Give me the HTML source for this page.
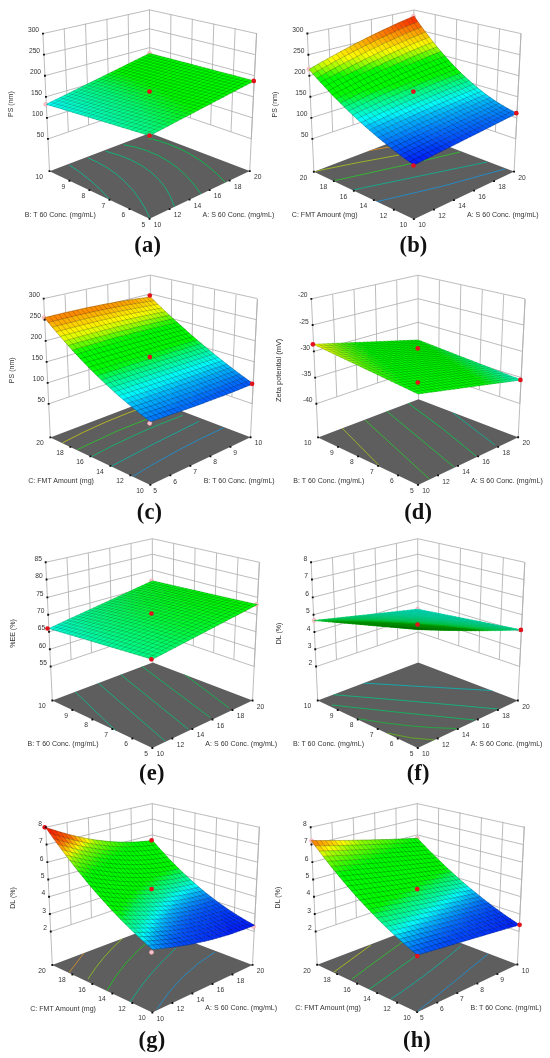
<!DOCTYPE html>
<html><head><meta charset="utf-8"><title>Figure</title>
<style>html,body{margin:0;padding:0;background:#fff}svg{display:block}</style></head>
<body><svg width="550" height="1058" viewBox="0 0 550 1058" font-family="'Liberation Sans',sans-serif">
<rect width="550" height="1058" fill="#fff"/>
<g id="pa"><path d="M42.9 33.6L149.5 9.9M149.5 9.9L256.6 33.6M43.9 54.7L149.6 28.8M149.6 28.8L255.5 54.7M44.9 75.7L149.7 47.6M149.7 47.6L254.5 75.7M45.9 96.8L149.7 66.5M149.7 66.5L253.4 96.8M47 117.9L149.8 85.3M149.8 85.3L252.4 117.8M48 138.9L149.9 104.1M149.9 104.1L251.3 138.8M251.3 138.8L256.6 33M68.3 131.9L64.2 28.3M231 131.8L235.2 28.3M88.7 125L85.5 23.6M210.7 124.9L213.8 23.6M109.1 118L106.9 18.8M190.5 118L192.3 18.8M129.5 111.1L128.2 14.1M170.2 111.1L170.9 14.1M149.9 104.1L149.5 9.4M49.5 171.2L42.9 33M249.7 171.1L256.6 33M150 133.1L149.9 104.1" fill="none" stroke="#b0b0b0" stroke-width="0.85"/>
<clipPath id="cfa"><polygon points="49.5,171.2 149.5,218.7 249.7,171.1 150,133.1"/></clipPath>
<polygon points="49.5,171.2 149.5,218.7 249.7,171.1 150,133.1" fill="#5e5e5e"/>
<g clip-path="url(#cfa)" fill="none" stroke-width="0.95" stroke-opacity="0.92"><path d="M69.2 165Q92.3 179.3 109.8 199.7" stroke="#10b896"/><path d="M87.8 157.8Q131.6 175.8 150 218.4" stroke="#10b88a"/><path d="M105.8 151.3Q161.4 165 174.6 207" stroke="#0aba78"/><path d="M123.8 144.7Q173.7 152.8 200.8 193.8" stroke="#05be64"/><path d="M148.4 138.2Q194.3 148.3 225.3 182.4" stroke="#00c34b"/></g>
<circle cx="45.8" cy="104.3" r="2.1" fill="#f7c3c8" stroke="#f0a0aa" stroke-width="0.5"/>
<circle cx="149.5" cy="53.4" r="2.1" fill="#f7c3c8" stroke="#f0a0aa" stroke-width="0.5"/>
<path d="M149.7 56.2l3.7-1.8-3.7-1-3.7 1.8zM153.4 57.2l3.7-1.8-3.7-1-3.7 1.8zM145.9 58.1l3.8-1.9-3.7-1-3.8 1.9zM157.2 58.2l3.7-1.8-3.8-1-3.7 1.8zM149.7 59.1l3.7-1.9-3.7-1-3.8 1.9zM142.1 60l3.8-1.9-3.7-1-3.8 1.8zM161 59.3l3.8-1.9-3.9-1-3.7 1.8zM153.5 60.1l3.7-1.9-3.8-1-3.7 1.9zM145.9 61l3.8-1.9-3.8-1-3.8 1.9zM138.3 61.9l3.8-1.9-3.7-1.1-3.8 1.9zM164.9 60.3l3.7-1.9-3.8-1-3.8 1.9zM157.3 61.2l3.7-1.9-3.8-1.1-3.7 1.9zM149.7 62l3.8-1.9-3.8-1-3.8 1.9zM142.1 62.9l3.8-1.9-3.8-1-3.8 1.9zM134.5 63.8l3.8-1.9-3.7-1.1-3.8 1.9zM168.8 61.3l3.7-1.9-3.9-1-3.7 1.9zM161.1 62.2l3.8-1.9-3.9-1-3.7 1.9zM153.5 63.1l3.8-1.9-3.8-1.1-3.8 1.9zM145.9 63.9l3.8-1.9-3.8-1-3.8 1.9zM138.2 64.8l3.9-1.9-3.8-1-3.8 1.9zM130.6 65.7l3.9-1.9-3.7-1.1-3.9 1.9zM172.7 62.4l3.8-2-4-1-3.7 1.9zM165 63.2l3.8-1.9-3.9-1-3.8 1.9zM157.4 64.1l3.7-1.9-3.8-1-3.8 1.9zM149.7 65l3.8-1.9-3.8-1.1-3.8 1.9zM142 65.9l3.9-2-3.8-1-3.9 1.9zM134.3 66.7l3.9-1.9-3.7-1-3.9 1.9zM126.7 67.6l3.9-1.9-3.7-1.1-3.9 2zM176.7 63.4l3.7-1.9-3.9-1.1-3.8 2zM169 64.3l3.7-1.9-3.9-1.1-3.8 1.9zM161.2 65.2l3.8-2-3.9-1-3.7 1.9zM153.5 66.1l3.9-2-3.9-1-3.8 1.9zM145.8 66.9l3.9-1.9-3.8-1.1-3.9 2zM138.1 67.8l3.9-1.9-3.8-1.1-3.9 1.9zM130.4 68.7l3.9-2-3.7-1-3.9 1.9zM122.7 69.6l4-2-3.7-1-4 1.9zM180.7 64.5l3.7-2-4-1-3.7 1.9zM172.9 65.4l3.8-2-4-1-3.7 1.9zM165.2 66.2l3.8-1.9-4-1.1-3.8 2zM157.4 67.1l3.8-1.9-3.8-1.1-3.9 2zM149.7 68l3.8-1.9-3.8-1.1-3.9 1.9zM141.9 68.9l3.9-2-3.8-1-3.9 1.9zM134.2 69.8l3.9-2-3.8-1.1-3.9 2zM126.5 70.7l3.9-2-3.7-1.1-4 2zM118.7 71.5l4-1.9-3.7-1.1-4 2zM184.8 65.6l3.7-2-4.1-1.1-3.7 2zM176.9 66.4l3.8-1.9-4-1.1-3.8 2zM169.1 67.3l3.8-1.9-3.9-1.1-3.8 1.9zM161.4 68.2l3.8-2-4-1-3.8 1.9zM153.6 69.1l3.8-2-3.9-1-3.8 1.9zM145.8 70l3.9-2-3.9-1.1-3.9 2zM138 70.9l3.9-2-3.8-1.1-3.9 2zM130.2 71.7l4-1.9-3.8-1.1-3.9 2zM122.5 72.6l4-1.9-3.8-1.1-4 1.9zM188.8 66.6l3.8-1.9-4.1-1.1-3.7 2zM181 67.5l3.8-1.9-4.1-1.1-3.8 1.9zM173.2 68.4l3.7-2-4-1-3.8 1.9zM165.3 69.3l3.8-2-3.9-1.1-3.8 2zM157.5 70.2l3.9-2-4-1.1-3.8 2zM149.7 71l3.9-1.9-3.9-1.1-3.9 2zM141.9 71.9l3.9-1.9-3.9-1.1-3.9 2zM134 72.8l4-1.9-3.8-1.1-4 1.9zM126.2 73.7l4-2-3.7-1-4 1.9zM118.5 74.6l4-2-3.8-1.1-4 2zM193 67.7l3.7-1.9-4.1-1.1-3.8 1.9zM185.1 68.6l3.7-2-4-1-3.8 1.9zM177.2 69.5l3.8-2-4.1-1.1-3.7 2zM169.3 70.4l3.9-2-4.1-1.1-3.8 2zM161.5 71.2l3.8-1.9-3.9-1.1-3.9 2zM153.6 72.1l3.9-1.9-3.9-1.1-3.9 1.9zM145.7 73l4-2-3.9-1-3.9 1.9zM137.9 73.9l4-2-3.9-1-4 1.9zM130.1 74.8l3.9-2-3.8-1.1-4 2zM122.2 75.7l4-2-3.7-1.1-4 2zM197.1 68.8l3.8-1.9-4.2-1.1-3.7 1.9zM189.2 69.7l3.8-2-4.2-1.1-3.7 2zM181.3 70.6l3.8-2-4.1-1.1-3.8 2zM173.4 71.5l3.8-2-4-1.1-3.9 2zM165.5 72.3l3.8-1.9-4-1.1-3.8 1.9zM157.6 73.2l3.9-2-4-1-3.9 1.9zM149.7 74.1l3.9-2-3.9-1.1-4 2zM141.8 75l3.9-2-3.8-1.1-4 2zM133.9 75.9l4-2-3.9-1.1-3.9 2zM126 76.8l4.1-2-3.9-1.1-4 2zM201.3 69.9l3.8-1.9-4.2-1.1-3.8 1.9zM193.4 70.8l3.7-2-4.1-1.1-3.8 2zM185.4 71.7l3.8-2-4.1-1.1-3.8 2zM177.5 72.6l3.8-2-4.1-1.1-3.8 2zM169.5 73.4l3.9-1.9-4.1-1.1-3.8 1.9zM161.6 74.3l3.9-2-4-1.1-3.9 2zM153.6 75.2l4-2-4-1.1-3.9 2zM145.7 76.1l4-2-4-1.1-3.9 2zM137.8 77l4-2-3.9-1.1-4 2zM129.9 77.9l4-2-3.8-1.1-4.1 2zM205.6 71.1l3.7-2-4.2-1.1-3.8 1.9zM197.6 71.9l3.7-2-4.2-1.1-3.7 2zM189.6 72.8l3.8-2-4.2-1.1-3.8 2zM181.6 73.7l3.8-2-4.1-1.1-3.8 2zM173.6 74.5l3.9-1.9-4.1-1.1-3.9 1.9zM165.6 75.4l3.9-2-4-1.1-3.9 2zM157.6 76.3l4-2-4-1.1-4 2zM149.7 77.2l3.9-2-3.9-1.1-4 2zM141.7 78.1l4-2-3.9-1.1-4 2zM133.8 79.1l4-2.1-3.9-1.1-4 2zM209.9 72.2l3.7-2-4.3-1.1-3.7 2zM201.8 73l3.8-1.9-4.3-1.2-3.7 2zM193.8 73.9l3.8-2-4.2-1.1-3.8 2zM185.8 74.8l3.8-2-4.2-1.1-3.8 2zM177.7 75.7l3.9-2-4.1-1.1-3.9 1.9zM169.7 76.6l3.9-2.1-4.1-1.1-3.9 2zM161.7 77.5l3.9-2.1-4-1.1-4 2zM153.7 78.4l3.9-2.1-4-1.1-3.9 2zM145.7 79.3l4-2.1-4-1.1-4 2zM137.7 80.2l4-2.1-3.9-1.1-4 2.1zM214.2 73.3l3.7-1.9-4.3-1.2-3.7 2zM206.1 74.2l3.8-2-4.3-1.1-3.8 1.9zM198 75l3.8-2-4.2-1.1-3.8 2zM190 75.9l3.8-2-4.2-1.1-3.8 2zM181.9 76.8l3.9-2-4.2-1.1-3.9 2zM173.8 77.7l3.9-2-4.1-1.2-3.9 2.1zM165.8 78.6l3.9-2-4.1-1.2-3.9 2.1zM157.7 79.5l4-2-4.1-1.2-3.9 2.1zM149.7 80.4l4-2-4-1.2-4 2.1zM141.6 81.3l4.1-2-4-1.2-4 2.1zM218.6 74.5l3.7-2-4.4-1.1-3.7 1.9zM210.5 75.3l3.7-2-4.3-1.1-3.8 2zM202.3 76.2l3.8-2-4.3-1.2-3.8 2zM194.2 77l3.8-2-4.2-1.1-3.8 2zM186.1 77.9l3.9-2-4.2-1.1-3.9 2zM178 78.8l3.9-2-4.2-1.1-3.9 2zM169.9 79.7l3.9-2-4.1-1.1-3.9 2zM161.8 80.6l4-2-4.1-1.1-4 2zM153.7 81.5l4-2-4-1.1-4 2zM145.6 82.4l4.1-2-4-1.1-4.1 2zM223 75.6l3.7-1.9-4.4-1.2-3.7 2zM214.8 76.5l3.8-2-4.4-1.2-3.7 2zM206.7 77.3l3.8-2-4.4-1.1-3.8 2zM198.5 78.2l3.8-2-4.3-1.2-3.8 2zM190.3 79l3.9-2-4.2-1.1-3.9 2zM182.2 79.9l3.9-2-4.2-1.1-3.9 2zM174.1 80.8l3.9-2-4.2-1.1-3.9 2zM165.9 81.7l4-2-4.1-1.1-4 2zM157.8 82.6l4-2-4.1-1.1-4 2zM149.7 83.5l4-2-4-1.1-4.1 2zM227.5 76.8l3.7-2-4.5-1.1-3.7 1.9zM219.3 77.6l3.7-2-4.4-1.1-3.8 2zM211 78.5l3.8-2-4.3-1.2-3.8 2zM202.8 79.3l3.9-2-4.4-1.1-3.8 2zM194.6 80.2l3.9-2-4.3-1.2-3.9 2zM186.4 81.1l3.9-2.1-4.2-1.1-3.9 2zM178.3 82l3.9-2.1-4.2-1.1-3.9 2zM170.1 82.9l4-2.1-4.2-1.1-4 2zM161.9 83.8l4-2.1-4.1-1.1-4 2zM153.8 84.7l4-2.1-4.1-1.1-4 2zM145.6 85.6l4.1-2.1-4.1-1.1-4 2.1zM232 78l3.7-2-4.5-1.2-3.7 2zM223.7 78.8l3.8-2-4.5-1.2-3.7 2zM215.5 79.6l3.8-2-4.5-1.1-3.8 2zM207.2 80.5l3.8-2-4.3-1.2-3.9 2zM199 81.3l3.8-2-4.3-1.1-3.9 2zM190.7 82.2l3.9-2-4.3-1.2-3.9 2.1zM182.5 83.1l3.9-2-4.2-1.2-3.9 2.1zM174.3 84l4-2-4.2-1.2-4 2.1zM166.1 84.9l4-2-4.2-1.2-4 2.1zM157.9 85.8l4-2-4.1-1.2-4 2.1zM149.7 86.7l4.1-2-4.1-1.2-4.1 2.1zM236.5 79.2l3.7-2-4.5-1.2-3.7 2zM228.2 80l3.8-2-4.5-1.2-3.8 2zM219.9 80.8l3.8-2-4.4-1.2-3.8 2zM211.6 81.6l3.9-2-4.5-1.1-3.8 2zM203.4 82.5l3.8-2-4.4-1.2-3.8 2zM195.1 83.4l3.9-2.1-4.4-1.1-3.9 2zM186.8 84.2l3.9-2-4.3-1.1-3.9 2zM178.5 85.1l4-2-4.2-1.1-4 2zM170.3 86.1l4-2.1-4.2-1.1-4 2zM162 87l4.1-2.1-4.2-1.1-4 2zM153.8 87.9l4.1-2.1-4.1-1.1-4.1 2zM241.1 80.4l3.7-2-4.6-1.2-3.7 2zM232.8 81.2l3.7-2-4.5-1.2-3.8 2zM224.4 82l3.8-2-4.5-1.2-3.8 2zM216.1 82.8l3.8-2-4.4-1.2-3.9 2zM207.8 83.6l3.8-2-4.4-1.1-3.8 2zM199.5 84.5l3.9-2-4.4-1.2-3.9 2.1zM191.1 85.4l4-2-4.4-1.2-3.9 2zM182.8 86.3l4-2.1-4.3-1.1-4 2zM174.5 87.2l4-2.1-4.2-1.1-4 2.1zM166.2 88.1l4.1-2-4.2-1.2-4.1 2.1zM158 89l4-2-4.1-1.2-4.1 2.1zM245.8 81.6l3.7-1.9-4.7-1.3-3.7 2zM237.4 82.4l3.7-2-4.6-1.2-3.7 2zM229 83.1l3.8-1.9-4.6-1.2-3.8 2zM220.6 84l3.8-2-4.5-1.2-3.8 2zM212.3 84.8l3.8-2-4.5-1.2-3.8 2zM203.9 85.7l3.9-2.1-4.4-1.1-3.9 2zM195.5 86.6l4-2.1-4.4-1.1-4 2zM187.2 87.5l3.9-2.1-4.3-1.2-4 2.1zM178.8 88.4l4-2.1-4.3-1.2-4 2.1zM170.5 89.3l4-2.1-4.2-1.1-4.1 2zM162.2 90.2l4-2.1-4.2-1.1-4 2zM250.5 82.8l3.7-1.9-4.7-1.2-3.7 1.9zM242 83.6l3.8-2-4.7-1.2-3.7 2zM233.6 84.3l3.8-1.9-4.6-1.2-3.8 1.9zM225.2 85.1l3.8-2-4.6-1.1-3.8 2zM216.8 86l3.8-2-4.5-1.2-3.8 2zM208.4 86.8l3.9-2-4.5-1.2-3.9 2.1zM200 87.7l3.9-2-4.4-1.2-4 2.1zM191.6 88.6l3.9-2-4.4-1.2-3.9 2.1zM183.2 89.5l4-2-4.4-1.2-4 2.1zM174.8 90.4l4-2-4.3-1.2-4 2.1zM166.4 91.4l4.1-2.1-4.3-1.2-4 2.1zM246.8 84.8l3.7-2-4.7-1.2-3.8 2zM238.3 85.5l3.7-1.9-4.6-1.2-3.8 1.9zM229.8 86.3l3.8-2-4.6-1.2-3.8 2zM221.3 87.2l3.9-2.1-4.6-1.1-3.8 2zM212.9 88l3.9-2-4.5-1.2-3.9 2zM204.4 88.9l4-2.1-4.5-1.1-3.9 2zM196 89.8l4-2.1-4.5-1.1-3.9 2zM187.6 90.7l4-2.1-4.4-1.1-4 2zM179.1 91.6l4.1-2.1-4.4-1.1-4 2zM170.7 92.5l4.1-2.1-4.3-1.1-4.1 2.1zM162.3 93.5l4.1-2.1-4.2-1.2-4.2 2.1zM243 86.8l3.8-2-4.8-1.2-3.7 1.9zM234.5 87.5l3.8-2-4.7-1.2-3.8 2zM226 88.4l3.8-2.1-4.6-1.2-3.9 2.1zM217.5 89.2l3.8-2-4.5-1.2-3.9 2zM209 90.1l3.9-2.1-4.5-1.2-4 2.1zM200.5 91l3.9-2.1-4.4-1.2-4 2.1zM192 91.9l4-2.1-4.4-1.2-4 2.1zM183.5 92.8l4.1-2.1-4.4-1.2-4.1 2.1zM175 93.7l4.1-2.1-4.3-1.2-4.1 2.1zM166.6 94.6l4.1-2.1-4.3-1.1-4.1 2.1zM239.2 88.7l3.8-1.9-4.7-1.3-3.8 2zM230.6 89.6l3.9-2.1-4.7-1.2-3.8 2.1zM222.1 90.4l3.9-2-4.7-1.2-3.8 2zM213.5 91.2l4-2-4.6-1.2-3.9 2.1zM205 92.1l4-2-4.6-1.2-3.9 2.1zM196.5 93l4-2-4.5-1.2-4 2.1zM187.9 93.9l4.1-2-4.4-1.2-4.1 2.1zM179.4 94.9l4.1-2.1-4.4-1.2-4.1 2.1zM170.9 95.8l4.1-2.1-4.3-1.2-4.1 2.1zM235.3 90.8l3.9-2.1-4.7-1.2-3.9 2.1zM226.7 91.6l3.9-2-4.6-1.2-3.9 2zM218.2 92.4l3.9-2-4.6-1.2-4 2zM209.6 93.3l3.9-2.1-4.5-1.1-4 2zM201 94.2l4-2.1-4.5-1.1-4 2zM192.4 95.1l4.1-2.1-4.5-1.1-4.1 2zM183.9 96.1l4-2.2-4.4-1.1-4.1 2.1zM175.3 97l4.1-2.1-4.4-1.2-4.1 2.1zM231.5 92.8l3.8-2-4.7-1.2-3.9 2zM222.8 93.6l3.9-2-4.6-1.2-3.9 2zM214.2 94.5l4-2.1-4.7-1.2-3.9 2.1zM205.6 95.4l4-2.1-4.6-1.2-4 2.1zM196.9 96.3l4.1-2.1-4.5-1.2-4.1 2.1zM188.3 97.2l4.1-2.1-4.5-1.2-4 2.2zM179.7 98.2l4.2-2.1-4.5-1.2-4.1 2.1zM171.1 99.1l4.2-2.1-4.4-1.2-4.2 2.1zM227.5 94.8l4-2-4.8-1.2-3.9 2zM218.9 95.7l3.9-2.1-4.6-1.2-4 2.1zM210.2 96.6l4-2.1-4.6-1.2-4 2.1zM201.5 97.5l4.1-2.1-4.6-1.2-4.1 2.1zM192.9 98.4l4-2.1-4.5-1.2-4.1 2.1zM184.2 99.4l4.1-2.2-4.4-1.1-4.2 2.1zM175.6 100.3l4.1-2.1-4.4-1.2-4.2 2.1zM223.6 96.9l3.9-2.1-4.7-1.2-3.9 2.1zM214.9 97.8l4-2.1-4.7-1.2-4 2.1zM206.1 98.7l4.1-2.1-4.6-1.2-4.1 2.1zM197.4 99.6l4.1-2.1-4.6-1.2-4 2.1zM188.7 100.6l4.2-2.2-4.6-1.2-4.1 2.2zM180 101.5l4.2-2.1-4.5-1.2-4.1 2.1zM219.6 99l4-2.1-4.7-1.2-4 2.1zM210.8 99.9l4.1-2.1-4.7-1.2-4.1 2.1zM202.1 100.8l4-2.1-4.6-1.2-4.1 2.1zM193.3 101.8l4.1-2.2-4.5-1.2-4.2 2.2zM184.6 102.7l4.1-2.1-4.5-1.2-4.2 2.1zM215.5 101.1l4.1-2.1-4.7-1.2-4.1 2.1zM206.7 102l4.1-2.1-4.7-1.2-4 2.1zM197.9 103l4.2-2.2-4.7-1.2-4.1 2.2zM189.1 103.9l4.2-2.1-4.6-1.2-4.1 2.1zM180.4 104.9l4.2-2.2-4.6-1.2-4.2 2.2zM211.5 103.3l4-2.2-4.7-1.2-4.1 2.1zM202.6 104.2l4.1-2.2-4.6-1.2-4.2 2.2zM193.8 105.1l4.1-2.1-4.6-1.2-4.2 2.1zM184.9 106.1l4.2-2.2-4.5-1.2-4.2 2.2zM207.3 105.4l4.2-2.1-4.8-1.3-4.1 2.2zM198.5 106.4l4.1-2.2-4.7-1.2-4.1 2.1zM189.6 107.3l4.2-2.2-4.7-1.2-4.2 2.2zM203.2 107.6l4.1-2.2-4.7-1.2-4.1 2.2zM194.2 108.6l4.3-2.2-4.7-1.3-4.2 2.2zM199 109.8l4.2-2.2-4.7-1.2-4.3 2.2zM190 110.8l4.2-2.2-4.6-1.3-4.3 2.2zM194.7 112l4.3-2.2-4.8-1.2-4.2 2.2z" fill="#00fc00" stroke="#00fc00" stroke-width="0.4"/>
<path d="M114.7 73.5l4-2-3.7-1-4 1.9zM137.6 83.3l4-2-3.9-1.1-4.1 2zM141.6 84.5l4-2.1-4-1.1-4 2zM158 92.3l4.2-2.1-4.2-1.2-4.2 2.1zM166.7 97.9l4.2-2.1-4.3-1.2-4.2 2.1zM175.8 103.7l4.2-2.2-4.4-1.2-4.2 2.2zM185.3 109.5l4.3-2.2-4.7-1.2-4.2 2.2zM190.4 114.3l4.3-2.3-4.7-1.2-4.3 2.2z" fill="#00fc06" stroke="#00fc06" stroke-width="0.4"/>
<path d="M110.7 75.5l4-2-3.7-1.1-4 2zM114.4 76.6l4.1-2-3.8-1.1-4 2zM118.2 77.7l4-2-3.7-1.1-4.1 2zM133.4 85.4l4.2-2.1-4-1.1-4.1 2.1zM137.4 86.5l4.2-2-4-1.2-4.2 2.1zM149.7 93.2l4.1-2.1-4.1-1.1-4.2 2.1zM153.9 94.4l4.1-2.1-4.2-1.2-4.1 2.1zM162.5 100.1l4.2-2.2-4.3-1.2-4.2 2.2zM171.6 105.8l4.2-2.1-4.4-1.2-4.3 2.1zM176.4 110.5l4.3-2.2-4.6-1.2-4.3 2.2zM186.1 116.5l4.3-2.2-4.7-1.3-4.3 2.3z" fill="#00fc18" stroke="#00fc18" stroke-width="0.4"/>
<path d="M106.6 77.5l4.1-2-3.7-1.1-4.1 2zM125.3 86.3l4.2-2-3.9-1.2-4.2 2.1zM129.3 87.5l4.1-2.1-3.9-1.1-4.2 2zM141.3 94.2l4.2-2.1-4.1-1.2-4.2 2.1zM154 101l4.2-2.1-4.3-1.2-4.2 2.1zM158.4 105.6l4.3-2.2-4.4-1.2-4.3 2.2zM162.8 106.8l4.3-2.2-4.4-1.2-4.3 2.2zM167.5 111.5l4.3-2.2-4.5-1.3-4.3 2.3zM172.3 116.3l4.4-2.3-4.6-1.3-4.4 2.3zM177.3 121.1l4.4-2.3-4.7-1.3-4.5 2.3z" fill="#00fc30" stroke="#00fc30" stroke-width="0.4"/>
<path d="M110.3 78.7l4.1-2.1-3.7-1.1-4.1 2zM114.1 79.8l4.1-2.1-3.8-1.1-4.1 2.1zM133.3 88.6l4.1-2.1-4-1.1-4.1 2.1zM145.5 95.3l4.2-2.1-4.2-1.1-4.2 2.1zM158.3 102.2l4.2-2.1-4.3-1.2-4.2 2.1zM172.1 112.7l4.3-2.2-4.6-1.2-4.3 2.2zM177 117.5l4.4-2.2-4.7-1.3-4.4 2.3z" fill="#00fc2a" stroke="#00fc2a" stroke-width="0.4"/>
<path d="M102.4 79.6l4.2-2.1-3.7-1.1-4.1 2.1zM106.2 80.7l4.1-2-3.7-1.2-4.2 2.1zM125.1 89.6l4.2-2.1-4-1.2-4.1 2.1zM137.1 96.3l4.2-2.1-4.1-1.2-4.2 2.1zM145.4 102l4.3-2.2-4.3-1.2-4.3 2.2zM154 107.8l4.4-2.2-4.4-1.2-4.3 2.2zM163.1 113.7l4.4-2.2-4.5-1.2-4.4 2.2zM167.9 118.6l4.4-2.3-4.6-1.3-4.5 2.3zM172.8 123.5l4.5-2.4-4.8-1.3-4.4 2.4z" fill="#00fc42" stroke="#00fc42" stroke-width="0.4"/>
<path d="M122 78.9l4-2.1-3.8-1.1-4 2zM125.8 80l4.1-2.1-3.9-1.1-4 2.1zM141.5 87.7l4.1-2.1-4-1.1-4.2 2zM145.6 88.8l4.1-2.1-4.1-1.1-4.1 2.1zM158.1 95.6l4.2-2.1-4.3-1.2-4.1 2.1zM166.9 101.3l4.2-2.2-4.4-1.2-4.2 2.2zM176.1 107.1l4.3-2.2-4.6-1.2-4.2 2.1zM181 111.8l4.3-2.3-4.6-1.2-4.3 2.2z" fill="#00fc12" stroke="#00fc12" stroke-width="0.4"/>
<path d="M98.3 81.6l4.1-2-3.6-1.1-4.2 2zM102 82.8l4.2-2.1-3.8-1.1-4.1 2zM105.8 83.9l4.1-2.1-3.7-1.1-4.2 2.1zM120.9 91.6l4.2-2-3.9-1.2-4.3 2.1zM132.8 98.4l4.3-2.1-4.1-1.2-4.3 2.2zM141.1 104.2l4.3-2.2-4.3-1.2-4.3 2.2zM149.7 110l4.3-2.2-4.3-1.2-4.4 2.2zM154.1 114.7l4.5-2.2-4.5-1.3-4.4 2.3zM158.8 119.6l4.4-2.3-4.5-1.3-4.5 2.3zM163.5 124.5l4.6-2.3-4.7-1.3-4.5 2.3z" fill="#00fc54" stroke="#00fc54" stroke-width="0.4"/>
<path d="M117.9 80.9l4.1-2-3.8-1.2-4.1 2.1zM121.7 82l4.1-2-3.8-1.1-4.1 2zM125.6 83.1l4.1-2-3.9-1.1-4.1 2zM137.3 89.8l4.2-2.1-4.1-1.2-4.1 2.1zM141.4 90.9l4.2-2.1-4.1-1.1-4.2 2.1zM149.7 96.5l4.2-2.1-4.2-1.2-4.2 2.1zM153.9 97.7l4.2-2.1-4.2-1.2-4.2 2.1zM162.7 103.4l4.2-2.1-4.4-1.2-4.2 2.1zM167.3 108l4.3-2.2-4.5-1.2-4.3 2.2zM171.8 109.3l4.3-2.2-4.5-1.3-4.3 2.2zM176.7 114l4.3-2.2-4.6-1.3-4.3 2.2zM181.7 118.8l4.4-2.3-4.7-1.2-4.4 2.2z" fill="#00fc24" stroke="#00fc24" stroke-width="0.4"/>
<path d="M109.9 81.8l4.2-2-3.8-1.1-4.1 2zM113.7 82.9l4.2-2-3.8-1.1-4.2 2zM129.1 90.7l4.2-2.1-4-1.1-4.2 2.1zM133.1 91.9l4.2-2.1-4-1.2-4.2 2.1zM141.2 97.5l4.3-2.2-4.2-1.1-4.2 2.1zM145.4 98.6l4.3-2.1-4.2-1.2-4.3 2.2zM149.7 103.2l4.3-2.2-4.3-1.2-4.3 2.2zM154 104.4l4.3-2.2-4.3-1.2-4.3 2.2zM158.5 109l4.3-2.2-4.4-1.2-4.4 2.2zM167.7 115l4.4-2.3-4.6-1.2-4.4 2.2zM172.5 119.8l4.5-2.3-4.7-1.2-4.4 2.3z" fill="#00fc3c" stroke="#00fc3c" stroke-width="0.4"/>
<path d="M94.1 83.7l4.2-2.1-3.7-1.1-4.2 2.1zM97.8 84.8l4.2-2-3.7-1.2-4.2 2.1zM108.8 91.5l4.2-2.1-3.8-1.2-4.3 2.1zM112.7 92.6l4.2-2.1-3.9-1.1-4.2 2.1zM120.3 98.2l4.3-2.1-4-1.2-4.3 2.1zM124.4 99.4l4.3-2.1-4.1-1.2-4.3 2.1zM132.5 105.1l4.3-2.1-4.2-1.2-4.3 2.1zM140.9 111l4.4-2.2-4.3-1.3-4.5 2.3zM145.2 115.7l4.5-2.2-4.5-1.3-4.4 2.3zM149.7 120.6l4.5-2.3-4.5-1.3-4.5 2.3zM154.3 125.6l4.6-2.4-4.7-1.3-4.5 2.3zM159.1 130.7l4.6-2.4-4.7-1.4-4.7 2.4z" fill="#00fc6c" stroke="#00fc6c" stroke-width="0.4"/>
<path d="M129.7 81.1l4.1-2-3.9-1.2-4.1 2.1zM133.6 82.2l4.1-2-3.9-1.1-4.1 2zM149.7 90l4.1-2.1-4.1-1.2-4.1 2.1zM153.8 91.1l4.2-2.1-4.2-1.1-4.1 2.1zM162.4 96.7l4.2-2.1-4.3-1.1-4.2 2.1zM171.4 102.5l4.2-2.2-4.5-1.2-4.2 2.2zM180.7 108.3l4.2-2.2-4.5-1.2-4.3 2.2zM185.7 113l4.3-2.2-4.7-1.3-4.3 2.3z" fill="#00fc0c" stroke="#00fc0c" stroke-width="0.4"/>
<path d="M89.8 85.8l4.3-2.1-3.7-1.1-4.2 2.1zM93.6 86.9l4.2-2.1-3.7-1.1-4.3 2.1zM97.3 88l4.3-2.1-3.8-1.1-4.2 2.1zM104.5 93.6l4.3-2.1-3.9-1.2-4.3 2.1zM108.4 94.7l4.3-2.1-3.9-1.1-4.3 2.1zM112.3 95.9l4.3-2.1-3.9-1.2-4.3 2.1zM116 100.4l4.3-2.2-4-1.2-4.4 2.2zM120 101.5l4.4-2.1-4.1-1.2-4.3 2.2zM123.9 106.1l4.4-2.2-4.2-1.2-4.4 2.2zM128 107.3l4.5-2.2-4.2-1.2-4.4 2.2zM132.1 112l4.4-2.2-4.2-1.3-4.5 2.2zM136.4 113.2l4.5-2.2-4.4-1.2-4.4 2.2zM136.3 116.7l4.5-2.2-4.4-1.3-4.5 2.3zM140.7 118l4.5-2.3-4.4-1.2-4.5 2.2zM145.1 122.9l4.6-2.3-4.5-1.3-4.6 2.3zM149.7 127.9l4.6-2.3-4.6-1.4-4.6 2.4zM154.4 133.1l4.7-2.4-4.8-1.4-4.6 2.4z" fill="#00fc78" stroke="#00fc78" stroke-width="0.4"/>
<path d="M117.6 84.1l4.1-2.1-3.8-1.1-4.2 2zM121.4 85.2l4.2-2.1-3.9-1.1-4.1 2.1zM137.2 93l4.2-2.1-4.1-1.1-4.2 2.1zM149.7 99.8l4.2-2.1-4.2-1.2-4.3 2.1zM163 110.3l4.3-2.3-4.5-1.2-4.3 2.2z" fill="#00fc36" stroke="#00fc36" stroke-width="0.4"/>
<path d="M109.6 85l4.1-2.1-3.8-1.1-4.1 2.1zM113.4 86.1l4.2-2-3.9-1.2-4.1 2.1zM124.9 92.8l4.2-2.1-4-1.1-4.2 2zM136.9 99.6l4.3-2.1-4.1-1.2-4.3 2.1zM145.3 105.4l4.4-2.2-4.3-1.2-4.3 2.2zM154.1 111.2l4.4-2.2-4.5-1.2-4.3 2.2zM158.7 116l4.4-2.3-4.5-1.2-4.5 2.2zM163.4 120.9l4.5-2.3-4.7-1.3-4.4 2.3zM168.3 125.9l4.5-2.4-4.7-1.3-4.6 2.3z" fill="#00fc4e" stroke="#00fc4e" stroke-width="0.4"/>
<path d="M101.6 85.9l4.2-2-3.8-1.1-4.2 2zM116.6 93.8l4.3-2.2-4-1.1-4.2 2.1zM128.5 100.6l4.3-2.2-4.1-1.1-4.3 2.1zM136.7 106.3l4.4-2.1-4.3-1.2-4.3 2.1zM149.7 117l4.4-2.3-4.4-1.2-4.5 2.2zM154.2 121.9l4.6-2.3-4.6-1.3-4.5 2.3zM159 126.9l4.5-2.4-4.6-1.3-4.6 2.4z" fill="#00fc66" stroke="#00fc66" stroke-width="0.4"/>
<path d="M85.6 87.9l4.2-2.1-3.6-1.1-4.3 2.1zM89.3 89l4.3-2.1-3.8-1.1-4.2 2.1zM93 90.1l4.3-2.1-3.7-1.1-4.3 2.1zM100.1 95.7l4.4-2.1-3.9-1.2-4.3 2.2zM104 96.9l4.4-2.2-3.9-1.1-4.4 2.1zM108 98l4.3-2.1-3.9-1.2-4.4 2.2zM111.6 102.5l4.4-2.1-4.1-1.2-4.4 2.1zM115.6 103.7l4.4-2.2-4-1.1-4.4 2.1zM119.4 108.3l4.5-2.2-4.2-1.2-4.4 2.2zM123.6 109.5l4.4-2.2-4.1-1.2-4.5 2.2zM127.6 114.2l4.5-2.2-4.3-1.3-4.5 2.3zM131.7 119l4.6-2.3-4.4-1.2-4.6 2.2zM136 123.9l4.6-2.3-4.5-1.3-4.6 2.3zM140.5 125.2l4.6-2.3-4.5-1.3-4.6 2.3zM140.4 129l4.7-2.4-4.6-1.4-4.7 2.4zM145 130.3l4.7-2.4-4.6-1.3-4.7 2.4zM144.9 134.2l4.8-2.5-4.7-1.4-4.7 2.5z" fill="#00fc84" stroke="#00fc84" stroke-width="0.4"/>
<path d="M129.5 84.3l4.1-2.1-3.9-1.1-4.1 2zM145.5 92.1l4.2-2.1-4.1-1.2-4.2 2.1zM158.2 98.9l4.2-2.2-4.3-1.1-4.2 2.1zM167.1 104.6l4.3-2.1-4.5-1.2-4.2 2.1zM181.4 115.3l4.3-2.3-4.7-1.2-4.3 2.2z" fill="#00fc1e" stroke="#00fc1e" stroke-width="0.4"/>
<path d="M105.3 87.1l4.3-2.1-3.8-1.1-4.2 2zM109.2 88.2l4.2-2.1-3.8-1.1-4.3 2.1zM120.6 94.9l4.3-2.1-4-1.2-4.3 2.2zM124.6 96.1l4.3-2.1-4-1.2-4.3 2.1zM132.6 101.8l4.3-2.2-4.1-1.2-4.3 2.2zM141 107.5l4.3-2.1-4.2-1.2-4.4 2.1zM145.2 112.2l4.5-2.2-4.4-1.2-4.4 2.2zM154.2 118.3l4.5-2.3-4.6-1.3-4.4 2.3zM158.9 123.2l4.5-2.3-4.6-1.3-4.6 2.3zM163.7 128.3l4.6-2.4-4.8-1.4-4.5 2.4z" fill="#00fc60" stroke="#00fc60" stroke-width="0.4"/>
<path d="M81.3 90l4.3-2.1-3.7-1.1-4.3 2.1zM91.9 96.7l4.4-2.1-3.8-1.2-4.4 2.2zM99.1 102.3l4.5-2.1-4-1.2-4.4 2.2zM103.1 103.5l4.4-2.2-3.9-1.1-4.5 2.1zM106.7 108.1l4.5-2.2-4.1-1.2-4.5 2.2zM110.8 109.3l4.5-2.2-4.1-1.2-4.5 2.2zM114.5 114l4.6-2.3-4.2-1.2-4.5 2.2zM118.4 118.7l4.6-2.2-4.2-1.3-4.6 2.3zM122.4 123.6l4.7-2.3-4.4-1.3-4.6 2.3zM126.6 128.6l4.7-2.3-4.4-1.4-4.8 2.4z" fill="#00fc96" stroke="#00fc96" stroke-width="0.4"/>
<path d="M117.3 87.3l4.1-2.1-3.8-1.1-4.2 2zM121.2 88.4l4.1-2.1-3.9-1.1-4.1 2.1zM128.9 94l4.2-2.1-4-1.2-4.2 2.1zM133 95.1l4.2-2.1-4.1-1.1-4.2 2.1zM141.1 100.8l4.3-2.2-4.2-1.1-4.3 2.1zM149.7 106.6l4.3-2.2-4.3-1.2-4.4 2.2zM158.6 112.5l4.4-2.2-4.5-1.3-4.4 2.2zM163.2 117.3l4.5-2.3-4.6-1.3-4.4 2.3zM168.1 122.2l4.4-2.4-4.6-1.2-4.5 2.3z" fill="#00fc48" stroke="#00fc48" stroke-width="0.4"/>
<path d="M101.1 89.2l4.2-2.1-3.7-1.2-4.3 2.1zM104.9 90.3l4.3-2.1-3.9-1.1-4.2 2.1zM116.3 97l4.3-2.1-4-1.1-4.3 2.1zM124.1 102.7l4.4-2.1-4.1-1.2-4.4 2.1zM128.3 103.9l4.3-2.1-4.1-1.2-4.4 2.1zM132.3 108.5l4.4-2.2-4.2-1.2-4.5 2.2zM136.5 109.8l4.5-2.3-4.3-1.2-4.4 2.2zM140.8 114.5l4.4-2.3-4.3-1.2-4.5 2.2zM145.2 119.3l4.5-2.3-4.5-1.3-4.5 2.3zM149.7 124.2l4.5-2.3-4.5-1.3-4.6 2.3zM154.3 129.3l4.7-2.4-4.7-1.3-4.6 2.3z" fill="#00fc72" stroke="#00fc72" stroke-width="0.4"/>
<path d="M85 91.1l4.3-2.1-3.7-1.1-4.3 2.1zM88.7 92.3l4.3-2.2-3.7-1.1-4.3 2.1zM95.8 97.8l4.3-2.1-3.8-1.1-4.4 2.1zM99.6 99l4.4-2.1-3.9-1.2-4.3 2.1zM107.1 104.7l4.5-2.2-4.1-1.2-4.4 2.2zM111.2 105.9l4.4-2.2-4-1.2-4.5 2.2zM114.9 110.5l4.5-2.2-4.1-1.2-4.5 2.2zM118.8 115.2l4.5-2.2-4.2-1.3-4.6 2.3zM123 116.5l4.6-2.3-4.3-1.2-4.5 2.2zM122.7 120l4.6-2.3-4.3-1.2-4.6 2.2zM127.1 121.3l4.6-2.3-4.4-1.3-4.6 2.3zM126.9 124.9l4.6-2.3-4.4-1.3-4.7 2.3zM131.3 126.3l4.7-2.4-4.5-1.3-4.6 2.3zM131.1 130l4.7-2.4-4.5-1.3-4.7 2.3zM135.7 131.4l4.7-2.4-4.6-1.4-4.7 2.4z" fill="#00fc90" stroke="#00fc90" stroke-width="0.4"/>
<path d="M76.9 92.2l4.4-2.2-3.7-1.1-4.4 2.1zM87.5 98.9l4.4-2.2-3.8-1.1-4.4 2.1zM94.7 104.5l4.4-2.2-3.9-1.1-4.4 2.1zM102.1 110.3l4.6-2.2-4.1-1.2-4.5 2.2zM105.8 115l4.6-2.3-4.2-1.2-4.6 2.2zM109.9 116.2l4.6-2.2-4.1-1.3-4.6 2.3zM113.8 121l4.6-2.3-4.2-1.2-4.7 2.2zM117.7 125.9l4.7-2.3-4.3-1.3-4.7 2.3z" fill="#00fca2" stroke="#00fca2" stroke-width="0.4"/>
<path d="M113 89.4l4.3-2.1-3.9-1.2-4.2 2.1zM116.9 90.5l4.3-2.1-3.9-1.1-4.3 2.1zM128.7 97.3l4.3-2.2-4.1-1.1-4.3 2.1zM136.8 103l4.3-2.2-4.2-1.2-4.3 2.2zM145.3 108.8l4.4-2.2-4.4-1.2-4.3 2.1zM149.7 113.5l4.4-2.3-4.4-1.2-4.5 2.2z" fill="#00fc5a" stroke="#00fc5a" stroke-width="0.4"/>
<path d="M96.8 91.3l4.3-2.1-3.8-1.2-4.3 2.1zM100.6 92.4l4.3-2.1-3.8-1.1-4.3 2.1zM111.9 99.2l4.4-2.2-4-1.1-4.3 2.1zM119.7 104.9l4.4-2.2-4.1-1.2-4.4 2.2zM127.8 110.7l4.5-2.2-4.3-1.2-4.4 2.2zM131.9 115.5l4.5-2.3-4.3-1.2-4.5 2.2zM136.1 120.3l4.6-2.3-4.4-1.3-4.6 2.3zM140.6 121.6l4.6-2.3-4.5-1.3-4.6 2.3zM145.1 126.6l4.6-2.4-4.6-1.3-4.6 2.3zM149.7 131.7l4.6-2.4-4.6-1.4-4.7 2.4zM149.7 135.6l4.7-2.5-4.7-1.4-4.8 2.5z" fill="#00fc7e" stroke="#00fc7e" stroke-width="0.4"/>
<path d="M80.6 93.3l4.4-2.2-3.7-1.1-4.4 2.2zM84.3 94.4l4.4-2.1-3.7-1.2-4.4 2.2zM88.1 95.6l4.4-2.2-3.8-1.1-4.4 2.1zM91.3 100l4.5-2.2-3.9-1.1-4.4 2.2zM95.2 101.2l4.4-2.2-3.8-1.2-4.5 2.2zM98.6 105.7l4.5-2.2-4-1.2-4.4 2.2zM102.6 106.9l4.5-2.2-4-1.2-4.5 2.2zM106.2 111.5l4.6-2.2-4.1-1.2-4.6 2.2zM110.4 112.7l4.5-2.2-4.1-1.2-4.6 2.2zM114.2 117.5l4.6-2.3-4.3-1.2-4.6 2.2zM118.1 122.3l4.6-2.3-4.3-1.3-4.6 2.3zM122.1 127.3l4.8-2.4-4.5-1.3-4.7 2.3z" fill="#00fc9c" stroke="#00fc9c" stroke-width="0.4"/>
<path d="M72.5 94.3l4.4-2.1-3.7-1.2-4.3 2.2zM83 101l4.5-2.1-3.8-1.2-4.5 2.2zM90.2 106.7l4.5-2.2-3.9-1.2-4.6 2.2zM93.5 111.3l4.6-2.2-4-1.2-4.6 2.2zM97.6 112.5l4.5-2.2-4-1.2-4.6 2.2zM101.1 117.2l4.7-2.2-4.2-1.3-4.6 2.3zM104.8 122l4.7-2.3-4.2-1.2-4.7 2.2z" fill="#00fcae" stroke="#00fcae" stroke-width="0.4"/>
<path d="M92.5 93.4l4.3-2.1-3.8-1.2-4.3 2.2zM96.3 94.6l4.3-2.2-3.8-1.1-4.3 2.1zM103.6 100.2l4.4-2.2-4-1.1-4.4 2.1zM107.5 101.3l4.4-2.1-3.9-1.2-4.4 2.2zM115.3 107.1l4.4-2.2-4.1-1.2-4.4 2.2zM119.1 111.7l4.5-2.2-4.2-1.2-4.5 2.2zM123.3 113l4.5-2.3-4.2-1.2-4.5 2.2zM127.3 117.7l4.6-2.2-4.3-1.3-4.6 2.3zM131.5 122.6l4.6-2.3-4.4-1.3-4.6 2.3zM135.8 127.6l4.7-2.4-4.5-1.3-4.7 2.4zM140.3 132.8l4.7-2.5-4.6-1.3-4.7 2.4z" fill="#00fc8a" stroke="#00fc8a" stroke-width="0.4"/>
<path d="M76.2 95.4l4.4-2.1-3.7-1.1-4.4 2.1zM79.9 96.6l4.4-2.2-3.7-1.1-4.4 2.1zM83.7 97.7l4.4-2.1-3.8-1.2-4.4 2.2zM86.9 102.2l4.4-2.2-3.8-1.1-4.5 2.1zM90.8 103.3l4.4-2.1-3.9-1.2-4.4 2.2zM94.1 107.9l4.5-2.2-3.9-1.2-4.5 2.2zM98.1 109.1l4.5-2.2-4-1.2-4.5 2.2zM101.6 113.7l4.6-2.2-4.1-1.2-4.5 2.2zM105.3 118.5l4.6-2.3-4.1-1.2-4.7 2.2zM109.5 119.7l4.7-2.2-4.3-1.3-4.6 2.3zM109.1 123.3l4.7-2.3-4.3-1.3-4.7 2.3zM113.4 124.6l4.7-2.3-4.3-1.3-4.7 2.3z" fill="#00fca8" stroke="#00fca8" stroke-width="0.4"/>
<path d="M68.1 96.5l4.4-2.2-3.6-1.1-4.5 2.2zM71.8 97.6l4.4-2.2-3.7-1.1-4.4 2.2zM78.5 103.2l4.5-2.2-3.8-1.1-4.5 2.2zM85.6 108.9l4.6-2.2-4-1.2-4.5 2.2zM88.9 113.5l4.6-2.2-4-1.2-4.6 2.2zM96.5 119.5l4.6-2.3-4.1-1.2-4.7 2.2z" fill="#00fcba" stroke="#00fcba" stroke-width="0.4"/>
<path d="M63.6 98.7l4.5-2.2-3.7-1.1-4.4 2.2zM66.5 103.1l4.5-2.2-3.7-1.1-4.5 2.2zM70.2 104.3l4.5-2.2-3.7-1.2-4.5 2.2zM73.2 108.8l4.6-2.2-3.8-1.2-4.6 2.3zM77.1 110l4.6-2.3-3.9-1.1-4.6 2.2zM80.3 114.6l4.6-2.3-3.9-1.1-4.7 2.2z" fill="#00fccc" stroke="#00fccc" stroke-width="0.4"/>
<path d="M75.5 98.7l4.4-2.1-3.7-1.2-4.4 2.2zM79.2 99.9l4.5-2.2-3.8-1.1-4.4 2.1zM82.4 104.4l4.5-2.2-3.9-1.2-4.5 2.2zM86.2 105.5l4.6-2.2-3.9-1.1-4.5 2.2zM89.5 110.1l4.6-2.2-3.9-1.2-4.6 2.2zM92.9 114.8l4.7-2.3-4.1-1.2-4.6 2.2zM97 116l4.6-2.3-4-1.2-4.7 2.3zM100.6 120.7l4.7-2.2-4.2-1.3-4.6 2.3z" fill="#00fcb4" stroke="#00fcb4" stroke-width="0.4"/>
<path d="M67.3 99.8l4.5-2.2-3.7-1.1-4.5 2.2zM74 105.4l4.5-2.2-3.8-1.1-4.5 2.2zM81 111.2l4.6-2.3-3.9-1.2-4.6 2.3zM84.3 115.8l4.6-2.3-4-1.2-4.6 2.3z" fill="#00fcc6" stroke="#00fcc6" stroke-width="0.4"/>
<path d="M59.1 100.9l4.5-2.2-3.6-1.1-4.5 2.2zM65.6 106.5l4.6-2.2-3.7-1.2-4.6 2.3zM68.6 111l4.6-2.2-3.8-1.1-4.6 2.2zM72.4 112.2l4.7-2.2-3.9-1.2-4.6 2.2z" fill="#00fcd8" stroke="#00fcd8" stroke-width="0.4"/>
<path d="M71 100.9l4.5-2.2-3.7-1.1-4.5 2.2zM74.7 102.1l4.5-2.2-3.7-1.2-4.5 2.2zM77.8 106.6l4.6-2.2-3.9-1.2-4.5 2.2zM81.7 107.7l4.5-2.2-3.8-1.1-4.6 2.2zM84.9 112.3l4.6-2.2-3.9-1.2-4.6 2.3zM88.3 117l4.6-2.2-4-1.3-4.6 2.3zM92.3 118.2l4.7-2.2-4.1-1.2-4.6 2.2z" fill="#00fcc0" stroke="#00fcc0" stroke-width="0.4"/>
<path d="M62.8 102l4.5-2.2-3.7-1.1-4.5 2.2zM69.4 107.7l4.6-2.3-3.8-1.1-4.6 2.2zM76.3 113.4l4.7-2.2-3.9-1.2-4.7 2.2z" fill="#00fcd2" stroke="#00fcd2" stroke-width="0.4"/>
<path d="M54.5 103.1l4.6-2.2-3.6-1.1-4.6 2.2zM58.2 104.3l4.6-2.3-3.7-1.1-4.6 2.2zM61 108.7l4.6-2.2-3.7-1.1-4.6 2.2z" fill="#00fce4" stroke="#00fce4" stroke-width="0.4"/>
<path d="M49.9 105.4l4.6-2.3-3.6-1.1-4.6 2.3z" fill="#00fcf6" stroke="#00fcf6" stroke-width="0.4"/>
<path d="M61.9 105.4l4.6-2.3-3.7-1.1-4.6 2.3zM64.8 109.9l4.6-2.2-3.8-1.2-4.6 2.2z" fill="#00fcde" stroke="#00fcde" stroke-width="0.4"/>
<path d="M53.6 106.5l4.6-2.2-3.7-1.2-4.6 2.3z" fill="#00fcf0" stroke="#00fcf0" stroke-width="0.4"/>
<path d="M57.3 107.6l4.6-2.2-3.7-1.1-4.6 2.2z" fill="#00fcea" stroke="#00fcea" stroke-width="0.4"/>
<path d="M149.7 135.6l4.7-2.5 4.7-2.4 4.6-2.4 4.6-2.4 4.5-2.4 4.5-2.4 4.4-2.3 4.4-2.3 4.3-2.2 4.3-2.3 4.3-2.2 4.2-2.2 4.1-2.2 4.2-2.1 4-2.2 4.1-2.1 4-2.1 3.9-2.1 4-2 3.8-2 3.9-2.1 3.8-1.9 3.8-2 3.7-2 3.7-1.9M149.7 135.6l-4.8-1.4-4.6-1.4-4.6-1.4-4.6-1.4-4.5-1.4-4.5-1.3-4.4-1.4-4.3-1.3-4.3-1.3-4.3-1.3-4.2-1.3-4.1-1.2-4.2-1.3-4-1.2-4-1.2-4-1.2-4-1.2-3.9-1.2-3.8-1.2-3.8-1.1-3.8-1.2-3.7-1.1-3.7-1.1-3.7-1.1-3.6-1.1M144.9 134.2l4.8-2.5 4.6-2.4 4.7-2.4 4.5-2.4 4.6-2.3 4.4-2.4 4.5-2.3 4.4-2.2 4.3-2.3 4.3-2.2 4.2-2.2 4.3-2.2 4.1-2.2 4.1-2.2 4.1-2.1 4.1-2.1 4-2.1 3.9-2.1 3.9-2 3.9-2 3.9-2.1 3.8-2 3.7-1.9 3.8-2 3.7-1.9M154.4 133.1l-4.7-1.4-4.7-1.4-4.6-1.3-4.6-1.4-4.5-1.3-4.4-1.4-4.5-1.3-4.3-1.3-4.3-1.3-4.3-1.3-4.2-1.2-4.2-1.3-4.1-1.2-4.1-1.2-4-1.3-4-1.2-3.9-1.1-3.9-1.2-3.9-1.2-3.8-1.1-3.8-1.2-3.7-1.1-3.7-1.1-3.7-1.2-3.6-1.1M140.3 132.8l4.7-2.5 4.7-2.4 4.6-2.3 4.6-2.4 4.5-2.3 4.5-2.3 4.4-2.3 4.4-2.3 4.3-2.2 4.3-2.3 4.3-2.2 4.2-2.2 4.1-2.1 4.2-2.2 4-2.1 4.1-2.1 4-2.1 4-2.1 3.9-2 3.9-2 3.8-2.1 3.8-2 3.8-1.9 3.7-2 3.7-2M159.1 130.7l-4.8-1.4-4.6-1.4-4.6-1.3-4.6-1.4-4.5-1.3-4.5-1.3-4.4-1.3-4.4-1.3-4.3-1.3-4.2-1.2-4.3-1.3-4.1-1.2-4.2-1.3-4-1.2-4.1-1.2-4-1.2-3.9-1.2-3.9-1.2-3.9-1.1-3.8-1.2-3.8-1.1-3.7-1.2-3.7-1.1-3.7-1.1-3.6-1.1M135.7 131.4l4.7-2.4 4.7-2.4 4.6-2.4 4.5-2.3 4.6-2.3 4.4-2.3 4.5-2.3 4.4-2.3 4.3-2.2 4.3-2.2 4.2-2.2 4.2-2.2 4.2-2.1 4.1-2.2 4.1-2.1 4.1-2.1 4-2.1 3.9-2.1 4-2 3.8-2 3.9-2.1 3.8-2 3.8-1.9 3.7-2 3.7-2M163.7 128.3l-4.7-1.4-4.7-1.3-4.6-1.4-4.6-1.3-4.5-1.3-4.5-1.3-4.4-1.3-4.4-1.3-4.3-1.2-4.2-1.3-4.3-1.2-4.1-1.3-4.2-1.2-4.1-1.2-4-1.2-4-1.2-3.9-1.2-4-1.2-3.8-1.1-3.9-1.2-3.8-1.1-3.7-1.2-3.7-1.1-3.7-1.1-3.6-1.1M131.1 130l4.7-2.4 4.7-2.4 4.6-2.3 4.6-2.3 4.5-2.3 4.5-2.3 4.4-2.3 4.4-2.2 4.3-2.2 4.3-2.2 4.3-2.2 4.2-2.2 4.1-2.1 4.2-2.2 4-2.1 4.1-2.1 4-2.1 4-2 3.9-2.1 3.9-2 3.8-2 3.8-2 3.8-2 3.8-2 3.7-2M168.3 125.9l-4.8-1.4-4.6-1.3-4.7-1.3-4.5-1.3-4.5-1.3-4.5-1.3-4.4-1.3-4.4-1.2-4.3-1.3-4.3-1.2-4.2-1.3-4.2-1.2-4.1-1.2-4.1-1.2-4.1-1.2-4-1.2-3.9-1.2-3.9-1.2-3.9-1.1-3.9-1.2-3.8-1.1-3.7-1.2-3.7-1.1-3.7-1.1-3.7-1.1M126.6 128.6l4.7-2.3 4.7-2.4 4.6-2.3 4.6-2.3 4.5-2.3 4.4-2.3 4.5-2.2 4.4-2.2 4.3-2.3 4.3-2.2 4.2-2.1 4.2-2.2 4.2-2.1 4.1-2.2 4.1-2.1 4.1-2.1 4-2 3.9-2.1 4-2.1 3.9-2 3.8-2 3.8-2 3.8-2 3.8-2 3.7-2M172.8 123.5l-4.7-1.3-4.7-1.3-4.6-1.3-4.6-1.3-4.5-1.3-4.5-1.3-4.4-1.2-4.4-1.3-4.3-1.2-4.3-1.3-4.2-1.2-4.2-1.2-4.1-1.2-4.1-1.2-4.1-1.2-4-1.2-4-1.2-3.9-1.1-3.9-1.2-3.8-1.1-3.8-1.2-3.8-1.1-3.7-1.2-3.7-1.1-3.6-1.1M122.1 127.3l4.8-2.4 4.6-2.3 4.6-2.3 4.6-2.3 4.5-2.3 4.5-2.2 4.4-2.3 4.4-2.2 4.3-2.2 4.3-2.2 4.3-2.1 4.2-2.2 4.1-2.1 4.2-2.1 4-2.2 4.1-2 4-2.1 4-2.1 3.9-2 3.9-2.1 3.8-2 3.9-2 3.8-2 3.7-2 3.7-1.9M177.3 121.1l-4.8-1.3-4.6-1.2-4.7-1.3-4.5-1.3-4.6-1.3-4.4-1.2-4.5-1.3-4.3-1.2-4.4-1.2-4.2-1.3-4.3-1.2-4.1-1.2-4.2-1.2-4.1-1.2-4-1.2-4.1-1.2-3.9-1.1-4-1.2-3.8-1.2-3.9-1.1-3.8-1.1-3.8-1.2-3.7-1.1-3.7-1.1-3.7-1.2M117.7 125.9l4.7-2.3 4.7-2.3 4.6-2.3 4.6-2.3 4.5-2.2 4.4-2.3 4.5-2.2 4.3-2.2 4.4-2.2 4.3-2.2 4.2-2.1 4.2-2.2 4.2-2.1 4.1-2.1 4.1-2.1 4.1-2.1 4-2.1 3.9-2 4-2.1 3.9-2 3.8-2 3.8-2 3.8-2 3.8-2 3.7-2M181.7 118.8l-4.7-1.3-4.7-1.2-4.6-1.3-4.6-1.3-4.5-1.2-4.5-1.3-4.4-1.2-4.4-1.2-4.3-1.3-4.3-1.2-4.2-1.2-4.2-1.2-4.2-1.2-4.1-1.2-4-1.1-4.1-1.2-3.9-1.2-4-1.1-3.9-1.2-3.8-1.1-3.8-1.2-3.8-1.1-3.7-1.2-3.7-1.1-3.7-1.1M113.4 124.6l4.7-2.3 4.6-2.3 4.6-2.3 4.6-2.2 4.5-2.3 4.5-2.2 4.4-2.2 4.4-2.2 4.3-2.2 4.3-2.2 4.2-2.1 4.2-2.2 4.2-2.1 4.1-2.1 4.1-2.1 4.1-2.1 4-2 3.9-2.1 4-2 3.9-2.1 3.8-2 3.9-2 3.8-2 3.7-2 3.7-1.9M186.1 116.5l-4.7-1.2-4.7-1.3-4.6-1.3-4.6-1.2-4.5-1.2-4.5-1.3-4.5-1.2-4.3-1.2-4.4-1.2-4.2-1.2-4.3-1.2-4.2-1.2-4.1-1.2-4.1-1.2-4.1-1.2-4-1.2-4-1.1-3.9-1.2-3.9-1.1-3.9-1.2-3.8-1.1-3.8-1.2-3.7-1.1-3.7-1.1-3.7-1.1M109.1 123.3l4.7-2.3 4.6-2.3 4.6-2.2 4.6-2.3 4.5-2.2 4.4-2.2 4.5-2.3 4.3-2.1 4.4-2.2 4.3-2.2 4.2-2.1 4.2-2.2 4.2-2.1 4.1-2.1 4.1-2.1 4-2 4-2.1 4-2.1 3.9-2 3.9-2 3.9-2 3.8-2 3.8-2 3.8-2 3.7-2M190.4 114.3l-4.7-1.3-4.7-1.2-4.6-1.3-4.6-1.2-4.5-1.3-4.5-1.2-4.4-1.2-4.4-1.2-4.3-1.2-4.3-1.2-4.3-1.2-4.2-1.2-4.1-1.2-4.1-1.1-4.1-1.2-4-1.2-4-1.1-3.9-1.2-3.9-1.1-3.9-1.2-3.8-1.1-3.8-1.2-3.7-1.1-3.8-1.1-3.6-1.1M104.8 122l4.7-2.3 4.7-2.2 4.6-2.3 4.5-2.2 4.5-2.3 4.5-2.2 4.4-2.2 4.4-2.1 4.3-2.2 4.3-2.2 4.2-2.1 4.2-2.1 4.2-2.1 4.1-2.1 4.1-2.1 4-2.1 4-2.1 4-2 3.9-2 3.9-2.1 3.9-2 3.8-2 3.8-2 3.8-1.9 3.7-2M194.7 112l-4.7-1.2-4.7-1.3-4.6-1.2-4.6-1.2-4.5-1.3-4.5-1.2-4.4-1.2-4.4-1.2-4.3-1.2-4.3-1.2-4.3-1.2-4.2-1.1-4.1-1.2-4.1-1.2-4.1-1.1-4-1.2-4-1.2-4-1.1-3.9-1.1-3.8-1.2-3.9-1.1-3.7-1.2-3.8-1.1-3.7-1.1-3.7-1.1M100.6 120.7l4.7-2.2 4.6-2.3 4.6-2.2 4.6-2.3 4.5-2.2 4.4-2.2 4.5-2.2 4.3-2.1 4.3-2.2 4.3-2.2 4.3-2.1 4.2-2.1 4.1-2.1 4.2-2.1 4-2.1 4.1-2 4-2.1 4-2 3.9-2.1 3.9-2 3.9-2 3.8-2 3.8-2 3.7-2 3.8-1.9M199 109.8l-4.8-1.2-4.6-1.3-4.7-1.2-4.5-1.2-4.6-1.2-4.4-1.2-4.5-1.2-4.4-1.2-4.3-1.2-4.3-1.2-4.2-1.2-4.2-1.2-4.2-1.1-4.1-1.2-4.1-1.1-4-1.2-4-1.1-3.9-1.2-3.9-1.1-3.9-1.2-3.8-1.1-3.8-1.1-3.8-1.1-3.7-1.2-3.7-1.1M96.5 119.5l4.6-2.3 4.7-2.2 4.6-2.3 4.5-2.2 4.5-2.2 4.5-2.2 4.4-2.2 4.3-2.1 4.3-2.2 4.3-2.1 4.3-2.2 4.2-2.1 4.1-2.1 4.2-2.1 4-2 4.1-2.1 4-2 4-2.1 3.9-2 3.9-2 3.9-2 3.8-2 3.8-2 3.7-2 3.8-1.9M203.2 107.6l-4.7-1.2-4.7-1.3-4.7-1.2-4.5-1.2-4.6-1.2-4.4-1.2-4.5-1.2-4.4-1.2-4.3-1.2-4.3-1.1-4.2-1.2-4.2-1.2-4.2-1.1-4.1-1.2-4.1-1.1-4-1.2-4-1.1-4-1.2-3.9-1.1-3.8-1.1-3.9-1.2-3.8-1.1-3.7-1.1-3.8-1.1-3.6-1.1M92.3 118.2l4.7-2.2 4.6-2.3 4.6-2.2 4.6-2.2 4.5-2.2 4.4-2.2 4.4-2.2 4.4-2.1 4.3-2.2 4.3-2.1 4.2-2.1 4.2-2.1 4.2-2.1 4.1-2.1 4.1-2.1 4-2 4-2.1 4-2 3.9-2 3.9-2 3.9-2 3.8-2 3.8-2 3.8-2 3.7-1.9M207.3 105.4l-4.7-1.2-4.7-1.2-4.6-1.2-4.6-1.2-4.5-1.2-4.5-1.2-4.4-1.2-4.4-1.2-4.3-1.2-4.3-1.1-4.3-1.2-4.2-1.2-4.1-1.1-4.1-1.2-4.1-1.1-4.1-1.2-4-1.1-3.9-1.1-3.9-1.2-3.9-1.1-3.8-1.1-3.8-1.1-3.8-1.1-3.7-1.2-3.7-1.1M88.3 117l4.6-2.2 4.7-2.3 4.5-2.2 4.6-2.2 4.5-2.2 4.4-2.2 4.4-2.2 4.4-2.1 4.3-2.1 4.3-2.2 4.2-2.1 4.2-2.1 4.2-2.1 4.1-2.1 4.1-2 4-2.1 4-2 4-2 3.9-2 3.9-2.1 3.9-1.9 3.8-2 3.8-2 3.7-2 3.8-1.9M211.5 103.3l-4.8-1.3-4.6-1.2-4.7-1.2-4.5-1.2-4.6-1.2-4.4-1.1-4.5-1.2-4.4-1.2-4.3-1.2-4.3-1.1-4.2-1.2-4.2-1.2-4.2-1.1-4.1-1.2-4.1-1.1-4-1.1-4-1.2-4-1.1-3.9-1.1-3.9-1.1-3.8-1.1-3.8-1.2-3.8-1.1-3.7-1.1-3.7-1.1M84.3 115.8l4.6-2.3 4.6-2.2 4.6-2.2 4.5-2.2 4.5-2.2 4.5-2.2 4.4-2.1 4.3-2.2 4.3-2.1 4.3-2.1 4.2-2.1 4.2-2.1 4.2-2.1 4.1-2.1 4.1-2.1 4-2 4-2 4-2 3.9-2.1 3.9-2 3.9-1.9 3.8-2 3.8-2 3.8-1.9 3.7-2M215.5 101.1l-4.7-1.2-4.7-1.2-4.6-1.2-4.6-1.2-4.5-1.2-4.5-1.2-4.4-1.1-4.4-1.2-4.3-1.2-4.3-1.1-4.3-1.2-4.2-1.1-4.1-1.2-4.1-1.1-4.1-1.2-4.1-1.1-4-1.1-3.9-1.1-3.9-1.1-3.9-1.2-3.9-1.1-3.8-1.1-3.7-1.1-3.8-1.1-3.7-1.1M80.3 114.6l4.6-2.3 4.6-2.2 4.6-2.2 4.5-2.2 4.5-2.2 4.4-2.2 4.4-2.1 4.4-2.2 4.3-2.1 4.3-2.1 4.2-2.1 4.2-2.1 4.1-2.1 4.2-2 4-2.1 4.1-2 4-2 3.9-2.1 4-2 3.9-2 3.8-1.9 3.9-2 3.7-2 3.8-1.9 3.7-2M219.6 99l-4.7-1.2-4.7-1.2-4.6-1.2-4.6-1.2-4.5-1.2-4.5-1.1-4.4-1.2-4.4-1.2-4.4-1.1-4.3-1.2-4.2-1.1-4.2-1.2-4.2-1.1-4.1-1.2-4.1-1.1-4-1.1-4-1.1-4-1.2-3.9-1.1-3.9-1.1-3.8-1.1-3.9-1.1-3.7-1.1-3.8-1.1-3.7-1M76.3 113.4l4.7-2.2 4.6-2.3 4.6-2.2 4.5-2.2 4.4-2.2 4.5-2.1 4.4-2.2 4.3-2.1 4.3-2.1 4.3-2.2 4.2-2 4.2-2.1 4.1-2.1 4.2-2.1 4-2 4.1-2 4-2.1 3.9-2 4-2 3.9-2 3.8-1.9 3.8-2 3.8-1.9 3.8-2 3.7-1.9M223.6 96.9l-4.7-1.2-4.7-1.2-4.6-1.2-4.6-1.2-4.5-1.1-4.5-1.2-4.4-1.2-4.4-1.1-4.4-1.2-4.3-1.2-4.2-1.1-4.2-1.1-4.2-1.2-4.1-1.1-4.1-1.1-4-1.1-4-1.2-4-1.1-3.9-1.1-3.9-1.1-3.9-1.1-3.8-1.1-3.7-1-3.8-1.1-3.7-1.1M72.4 112.2l4.7-2.2 4.6-2.3 4.5-2.2 4.6-2.2 4.4-2.1 4.4-2.2 4.4-2.1 4.4-2.2 4.3-2.1 4.2-2.1 4.3-2.1 4.1-2.1 4.2-2 4.1-2.1 4.1-2 4-2.1 4-2 4-2 3.9-2 3.9-1.9 3.9-2 3.8-2 3.8-1.9 3.7-1.9 3.8-2M227.5 94.8l-4.7-1.2-4.6-1.2-4.7-1.2-4.5-1.1-4.6-1.2-4.4-1.2-4.5-1.1-4.4-1.2-4.3-1.2-4.3-1.1-4.2-1.1-4.2-1.2-4.2-1.1-4.1-1.1-4.1-1.1-4.1-1.2-4-1.1-3.9-1.1-4-1.1-3.8-1.1-3.9-1-3.8-1.1-3.8-1.1-3.7-1.1-3.7-1M68.6 111l4.6-2.2 4.6-2.2 4.6-2.2 4.5-2.2 4.4-2.2 4.5-2.2 4.3-2.1 4.4-2.1 4.3-2.1 4.2-2.1 4.3-2.1 4.1-2.1 4.2-2.1 4.1-2 4.1-2 4-2.1 4-2 3.9-2 4-2 3.9-1.9 3.8-2 3.8-1.9 3.8-2 3.8-1.9 3.7-1.9M231.5 92.8l-4.8-1.2-4.6-1.2-4.6-1.2-4.6-1.2-4.5-1.2-4.5-1.1-4.4-1.2-4.4-1.1-4.4-1.2-4.3-1.1-4.2-1.2-4.2-1.1-4.2-1.1-4.1-1.1-4.1-1.2-4-1.1-4-1.1-4-1.1-3.9-1.1-3.9-1-3.9-1.1-3.8-1.1-3.8-1.1-3.7-1-3.7-1.1M64.8 109.9l4.6-2.2 4.6-2.3 4.5-2.2 4.5-2.2 4.5-2.1 4.4-2.2 4.4-2.1 4.3-2.2 4.3-2.1 4.3-2.1 4.2-2.1 4.2-2 4.1-2.1 4.1-2 4.1-2.1 4-2 4-2 4-2 3.9-1.9 3.9-2 3.8-1.9 3.9-2 3.7-1.9 3.8-1.9 3.7-1.9M235.3 90.8l-4.7-1.2-4.6-1.2-4.7-1.2-4.5-1.2-4.5-1.2-4.5-1.2-4.4-1.1-4.4-1.2-4.4-1.1-4.3-1.2-4.2-1.1-4.2-1.1-4.2-1.1-4.1-1.2-4.1-1.1-4-1.1-4-1.1-4-1-3.9-1.1-3.9-1.1-3.9-1.1-3.8-1-3.8-1.1-3.7-1-3.7-1.1M61 108.7l4.6-2.2 4.6-2.2 4.5-2.2 4.5-2.2 4.5-2.2 4.4-2.1 4.4-2.2 4.3-2.1 4.3-2.1 4.2-2.1 4.3-2.1 4.1-2.1 4.2-2 4.1-2 4-2.1 4.1-2 3.9-2 4-1.9 3.9-2 3.9-2 3.9-1.9 3.8-1.9 3.8-1.9 3.7-1.9 3.8-1.9M239.2 88.7l-4.7-1.2-4.7-1.2-4.6-1.2-4.6-1.1-4.5-1.2-4.5-1.2-4.4-1.1-4.4-1.2-4.3-1.1-4.3-1.2-4.2-1.1-4.2-1.1-4.2-1.1-4.1-1.1-4.1-1.1-4.1-1.1-4-1.1-3.9-1.1-4-1.1-3.9-1-3.8-1.1-3.8-1.1-3.8-1-3.8-1-3.7-1.1M57.3 107.6l4.6-2.2 4.6-2.3 4.5-2.2 4.5-2.2 4.4-2.1 4.4-2.2 4.4-2.1 4.3-2.2 4.3-2.1 4.3-2.1 4.2-2 4.1-2.1 4.2-2 4.1-2.1 4-2 4-2 4-2 4-1.9 3.9-2 3.9-1.9 3.9-2 3.8-1.9 3.8-1.9 3.7-1.9 3.7-1.8M243 86.8l-4.7-1.3-4.7-1.2-4.6-1.2-4.6-1.1-4.5-1.2-4.4-1.2-4.5-1.1-4.3-1.2-4.4-1.1-4.3-1.2-4.2-1.1-4.2-1.1-4.2-1.1-4.1-1.1-4.1-1.1-4-1.1-4.1-1.1-3.9-1.1-4-1-3.8-1.1-3.9-1-3.8-1.1-3.8-1-3.8-1-3.7-1.1M53.6 106.5l4.6-2.2 4.6-2.3 4.5-2.2 4.5-2.2 4.4-2.2 4.4-2.1 4.4-2.2 4.3-2.1 4.3-2.1 4.2-2.1 4.2-2 4.2-2.1 4.1-2 4.1-2.1 4.1-2 4-2 4-1.9 3.9-2 3.9-2 3.9-1.9 3.9-1.9 3.8-1.9 3.8-1.9 3.7-1.9 3.7-1.8M246.8 84.8l-4.8-1.2-4.6-1.2-4.6-1.2-4.6-1.2-4.5-1.2-4.4-1.2-4.5-1.1-4.3-1.2-4.4-1.1-4.3-1.2-4.2-1.1-4.2-1.1-4.2-1.1-4.1-1.1-4.1-1.1-4.1-1.1-4-1-3.9-1.1-4-1.1-3.9-1-3.8-1-3.8-1.1-3.8-1-3.8-1-3.7-1M49.9 105.4l4.6-2.3 4.6-2.2 4.5-2.2 4.5-2.2 4.4-2.2 4.4-2.1 4.4-2.2 4.3-2.1 4.2-2.1 4.3-2.1 4.2-2.1 4.1-2 4.2-2.1 4.1-2 4-2 4-2 4-1.9 4-2 3.9-1.9 3.9-1.9 3.8-1.9 3.8-1.9 3.8-1.9 3.8-1.9 3.7-1.8M250.5 82.8l-4.7-1.2-4.7-1.2-4.6-1.2-4.5-1.2-4.5-1.2-4.5-1.2-4.4-1.1-4.4-1.2-4.3-1.1-4.3-1.1-4.3-1.2-4.2-1.1-4.1-1.1-4.2-1.1-4-1-4.1-1.1-4-1.1-4-1-3.9-1.1-3.9-1-3.9-1-3.8-1.1-3.8-1-3.7-1-3.7-1M46.3 104.3l4.6-2.3 4.6-2.2 4.5-2.2 4.4-2.2 4.5-2.2 4.3-2.2 4.4-2.1 4.3-2.1 4.3-2.1 4.2-2.1 4.2-2.1 4.2-2 4.1-2.1 4.1-2 4-2 4-1.9 4-2 4-1.9 3.9-2 3.9-1.9 3.8-1.9 3.8-1.9 3.8-1.8 3.8-1.9 3.7-1.8M254.2 80.9l-4.7-1.2-4.7-1.3-4.6-1.2-4.5-1.2-4.5-1.2-4.5-1.1-4.4-1.2-4.4-1.1-4.3-1.2-4.3-1.1-4.2-1.1-4.2-1.1-4.2-1.1-4.1-1.1-4.1-1.1-4.1-1.1-4-1-3.9-1.1-4-1-3.9-1-3.8-1-3.9-1-3.8-1-3.7-1-3.7-1" fill="none" stroke="#000" stroke-opacity="0.46" stroke-width="0.4"/>
<circle cx="149.5" cy="91.6" r="2.35" fill="#e2121c"/>
<circle cx="253.8" cy="80.9" r="2.35" fill="#e2121c"/>
<circle cx="149.5" cy="135.6" r="2.35" fill="#e2121c"/>
<path d="M42 32.7h1.9v1.9h-1.9zM43 53.7h1.9v1.9h-1.9zM44 74.8h1.9v1.9h-1.9zM45 95.9h1.9v1.9h-1.9zM46 116.9h1.9v1.9h-1.9zM47 137.9h1.9v1.9h-1.9zM148.6 217.8h1.9v1.9h-1.9zM168.6 208.2h1.9v1.9h-1.9zM128.6 208.2h1.9v1.9h-1.9zM188.6 198.7h1.9v1.9h-1.9zM108.5 198.8h1.9v1.9h-1.9zM208.7 189.2h1.9v1.9h-1.9zM88.5 189.2h1.9v1.9h-1.9zM228.7 179.7h1.9v1.9h-1.9zM68.5 179.8h1.9v1.9h-1.9zM248.8 170.2h1.9v1.9h-1.9zM48.5 170.2h1.9v1.9h-1.9z" fill="#111"/>
<g font-size="7.05" fill="#333"><text x="39.1" y="32.1" text-anchor="end" font-size="6.7">300</text><text x="40.1" y="53.2" text-anchor="end" font-size="6.7">250</text><text x="41.1" y="74.2" text-anchor="end" font-size="6.7">200</text><text x="42.1" y="95.3" text-anchor="end" font-size="6.7">150</text><text x="43.2" y="116.4" text-anchor="end" font-size="6.7">100</text><text x="44.2" y="137.4" text-anchor="end" font-size="6.7">50</text><text x="157.5" y="226.8" text-anchor="middle" font-size="6.7">10</text><text x="177.6" y="217.3" text-anchor="middle" font-size="6.7">12</text><text x="197.6" y="207.8" text-anchor="middle" font-size="6.7">14</text><text x="217.6" y="198.2" text-anchor="middle" font-size="6.7">16</text><text x="237.7" y="188.7" text-anchor="middle" font-size="6.7">18</text><text x="257.7" y="179.2" text-anchor="middle" font-size="6.7">20</text><text x="143.4" y="226.5" text-anchor="middle" font-size="6.7">5</text><text x="123.4" y="217" text-anchor="middle" font-size="6.7">6</text><text x="103.4" y="207.5" text-anchor="middle" font-size="6.7">7</text><text x="83.4" y="198" text-anchor="middle" font-size="6.7">8</text><text x="63.4" y="188.5" text-anchor="middle" font-size="6.7">9</text><text x="39.2" y="179" text-anchor="middle" font-size="6.7">10</text><text x="238.4" y="216.6" text-anchor="middle">A: S 60 Conc. (mg/mL)</text><text x="60.3" y="216.7" text-anchor="middle">B: T 60 Conc. (mg/mL)</text><text transform="translate(13 104.1) rotate(-90)" text-anchor="middle" font-size="7.05">PS (nm)</text></g>
<text x="147.7" y="252" text-anchor="middle" font-family="'Liberation Serif',serif" font-weight="bold" font-size="22.5" letter-spacing="0.2" fill="#111">(a)</text></g>
<g id="pb"><path d="M307.3 33.6L413.9 10M413.9 10L521 33.6M308.3 54.7L414 28.9M414 28.9L519.9 54.7M309.3 75.7L414.1 47.7M414.1 47.7L518.9 75.7M310.3 96.8L414.1 66.6M414.1 66.6L517.8 96.8M311.3 117.8L414.2 85.4M414.2 85.4L516.8 117.8M312.3 138.8L414.3 104.2M414.3 104.2L515.7 138.8M515.7 138.8L521 33.5M332.7 131.9L328.6 28.8M495.4 131.9L499.6 28.8M353.1 125L349.9 24.1M475.2 124.9L478.2 24.1M373.5 118.1L371.3 19.3M454.9 118L456.7 19.3M393.9 111.1L392.6 14.6M434.6 111.1L435.3 14.6M414.3 104.2L413.9 9.9M313.9 171.7L307.3 33.5M514.1 171.6L521 33.5M414.4 133.6L414.3 104.2" fill="none" stroke="#b0b0b0" stroke-width="0.85"/>
<clipPath id="cfb"><polygon points="313.9,171.7 413.9,219.2 514.1,171.6 414.4,133.6"/></clipPath>
<polygon points="313.9,171.7 413.9,219.2 514.1,171.6 414.4,133.6" fill="#5e5e5e"/>
<g clip-path="url(#cfb)" fill="none" stroke-width="0.95" stroke-opacity="0.92"><path d="M313.4 171.6Q356.2 162.6 399 155" stroke="#a0c020"/><path d="M333 181Q396.6 167.3 460 152" stroke="#30c030"/><path d="M353 190Q420.1 175.9 487 162" stroke="#10b090"/><path d="M377 201.6Q441.6 187.7 505 169" stroke="#2090d0"/><path d="M367 151Q388.4 146.7 410 144" stroke="#e09020"/></g>
<circle cx="309" cy="69.2" r="2.1" fill="#f7c3c8" stroke="#f0a0aa" stroke-width="0.5"/>
<circle cx="413.5" cy="16.5" r="2.1" fill="#f7c3c8" stroke="#f0a0aa" stroke-width="0.5"/>
<path d="M414.1 23.2l3.7-1.6-3.7-5.4-3.8 1.6z" fill="#fc3600" stroke="#fc3600" stroke-width="0.4"/>
<path d="M417.9 28.5l3.7-1.6-3.8-5.3-3.7 1.6z" fill="#fc6600" stroke="#fc6600" stroke-width="0.4"/>
<path d="M410.3 24.8l3.8-1.6-3.8-5.4-3.8 1.6z" fill="#fc3c00" stroke="#fc3c00" stroke-width="0.4"/>
<path d="M421.7 33.6l3.8-1.5-3.9-5.2-3.7 1.6zM394.5 38.6l4-1.8-3.8-5.2-4 1.9z" fill="#fc9600" stroke="#fc9600" stroke-width="0.4"/>
<path d="M414.1 30.1l3.8-1.6-3.8-5.3-3.8 1.6zM390.7 33.5l4-1.9-3.8-5.2-4 1.9z" fill="#fc6c00" stroke="#fc6c00" stroke-width="0.4"/>
<path d="M406.4 26.5l3.9-1.7-3.8-5.4-3.9 1.7z" fill="#fc4200" stroke="#fc4200" stroke-width="0.4"/>
<path d="M425.5 38.7l3.8-1.6-3.8-5-3.8 1.5zM398.4 43.6l4-1.8-3.9-5-4 1.8zM374.1 48.1l4.2-2-3.9-5-4.1 2.1z" fill="#fcc600" stroke="#fcc600" stroke-width="0.4"/>
<path d="M417.9 35.2l3.8-1.6-3.8-5.1-3.8 1.6zM370.3 43.2l4.1-2.1-3.8-5-4.2 2z" fill="#fc9c00" stroke="#fc9c00" stroke-width="0.4"/>
<path d="M410.2 31.7l3.9-1.6-3.8-5.3-3.9 1.7z" fill="#fc7800" stroke="#fc7800" stroke-width="0.4"/>
<path d="M402.5 28.1l3.9-1.6-3.8-5.4-3.9 1.7z" fill="#fc4e00" stroke="#fc4e00" stroke-width="0.4"/>
<path d="M429.4 43.6l3.8-1.5-3.9-5-3.8 1.6zM425.6 45.1l3.8-1.5-3.9-4.9-3.7 1.5zM398.3 50.2l4-1.8-3.9-4.8-4 1.7zM357.1 56.5l4.3-2.2-3.8-4.8-4.3 2.2z" fill="#fcf000" stroke="#fcf000" stroke-width="0.4"/>
<path d="M421.8 40.2l3.7-1.5-3.8-5.1-3.8 1.6zM394.4 45.3l4-1.7-3.9-5-4 1.8zM353.3 51.7l4.3-2.2-3.9-4.9-4.3 2.3z" fill="#fccc00" stroke="#fccc00" stroke-width="0.4"/>
<path d="M414.1 36.8l3.8-1.6-3.8-5.1-3.9 1.6zM386.5 42.2l4-1.8-3.8-5.1-4.1 1.9zM366.1 45.2l4.2-2-3.9-5.1-4.2 2.2z" fill="#fca800" stroke="#fca800" stroke-width="0.4"/>
<path d="M406.4 33.3l3.8-1.6-3.8-5.2-3.9 1.6zM382.6 37.2l4.1-1.9-3.8-5.2-4.1 2z" fill="#fc7e00" stroke="#fc7e00" stroke-width="0.4"/>
<path d="M398.6 29.9l3.9-1.8-3.8-5.3-3.9 1.8z" fill="#fc5400" stroke="#fc5400" stroke-width="0.4"/>
<path d="M433.3 48.3l3.8-1.4-3.9-4.8-3.8 1.5z" fill="#d8fc00" stroke="#d8fc00" stroke-width="0.4"/>
<path d="M417.9 41.8l3.9-1.6-3.9-5-3.8 1.6zM390.4 47.2l4-1.9-3.9-4.9-4 1.8zM369.9 50.1l4.2-2-3.8-4.9-4.2 2z" fill="#fcd200" stroke="#fcd200" stroke-width="0.4"/>
<path d="M410.2 38.4l3.9-1.6-3.9-5.1-3.8 1.6z" fill="#fcae00" stroke="#fcae00" stroke-width="0.4"/>
<path d="M402.5 35l3.9-1.7-3.9-5.2-3.9 1.8zM378.6 39.1l4-1.9-3.8-5.1-4.1 2z" fill="#fc8400" stroke="#fc8400" stroke-width="0.4"/>
<path d="M394.7 31.6l3.9-1.7-3.8-5.3-3.9 1.8z" fill="#fc6000" stroke="#fc6000" stroke-width="0.4"/>
<path d="M437.2 53l3.8-1.5-3.9-4.6-3.8 1.4zM406.1 59.6l4-1.7-3.9-4.7-4 1.8zM381.7 64.3l4.1-2-3.9-4.6-4.2 1.9zM360.6 67.9l4.3-2.1-3.9-4.6-4.3 2.1zM325.9 72.9l4.6-2.5-3.8-4.4-4.6 2.5z" fill="#8afc00" stroke="#8afc00" stroke-width="0.4"/>
<path d="M429.5 49.8l3.8-1.5-3.9-4.7-3.8 1.5zM356.7 63.3l4.3-2.1-3.9-4.7-4.3 2.2zM339.6 65.6l4.4-2.4-3.9-4.6-4.4 2.4z" fill="#ccfc00" stroke="#ccfc00" stroke-width="0.4"/>
<path d="M421.8 46.6l3.8-1.5-3.8-4.9-3.9 1.6zM373.8 54.9l4.2-2-3.9-4.8-4.2 2zM352.8 58.7l4.3-2.2-3.8-4.8-4.4 2.3zM335.7 61l4.4-2.4-3.8-4.7-4.5 2.5z" fill="#fcf600" stroke="#fcf600" stroke-width="0.4"/>
<path d="M414.1 43.4l3.8-1.6-3.8-5-3.9 1.6zM365.7 52.2l4.2-2.1-3.8-4.9-4.2 2.1zM348.9 54l4.4-2.3-3.9-4.8-4.3 2.3z" fill="#fcd800" stroke="#fcd800" stroke-width="0.4"/>
<path d="M406.3 40.1l3.9-1.7-3.8-5.1-3.9 1.7zM382.4 44.1l4.1-1.9-3.9-5-4 1.9zM361.9 47.3l4.2-2.1-3.9-4.9-4.2 2.1z" fill="#fcb400" stroke="#fcb400" stroke-width="0.4"/>
<path d="M398.5 36.8l4-1.8-3.9-5.1-3.9 1.7zM374.4 41.1l4.2-2-3.9-5-4.1 2z" fill="#fc9000" stroke="#fc9000" stroke-width="0.4"/>
<path d="M441.2 57.5l3.7-1.4-3.9-4.6-3.8 1.5z" fill="#2afc00" stroke="#2afc00" stroke-width="0.4"/>
<path d="M433.5 54.5l3.7-1.5-3.9-4.7-3.8 1.5z" fill="#84fc00" stroke="#84fc00" stroke-width="0.4"/>
<path d="M425.7 51.4l3.8-1.6-3.9-4.7-3.8 1.5zM373.5 61.6l4.2-2-3.9-4.7-4.2 2.1z" fill="#c0fc00" stroke="#c0fc00" stroke-width="0.4"/>
<path d="M418 48.2l3.8-1.6-3.9-4.8-3.8 1.6zM394.2 52l4.1-1.8-3.9-4.9-4 1.9zM390.2 53.9l4-1.9-3.8-4.8-4.1 1.8zM369.6 57l4.2-2.1-3.9-4.8-4.2 2.1zM348.4 60.9l4.4-2.2-3.9-4.7-4.3 2.3z" fill="#fcfc00" stroke="#fcfc00" stroke-width="0.4"/>
<path d="M410.2 45l3.9-1.6-3.9-5-3.9 1.7zM386.3 49l4.1-1.8-3.9-5-4.1 1.9z" fill="#fcde00" stroke="#fcde00" stroke-width="0.4"/>
<path d="M402.4 41.8l3.9-1.7-3.8-5.1-4 1.8zM378.3 46.1l4.1-2-3.8-5-4.2 2zM357.6 49.5l4.3-2.2-3.9-4.9-4.3 2.2z" fill="#fcc000" stroke="#fcc000" stroke-width="0.4"/>
<path d="M386.7 35.3l4-1.8-3.8-5.2-4 1.8z" fill="#fc7200" stroke="#fc7200" stroke-width="0.4"/>
<path d="M445.2 61.9l3.7-1.4-4-4.4-3.7 1.4zM449.2 66.2l3.7-1.4-4-4.3-3.7 1.4zM441.4 63.4l3.8-1.5-4-4.4-3.8 1.5zM453.2 70.4l3.7-1.5-4-4.1-3.7 1.4zM445.4 67.7l3.8-1.5-4-4.3-3.8 1.5zM437.6 64.9l3.8-1.5-4-4.4-3.8 1.5zM457.2 74.4l3.7-1.5-4-4-3.7 1.5zM449.4 71.9l3.8-1.5-4-4.2-3.8 1.5zM441.6 69.2l3.8-1.5-4-4.3-3.8 1.5zM433.8 66.5l3.8-1.6-4-4.4-3.8 1.6zM425.9 63.7l3.9-1.6-4-4.5-3.9 1.6zM445.7 73.4l3.7-1.5-4-4.2-3.8 1.5zM437.8 70.8l3.8-1.6-4-4.3-3.8 1.6zM429.9 68.1l3.9-1.6-4-4.4-3.9 1.6zM422 65.3l3.9-1.6-4-4.5-3.9 1.6zM441.8 74.9l3.9-1.5-4.1-4.2-3.8 1.6zM433.9 72.3l3.9-1.5-4-4.3-3.9 1.6zM426 69.7l3.9-1.6-4-4.4-3.9 1.6zM418.1 67l3.9-1.7-4-4.5-3.9 1.7zM438 76.5l3.8-1.6-4-4.1-3.9 1.5zM430 73.9l3.9-1.6-4-4.2-3.9 1.6zM422.1 71.3l3.9-1.6-4-4.4-3.9 1.7zM414.1 68.7l4-1.7-4-4.5-4 1.7zM434.1 78.1l3.9-1.6-4.1-4.2-3.9 1.6zM426.1 75.6l3.9-1.7-4-4.2-3.9 1.6zM418.1 73l4-1.7-4-4.3-4 1.7zM410.1 70.4l4-1.7-4-4.5-4 1.7zM430.2 79.7l3.9-1.6-4.1-4.2-3.9 1.7zM422.1 77.3l4-1.7-4-4.3-4 1.7zM414.1 74.7l4-1.7-4-4.3-4 1.7zM406 72.1l4.1-1.7-4-4.5-4.1 1.8zM397.9 69.5l4.1-1.8-4-4.5-4.1 1.8zM426.2 81.4l4-1.7-4.1-4.1-4 1.7zM418.1 79l4-1.7-4-4.3-4 1.7zM410 76.5l4.1-1.8-4-4.3-4.1 1.7zM401.9 73.9l4.1-1.8-4-4.4-4.1 1.8zM393.8 71.4l4.1-1.9-4-4.5-4.1 1.9zM422.2 83.1l4-1.7-4.1-4.1-4 1.7zM414.1 80.7l4-1.7-4-4.3-4.1 1.8zM405.9 78.2l4.1-1.7-4-4.4-4.1 1.8zM397.8 75.8l4.1-1.9-4-4.4-4.1 1.9zM389.6 73.3l4.2-1.9-4-4.5-4.2 1.9zM410 82.5l4.1-1.8-4.1-4.2-4.1 1.7zM401.8 80.1l4.1-1.9-4-4.3-4.1 1.9zM393.6 77.6l4.2-1.8-4-4.4-4.2 1.9zM385.4 75.2l4.2-1.9-4-4.5-4.2 1.9zM405.9 84.3l4.1-1.8-4.1-4.3-4.1 1.9zM397.6 81.9l4.2-1.8-4-4.3-4.2 1.8zM389.4 79.5l4.2-1.9-4-4.3-4.2 1.9zM381.1 77.1l4.3-1.9-4-4.5-4.3 2zM372.8 74.8l4.3-2.1-3.9-4.5-4.3 2.1zM401.7 86.1l4.2-1.8-4.1-4.2-4.2 1.8zM393.4 83.8l4.2-1.9-4-4.3-4.2 1.9zM385.1 81.5l4.3-2-4-4.3-4.3 1.9zM376.8 79.1l4.3-2-4-4.4-4.3 2.1zM368.5 76.8l4.3-2-3.9-4.5-4.4 2.1zM397.5 88l4.2-1.9-4.1-4.2-4.2 1.9zM389.2 85.7l4.2-1.9-4-4.3-4.3 2zM380.9 83.4l4.2-1.9-4-4.4-4.3 2zM372.5 81.2l4.3-2.1-4-4.3-4.3 2zM364.1 78.9l4.4-2.1-4-4.4-4.3 2.1zM355.8 76.7l4.4-2.2-4-4.4-4.4 2.2zM384.9 87.7l4.3-2-4.1-4.2-4.2 1.9zM376.5 85.5l4.4-2.1-4.1-4.3-4.3 2.1zM368.1 83.3l4.4-2.1-4-4.4-4.4 2.1zM359.7 81.1l4.4-2.2-3.9-4.4-4.4 2.2zM351.3 78.9l4.5-2.2-4-4.4-4.4 2.3zM380.6 89.7l4.3-2-4-4.3-4.4 2.1zM372.1 87.5l4.4-2-4-4.3-4.4 2.1zM363.7 85.4l4.4-2.1-4-4.4-4.4 2.2zM355.3 83.3l4.4-2.2-3.9-4.4-4.5 2.2zM346.8 81.2l4.5-2.3-3.9-4.3-4.5 2.3zM376.2 91.7l4.4-2-4.1-4.2-4.4 2zM367.7 89.6l4.4-2.1-4-4.2-4.4 2.1zM359.3 87.5l4.4-2.1-4-4.3-4.4 2.2zM350.8 85.5l4.5-2.2-4-4.4-4.5 2.3zM342.3 83.5l4.5-2.3-3.9-4.3-4.6 2.3zM333.7 81.6l4.6-2.4-3.9-4.3-4.6 2.4zM371.8 93.8l4.4-2.1-4.1-4.2-4.4 2.1zM363.3 91.7l4.4-2.1-4-4.2-4.4 2.1zM354.8 89.7l4.5-2.2-4-4.2-4.5 2.2zM346.2 87.8l4.6-2.3-4-4.3-4.5 2.3zM337.7 85.9l4.6-2.4-4-4.3-4.6 2.4zM329.1 84.1l4.6-2.5-3.9-4.3-4.6 2.5zM320.5 82.3l4.7-2.5-3.9-4.3-4.6 2.6zM358.8 93.9l4.5-2.2-4-4.2-4.5 2.2zM350.2 92l4.6-2.3-4-4.2-4.6 2.3zM341.6 90.1l4.6-2.3-3.9-4.3-4.6 2.4zM333.1 88.3l4.6-2.4-4-4.3-4.6 2.5zM324.5 86.6l4.6-2.5-3.9-4.3-4.7 2.5zM354.2 96.1l4.6-2.2-4-4.2-4.6 2.3zM345.6 94.3l4.6-2.3-4-4.2-4.6 2.3zM337 92.5l4.6-2.4-3.9-4.2-4.6 2.4zM328.4 90.7l4.7-2.4-4-4.2-4.6 2.5zM341 96.6l4.6-2.3-4-4.2-4.6 2.4zM332.3 94.9l4.7-2.4-3.9-4.2-4.7 2.4zM336.3 99l4.7-2.4-4-4.1-4.7 2.4z" fill="#00fc00" stroke="#00fc00" stroke-width="0.4"/>
<path d="M437.4 59l3.8-1.5-4-4.5-3.7 1.5zM406.1 65.9l4-1.7-4-4.6-4 1.8zM381.4 70.7l4.2-1.9-3.9-4.5-4.3 1.9zM342.9 76.9l4.5-2.3-4-4.5-4.5 2.4z" fill="#1efc00" stroke="#1efc00" stroke-width="0.4"/>
<path d="M429.7 56l3.8-1.5-4-4.7-3.8 1.6zM402.1 61.4l4-1.8-3.9-4.6-4 1.8zM377.4 66.2l4.3-1.9-4-4.7-4.2 2z" fill="#78fc00" stroke="#78fc00" stroke-width="0.4"/>
<path d="M421.9 53l3.8-1.6-3.9-4.8-3.8 1.6zM352.3 65.5l4.4-2.2-3.9-4.6-4.4 2.2z" fill="#bafc00" stroke="#bafc00" stroke-width="0.4"/>
<path d="M414.1 49.9l3.9-1.7-3.9-4.8-3.9 1.6zM331.2 63.5l4.5-2.5-3.9-4.6-4.5 2.5z" fill="#f6fc00" stroke="#f6fc00" stroke-width="0.4"/>
<path d="M406.2 46.7l4-1.7-3.9-4.9-3.9 1.7zM382.2 51l4.1-2-3.9-4.9-4.1 2zM361.4 54.3l4.3-2.1-3.8-4.9-4.3 2.2zM344.6 56.3l4.3-2.3-3.8-4.8-4.4 2.3z" fill="#fce400" stroke="#fce400" stroke-width="0.4"/>
<path d="M390.5 40.4l4-1.8-3.8-5.1-4 1.8z" fill="#fca200" stroke="#fca200" stroke-width="0.4"/>
<path d="M433.6 60.5l3.8-1.5-3.9-4.5-3.8 1.5zM360.2 74.5l4.3-2.1-3.9-4.5-4.4 2.2zM325.2 79.8l4.6-2.5-3.9-4.4-4.6 2.6z" fill="#18fc00" stroke="#18fc00" stroke-width="0.4"/>
<path d="M425.8 57.6l3.9-1.6-4-4.6-3.8 1.6zM321.3 75.5l4.6-2.6-3.8-4.4-4.6 2.6z" fill="#66fc00" stroke="#66fc00" stroke-width="0.4"/>
<path d="M418 54.6l3.9-1.6-3.9-4.8-3.9 1.7zM369.2 63.7l4.3-2.1-3.9-4.6-4.3 2z" fill="#aefc00" stroke="#aefc00" stroke-width="0.4"/>
<path d="M410.1 51.5l4-1.6-3.9-4.9-4 1.7zM386.1 55.7l4.1-1.8-3.9-4.9-4.1 2zM365.3 59l4.3-2-3.9-4.8-4.3 2.1z" fill="#f0fc00" stroke="#f0fc00" stroke-width="0.4"/>
<path d="M402.3 48.4l3.9-1.7-3.8-4.9-4 1.8zM378 52.9l4.2-1.9-3.9-4.9-4.2 2zM340.1 58.6l4.5-2.3-3.9-4.8-4.4 2.4z" fill="#fcea00" stroke="#fcea00" stroke-width="0.4"/>
<path d="M429.8 62.1l3.8-1.6-3.9-4.5-3.9 1.6zM402 67.7l4.1-1.8-4-4.5-4.1 1.8z" fill="#0cfc00" stroke="#0cfc00" stroke-width="0.4"/>
<path d="M421.9 59.2l3.9-1.6-3.9-4.6-3.9 1.6z" fill="#5afc00" stroke="#5afc00" stroke-width="0.4"/>
<path d="M414.1 56.2l3.9-1.6-3.9-4.7-4 1.6zM347.9 67.8l4.4-2.3-3.9-4.6-4.4 2.3zM330.5 70.4l4.6-2.4-3.9-4.5-4.5 2.5z" fill="#a2fc00" stroke="#a2fc00" stroke-width="0.4"/>
<path d="M406.2 53.2l3.9-1.7-3.9-4.8-3.9 1.7zM381.9 57.7l4.2-2-3.9-4.7-4.2 1.9zM361 61.2l4.3-2.2-3.9-4.7-4.3 2.2zM326.7 66l4.5-2.5-3.9-4.6-4.5 2.5z" fill="#defc00" stroke="#defc00" stroke-width="0.4"/>
<path d="M418 60.8l3.9-1.6-3.9-4.6-3.9 1.6z" fill="#4efc00" stroke="#4efc00" stroke-width="0.4"/>
<path d="M410.1 57.9l4-1.7-4-4.7-3.9 1.7z" fill="#96fc00" stroke="#96fc00" stroke-width="0.4"/>
<path d="M402.2 55l4-1.8-3.9-4.8-4 1.8zM377.7 59.6l4.2-1.9-3.9-4.8-4.2 2z" fill="#d2fc00" stroke="#d2fc00" stroke-width="0.4"/>
<path d="M461.3 78.3l3.7-1.5-4.1-3.9-3.7 1.5zM426.3 87.1l4-1.6-4.1-4.1-4 1.7zM375.9 97.9l4.4-2.1-4.1-4.1-4.4 2.1z" fill="#00fc42" stroke="#00fc42" stroke-width="0.4"/>
<path d="M453.5 75.9l3.7-1.5-4-4-3.8 1.5zM393.3 89.9l4.2-1.9-4.1-4.2-4.2 1.9z" fill="#00fc06" stroke="#00fc06" stroke-width="0.4"/>
<path d="M414.1 62.5l3.9-1.7-3.9-4.6-4 1.7zM347.4 74.6l4.4-2.3-3.9-4.5-4.5 2.3z" fill="#3cfc00" stroke="#3cfc00" stroke-width="0.4"/>
<path d="M398.2 56.8l4-1.8-3.9-4.8-4.1 1.8zM322.1 68.5l4.6-2.5-3.9-4.6-4.6 2.6z" fill="#c6fc00" stroke="#c6fc00" stroke-width="0.4"/>
<path d="M465.5 82.1l3.7-1.5-4.2-3.8-3.7 1.5zM461.7 83.6l3.8-1.5-4.2-3.8-3.7 1.5zM430.4 91.1l4-1.7-4.1-3.9-4 1.6zM401.5 98l4.2-1.9-4.1-4-4.2 1.9zM357.8 106.5l4.6-2.2-4.1-4.1-4.6 2.3z" fill="#00fc7e" stroke="#00fc7e" stroke-width="0.4"/>
<path d="M457.6 79.8l3.7-1.5-4.1-3.9-3.7 1.5zM397.4 94l4.2-1.9-4.1-4.1-4.2 1.9zM353.7 102.5l4.6-2.3-4.1-4.1-4.5 2.3z" fill="#00fc48" stroke="#00fc48" stroke-width="0.4"/>
<path d="M449.7 77.4l3.8-1.5-4.1-4-3.7 1.5zM418.2 84.8l4-1.7-4.1-4.1-4 1.7zM349.7 98.4l4.5-2.3-4-4.1-4.6 2.3z" fill="#00fc0c" stroke="#00fc0c" stroke-width="0.4"/>
<path d="M410.1 64.2l4-1.7-4-4.6-4 1.7zM385.6 68.8l4.2-1.9-4-4.6-4.1 2zM364.5 72.4l4.4-2.1-4-4.5-4.3 2.1z" fill="#30fc00" stroke="#30fc00" stroke-width="0.4"/>
<path d="M394.1 58.6l4.1-1.8-4-4.8-4 1.9zM335.1 68l4.5-2.4-3.9-4.6-4.5 2.5z" fill="#b4fc00" stroke="#b4fc00" stroke-width="0.4"/>
<path d="M469.6 85.7l3.7-1.5-4.1-3.6-3.7 1.5zM434.6 94.9l4-1.7-4.2-3.8-4 1.7zM405.6 101.9l4.3-1.9-4.2-3.9-4.2 1.9zM361.9 110.4l4.6-2.2-4.1-3.9-4.6 2.2z" fill="#00fca2" stroke="#00fca2" stroke-width="0.4"/>
<path d="M453.8 81.3l3.8-1.5-4.1-3.9-3.8 1.5zM422.3 88.9l4-1.8-4.1-4-4 1.7z" fill="#00fc4e" stroke="#00fc4e" stroke-width="0.4"/>
<path d="M445.9 79l3.8-1.6-4-4-3.9 1.5zM389 91.8l4.3-1.9-4.1-4.2-4.3 2zM367.3 95.9l4.5-2.1-4.1-4.2-4.4 2.1z" fill="#00fc12" stroke="#00fc12" stroke-width="0.4"/>
<path d="M398 63.2l4.1-1.8-3.9-4.6-4.1 1.8z" fill="#6cfc00" stroke="#6cfc00" stroke-width="0.4"/>
<path d="M390 60.4l4.1-1.8-3.9-4.7-4.1 1.8zM317.5 71.1l4.6-2.6-3.9-4.5-4.6 2.7z" fill="#a8fc00" stroke="#a8fc00" stroke-width="0.4"/>
<path d="M473.8 89.3l3.7-1.6-4.2-3.5-3.7 1.5zM442.8 97l3.9-1.7-4.2-3.7-3.9 1.6zM388.3 109.8l4.4-2-4.2-3.9-4.4 2zM366.1 114.3l4.5-2.1-4.1-4-4.6 2.2z" fill="#00fcc6" stroke="#00fcc6" stroke-width="0.4"/>
<path d="M465.9 87.3l3.7-1.6-4.1-3.6-3.8 1.5zM462.1 88.8l3.8-1.5-4.2-3.7-3.7 1.5zM430.6 96.7l4-1.8-4.2-3.8-4 1.7zM401.4 103.8l4.2-1.9-4.1-3.9-4.3 1.9zM379.7 107.9l4.4-2-4.1-4-4.5 2.1zM357.3 112.6l4.6-2.2-4.1-3.9-4.6 2.2z" fill="#00fca8" stroke="#00fca8" stroke-width="0.4"/>
<path d="M458 85.1l3.7-1.5-4.1-3.8-3.8 1.5zM426.4 92.8l4-1.7-4.1-4-4 1.8zM397.2 99.9l4.3-1.9-4.1-4-4.3 1.9zM375.5 104l4.5-2.1-4.1-4-4.5 2.1zM353.2 108.7l4.6-2.2-4.1-4-4.6 2.2z" fill="#00fc84" stroke="#00fc84" stroke-width="0.4"/>
<path d="M450 82.9l3.8-1.6-4.1-3.9-3.8 1.6zM418.2 90.6l4.1-1.7-4.1-4.1-4.1 1.8zM349.1 104.7l4.6-2.2-4-4.1-4.7 2.3z" fill="#00fc5a" stroke="#00fc5a" stroke-width="0.4"/>
<path d="M442.1 80.5l3.8-1.5-4.1-4.1-3.8 1.6zM345 100.7l4.7-2.3-4.1-4.1-4.6 2.3z" fill="#00fc1e" stroke="#00fc1e" stroke-width="0.4"/>
<path d="M393.9 65l4.1-1.8-3.9-4.6-4.1 1.8zM351.8 72.3l4.4-2.2-3.9-4.6-4.4 2.3zM334.4 74.9l4.5-2.4-3.8-4.5-4.6 2.4z" fill="#54fc00" stroke="#54fc00" stroke-width="0.4"/>
<path d="M385.8 62.3l4.2-1.9-3.9-4.7-4.2 2zM364.9 65.8l4.3-2.1-3.9-4.7-4.3 2.2z" fill="#9cfc00" stroke="#9cfc00" stroke-width="0.4"/>
<path d="M478 92.7l3.7-1.6-4.2-3.4-3.7 1.6zM474.3 94.2l3.7-1.5-4.2-3.4-3.7 1.5zM443 102.3l4-1.7-4.2-3.6-4 1.7zM414.1 109.5l4.2-1.8-4.2-3.8-4.3 1.9zM388.1 115.7l4.4-2.1-4.2-3.8-4.5 2z" fill="#00fcf0" stroke="#00fcf0" stroke-width="0.4"/>
<path d="M470.1 90.8l3.7-1.5-4.2-3.6-3.7 1.6zM438.8 98.7l4-1.7-4.2-3.8-4 1.7zM409.8 105.8l4.3-1.9-4.2-3.9-4.3 1.9zM383.8 111.8l4.5-2-4.2-3.9-4.4 2zM361.4 116.5l4.7-2.2-4.2-3.9-4.6 2.2z" fill="#00fccc" stroke="#00fccc" stroke-width="0.4"/>
<path d="M454.2 86.7l3.8-1.6-4.2-3.8-3.8 1.6zM422.3 94.6l4.1-1.8-4.1-3.9-4.1 1.7zM371 106.1l4.5-2.1-4.1-4-4.5 2.1z" fill="#00fc8a" stroke="#00fc8a" stroke-width="0.4"/>
<path d="M446.2 84.5l3.8-1.6-4.1-3.9-3.8 1.5zM414.1 92.4l4.1-1.8-4.1-4-4.1 1.8zM388.7 97.9l4.4-2-4.1-4.1-4.4 2zM366.9 102.1l4.5-2.1-4.1-4.1-4.5 2.1z" fill="#00fc60" stroke="#00fc60" stroke-width="0.4"/>
<path d="M438.2 82.1l3.9-1.6-4.1-4-3.9 1.6zM410 88.4l4.1-1.8-4.1-4.1-4.1 1.8zM384.6 93.8l4.4-2-4.1-4.1-4.3 2zM362.8 98l4.5-2.1-4-4.2-4.5 2.2z" fill="#00fc24" stroke="#00fc24" stroke-width="0.4"/>
<path d="M389.8 66.9l4.1-1.9-3.9-4.6-4.2 1.9zM316.7 78.1l4.6-2.6-3.8-4.4-4.7 2.7z" fill="#42fc00" stroke="#42fc00" stroke-width="0.4"/>
<path d="M482.3 95.9l3.7-1.5-4.3-3.3-3.7 1.6zM451.3 104.1l3.9-1.7-4.2-3.5-4 1.7zM422.6 111.3l4.1-1.8-4.2-3.7-4.2 1.9zM396.7 117.4l4.4-2-4.2-3.8-4.4 2zM374.4 122l4.6-2.1-4.2-3.9-4.6 2.2z" fill="#00f0fc" stroke="#00f0fc" stroke-width="0.4"/>
<path d="M466.3 92.4l3.8-1.6-4.2-3.5-3.8 1.5zM434.8 100.4l4-1.7-4.2-3.8-4 1.8zM405.6 107.7l4.2-1.9-4.2-3.9-4.2 1.9z" fill="#00fcd2" stroke="#00fcd2" stroke-width="0.4"/>
<path d="M458.3 90.4l3.8-1.6-4.1-3.7-3.8 1.6zM426.5 98.4l4.1-1.7-4.2-3.9-4.1 1.8zM375.2 110l4.5-2.1-4.2-3.9-4.5 2.1z" fill="#00fcae" stroke="#00fcae" stroke-width="0.4"/>
<path d="M450.3 88.3l3.9-1.6-4.2-3.8-3.8 1.6zM446.5 89.9l3.8-1.6-4.1-3.8-3.9 1.6zM418.2 96.4l4.1-1.8-4.1-4-4.1 1.8zM392.9 101.9l4.3-2-4.1-4-4.4 2zM348.5 111l4.7-2.3-4.1-4-4.7 2.3z" fill="#00fc90" stroke="#00fc90" stroke-width="0.4"/>
<path d="M442.3 86.1l3.9-1.6-4.1-4-3.9 1.6zM409.9 94.2l4.2-1.8-4.1-4-4.2 1.8zM344.4 107l4.7-2.3-4.1-4-4.6 2.3z" fill="#00fc6c" stroke="#00fc6c" stroke-width="0.4"/>
<path d="M434.3 83.8l3.9-1.7-4.1-4-3.9 1.6zM405.8 90.2l4.2-1.8-4.1-4.1-4.2 1.8zM380.3 95.8l4.3-2-4-4.1-4.4 2zM340.4 103l4.6-2.3-4-4.1-4.7 2.4z" fill="#00fc30" stroke="#00fc30" stroke-width="0.4"/>
<path d="M486.6 99.1l3.7-1.6-4.3-3.1-3.7 1.5zM459.5 105.8l3.9-1.7-4.3-3.4-3.9 1.7zM431 113.1l4.2-1.9-4.3-3.6-4.2 1.9zM378.7 125.7l4.6-2.1-4.3-3.7-4.6 2.1z" fill="#00d2fc" stroke="#00d2fc" stroke-width="0.4"/>
<path d="M478.6 97.5l3.7-1.6-4.3-3.2-3.7 1.5zM447.3 105.9l4-1.8-4.3-3.5-4 1.7zM418.3 113.2l4.3-1.9-4.3-3.6-4.2 1.8zM392.3 119.4l4.4-2-4.2-3.8-4.4 2.1zM369.8 124.2l4.6-2.2-4.2-3.8-4.6 2.2z" fill="#00eafc" stroke="#00eafc" stroke-width="0.4"/>
<path d="M470.6 95.8l3.7-1.6-4.2-3.4-3.8 1.6zM439 104.1l4-1.8-4.2-3.6-4 1.7zM409.8 111.5l4.3-2-4.3-3.7-4.2 1.9zM365.6 120.4l4.6-2.2-4.1-3.9-4.7 2.2z" fill="#00fcf6" stroke="#00fcf6" stroke-width="0.4"/>
<path d="M462.6 94l3.7-1.6-4.2-3.6-3.8 1.6zM458.7 95.6l3.9-1.6-4.3-3.6-3.8 1.6zM430.7 102.2l4.1-1.8-4.2-3.7-4.1 1.7zM401.3 109.6l4.3-1.9-4.2-3.9-4.3 2zM379.4 113.9l4.4-2.1-4.1-3.9-4.5 2.1zM356.7 118.8l4.7-2.3-4.1-3.9-4.7 2.3z" fill="#00fcd8" stroke="#00fcd8" stroke-width="0.4"/>
<path d="M454.5 92l3.8-1.6-4.1-3.7-3.9 1.6zM422.4 100.2l4.1-1.8-4.2-3.8-4.1 1.8zM397.1 105.8l4.3-2-4.2-3.9-4.3 2zM352.6 114.9l4.7-2.3-4.1-3.9-4.7 2.3z" fill="#00fcb4" stroke="#00fcb4" stroke-width="0.4"/>
<path d="M438.4 87.7l3.9-1.6-4.1-4-3.9 1.7zM384.4 99.9l4.3-2-4.1-4.1-4.3 2zM362.4 104.3l4.5-2.2-4.1-4.1-4.5 2.2z" fill="#00fc72" stroke="#00fc72" stroke-width="0.4"/>
<path d="M430.3 85.5l4-1.7-4.1-4.1-4 1.7zM401.6 92.1l4.2-1.9-4.1-4.1-4.2 1.9z" fill="#00fc3c" stroke="#00fc3c" stroke-width="0.4"/>
<path d="M373.2 68.2l4.2-2-3.9-4.6-4.3 2.1z" fill="#60fc00" stroke="#60fc00" stroke-width="0.4"/>
<path d="M491 102.1l3.6-1.6-4.3-3-3.7 1.6zM487.3 103.7l3.7-1.6-4.4-3-3.7 1.6zM483.5 105.4l3.8-1.7-4.4-3-3.7 1.6zM463.9 109.1l3.9-1.7-4.4-3.3-3.9 1.7zM459.9 110.8l4-1.7-4.4-3.3-3.9 1.7zM456 112.6l3.9-1.8-4.3-3.3-4 1.8zM435.4 116.6l4.1-1.9-4.3-3.5-4.2 1.9zM431.2 118.5l4.2-1.9-4.4-3.5-4.1 1.8zM409.7 122.7l4.4-2-4.3-3.6-4.4 2zM405.3 124.7l4.4-2-4.3-3.6-4.4 2zM383 129.4l4.6-2.1-4.3-3.7-4.6 2.1z" fill="#00b4fc" stroke="#00b4fc" stroke-width="0.4"/>
<path d="M482.9 100.7l3.7-1.6-4.3-3.2-3.7 1.6zM455.6 107.5l3.9-1.7-4.3-3.4-3.9 1.7zM451.6 109.3l4-1.8-4.3-3.4-4 1.8zM426.9 114.9l4.1-1.8-4.3-3.6-4.1 1.8zM401 121.1l4.4-2-4.3-3.7-4.4 2z" fill="#00ccfc" stroke="#00ccfc" stroke-width="0.4"/>
<path d="M474.9 99.1l3.7-1.6-4.3-3.3-3.7 1.6zM471.1 100.8l3.8-1.7-4.3-3.3-3.8 1.6zM443.3 107.6l4-1.7-4.3-3.6-4 1.8zM414.1 115.2l4.2-2-4.2-3.7-4.3 2z" fill="#00e4fc" stroke="#00e4fc" stroke-width="0.4"/>
<path d="M466.8 97.4l3.8-1.6-4.3-3.4-3.7 1.6zM463 99.1l3.8-1.7-4.2-3.4-3.9 1.6zM459.1 100.7l3.9-1.6-4.3-3.5-3.8 1.6zM435 105.8l4-1.7-4.2-3.7-4.1 1.8zM430.9 107.6l4.1-1.8-4.3-3.6-4.1 1.8zM405.5 113.4l4.3-1.9-4.2-3.8-4.3 1.9zM383.6 117.7l4.5-2-4.3-3.9-4.4 2.1zM379 119.9l4.6-2.2-4.2-3.8-4.6 2.1zM360.9 122.6l4.7-2.2-4.2-3.9-4.7 2.3z" fill="#00fcfc" stroke="#00fcfc" stroke-width="0.4"/>
<path d="M450.6 93.6l3.9-1.6-4.2-3.7-3.8 1.6zM418.3 102l4.1-1.8-4.2-3.8-4.1 1.8zM392.7 107.8l4.4-2-4.2-3.9-4.4 2zM370.6 112.2l4.6-2.2-4.2-3.9-4.5 2.1z" fill="#00fcba" stroke="#00fcba" stroke-width="0.4"/>
<path d="M442.5 91.6l4-1.7-4.2-3.8-3.9 1.6zM414.1 98.2l4.1-1.8-4.1-4-4.2 1.8zM388.5 103.9l4.4-2-4.2-4-4.3 2zM366.5 108.2l4.5-2.1-4.1-4-4.5 2.2z" fill="#00fc96" stroke="#00fc96" stroke-width="0.4"/>
<path d="M434.4 89.4l4-1.7-4.1-3.9-4 1.7zM405.7 96.1l4.2-1.9-4.1-4-4.2 1.9zM380 101.9l4.4-2-4.1-4.1-4.4 2.1z" fill="#00fc78" stroke="#00fc78" stroke-width="0.4"/>
<path d="M377.1 72.7l4.3-2-4-4.5-4.2 2zM338.3 79.2l4.6-2.3-4-4.4-4.5 2.4z" fill="#06fc00" stroke="#06fc00" stroke-width="0.4"/>
<path d="M368.9 70.3l4.3-2.1-4-4.5-4.3 2.1z" fill="#48fc00" stroke="#48fc00" stroke-width="0.4"/>
<path d="M344 63.2l4.4-2.3-3.8-4.6-4.5 2.3z" fill="#e4fc00" stroke="#e4fc00" stroke-width="0.4"/>
<path d="M495.4 105l3.6-1.7-4.4-2.8-3.6 1.6zM476 108.8l3.8-1.7-4.4-3.1-3.8 1.7zM472.1 110.5l3.9-1.7-4.4-3.1-3.8 1.7zM468.2 112.3l3.9-1.8-4.3-3.1-3.9 1.7zM447.9 116.3l4.1-1.9-4.4-3.3-4 1.8zM443.9 118.1l4-1.8-4.3-3.4-4.1 1.8zM422.7 122.3l4.3-1.9-4.4-3.6-4.2 2zM418.4 124.3l4.3-2-4.3-3.5-4.3 1.9zM396.4 128.9l4.5-2.1-4.3-3.7-4.5 2.1zM391.9 131l4.5-2.1-4.3-3.7-4.5 2.1zM373.7 133.8l4.7-2.2-4.3-3.7-4.7 2.2z" fill="#00a8fc" stroke="#00a8fc" stroke-width="0.4"/>
<path d="M479.2 102.3l3.7-1.6-4.3-3.2-3.7 1.6zM475.4 104l3.8-1.7-4.3-3.2-3.8 1.7zM447.6 111.1l4-1.8-4.3-3.4-4 1.7zM422.6 116.8l4.3-1.9-4.3-3.6-4.3 1.9zM396.6 123.1l4.4-2-4.3-3.7-4.4 2zM374.1 127.9l4.6-2.2-4.3-3.7-4.6 2.2z" fill="#00c6fc" stroke="#00c6fc" stroke-width="0.4"/>
<path d="M454.9 97.2l3.8-1.6-4.2-3.6-3.9 1.6zM426.6 104l4.1-1.8-4.2-3.8-4.1 1.8zM374.8 116l4.6-2.1-4.2-3.9-4.6 2.2z" fill="#00fcde" stroke="#00fcde" stroke-width="0.4"/>
<path d="M446.7 95.3l3.9-1.7-4.1-3.7-4 1.7zM414.1 103.9l4.2-1.9-4.2-3.8-4.2 1.8z" fill="#00fcc0" stroke="#00fcc0" stroke-width="0.4"/>
<path d="M438.6 93.2l3.9-1.6-4.1-3.9-4 1.7zM409.9 100l4.2-1.8-4.2-4-4.2 1.9zM384.1 105.9l4.4-2-4.1-4-4.4 2z" fill="#00fc9c" stroke="#00fc9c" stroke-width="0.4"/>
<path d="M414.1 86.6l4.1-1.8-4.1-4.1-4.1 1.8z" fill="#00fc18" stroke="#00fc18" stroke-width="0.4"/>
<path d="M356.2 70.1l4.4-2.2-3.9-4.6-4.4 2.2zM338.9 72.5l4.5-2.4-3.8-4.5-4.5 2.4z" fill="#72fc00" stroke="#72fc00" stroke-width="0.4"/>
<path d="M499.8 107.7l3.6-1.7-4.4-2.7-3.6 1.7zM484.2 110.1l3.7-1.8-4.4-2.9-3.7 1.7zM480.4 111.8l3.8-1.7-4.4-3-3.8 1.7zM476.5 113.6l3.9-1.8-4.4-3-3.9 1.7zM456.4 117.7l4-1.8-4.4-3.3-4 1.8zM452.3 119.5l4.1-1.8-4.4-3.3-4.1 1.9zM431.3 123.8l4.3-1.9-4.4-3.4-4.2 1.9zM427.1 125.8l4.2-2-4.3-3.4-4.3 1.9zM405.2 130.3l4.5-2-4.4-3.6-4.4 2.1zM400.8 132.4l4.4-2.1-4.3-3.5-4.5 2.1zM382.7 135.3l4.6-2.2-4.3-3.7-4.6 2.2zM378 137.5l4.7-2.2-4.3-3.7-4.7 2.2z" fill="#009cfc" stroke="#009cfc" stroke-width="0.4"/>
<path d="M491.7 106.6l3.7-1.6-4.4-2.9-3.7 1.6zM487.9 108.3l3.8-1.7-4.4-2.9-3.8 1.7zM464.3 114.1l3.9-1.8-4.3-3.2-4 1.7zM460.4 115.9l3.9-1.8-4.4-3.3-3.9 1.8zM439.7 120l4.2-1.9-4.4-3.4-4.1 1.9zM435.6 121.9l4.1-1.9-4.3-3.4-4.2 1.9zM414.1 126.3l4.3-2-4.3-3.6-4.4 2zM409.7 128.3l4.4-2-4.4-3.6-4.4 2zM387.3 133.1l4.6-2.1-4.3-3.7-4.6 2.1z" fill="#00a2fc" stroke="#00a2fc" stroke-width="0.4"/>
<path d="M467.3 102.4l3.8-1.6-4.3-3.4-3.8 1.7zM439.3 109.4l4-1.8-4.3-3.5-4 1.7zM409.8 117.1l4.3-1.9-4.3-3.7-4.3 1.9zM387.8 121.5l4.5-2.1-4.2-3.7-4.5 2zM365.1 126.4l4.7-2.2-4.2-3.8-4.7 2.2z" fill="#00defc" stroke="#00defc" stroke-width="0.4"/>
<path d="M451 98.9l3.9-1.7-4.3-3.6-3.9 1.7zM422.5 105.8l4.1-1.8-4.2-3.8-4.1 1.8zM396.9 111.6l4.4-2-4.2-3.8-4.4 2z" fill="#00fce4" stroke="#00fce4" stroke-width="0.4"/>
<path d="M343.4 70.1l4.5-2.3-3.9-4.6-4.4 2.4zM312.8 73.8l4.7-2.7-3.9-4.4-4.6 2.7z" fill="#90fc00" stroke="#90fc00" stroke-width="0.4"/>
<path d="M504.3 110.3l3.6-1.7-4.5-2.6-3.6 1.7zM500.6 112.1l3.7-1.8-4.5-2.6-3.7 1.7zM481 116.5l3.8-1.8-4.4-2.9-3.9 1.8zM460.8 120.8l4-1.8-4.4-3.1-4 1.8zM456.8 122.7l4-1.9-4.4-3.1-4.1 1.8zM435.8 127.2l4.2-2-4.4-3.3-4.3 1.9zM409.6 133.9l4.5-2.1-4.4-3.5-4.5 2zM387 138.9l4.7-2.2-4.4-3.6-4.6 2.2z" fill="#008afc" stroke="#008afc" stroke-width="0.4"/>
<path d="M496.1 109.4l3.7-1.7-4.4-2.7-3.7 1.6zM472.7 115.3l3.8-1.7-4.4-3.1-3.9 1.8zM448.3 121.4l4-1.9-4.4-3.2-4 1.8zM422.8 127.7l4.3-1.9-4.4-3.5-4.3 2zM396.2 134.5l4.6-2.1-4.4-3.5-4.5 2.1z" fill="#0096fc" stroke="#0096fc" stroke-width="0.4"/>
<path d="M479.8 107.1l3.7-1.7-4.3-3.1-3.8 1.7zM452 114.4l4-1.8-4.4-3.3-4 1.8zM427 120.4l4.2-1.9-4.3-3.6-4.3 1.9zM400.9 126.8l4.4-2.1-4.3-3.6-4.4 2zM378.4 131.6l4.6-2.2-4.3-3.7-4.6 2.2z" fill="#00aefc" stroke="#00aefc" stroke-width="0.4"/>
<path d="M471.6 105.7l3.8-1.7-4.3-3.2-3.8 1.6zM443.6 112.9l4-1.8-4.3-3.5-4 1.8zM418.4 118.8l4.2-2-4.3-3.6-4.2 2zM392.1 125.2l4.5-2.1-4.3-3.7-4.5 2.1zM369.4 130.1l4.7-2.2-4.3-3.7-4.7 2.2z" fill="#00c0fc" stroke="#00c0fc" stroke-width="0.4"/>
<path d="M463.4 104.1l3.9-1.7-4.3-3.3-3.9 1.6zM435.2 111.2l4.1-1.8-4.3-3.6-4.1 1.8zM405.4 119.1l4.4-2-4.3-3.7-4.4 2zM383.3 123.6l4.5-2.1-4.2-3.8-4.6 2.2z" fill="#00d8fc" stroke="#00d8fc" stroke-width="0.4"/>
<path d="M455.2 102.4l3.9-1.7-4.2-3.5-3.9 1.7zM426.7 109.5l4.2-1.9-4.3-3.6-4.1 1.8zM401.1 115.4l4.4-2-4.2-3.8-4.4 2z" fill="#00f6fc" stroke="#00f6fc" stroke-width="0.4"/>
<path d="M447 100.6l4-1.7-4.3-3.6-3.9 1.7zM418.3 107.7l4.2-1.9-4.2-3.8-4.2 1.9zM392.5 113.6l4.4-2-4.2-3.8-4.4 2zM370.2 118.2l4.6-2.2-4.2-3.8-4.5 2.1z" fill="#00fcea" stroke="#00fcea" stroke-width="0.4"/>
<path d="M508.8 112.8l3.6-1.8-4.5-2.4-3.6 1.7zM505.1 114.6l3.7-1.8-4.5-2.5-3.7 1.8zM489.3 117.4l3.8-1.8-4.5-2.7-3.8 1.8zM469.3 122l3.9-1.9-4.4-3-4 1.9zM444.4 128.5l4.2-2-4.5-3.2-4.1 1.9zM422.9 133.2l4.3-2.1-4.4-3.4-4.3 2.1zM396.1 140.2l4.5-2.1-4.4-3.6-4.5 2.2z" fill="#007efc" stroke="#007efc" stroke-width="0.4"/>
<path d="M492.4 111.1l3.7-1.7-4.4-2.8-3.8 1.7zM488.6 112.9l3.8-1.8-4.5-2.8-3.7 1.8zM484.8 114.7l3.8-1.8-4.4-2.8-3.8 1.7zM468.8 117.1l3.9-1.8-4.5-3-3.9 1.8zM464.8 119l4-1.9-4.5-3-3.9 1.8zM444.1 123.3l4.2-1.9-4.4-3.3-4.2 1.9zM440 125.2l4.1-1.9-4.4-3.3-4.1 1.9zM418.5 129.8l4.3-2.1-4.4-3.4-4.3 2zM414.1 131.8l4.4-2-4.4-3.5-4.4 2zM391.7 136.7l4.5-2.2-4.3-3.5-4.6 2.1z" fill="#0090fc" stroke="#0090fc" stroke-width="0.4"/>
<path d="M467.8 107.4l3.8-1.7-4.3-3.3-3.9 1.7zM439.5 114.7l4.1-1.8-4.3-3.5-4.1 1.8zM414.1 120.7l4.3-1.9-4.3-3.6-4.3 1.9zM387.6 127.3l4.5-2.1-4.3-3.7-4.5 2.1z" fill="#00bafc" stroke="#00bafc" stroke-width="0.4"/>
<path d="M513.4 115.1l3.6-1.8-4.6-2.3-3.6 1.8zM501.4 116.4l3.7-1.8-4.5-2.5-3.7 1.7zM497.7 118.2l3.7-1.8-4.5-2.6-3.8 1.8zM485.5 119.3l3.8-1.9-4.5-2.7-3.8 1.8zM481.6 121.1l3.9-1.8-4.5-2.8-3.9 1.8zM465.3 123.9l4-1.9-4.5-3-4 1.8zM461.3 125.8l4-1.9-4.5-3.1-4 1.9zM440.2 130.4l4.2-1.9-4.4-3.3-4.2 2zM436 132.4l4.2-2-4.4-3.2-4.3 1.9zM418.5 135.2l4.4-2-4.4-3.4-4.4 2zM414.1 137.3l4.4-2.1-4.4-3.4-4.5 2.1zM391.4 142.4l4.7-2.2-4.4-3.5-4.7 2.2z" fill="#0078fc" stroke="#0078fc" stroke-width="0.4"/>
<path d="M496.9 113.8l3.7-1.7-4.5-2.7-3.7 1.7zM493.1 115.6l3.8-1.8-4.5-2.7-3.8 1.8zM477.1 118.3l3.9-1.8-4.5-2.9-3.8 1.7zM473.2 120.1l3.9-1.8-4.4-3-3.9 1.8zM452.7 124.6l4.1-1.9-4.5-3.2-4 1.9zM448.6 126.5l4.1-1.9-4.4-3.2-4.2 1.9zM431.5 129.1l4.3-1.9-4.5-3.4-4.2 2zM427.2 131.1l4.3-2-4.4-3.3-4.3 1.9zM405.2 136l4.4-2.1-4.4-3.6-4.4 2.1zM400.6 138.1l4.6-2.1-4.4-3.6-4.6 2.1zM382.4 141.1l4.6-2.2-4.3-3.6-4.7 2.2z" fill="#0084fc" stroke="#0084fc" stroke-width="0.4"/>
<path d="M329.8 77.3l4.6-2.4-3.9-4.5-4.6 2.5z" fill="#36fc00" stroke="#36fc00" stroke-width="0.4"/>
<path d="M509.7 117l3.7-1.9-4.6-2.3-3.7 1.8zM493.9 120.1l3.8-1.9-4.6-2.6-3.8 1.8zM477.7 123l3.9-1.9-4.5-2.8-3.9 1.8zM473.8 124.9l3.9-1.9-4.5-2.9-3.9 1.9zM457.2 127.7l4.1-1.9-4.5-3.1-4.1 1.9zM453.1 129.7l4.1-2-4.5-3.1-4.1 1.9zM431.7 134.5l4.3-2.1-4.5-3.3-4.3 2zM409.6 139.4l4.5-2.1-4.5-3.4-4.4 2.1zM405.1 141.6l4.5-2.2-4.4-3.4-4.6 2.1zM386.8 144.6l4.6-2.2-4.4-3.5-4.6 2.2z" fill="#0072fc" stroke="#0072fc" stroke-width="0.4"/>
<path d="M393.1 95.9l4.3-1.9-4.1-4.1-4.3 1.9zM371.4 100l4.5-2.1-4.1-4.1-4.5 2.1z" fill="#00fc54" stroke="#00fc54" stroke-width="0.4"/>
<path d="M506 118.8l3.7-1.8-4.6-2.4-3.7 1.8zM502.3 120.7l3.7-1.9-4.6-2.4-3.7 1.8zM490.1 122l3.8-1.9-4.6-2.7-3.8 1.9zM486.2 123.9l3.9-1.9-4.6-2.7-3.9 1.8zM469.8 126.8l4-1.9-4.5-2.9-4 1.9zM465.8 128.8l4-2-4.5-2.9-4 1.9zM448.9 131.6l4.2-1.9-4.5-3.2-4.2 2zM444.7 133.6l4.2-2-4.5-3.1-4.2 1.9zM427.4 136.5l4.3-2-4.5-3.4-4.3 2.1zM423 138.6l4.4-2.1-4.5-3.3-4.4 2zM400.5 143.7l4.6-2.1-4.5-3.5-4.5 2.1z" fill="#006cfc" stroke="#006cfc" stroke-width="0.4"/>
<path d="M498.5 122.6l3.8-1.9-4.6-2.5-3.8 1.9zM494.7 124.5l3.8-1.9-4.6-2.5-3.8 1.9zM482.3 125.8l3.9-1.9-4.6-2.8-3.9 1.9zM478.4 127.7l3.9-1.9-4.6-2.8-3.9 1.9zM461.7 130.7l4.1-1.9-4.5-3-4.1 1.9zM457.6 132.7l4.1-2-4.5-3-4.1 2zM440.5 135.7l4.2-2.1-4.5-3.2-4.2 2zM436.2 137.7l4.3-2-4.5-3.3-4.3 2.1zM418.5 140.7l4.5-2.1-4.5-3.4-4.4 2.1zM414.1 142.8l4.4-2.1-4.4-3.4-4.5 2.1zM395.9 145.9l4.6-2.2-4.4-3.5-4.7 2.2zM391.2 148.1l4.7-2.2-4.5-3.5-4.6 2.2z" fill="#0066fc" stroke="#0066fc" stroke-width="0.4"/>
<path d="M358.3 100.2l4.5-2.2-4-4.1-4.6 2.2z" fill="#00fc36" stroke="#00fc36" stroke-width="0.4"/>
<path d="M490.8 126.5l3.9-2-4.6-2.5-3.9 1.9zM486.9 128.4l3.9-1.9-4.6-2.6-3.9 1.9zM474.4 129.7l4-2-4.6-2.8-4 1.9zM470.4 131.6l4-1.9-4.6-2.9-4 2zM453.5 134.7l4.1-2-4.5-3-4.2 1.9zM449.3 136.7l4.2-2-4.6-3.1-4.2 2zM431.9 139.8l4.3-2.1-4.5-3.2-4.3 2zM427.5 141.9l4.4-2.1-4.5-3.3-4.4 2.1zM409.6 145l4.5-2.2-4.5-3.4-4.5 2.2zM405 147.2l4.6-2.2-4.5-3.4-4.6 2.1z" fill="#0060fc" stroke="#0060fc" stroke-width="0.4"/>
<path d="M483 130.4l3.9-2-4.6-2.6-3.9 1.9zM466.3 133.6l4.1-2-4.6-2.8-4.1 1.9zM462.2 135.7l4.1-2.1-4.6-2.9-4.1 2zM445 138.8l4.3-2.1-4.6-3.1-4.2 2.1zM423.1 144l4.4-2.1-4.5-3.3-4.5 2.1zM400.4 149.4l4.6-2.2-4.5-3.5-4.6 2.2z" fill="#005afc" stroke="#005afc" stroke-width="0.4"/>
<path d="M479 132.4l4-2-4.6-2.7-4 2zM475 134.4l4-2-4.6-2.7-4 1.9zM458 137.7l4.2-2-4.6-3-4.1 2zM453.9 139.8l4.1-2.1-4.5-3-4.2 2zM440.7 140.9l4.3-2.1-4.5-3.1-4.3 2zM436.4 143l4.3-2.1-4.5-3.2-4.3 2.1zM418.6 146.2l4.5-2.2-4.6-3.3-4.4 2.1zM414.1 148.3l4.5-2.1-4.5-3.4-4.5 2.2zM395.7 151.6l4.7-2.2-4.5-3.5-4.7 2.2z" fill="#0054fc" stroke="#0054fc" stroke-width="0.4"/>
<path d="M470.9 136.5l4.1-2.1-4.6-2.8-4.1 2zM466.8 138.5l4.1-2-4.6-2.9-4.1 2.1zM449.6 141.8l4.3-2-4.6-3.1-4.3 2.1zM432 145.1l4.4-2.1-4.5-3.2-4.4 2.1zM427.6 147.3l4.4-2.2-4.5-3.2-4.4 2.1zM409.5 150.5l4.6-2.2-4.5-3.3-4.6 2.2z" fill="#004efc" stroke="#004efc" stroke-width="0.4"/>
<path d="M462.7 140.6l4.1-2.1-4.6-2.8-4.2 2zM458.5 142.7l4.2-2.1-4.7-2.9-4.1 2.1zM445.3 144l4.3-2.2-4.6-3-4.3 2.1zM441 146.1l4.3-2.1-4.6-3.1-4.3 2.1zM423.2 149.4l4.4-2.1-4.5-3.3-4.5 2.2zM404.9 152.8l4.6-2.3-4.5-3.3-4.6 2.2zM400.2 155l4.7-2.2-4.5-3.4-4.7 2.2z" fill="#0048fc" stroke="#0048fc" stroke-width="0.4"/>
<path d="M454.3 144.8l4.2-2.1-4.6-2.9-4.3 2zM436.6 148.3l4.4-2.2-4.6-3.1-4.4 2.1zM418.6 151.6l4.6-2.2-4.6-3.2-4.5 2.1zM414.1 153.9l4.5-2.3-4.5-3.3-4.6 2.2z" fill="#0042fc" stroke="#0042fc" stroke-width="0.4"/>
<path d="M450 147l4.3-2.2-4.7-3-4.3 2.2zM445.7 149.1l4.3-2.1-4.7-3-4.3 2.1zM432.2 150.4l4.4-2.1-4.6-3.2-4.4 2.2zM427.8 152.6l4.4-2.2-4.6-3.1-4.4 2.1zM409.5 156.1l4.6-2.2-4.6-3.4-4.6 2.3zM404.8 158.4l4.7-2.3-4.6-3.3-4.7 2.2z" fill="#003cfc" stroke="#003cfc" stroke-width="0.4"/>
<path d="M441.3 151.3l4.4-2.2-4.7-3-4.4 2.2zM423.2 154.9l4.6-2.3-4.6-3.2-4.6 2.2zM418.7 157.1l4.5-2.2-4.6-3.3-4.5 2.3z" fill="#0036fc" stroke="#0036fc" stroke-width="0.4"/>
<path d="M436.9 153.5l4.4-2.2-4.7-3-4.4 2.1zM432.4 155.8l4.5-2.3-4.7-3.1-4.4 2.2zM414.1 159.4l4.6-2.3-4.6-3.2-4.6 2.2z" fill="#0030fc" stroke="#0030fc" stroke-width="0.4"/>
<path d="M427.9 158.1l4.5-2.3-4.6-3.2-4.6 2.3zM409.4 161.7l4.7-2.3-4.6-3.3-4.7 2.3z" fill="#002afc" stroke="#002afc" stroke-width="0.4"/>
<path d="M423.3 160.3l4.6-2.2-4.7-3.2-4.5 2.2zM418.7 162.7l4.6-2.4-4.6-3.2-4.6 2.3z" fill="#0024fc" stroke="#0024fc" stroke-width="0.4"/>
<path d="M414.1 165l4.6-2.3-4.6-3.3-4.7 2.3z" fill="#001efc" stroke="#001efc" stroke-width="0.4"/>
<path d="M414.1 165l4.6-2.3 4.6-2.4 4.6-2.2 4.5-2.3 4.5-2.3 4.4-2.2 4.4-2.2 4.3-2.1 4.3-2.2 4.2-2.1 4.2-2.1 4.1-2.1 4.1-2 4.1-2.1 4-2 4-2 3.9-2 3.9-1.9 3.9-2 3.8-1.9 3.8-1.9 3.7-1.9 3.7-1.8 3.7-1.9 3.6-1.8M414.1 165l-4.7-3.3-4.6-3.3-4.6-3.4-4.5-3.4-4.5-3.5-4.4-3.5-4.4-3.5-4.4-3.6-4.3-3.7-4.3-3.7-4.3-3.7-4.2-3.8-4.2-3.8-4.1-3.9-4.1-3.9-4.1-4-4-4-4.1-4-4-4.1-3.9-4.2-3.9-4.1-4-4.3-3.8-4.2-3.9-4.3-3.8-4.4M409.4 161.7l4.7-2.3 4.6-2.3 4.5-2.2 4.6-2.3 4.4-2.2 4.4-2.1 4.4-2.2 4.3-2.1 4.3-2.2 4.3-2 4.1-2.1 4.2-2 4.1-2.1 4.1-2 4-1.9 4-2 3.9-1.9 3.9-1.9 3.9-1.9 3.8-1.9 3.8-1.9 3.7-1.8 3.7-1.8 3.7-1.8 3.6-1.8M418.7 162.7l-4.6-3.3-4.6-3.3-4.6-3.3-4.5-3.4-4.5-3.5-4.5-3.5-4.4-3.5-4.3-3.6-4.3-3.7-4.3-3.7-4.3-3.7-4.2-3.8-4.2-3.9-4.1-3.9-4.1-3.9-4.1-4-4.1-4-4-4.1-4-4.1-3.9-4.2-4-4.2-3.9-4.3-3.9-4.3-3.8-4.4-3.9-4.4M404.8 158.4l4.7-2.3 4.6-2.2 4.5-2.3 4.6-2.2 4.4-2.1 4.4-2.2 4.4-2.1 4.3-2.1 4.3-2.1 4.3-2.1 4.2-2 4.1-2 4.1-2 4.1-1.9 4-2 4-1.9 3.9-1.9 3.9-1.9 3.9-1.8 3.8-1.9 3.8-1.8 3.8-1.8 3.7-1.7 3.7-1.8 3.6-1.7M423.3 160.3l-4.6-3.2-4.6-3.2-4.6-3.4-4.5-3.3-4.5-3.5-4.4-3.5-4.4-3.5-4.4-3.6-4.3-3.7-4.3-3.7-4.3-3.7-4.2-3.8-4.1-3.9-4.2-3.9-4.1-3.9-4.1-4-4-4.1-4.1-4.1-4-4.2-3.9-4.2-4-4.3-3.9-4.3-3.9-4.4-3.8-4.4-3.9-4.5M400.2 155l4.7-2.2 4.6-2.3 4.6-2.2 4.5-2.1 4.5-2.2 4.4-2.1 4.4-2.1 4.3-2.1 4.3-2 4.2-2.1 4.2-2 4.2-1.9 4.1-2 4.1-1.9 4-1.9 4-1.9 3.9-1.9 3.9-1.8 3.9-1.8 3.8-1.8 3.8-1.8 3.8-1.8 3.7-1.7 3.7-1.7 3.6-1.7M427.9 158.1l-4.7-3.2-4.6-3.3-4.5-3.3-4.5-3.3-4.5-3.4-4.5-3.5-4.4-3.6-4.3-3.5-4.3-3.7-4.3-3.7-4.3-3.7-4.2-3.9-4.2-3.8-4.1-4-4.1-3.9-4.1-4.1-4.1-4.1-4-4.1-4-4.2-3.9-4.3-4-4.3-3.9-4.3-3.9-4.5-3.8-4.4-3.9-4.6M395.7 151.6l4.7-2.2 4.6-2.2 4.6-2.2 4.5-2.2 4.4-2.1 4.5-2.1 4.4-2.1 4.3-2 4.3-2.1 4.2-2 4.2-1.9 4.2-2 4.1-1.9 4.1-1.9 4-1.9 4-1.8 4-1.9 3.9-1.8 3.8-1.7 3.9-1.8 3.8-1.7 3.7-1.8 3.8-1.7 3.7-1.6 3.6-1.7M432.4 155.8l-4.6-3.2-4.6-3.2-4.6-3.2-4.5-3.4-4.5-3.4-4.4-3.4-4.4-3.6-4.4-3.5-4.3-3.7-4.3-3.7-4.2-3.8-4.2-3.8-4.2-3.9-4.2-3.9-4.1-4-4.1-4.1-4-4.1-4-4.2-4-4.2-4-4.3-3.9-4.3-4-4.4-3.8-4.5-3.9-4.5-3.9-4.6M391.2 148.1l4.7-2.2 4.6-2.2 4.6-2.1 4.5-2.2 4.5-2.1 4.4-2.1 4.4-2 4.3-2.1 4.3-2 4.3-1.9 4.2-2 4.1-1.9 4.2-1.9 4-1.9 4.1-1.8 4-1.8 3.9-1.8 3.9-1.8 3.9-1.8 3.9-1.7 3.8-1.7 3.7-1.7 3.8-1.7 3.7-1.6 3.6-1.6M436.9 153.5l-4.7-3.1-4.6-3.1-4.5-3.3-4.6-3.3-4.4-3.4-4.5-3.4-4.4-3.6-4.3-3.5-4.3-3.7-4.3-3.7-4.2-3.7-4.3-3.9-4.1-3.9-4.2-3.9-4.1-4-4.1-4.1-4-4.2-4-4.2-4-4.2-4-4.4-3.9-4.3-4-4.5-3.8-4.5-3.9-4.6-3.9-4.6M386.8 144.6l4.6-2.2 4.7-2.2 4.5-2.1 4.6-2.1 4.4-2.1 4.5-2.1 4.4-2 4.3-2.1 4.3-1.9 4.2-2 4.3-1.9 4.1-1.9 4.2-1.9 4-1.8 4.1-1.9 4-1.8 3.9-1.8 4-1.7 3.9-1.7 3.8-1.7 3.8-1.7 3.8-1.7 3.7-1.6 3.7-1.6 3.7-1.6M441.3 151.3l-4.7-3-4.6-3.2-4.5-3.2-4.5-3.3-4.5-3.4-4.4-3.4-4.4-3.5-4.4-3.6-4.3-3.6-4.3-3.7-4.2-3.8-4.2-3.8-4.2-3.9-4.1-4-4.1-4-4.1-4.1-4.1-4.2-4-4.2-4-4.3-3.9-4.4-4-4.4-3.9-4.5-3.9-4.6-3.9-4.6-3.8-4.7M382.4 141.1l4.6-2.2 4.7-2.2 4.5-2.2 4.6-2.1 4.4-2.1 4.5-2 4.4-2 4.3-2 4.3-2 4.3-1.9 4.2-1.9 4.2-1.9 4.1-1.9 4.1-1.8 4-1.8 4-1.8 4-1.8 3.9-1.7 3.9-1.7 3.9-1.7 3.8-1.6 3.8-1.7 3.7-1.6 3.7-1.6 3.7-1.5M445.7 149.1l-4.7-3-4.6-3.1-4.5-3.2-4.5-3.3-4.5-3.3-4.4-3.4-4.4-3.5-4.4-3.6-4.3-3.6-4.3-3.7-4.2-3.8-4.2-3.8-4.2-3.9-4.1-4-4.1-4.1-4.1-4.1-4.1-4.2-4-4.2-4-4.4-3.9-4.4-4-4.4-3.9-4.6-3.9-4.6-3.8-4.6-3.9-4.8M378 137.5l4.7-2.2 4.6-2.2 4.6-2.1 4.5-2.1 4.5-2.1 4.4-2.1 4.4-2 4.4-2 4.3-1.9 4.2-2 4.3-1.9 4.1-1.8 4.2-1.9 4.1-1.8 4-1.8 4-1.7 4-1.8 3.9-1.7 3.9-1.7 3.9-1.6 3.8-1.7 3.8-1.6 3.7-1.6 3.7-1.5 3.7-1.6M450 147l-4.7-3-4.6-3.1-4.5-3.2-4.5-3.2-4.5-3.4-4.4-3.4-4.4-3.4-4.3-3.6-4.3-3.6-4.3-3.7-4.2-3.8-4.2-3.8-4.2-3.9-4.2-4-4.1-4.1-4-4.1-4.1-4.2-4-4.3-4-4.4-4-4.4-3.9-4.5-3.9-4.6-3.9-4.6-3.9-4.7-3.8-4.8M373.7 133.8l4.7-2.2 4.6-2.2 4.6-2.1 4.5-2.1 4.5-2.1 4.4-2 4.4-2 4.4-2 4.3-1.9 4.2-2 4.3-1.9 4.1-1.8 4.2-1.9 4.1-1.8 4-1.7 4-1.8 4-1.7 4-1.7 3.9-1.7 3.8-1.6 3.9-1.6 3.7-1.6 3.8-1.6 3.7-1.5 3.7-1.6M454.3 144.8l-4.7-3-4.6-3-4.5-3.1-4.5-3.3-4.5-3.3-4.4-3.3-4.4-3.5-4.3-3.5-4.3-3.6-4.3-3.7-4.2-3.8-4.2-3.9-4.2-3.9-4.1-4-4.1-4.1-4.1-4.1-4-4.3-4.1-4.3-4-4.3-3.9-4.5-4-4.5-3.9-4.6-3.9-4.7-3.8-4.8-3.9-4.8M369.4 130.1l4.7-2.2 4.6-2.2 4.6-2.1 4.5-2.1 4.5-2.1 4.4-2 4.4-2 4.4-2 4.3-1.9 4.3-2 4.2-1.8 4.2-1.9 4.1-1.8 4.1-1.8 4.1-1.8 4-1.7 4-1.7 3.9-1.7 3.9-1.7 3.9-1.6 3.8-1.6 3.8-1.6 3.8-1.5 3.7-1.6 3.7-1.5M458.5 142.7l-4.6-2.9-4.6-3.1-4.6-3.1-4.5-3.2-4.4-3.2-4.5-3.4-4.3-3.4-4.4-3.6-4.3-3.6-4.2-3.7-4.3-3.7-4.2-3.9-4.1-3.9-4.1-4-4.1-4.1-4.1-4.2-4.1-4.2-4-4.4-4-4.4-3.9-4.5-4-4.5-3.9-4.7-3.9-4.7-3.8-4.8-3.9-4.9M365.1 126.4l4.7-2.2 4.6-2.2 4.6-2.1 4.6-2.2 4.5-2 4.4-2.1 4.4-2 4.4-2 4.3-1.9 4.2-1.9 4.3-1.9 4.2-1.9 4.1-1.8 4.1-1.8 4.1-1.7 4-1.8 4-1.7 3.9-1.6 4-1.7 3.8-1.6 3.9-1.6 3.8-1.6 3.7-1.5 3.8-1.5 3.7-1.5M462.7 140.6l-4.7-2.9-4.5-3-4.6-3.1-4.5-3.1-4.4-3.3-4.4-3.3-4.4-3.4-4.3-3.6-4.3-3.6-4.3-3.6-4.2-3.8-4.2-3.9-4.2-3.9-4.1-4-4.1-4.1-4.1-4.2-4-4.3-4-4.3-4-4.5-4-4.5-3.9-4.6-3.9-4.6-3.9-4.8-3.8-4.9-3.9-4.9M360.9 122.6l4.7-2.2 4.6-2.2 4.6-2.2 4.6-2.1 4.4-2.1 4.5-2 4.4-2 4.4-2 4.3-2 4.2-1.9 4.3-1.9 4.2-1.8 4.1-1.8 4.1-1.8 4.1-1.8 4-1.7 4-1.7 4-1.7 3.9-1.6 3.9-1.6 3.8-1.6 3.8-1.6 3.8-1.5 3.7-1.5 3.7-1.5M466.8 138.5l-4.6-2.8-4.6-3-4.5-3-4.5-3.2-4.5-3.2-4.4-3.3-4.3-3.4-4.4-3.5-4.3-3.6-4.2-3.7-4.2-3.8-4.2-3.8-4.2-4-4.1-4-4.1-4.1-4.1-4.2-4-4.3-4-4.3-4-4.5-3.9-4.5-4-4.7-3.9-4.7-3.9-4.8-3.8-4.9-3.9-4.9M356.7 118.8l4.7-2.3 4.7-2.2 4.5-2.1 4.6-2.2 4.5-2.1 4.4-2 4.4-2 4.4-2 4.3-2 4.3-1.9 4.2-1.9 4.2-1.9 4.2-1.8 4.1-1.8 4.1-1.7 4-1.8 4-1.6 4-1.7 3.9-1.7 3.9-1.6 3.8-1.5 3.8-1.6 3.8-1.5 3.7-1.5 3.7-1.5M470.9 136.5l-4.6-2.9-4.6-2.9-4.5-3-4.5-3.1-4.4-3.2-4.4-3.3-4.4-3.4-4.3-3.5-4.3-3.6-4.3-3.6-4.2-3.8-4.2-3.8-4.1-4-4.1-4-4.1-4.1-4.1-4.2-4-4.3-4-4.4-4-4.5-4-4.6-3.9-4.6-3.9-4.8-3.9-4.8-3.8-4.9-3.9-5.1M352.6 114.9l4.7-2.3 4.6-2.2 4.6-2.2 4.5-2.1 4.5-2.1 4.5-2.1 4.4-2 4.3-2 4.4-2 4.3-1.9 4.2-1.9 4.2-1.9 4.2-1.8 4.1-1.8 4.1-1.8 4-1.7 4-1.7 4-1.7 3.9-1.6 3.9-1.6 3.8-1.6 3.9-1.5 3.7-1.5 3.8-1.5 3.7-1.5M475 134.4l-4.6-2.8-4.6-2.8-4.5-3-4.5-3.1-4.5-3.2-4.4-3.2-4.3-3.4-4.3-3.5-4.3-3.6-4.3-3.6-4.2-3.8-4.2-3.8-4.1-4-4.1-4-4.1-4.1-4.1-4.3-4-4.3-4-4.4-4-4.5-3.9-4.6-3.9-4.7-3.9-4.7-3.9-4.9-3.9-5-3.8-5M348.5 111l4.7-2.3 4.6-2.2 4.6-2.2 4.5-2.2 4.5-2.1 4.5-2.1 4.4-2.1 4.3-2 4.4-2 4.3-1.9 4.2-1.9 4.2-1.9 4.2-1.8 4.1-1.8 4.1-1.8 4-1.7 4-1.7 4-1.7 3.9-1.7 3.9-1.6 3.9-1.5 3.8-1.6 3.8-1.5 3.8-1.5 3.7-1.4M479 132.4l-4.6-2.7-4.6-2.9-4.5-2.9-4.5-3.1-4.4-3.1-4.4-3.3-4.4-3.3-4.3-3.5-4.3-3.5-4.2-3.7-4.2-3.7-4.2-3.9-4.1-3.9-4.1-4.1-4.1-4.1-4.1-4.2-4-4.4-4-4.4-4-4.5-3.9-4.6-3.9-4.7-3.9-4.9-3.9-4.9-3.8-5-3.9-5M344.4 107l4.7-2.3 4.6-2.2 4.6-2.3 4.5-2.2 4.5-2.1 4.5-2.1 4.4-2.1 4.4-2 4.3-2 4.3-2 4.2-1.9 4.2-1.9 4.2-1.8 4.1-1.9 4.1-1.7 4.1-1.8 4-1.7 4-1.7 3.9-1.6 3.9-1.6 3.9-1.6 3.8-1.6 3.8-1.5 3.8-1.5 3.7-1.4M483 130.4l-4.6-2.7-4.6-2.8-4.5-2.9-4.5-3-4.4-3.1-4.4-3.3-4.4-3.3-4.3-3.4-4.3-3.6-4.2-3.6-4.2-3.8-4.2-3.8-4.1-4-4.1-4-4.1-4.1-4-4.3-4-4.3-4-4.5-4-4.5-3.9-4.6-4-4.8-3.8-4.8-3.9-5-3.9-5-3.8-5.1M340.4 103l4.6-2.3 4.7-2.3 4.5-2.3 4.6-2.2 4.5-2.2 4.4-2.1 4.4-2.1 4.4-2 4.4-2.1 4.2-1.9 4.3-2 4.2-1.9 4.2-1.8 4.1-1.9 4.1-1.8 4.1-1.7 4-1.7 4-1.7 3.9-1.7 3.9-1.6 3.9-1.6 3.8-1.6 3.8-1.5 3.8-1.5 3.7-1.4M486.9 128.4l-4.6-2.6-4.6-2.8-4.5-2.9-4.4-3-4.5-3-4.4-3.3-4.3-3.3-4.3-3.4-4.3-3.5-4.2-3.6-4.2-3.8-4.2-3.8-4.1-3.9-4.1-4.1-4.1-4.1-4-4.3-4-4.3-4-4.5-4-4.6-3.9-4.6-3.9-4.8-3.9-4.9-3.9-4.9-3.8-5.1-3.8-5.2M336.3 99l4.7-2.4 4.6-2.3 4.6-2.3 4.6-2.3 4.5-2.2 4.4-2.1 4.4-2.1 4.4-2.1 4.3-2.1 4.3-2 4.3-1.9 4.2-1.9 4.2-1.9 4.1-1.9 4.1-1.8 4.1-1.8 4-1.7 4-1.7 3.9-1.7 3.9-1.6 3.9-1.6 3.9-1.6 3.8-1.5 3.7-1.5 3.8-1.5M490.8 126.5l-4.6-2.6-4.6-2.8-4.5-2.8-4.4-3-4.5-3-4.3-3.2-4.4-3.3-4.3-3.4-4.2-3.5-4.3-3.6-4.2-3.7-4.1-3.9-4.1-3.9-4.1-4.1-4.1-4.1-4-4.3-4-4.3-4-4.5-4-4.6-3.9-4.7-3.9-4.8-3.9-4.8-3.9-5-3.8-5.1-3.8-5.2M332.3 94.9l4.7-2.4 4.6-2.4 4.6-2.3 4.6-2.3 4.5-2.2 4.4-2.2 4.4-2.2 4.4-2.1 4.3-2 4.3-2.1 4.3-2 4.2-1.9 4.2-1.9 4.1-1.9 4.1-1.8 4.1-1.8 4-1.8 4-1.7 4-1.7 3.9-1.6 3.9-1.6 3.8-1.6 3.8-1.6 3.8-1.5 3.8-1.4M494.7 124.5l-4.6-2.5-4.6-2.7-4.5-2.8-4.5-2.9-4.4-3.1-4.3-3.1-4.4-3.3-4.3-3.4-4.2-3.5-4.3-3.6-4.1-3.7-4.2-3.8-4.1-4-4.1-4-4.1-4.2-4-4.2-4-4.4-4-4.5-3.9-4.6-4-4.7-3.9-4.8-3.8-4.9-3.9-5-3.8-5.2-3.8-5.2M328.4 90.7l4.7-2.4 4.6-2.4 4.6-2.4 4.5-2.3 4.5-2.3 4.5-2.2 4.4-2.2 4.3-2.1 4.4-2.1 4.3-2.1 4.2-2 4.3-1.9 4.1-2 4.2-1.9 4.1-1.8 4.1-1.8 4-1.8 4-1.8 3.9-1.7 4-1.6 3.9-1.7 3.8-1.6 3.8-1.5 3.8-1.5 3.8-1.5M498.5 122.6l-4.6-2.5-4.6-2.7-4.5-2.7-4.4-2.9-4.4-3-4.4-3.1-4.3-3.3-4.3-3.3-4.3-3.5-4.2-3.6-4.2-3.7-4.1-3.8-4.1-4-4.1-4-4.1-4.2-4-4.2-4-4.4-4-4.5-3.9-4.6-3.9-4.7-3.9-4.9-3.9-4.9-3.8-5.1-3.9-5.1-3.8-5.3M324.5 86.6l4.6-2.5 4.6-2.5 4.6-2.4 4.6-2.3 4.5-2.3 4.4-2.3 4.4-2.2 4.4-2.2 4.3-2.1 4.3-2.1 4.3-2.1 4.2-2 4.2-1.9 4.2-2 4.1-1.8 4-1.9 4.1-1.8 4-1.8 3.9-1.7 4-1.7 3.9-1.6 3.8-1.6 3.9-1.6 3.7-1.5 3.8-1.6M502.3 120.7l-4.6-2.5-4.6-2.6-4.5-2.7-4.4-2.8-4.4-3-4.4-3.1-4.3-3.2-4.3-3.4-4.2-3.4-4.3-3.6-4.1-3.7-4.2-3.8-4.1-3.9-4.1-4.1-4-4.1-4-4.3-4-4.4-4-4.5-3.9-4.6-3.9-4.8-3.9-4.8-3.9-5-3.8-5.1-3.9-5.2-3.8-5.3M320.5 82.3l4.7-2.5 4.6-2.5 4.6-2.4 4.5-2.4 4.5-2.4 4.5-2.3 4.4-2.3 4.4-2.2 4.3-2.1 4.3-2.2 4.3-2 4.2-2.1 4.2-2 4.2-1.9 4.1-2 4.1-1.8 4-1.9 4-1.7 4-1.8 3.9-1.7 3.9-1.7 3.9-1.6 3.8-1.6 3.8-1.6 3.8-1.5M506 118.8l-4.6-2.4-4.5-2.6-4.5-2.7-4.5-2.8-4.4-2.9-4.3-3.1-4.3-3.2-4.3-3.3-4.3-3.4-4.2-3.6-4.1-3.7-4.2-3.8-4.1-3.9-4-4-4.1-4.2-4-4.3-4-4.4-3.9-4.5-4-4.6-3.9-4.8-3.9-4.8-3.8-5-3.9-5.1-3.8-5.2-3.8-5.4M316.7 78.1l4.6-2.6 4.6-2.6 4.6-2.5 4.6-2.4 4.5-2.4 4.4-2.4 4.4-2.3 4.4-2.2 4.3-2.2 4.3-2.2 4.3-2.1 4.2-2.1 4.2-2 4.2-2 4.1-2 4.1-1.9 4-1.8 4-1.8 4-1.8 4-1.8 3.9-1.7 3.8-1.6 3.9-1.6 3.8-1.6 3.7-1.6M509.7 117l-4.6-2.4-4.5-2.5-4.5-2.7-4.4-2.8-4.4-2.9-4.4-3-4.3-3.2-4.3-3.3-4.2-3.4-4.2-3.5-4.2-3.7-4.1-3.8-4.1-3.9-4.1-4-4-4.2-4-4.3-4-4.4-3.9-4.5-4-4.7-3.9-4.7-3.8-4.9-3.9-5-3.8-5.1-3.8-5.3-3.8-5.4M312.8 73.8l4.7-2.7 4.6-2.6 4.6-2.5 4.5-2.5 4.5-2.5 4.4-2.4 4.5-2.3 4.3-2.3 4.4-2.3 4.3-2.2 4.3-2.2 4.2-2.1 4.2-2 4.1-2.1 4.2-2 4-1.9 4.1-1.9 4-1.8 4-1.9 3.9-1.7 3.9-1.8 3.9-1.6 3.9-1.7 3.8-1.6 3.7-1.6M513.4 115.1l-4.6-2.3-4.5-2.5-4.5-2.6-4.4-2.7-4.4-2.9-4.4-3-4.3-3.2-4.3-3.2-4.2-3.4-4.2-3.6-4.1-3.6-4.2-3.8-4.1-3.9-4-4-4-4.2-4-4.3-4-4.4-4-4.5-3.9-4.7-3.9-4.7-3.9-4.9-3.8-5.1-3.8-5.1-3.8-5.3-3.8-5.4M309 69.4l4.6-2.7 4.6-2.7 4.6-2.6 4.5-2.5 4.5-2.5 4.5-2.5 4.4-2.4 4.4-2.3 4.3-2.3 4.3-2.3 4.3-2.2 4.2-2.1 4.2-2.2 4.2-2 4.1-2 4.1-2 4.1-2 4-1.8 4-1.9 3.9-1.8 3.9-1.8 3.9-1.7 3.9-1.7 3.8-1.6 3.8-1.6M517 113.3l-4.6-2.3-4.5-2.4-4.5-2.6-4.4-2.7-4.4-2.8-4.3-3-4.3-3.1-4.3-3.3-4.2-3.4-4.2-3.5-4.1-3.6-4.2-3.8-4.1-3.9-4-4-4-4.1-4-4.3-4-4.4-3.9-4.6-3.9-4.6-3.9-4.8-3.9-5-3.8-5-3.9-5.2-3.8-5.3-3.7-5.4" fill="none" stroke="#000" stroke-opacity="0.55" stroke-width="0.4"/>
<circle cx="413.4" cy="91.6" r="2.35" fill="#e2121c"/>
<circle cx="516.3" cy="113.2" r="2.35" fill="#e2121c"/>
<circle cx="413.5" cy="165.5" r="2.35" fill="#e2121c"/>
<path d="M306.4 32.6h1.9v1.9h-1.9zM307.4 53.8h1.9v1.9h-1.9zM308.4 74.8h1.9v1.9h-1.9zM309.4 95.8h1.9v1.9h-1.9zM310.4 116.9h1.9v1.9h-1.9zM311.4 137.9h1.9v1.9h-1.9zM412.9 218.2h1.9v1.9h-1.9zM433 208.7h1.9v1.9h-1.9zM392.9 208.8h1.9v1.9h-1.9zM453 199.2h1.9v1.9h-1.9zM372.9 199.2h1.9v1.9h-1.9zM473.1 189.7h1.9v1.9h-1.9zM352.9 189.8h1.9v1.9h-1.9zM493.1 180.2h1.9v1.9h-1.9zM332.9 180.2h1.9v1.9h-1.9zM513.1 170.7h1.9v1.9h-1.9zM312.9 170.8h1.9v1.9h-1.9z" fill="#111"/>
<g font-size="7.05" fill="#333"><text x="303.5" y="32.1" text-anchor="end" font-size="6.7">300</text><text x="304.5" y="53.2" text-anchor="end" font-size="6.7">250</text><text x="305.5" y="74.2" text-anchor="end" font-size="6.7">200</text><text x="306.5" y="95.3" text-anchor="end" font-size="6.7">150</text><text x="307.5" y="116.3" text-anchor="end" font-size="6.7">100</text><text x="308.5" y="137.3" text-anchor="end" font-size="6.7">50</text><text x="421.9" y="227.3" text-anchor="middle" font-size="6.7">10</text><text x="442" y="217.8" text-anchor="middle" font-size="6.7">12</text><text x="462" y="208.3" text-anchor="middle" font-size="6.7">14</text><text x="482" y="198.7" text-anchor="middle" font-size="6.7">16</text><text x="502.1" y="189.2" text-anchor="middle" font-size="6.7">18</text><text x="522.1" y="179.7" text-anchor="middle" font-size="6.7">20</text><text x="403.6" y="227" text-anchor="middle" font-size="6.7">10</text><text x="383.6" y="217.5" text-anchor="middle" font-size="6.7">12</text><text x="363.6" y="208" text-anchor="middle" font-size="6.7">14</text><text x="343.6" y="198.5" text-anchor="middle" font-size="6.7">16</text><text x="323.6" y="189" text-anchor="middle" font-size="6.7">18</text><text x="303.6" y="179.5" text-anchor="middle" font-size="6.7">20</text><text x="502.8" y="217.1" text-anchor="middle">A: S 60 Conc. (mg/mL)</text><text x="324.7" y="217.2" text-anchor="middle">C: FMT Amount (mg)</text><text transform="translate(277.4 104.6) rotate(-90)" text-anchor="middle" font-size="7.05">PS (nm)</text></g>
<text x="413.5" y="251.8" text-anchor="middle" font-family="'Liberation Serif',serif" font-weight="bold" font-size="22.5" letter-spacing="0.2" fill="#111">(b)</text></g>
<g id="pc"><path d="M43.7 298.6L150.3 275.1M150.3 275.1L257.4 298.6M44.7 319.7L150.4 293.9M150.4 293.9L256.4 319.7M45.7 340.8L150.5 312.8M150.5 312.8L255.3 340.8M46.7 361.8L150.5 331.6M150.5 331.6L254.3 361.8M47.7 382.8L150.6 350.4M150.6 350.4L253.2 382.7M48.7 403.8L150.7 369.2M150.7 369.2L252.2 403.7M252.2 403.7L257.4 299.2M69.1 396.9L65 294.5M231.9 396.8L236 294.5M89.5 390L86.3 289.8M211.6 389.9L214.6 289.8M109.9 383.1L107.7 285M191.3 383L193.1 285M130.3 376.1L129 280.3M171 376.1L171.7 280.3M150.7 369.2L150.3 275.6M50.3 437.4L43.7 299.2M250.5 437.3L257.4 299.2M150.8 399.3L150.7 369.2" fill="none" stroke="#b0b0b0" stroke-width="0.85"/>
<clipPath id="cfc"><polygon points="50.3,437.4 150.3,484.9 250.5,437.3 150.8,399.3"/></clipPath>
<polygon points="50.3,437.4 150.3,484.9 250.5,437.3 150.8,399.3" fill="#5e5e5e"/>
<g clip-path="url(#cfc)" fill="none" stroke-width="0.95" stroke-opacity="0.92"><path d="M62.4 442.8Q104.9 420.4 150 405" stroke="#c0c020"/><path d="M77.2 449.6Q117.6 429.4 160 414" stroke="#30c030"/><path d="M91.6 456.6Q135.7 432.7 182.7 415.4" stroke="#10b870"/><path d="M110.8 466.6Q154.4 442.9 199 421.3" stroke="#10b0a0"/><path d="M132.5 476.6Q176.7 449.3 223.6 427.8" stroke="#2090d0"/></g>
<circle cx="44.2" cy="317.7" r="2.1" fill="#f7c3c8" stroke="#f0a0aa" stroke-width="0.5"/>
<circle cx="149.7" cy="423.3" r="2.1" fill="#f7c3c8" stroke="#f0a0aa" stroke-width="0.5"/>
<path d="M150.5 301.2l3.7-.5-3.7-3.7-3.8 .5zM146.7 301.8l3.8-.6-3.8-3.7-3.8 .5zM118.8 311.4l4.1-.8-3.8-4.1-4.1 .7zM114.7 312.3l4.1-.9-3.8-4.2-4.1 .8z" fill="#fcc000" stroke="#fcc000" stroke-width="0.4"/>
<path d="M154.3 305l3.7-.6-3.8-3.7-3.7 .5zM122.7 315.5l4.1-.8-3.9-4.1-4.1 .8zM118.6 316.4l4.1-.9-3.9-4.1-4.1 .9z" fill="#fcde00" stroke="#fcde00" stroke-width="0.4"/>
<path d="M158.1 308.7l3.7-.6-3.8-3.7-3.7 .6zM138.7 317l4-.8-3.9-4-4 .8zM134.7 317.9l4-.9-3.9-4-4 .8zM130.7 318.7l4-.8-3.9-4.1-4 .9zM126.6 319.6l4.1-.9-3.9-4-4.1 .8zM122.4 320.6l4.2-1-3.9-4.1-4.1 .9z" fill="#fcfc00" stroke="#fcfc00" stroke-width="0.4"/>
<path d="M150.5 305.6l3.8-.6-3.8-3.8-3.8 .6zM146.6 306.2l3.9-.6-3.8-3.8-3.8 .6zM114.4 317.3l4.2-.9-3.9-4.1-4.2 .8zM110.2 318.3l4.2-1-3.9-4.2-4.2 .9zM105.9 319.3l4.3-1-3.9-4.3-4.3 1zM101.6 320.2l4.3-.9-3.9-4.3-4.3 .9zM97.3 321.3l4.3-1.1-3.9-4.3-4.3 1z" fill="#fcd800" stroke="#fcd800" stroke-width="0.4"/>
<path d="M142.9 302.4l3.8-.6-3.8-3.8-3.8 .5zM110.5 313.1l4.2-.8-3.8-4.3-4.2 .9zM106.3 314l4.2-.9-3.8-4.2-4.2 .8zM102 315l4.3-1-3.8-4.3-4.3 .9z" fill="#fcba00" stroke="#fcba00" stroke-width="0.4"/>
<path d="M161.9 312.4l3.7-.7-3.8-3.6-3.7 .6zM122.2 325.7l4.2-1-4-4.1-4.1 .9zM118 326.7l4.2-1-3.9-4.2-4.2 1zM113.8 327.7l4.2-1-3.9-4.2-4.3 1z" fill="#d8fc00" stroke="#d8fc00" stroke-width="0.4"/>
<path d="M154.3 309.4l3.8-.7-3.8-3.7-3.8 .6zM118.3 321.5l4.1-.9-3.8-4.2-4.2 .9zM114.1 322.5l4.2-1-3.9-4.2-4.2 1zM109.8 323.5l4.3-1-3.9-4.2-4.3 1zM105.5 324.5l4.3-1-3.9-4.2-4.3 .9z" fill="#fcf600" stroke="#fcf600" stroke-width="0.4"/>
<path d="M139 303l3.9-.6-3.8-3.9-3.9 .6zM97.7 315.9l4.3-.9-3.8-4.4-4.3 .9zM93.4 316.9l4.3-1-3.8-4.4-4.4 1zM89 317.9l4.4-1-3.9-4.4-4.3 1zM84.6 319l4.4-1.1-3.8-4.4-4.5 1zM80.1 320l4.5-1-3.9-4.5-4.5 1zM75.6 321.2l4.5-1.2-3.9-4.5-4.5 1.1zM52.3 327.2l4.8-1.3-3.9-4.7-4.8 1.3z" fill="#fcb400" stroke="#fcb400" stroke-width="0.4"/>
<path d="M165.8 316.1l3.7-.8-3.9-3.6-3.7 .7zM117.7 331.9l4.3-1.1-4-4.1-4.2 1zM113.4 333l4.3-1.1-3.9-4.2-4.3 1.1zM109.1 334.2l4.3-1.2-3.9-4.2-4.3 1.1z" fill="#a2fc00" stroke="#a2fc00" stroke-width="0.4"/>
<path d="M158.1 313.1l3.8-.7-3.8-3.7-3.8 .7zM109.5 328.8l4.3-1.1-4-4.2-4.3 1zM105.2 329.9l4.3-1.1-4-4.3-4.3 1.1zM100.8 331l4.4-1.1-4-4.3-4.4 1.1z" fill="#defc00" stroke="#defc00" stroke-width="0.4"/>
<path d="M150.5 310l3.8-.6-3.8-3.8-3.9 .6zM146.6 310.8l3.9-.8-3.9-3.8-3.8 .7zM101.2 325.6l4.3-1.1-3.9-4.3-4.3 1.1zM96.8 326.7l4.4-1.1-3.9-4.3-4.4 1zM92.4 327.8l4.4-1.1-3.9-4.4-4.4 1.1zM88 329l4.4-1.2-3.9-4.4-4.5 1.1zM83.4 330.1l4.6-1.1-4-4.5-4.5 1.2zM78.9 331.3l4.5-1.2-3.9-4.4-4.6 1.1zM74.3 332.6l4.6-1.3-4-4.5-4.6 1.2zM69.6 333.8l4.7-1.2-4-4.6-4.6 1.3zM64.9 335.1l4.7-1.3-3.9-4.5-4.7 1.2zM60.2 336.4l4.7-1.3-3.9-4.6-4.8 1.3z" fill="#fcf000" stroke="#fcf000" stroke-width="0.4"/>
<path d="M142.8 306.9l3.8-.7-3.7-3.8-3.9 .6zM92.9 322.3l4.4-1-3.9-4.4-4.4 1zM88.5 323.4l4.4-1.1-3.9-4.4-4.4 1.1zM84 324.5l4.5-1.1-3.9-4.4-4.5 1zM79.5 325.7l4.5-1.2-3.9-4.5-4.5 1.2zM74.9 326.8l4.6-1.1-3.9-4.5-4.6 1.1zM70.3 328l4.6-1.2-3.9-4.5-4.6 1.2zM65.7 329.3l4.6-1.3-3.9-4.5-4.6 1.2zM61 330.5l4.7-1.2-3.9-4.6-4.7 1.2zM56.2 331.8l4.8-1.3-3.9-4.6-4.8 1.3z" fill="#fcd200" stroke="#fcd200" stroke-width="0.4"/>
<path d="M135.1 303.6l3.9-.6-3.8-3.9-3.9 .6zM71 322.3l4.6-1.1-3.9-4.6-4.5 1.1zM66.4 323.5l4.6-1.2-3.8-4.6-4.7 1.1zM61.8 324.7l4.6-1.2-3.9-4.7-4.6 1.2zM57.1 325.9l4.7-1.2-3.9-4.7-4.7 1.2z" fill="#fcae00" stroke="#fcae00" stroke-width="0.4"/>
<path d="M169.7 319.7l3.7-.8-3.9-3.6-3.7 .8zM117.4 337.2l4.3-1.1-4-4.2-4.3 1.1zM113.1 338.4l4.3-1.2-4-4.2-4.3 1.2zM108.8 339.6l4.3-1.2-4-4.2-4.3 1.1zM104.4 340.8l4.4-1.2-4-4.3-4.5 1.2z" fill="#60fc00" stroke="#60fc00" stroke-width="0.4"/>
<path d="M162 316.8l3.8-.7-3.9-3.7-3.8 .7zM104.8 335.3l4.3-1.1-3.9-4.3-4.4 1.1zM100.3 336.5l4.5-1.2-4-4.3-4.4 1.2zM95.9 337.7l4.4-1.2-3.9-4.3-4.5 1.1zM91.4 338.9l4.5-1.2-4-4.4-4.5 1.3zM86.8 340.2l4.6-1.3-4-4.3-4.6 1.2zM82.2 341.5l4.6-1.3-4-4.4-4.6 1.2zM77.6 342.8l4.6-1.3-4-4.5-4.6 1.3zM72.9 344.1l4.7-1.3-4-4.5-4.7 1.4zM68.2 345.5l4.7-1.4-4-4.4-4.7 1.3z" fill="#a8fc00" stroke="#a8fc00" stroke-width="0.4"/>
<path d="M154.3 313.8l3.8-.7-3.8-3.7-3.8 .6zM96.4 332.2l4.4-1.2-4-4.3-4.4 1.1zM91.9 333.3l4.5-1.1-4-4.4-4.4 1.2zM87.4 334.6l4.5-1.3-3.9-4.3-4.6 1.1zM82.8 335.8l4.6-1.2-4-4.5-4.5 1.2zM78.2 337l4.6-1.2-3.9-4.5-4.6 1.3zM73.6 338.3l4.6-1.3-3.9-4.4-4.7 1.2zM68.9 339.7l4.7-1.4-4-4.5-4.7 1.3zM64.2 341l4.7-1.3-4-4.6-4.7 1.3z" fill="#e4fc00" stroke="#e4fc00" stroke-width="0.4"/>
<path d="M138.9 307.6l3.9-.7-3.8-3.9-3.9 .6zM135 308.3l3.9-.7-3.8-4-4 .7zM131 309l4-.7-3.9-4-3.9 .7z" fill="#fccc00" stroke="#fccc00" stroke-width="0.4"/>
<path d="M131.1 304.3l4-.7-3.8-3.9-3.9 .6zM127.2 305l3.9-.7-3.7-4-4 .6z" fill="#fca800" stroke="#fca800" stroke-width="0.4"/>
<path d="M173.6 323.3l3.7-.8-3.9-3.6-3.7 .8zM108.4 345l4.4-1.2-4-4.2-4.4 1.2zM103.9 346.3l4.5-1.3-4-4.2-4.5 1.2zM99.4 347.6l4.5-1.3-4-4.3-4.5 1.3zM94.9 348.9l4.5-1.3-4-4.3-4.5 1.3zM90.3 350.2l4.6-1.3-4-4.3-4.6 1.3zM85.7 351.6l4.6-1.4-4-4.3-4.7 1.3zM81 353l4.7-1.4-4.1-4.4-4.7 1.4zM76.3 354.4l4.7-1.4-4.1-4.4-4.7 1.4z" fill="#18fc00" stroke="#18fc00" stroke-width="0.4"/>
<path d="M165.9 320.5l3.8-.8-3.9-3.6-3.8 .7z" fill="#6cfc00" stroke="#6cfc00" stroke-width="0.4"/>
<path d="M158.2 317.6l3.8-.8-3.9-3.7-3.8 .7z" fill="#aefc00" stroke="#aefc00" stroke-width="0.4"/>
<path d="M150.5 314.6l3.8-.8-3.8-3.8-3.9 .8z" fill="#eafc00" stroke="#eafc00" stroke-width="0.4"/>
<path d="M142.7 311.5l3.9-.7-3.8-3.9-3.9 .7zM138.8 312.2l3.9-.7-3.8-3.9-3.9 .7z" fill="#fcea00" stroke="#fcea00" stroke-width="0.4"/>
<path d="M177.5 327l3.8-.9-4-3.6-3.7 .8zM181.5 330.6l3.7-1-3.9-3.5-3.8 .9zM173.8 327.9l3.7-.9-3.9-3.7-3.8 .9zM185.5 334.1l3.7-.9-4-3.6-3.7 1zM177.8 331.5l3.7-.9-4-3.6-3.7 .9zM170 328.8l3.8-.9-4-3.7-3.8 .9zM189.6 337.7l3.7-1-4.1-3.5-3.7 .9zM181.8 335.1l3.7-1-4-3.5-3.7 .9zM174 332.4l3.8-.9-4-3.6-3.8 .9zM166.2 329.7l3.8-.9-4-3.7-3.8 .9zM193.6 341.2l3.7-1-4-3.5-3.7 1zM185.8 338.7l3.8-1-4.1-3.6-3.7 1zM178 336.1l3.8-1-4-3.6-3.8 .9zM170.2 333.4l3.8-1-4-3.6-3.8 .9zM162.3 330.7l3.9-1-4-3.7-3.9 .9zM189.9 342.3l3.7-1.1-4-3.5-3.8 1zM182 339.7l3.8-1-4-3.6-3.8 1zM174.2 337.1l3.8-1-4-3.7-3.8 1zM166.3 334.4l3.9-1-4-3.7-3.9 1zM158.4 331.6l3.9-.9-4-3.8-3.9 .9zM186.1 343.3l3.8-1-4.1-3.6-3.8 1zM178.2 340.8l3.8-1.1-4-3.6-3.8 1zM170.3 338.2l3.9-1.1-4-3.7-3.9 1zM162.4 335.4l3.9-1-4-3.7-3.9 .9zM154.5 332.6l3.9-1-4-3.8-3.9 1zM182.3 344.4l3.8-1.1-4.1-3.6-3.8 1.1zM174.4 341.9l3.8-1.1-4-3.7-3.9 1.1zM166.4 339.2l3.9-1-4-3.8-3.9 1zM158.5 336.5l3.9-1.1-4-3.8-3.9 1zM150.5 333.6l4-1-4-3.8-4 .9zM178.5 345.5l3.8-1.1-4.1-3.6-3.8 1.1zM170.5 343l3.9-1.1-4.1-3.7-3.9 1zM162.5 340.3l3.9-1.1-4-3.8-3.9 1.1zM154.5 337.5l4-1-4-3.9-4 1zM146.5 334.7l4-1.1-4-3.9-4 1zM174.6 346.7l3.9-1.2-4.1-3.6-3.9 1.1zM166.6 344.1l3.9-1.1-4.1-3.8-3.9 1.1zM158.5 341.4l4-1.1-4-3.8-4 1zM150.5 338.6l4-1.1-4-3.9-4 1.1zM142.4 335.7l4.1-1-4-4-4.1 1.1zM170.7 347.8l3.9-1.1-4.1-3.7-3.9 1.1zM162.6 345.2l4-1.1-4.1-3.8-4 1.1zM154.5 342.5l4-1.1-4-3.9-4 1.1zM146.4 339.7l4.1-1.1-4-3.9-4.1 1zM166.7 349l4-1.2-4.1-3.7-4 1.1zM158.6 346.3l4-1.1-4.1-3.8-4 1.1zM150.5 343.6l4-1.1-4-3.9-4.1 1.1zM142.3 340.8l4.1-1.1-4-4-4.1 1.1zM162.7 350.2l4-1.2-4.1-3.8-4 1.1zM154.6 347.5l4-1.2-4.1-3.8-4 1.1zM146.4 344.8l4.1-1.2-4.1-3.9-4.1 1.1zM138.2 341.9l4.1-1.1-4-4-4.2 1.1zM158.7 351.3l4-1.1-4.1-3.9-4 1.2zM150.5 348.7l4.1-1.2-4.1-3.9-4.1 1.2zM142.2 345.9l4.2-1.1-4.1-4-4.1 1.1zM134 343.1l4.2-1.2-4.1-4-4.1 1.1zM154.6 352.6l4.1-1.3-4.1-3.8-4.1 1.2zM146.3 349.9l4.2-1.2-4.1-3.9-4.2 1.1zM138.1 347.1l4.1-1.2-4-4-4.2 1.2zM129.8 344.3l4.2-1.2-4-4.1-4.3 1.2zM150.5 353.8l4.1-1.2-4.1-3.9-4.2 1.2zM142.2 351.1l4.1-1.2-4.1-4-4.1 1.2zM133.9 348.3l4.2-1.2-4.1-4-4.2 1.2zM125.5 345.5l4.3-1.2-4.1-4.1-4.2 1.2zM146.3 355l4.2-1.2-4.2-3.9-4.1 1.2zM138 352.3l4.2-1.2-4.1-4-4.2 1.2zM129.6 349.5l4.3-1.2-4.1-4-4.3 1.2zM121.2 346.7l4.3-1.2-4-4.1-4.4 1.2zM142.1 356.3l4.2-1.3-4.1-3.9-4.2 1.2zM133.7 353.6l4.3-1.3-4.1-4-4.3 1.2zM125.3 350.8l4.3-1.3-4.1-4-4.3 1.2zM116.9 347.9l4.3-1.2-4.1-4.1-4.3 1.2zM137.8 357.6l4.3-1.3-4.1-4-4.3 1.3zM129.4 354.9l4.3-1.3-4.1-4.1-4.3 1.3zM120.9 352.1l4.4-1.3-4.1-4.1-4.3 1.2zM112.5 349.2l4.4-1.3-4.1-4.1-4.4 1.2zM133.6 358.9l4.2-1.3-4.1-4-4.3 1.3zM125.1 356.2l4.3-1.3-4.1-4.1-4.4 1.3zM116.5 353.4l4.4-1.3-4-4.2-4.4 1.3zM108 350.5l4.5-1.3-4.1-4.2-4.5 1.3zM129.2 360.2l4.4-1.3-4.2-4-4.3 1.3zM120.7 357.5l4.4-1.3-4.2-4.1-4.4 1.3zM112.1 354.7l4.4-1.3-4-4.2-4.5 1.3zM103.5 351.8l4.5-1.3-4.1-4.2-4.5 1.3zM124.8 361.6l4.4-1.4-4.1-4-4.4 1.3zM116.2 358.8l4.5-1.3-4.2-4.1-4.4 1.3zM107.6 356l4.5-1.3-4.1-4.2-4.5 1.3zM99 353.1l4.5-1.3-4.1-4.2-4.5 1.3zM120.4 362.9l4.4-1.3-4.1-4.1-4.5 1.3zM111.8 360.2l4.4-1.4-4.1-4.1-4.5 1.3zM103.1 357.4l4.5-1.4-4.1-4.2-4.5 1.3zM94.4 354.5l4.6-1.4-4.1-4.2-4.6 1.3zM115.9 364.3l4.5-1.4-4.2-4.1-4.4 1.4zM107.2 361.6l4.6-1.4-4.2-4.2-4.5 1.4zM98.5 358.8l4.6-1.4-4.1-4.3-4.6 1.4zM89.8 355.9l4.6-1.4-4.1-4.3-4.6 1.4zM111.4 365.7l4.5-1.4-4.1-4.1-4.6 1.4zM102.6 363l4.6-1.4-4.1-4.2-4.6 1.4zM93.9 360.2l4.6-1.4-4.1-4.3-4.6 1.4zM85.1 357.3l4.7-1.4-4.1-4.3-4.7 1.4zM106.8 367.1l4.6-1.4-4.2-4.1-4.6 1.4zM98 364.4l4.6-1.4-4.1-4.2-4.6 1.4zM89.2 361.6l4.7-1.4-4.1-4.3-4.7 1.4zM80.3 358.7l4.8-1.4-4.1-4.3-4.7 1.4zM102.2 368.6l4.6-1.5-4.2-4.1-4.6 1.4zM93.3 365.8l4.7-1.4-4.1-4.2-4.7 1.4zM84.5 363.1l4.7-1.5-4.1-4.3-4.8 1.4zM97.5 370l4.7-1.4-4.2-4.2-4.7 1.4zM88.6 367.3l4.7-1.5-4.1-4.2-4.7 1.5zM92.8 371.5l4.7-1.5-4.2-4.2-4.7 1.5z" fill="#00fc00" stroke="#00fc00" stroke-width="0.4"/>
<path d="M169.8 324.2l3.8-.9-3.9-3.6-3.8 .8z" fill="#24fc00" stroke="#24fc00" stroke-width="0.4"/>
<path d="M162.1 321.3l3.8-.8-3.9-3.7-3.8 .8z" fill="#72fc00" stroke="#72fc00" stroke-width="0.4"/>
<path d="M154.4 318.4l3.8-.8-3.9-3.8-3.8 .8z" fill="#b4fc00" stroke="#b4fc00" stroke-width="0.4"/>
<path d="M146.6 315.4l3.9-.8-3.9-3.8-3.9 .7z" fill="#f0fc00" stroke="#f0fc00" stroke-width="0.4"/>
<path d="M123.1 305.7l4.1-.7-3.8-4.1-4.1 .7zM119.1 306.5l4-.8-3.8-4.1-4 .7z" fill="#fca200" stroke="#fca200" stroke-width="0.4"/>
<path d="M166 325.1l3.8-.9-3.9-3.7-3.8 .8z" fill="#2afc00" stroke="#2afc00" stroke-width="0.4"/>
<path d="M158.3 322.2l3.8-.9-3.9-3.7-3.8 .8z" fill="#78fc00" stroke="#78fc00" stroke-width="0.4"/>
<path d="M150.5 319.2l3.9-.8-3.9-3.8-3.9 .8z" fill="#bafc00" stroke="#bafc00" stroke-width="0.4"/>
<path d="M142.7 316.2l3.9-.8-3.9-3.9-3.9 .7z" fill="#f6fc00" stroke="#f6fc00" stroke-width="0.4"/>
<path d="M134.8 313l4-.8-3.8-3.9-4 .7zM130.8 313.8l4-.8-3.8-4-4 .8zM126.8 314.7l4-.9-3.8-4-4.1 .8z" fill="#fce400" stroke="#fce400" stroke-width="0.4"/>
<path d="M127 309.8l4-.8-3.8-4-4.1 .7zM122.9 310.6l4.1-.8-3.9-4.1-4 .8z" fill="#fcc600" stroke="#fcc600" stroke-width="0.4"/>
<path d="M162.2 326l3.8-.9-3.9-3.8-3.8 .9z" fill="#30fc00" stroke="#30fc00" stroke-width="0.4"/>
<path d="M154.4 323.1l3.9-.9-3.9-3.8-3.9 .8z" fill="#7efc00" stroke="#7efc00" stroke-width="0.4"/>
<path d="M146.6 320.1l3.9-.9-3.9-3.8-3.9 .8zM142.6 321l4-.9-3.9-3.9-4 .8z" fill="#c0fc00" stroke="#c0fc00" stroke-width="0.4"/>
<path d="M115 307.2l4.1-.7-3.8-4.2-4.1 .8zM110.9 308l4.1-.8-3.8-4.1-4.2 .7z" fill="#fc9c00" stroke="#fc9c00" stroke-width="0.4"/>
<path d="M158.3 326.9l3.9-.9-3.9-3.8-3.9 .9z" fill="#36fc00" stroke="#36fc00" stroke-width="0.4"/>
<path d="M150.5 324l3.9-.9-3.9-3.9-3.9 .9z" fill="#84fc00" stroke="#84fc00" stroke-width="0.4"/>
<path d="M154.4 327.8l3.9-.9-3.9-3.8-3.9 .9zM150.5 328.8l3.9-1-3.9-3.8-4 .9z" fill="#3cfc00" stroke="#3cfc00" stroke-width="0.4"/>
<path d="M146.5 324.9l4-.9-3.9-3.9-4 .9z" fill="#8afc00" stroke="#8afc00" stroke-width="0.4"/>
<path d="M138.6 321.8l4-.8-3.9-4-4 .9z" fill="#c6fc00" stroke="#c6fc00" stroke-width="0.4"/>
<path d="M106.7 308.9l4.2-.9-3.9-4.2-4.1 .8zM102.5 309.7l4.2-.8-3.8-4.3-4.3 .8z" fill="#fc9600" stroke="#fc9600" stroke-width="0.4"/>
<path d="M197.7 344.7l3.7-1.1-4.1-3.4-3.7 1zM194 345.8l3.7-1.1-4.1-3.5-3.7 1.1z" fill="#00fc3c" stroke="#00fc3c" stroke-width="0.4"/>
<path d="M142.5 325.8l4-.9-3.9-3.9-4 .8zM138.5 326.8l4-1-3.9-4-4 1z" fill="#90fc00" stroke="#90fc00" stroke-width="0.4"/>
<path d="M134.6 322.8l4-1-3.9-3.9-4 .8zM130.5 323.7l4.1-.9-3.9-4.1-4.1 .9z" fill="#ccfc00" stroke="#ccfc00" stroke-width="0.4"/>
<path d="M201.8 348.2l3.7-1.1-4.1-3.5-3.7 1.1zM198.1 349.3l3.7-1.1-4.1-3.5-3.7 1.1zM194.4 350.5l3.7-1.2-4.1-3.5-3.8 1.1z" fill="#00fc72" stroke="#00fc72" stroke-width="0.4"/>
<path d="M146.5 329.7l4-.9-4-3.9-4 .9z" fill="#42fc00" stroke="#42fc00" stroke-width="0.4"/>
<path d="M98.2 310.6l4.3-.9-3.9-4.3-4.2 .9zM93.9 311.5l4.3-.9-3.8-4.3-4.3 .8zM89.5 312.5l4.4-1-3.8-4.4-4.4 .9zM85.2 313.5l4.3-1-3.8-4.5-4.4 1zM80.7 314.5l4.5-1-3.9-4.5-4.4 1z" fill="#fc9000" stroke="#fc9000" stroke-width="0.4"/>
<path d="M206 351.7l3.7-1.2-4.2-3.4-3.7 1.1zM202.3 352.9l3.7-1.2-4.2-3.5-3.7 1.1z" fill="#00fc96" stroke="#00fc96" stroke-width="0.4"/>
<path d="M190.2 346.9l3.8-1.1-4.1-3.5-3.8 1zM186.4 348.1l3.8-1.2-4.1-3.6-3.8 1.1z" fill="#00fc36" stroke="#00fc36" stroke-width="0.4"/>
<path d="M142.5 330.7l4-1-4-3.9-4 1z" fill="#48fc00" stroke="#48fc00" stroke-width="0.4"/>
<path d="M134.4 327.8l4.1-1-3.9-4-4.1 .9zM130.3 328.8l4.1-1-3.9-4.1-4.1 1z" fill="#96fc00" stroke="#96fc00" stroke-width="0.4"/>
<path d="M126.4 324.7l4.1-1-3.9-4.1-4.2 1z" fill="#d2fc00" stroke="#d2fc00" stroke-width="0.4"/>
<path d="M210.2 355.1l3.7-1.2-4.2-3.4-3.7 1.2z" fill="#00fcba" stroke="#00fcba" stroke-width="0.4"/>
<path d="M138.4 331.8l4.1-1.1-4-3.9-4.1 1z" fill="#4efc00" stroke="#4efc00" stroke-width="0.4"/>
<path d="M214.4 358.6l3.7-1.3-4.2-3.4-3.7 1.2zM210.7 359.8l3.7-1.2-4.2-3.5-3.7 1.2z" fill="#00fcde" stroke="#00fcde" stroke-width="0.4"/>
<path d="M206.5 356.3l3.7-1.2-4.2-3.4-3.7 1.2zM202.8 357.6l3.7-1.3-4.2-3.4-3.8 1.1zM199 358.8l3.8-1.2-4.3-3.6-3.7 1.2zM195.2 360l3.8-1.2-4.2-3.6-3.9 1.3zM191.3 361.3l3.9-1.3-4.3-3.5-3.8 1.2zM187.4 362.6l3.9-1.3-4.2-3.6-3.9 1.2z" fill="#00fcb4" stroke="#00fcb4" stroke-width="0.4"/>
<path d="M198.5 354l3.8-1.1-4.2-3.6-3.7 1.2zM194.8 355.2l3.7-1.2-4.1-3.5-3.8 1.2zM190.9 356.5l3.9-1.3-4.2-3.5-3.9 1.1zM187.1 357.7l3.8-1.2-4.2-3.7-3.8 1.2zM183.2 358.9l3.9-1.2-4.2-3.7-3.9 1.2zM179.2 360.2l4-1.3-4.2-3.7-4 1.3z" fill="#00fc90" stroke="#00fc90" stroke-width="0.4"/>
<path d="M190.6 351.7l3.8-1.2-4.2-3.6-3.8 1.2zM186.7 352.8l3.9-1.1-4.2-3.6-3.8 1.1zM182.9 354l3.8-1.2-4.1-3.6-3.9 1.2z" fill="#00fc6c" stroke="#00fc6c" stroke-width="0.4"/>
<path d="M182.6 349.2l3.8-1.1-4.1-3.7-3.8 1.1zM178.7 350.4l3.9-1.2-4.1-3.7-3.9 1.2z" fill="#00fc30" stroke="#00fc30" stroke-width="0.4"/>
<path d="M134.3 332.8l4.1-1-4-4-4.1 1zM130.1 333.9l4.2-1.1-4-4-4.1 1z" fill="#54fc00" stroke="#54fc00" stroke-width="0.4"/>
<path d="M126.2 329.8l4.1-1-3.9-4.1-4.2 1zM122 330.8l4.2-1-4-4.1-4.2 1z" fill="#9cfc00" stroke="#9cfc00" stroke-width="0.4"/>
<path d="M218.7 362l3.7-1.3-4.3-3.4-3.7 1.3zM215 363.2l3.7-1.2-4.3-3.4-3.7 1.2zM211.3 364.5l3.7-1.3-4.3-3.4-3.7 1.3zM207.5 365.8l3.8-1.3-4.3-3.4-3.8 1.2zM203.7 367.1l3.8-1.3-4.3-3.5-3.8 1.3zM199.9 368.5l3.8-1.4-4.3-3.5-3.8 1.3zM196 369.8l3.9-1.3-4.3-3.6-3.9 1.3zM192 371.1l4-1.3-4.3-3.6-4 1.3zM188.1 372.5l3.9-1.4-4.3-3.6-3.9 1.3zM127.7 398l4.7-1.6-4.4-3.8-4.7 1.5zM123 399.5l4.7-1.5-4.4-3.9-4.7 1.6z" fill="#00fcfc" stroke="#00fcfc" stroke-width="0.4"/>
<path d="M138.3 336.8l4.1-1.1-4-3.9-4.1 1z" fill="#06fc00" stroke="#06fc00" stroke-width="0.4"/>
<path d="M223 365.4l3.7-1.3-4.3-3.4-3.7 1.3zM219.3 366.7l3.7-1.3-4.3-3.4-3.7 1.2zM215.6 368l3.7-1.3-4.3-3.5-3.7 1.3zM211.8 369.3l3.8-1.3-4.3-3.5-3.8 1.3zM208 370.7l3.8-1.4-4.3-3.5-3.8 1.3zM204.2 372l3.8-1.3-4.3-3.6-3.8 1.4zM127.5 403.3l4.7-1.5-4.5-3.8-4.7 1.5z" fill="#00defc" stroke="#00defc" stroke-width="0.4"/>
<path d="M207 361.1l3.7-1.3-4.2-3.5-3.7 1.3zM203.2 362.3l3.8-1.2-4.2-3.5-3.8 1.2zM199.4 363.6l3.8-1.3-4.2-3.5-3.8 1.2zM195.6 364.9l3.8-1.3-4.2-3.6-3.9 1.3zM191.7 366.2l3.9-1.3-4.3-3.6-3.9 1.3zM187.7 367.5l4-1.3-4.3-3.6-3.9 1.3z" fill="#00fcd8" stroke="#00fcd8" stroke-width="0.4"/>
<path d="M174.8 351.5l3.9-1.1-4.1-3.7-3.9 1.1zM170.9 352.7l3.9-1.2-4.1-3.7-4 1.2z" fill="#00fc2a" stroke="#00fc2a" stroke-width="0.4"/>
<path d="M134.1 337.9l4.2-1.1-4-4-4.2 1.1zM130 339l4.1-1.1-4-4-4.2 1.1zM125.7 340.2l4.3-1.2-4.1-4-4.2 1.1z" fill="#0cfc00" stroke="#0cfc00" stroke-width="0.4"/>
<path d="M125.9 335l4.2-1.1-3.9-4.1-4.2 1zM121.7 336.1l4.2-1.1-3.9-4.2-4.3 1.1z" fill="#5afc00" stroke="#5afc00" stroke-width="0.4"/>
<path d="M76.2 315.5l4.5-1-3.8-4.5-4.5 1zM71.7 316.6l4.5-1.1-3.8-4.5-4.5 1zM67.2 317.7l4.5-1.1-3.8-4.6-4.6 1.1zM62.5 318.8l4.7-1.1-3.9-4.6-4.6 1.1zM57.9 320l4.6-1.2-3.8-4.6-4.7 1.1zM53.2 321.2l4.7-1.2-3.9-4.7-4.7 1.2zM48.4 322.5l4.8-1.3-3.9-4.7-4.8 1.2z" fill="#fc8a00" stroke="#fc8a00" stroke-width="0.4"/>
<path d="M227.3 368.7l3.7-1.3-4.3-3.3-3.7 1.3zM223.7 370.1l3.6-1.4-4.3-3.3-3.7 1.3zM219.9 371.4l3.8-1.3-4.4-3.4-3.7 1.3zM145.9 402.4l4.6-1.5-4.5-3.7-4.6 1.5zM141.3 404l4.6-1.6-4.5-3.7-4.6 1.5z" fill="#00bafc" stroke="#00bafc" stroke-width="0.4"/>
<path d="M179 355.2l3.9-1.2-4.2-3.6-3.9 1.1zM175 356.5l4-1.3-4.2-3.7-3.9 1.2z" fill="#00fc66" stroke="#00fc66" stroke-width="0.4"/>
<path d="M231.7 372.1l3.6-1.4-4.3-3.3-3.7 1.3zM228 373.4l3.7-1.3-4.4-3.4-3.6 1.4zM224.3 374.8l3.7-1.4-4.3-3.3-3.8 1.3zM220.6 376.2l3.7-1.4-4.4-3.4-3.7 1.4zM216.8 377.6l3.8-1.4-4.4-3.4-3.8 1.3zM213 379l3.8-1.4-4.4-3.5-3.9 1.4zM209.1 380.4l3.9-1.4-4.5-3.5-3.8 1.4zM205.2 381.8l3.9-1.4-4.4-3.5-3.9 1.4zM201.2 383.2l4-1.4-4.4-3.5-4 1.4zM197.3 384.7l3.9-1.5-4.4-3.5-4 1.4zM155 404.6l4.5-1.6-4.5-3.6-4.5 1.5zM150.5 406.1l4.5-1.5-4.5-3.7-4.6 1.5zM145.9 407.6l4.6-1.5-4.6-3.7-4.6 1.6zM141.2 409.2l4.7-1.6-4.6-3.6-4.6 1.5z" fill="#00a8fc" stroke="#00a8fc" stroke-width="0.4"/>
<path d="M166.9 353.9l4-1.2-4.2-3.7-4 1.2zM162.8 355.2l4.1-1.3-4.2-3.7-4 1.1zM158.7 356.4l4.1-1.2-4.1-3.9-4.1 1.3zM154.6 357.7l4.1-1.3-4.1-3.8-4.1 1.2z" fill="#00fc24" stroke="#00fc24" stroke-width="0.4"/>
<path d="M236.1 375.4l3.6-1.4-4.4-3.3-3.6 1.4zM232.4 376.8l3.7-1.4-4.4-3.3-3.7 1.3zM228.7 378.2l3.7-1.4-4.4-3.4-3.7 1.4zM225 379.6l3.7-1.4-4.4-3.4-3.7 1.4zM221.2 381l3.8-1.4-4.4-3.4-3.8 1.4zM217.4 382.5l3.8-1.5-4.4-3.4-3.8 1.4zM213.5 383.9l3.9-1.4-4.4-3.5-3.9 1.4zM209.6 385.3l3.9-1.4-4.4-3.5-3.9 1.4zM205.7 386.8l3.9-1.5-4.4-3.5-4 1.4zM201.7 388.2l4-1.4-4.5-3.6-3.9 1.5zM159.6 408.2l4.5-1.5-4.6-3.7-4.5 1.6zM155.1 409.7l4.5-1.5-4.6-3.6-4.5 1.5zM150.5 411.3l4.6-1.6-4.6-3.6-4.6 1.5z" fill="#0096fc" stroke="#0096fc" stroke-width="0.4"/>
<path d="M171 357.7l4-1.2-4.1-3.8-4 1.2zM167 359l4-1.3-4.1-3.8-4.1 1.3zM162.9 360.2l4.1-1.2-4.2-3.8-4.1 1.2z" fill="#00fc60" stroke="#00fc60" stroke-width="0.4"/>
<path d="M121.5 341.4l4.2-1.2-4-4.1-4.3 1.1zM117.1 342.6l4.4-1.2-4.1-4.2-4.3 1.2zM112.8 343.8l4.3-1.2-4-4.2-4.3 1.2z" fill="#12fc00" stroke="#12fc00" stroke-width="0.4"/>
<path d="M240.6 378.7l3.6-1.4-4.5-3.3-3.6 1.4zM236.9 380.1l3.7-1.4-4.5-3.3-3.7 1.4zM233.2 381.6l3.7-1.5-4.5-3.3-3.7 1.4zM229.5 383l3.7-1.4-4.5-3.4-3.7 1.4zM225.7 384.4l3.8-1.4-4.5-3.4-3.8 1.4zM221.9 385.9l3.8-1.5-4.5-3.4-3.8 1.5zM173.1 408.7l4.4-1.5-4.6-3.6-4.4 1.5zM168.7 410.3l4.4-1.6-4.6-3.6-4.4 1.6z" fill="#007efc" stroke="#007efc" stroke-width="0.4"/>
<path d="M216.2 372.8l3.7-1.4-4.3-3.4-3.8 1.3zM212.4 374.1l3.8-1.3-4.4-3.5-3.8 1.4zM208.5 375.5l3.9-1.4-4.4-3.4-3.8 1.3zM204.7 376.9l3.8-1.4-4.3-3.5-3.9 1.3zM200.8 378.3l3.9-1.4-4.4-3.6-3.9 1.4zM196.8 379.7l4-1.4-4.4-3.6-4 1.4zM192.8 381.1l4-1.4-4.4-3.6-4 1.4zM136.7 405.5l4.6-1.5-4.5-3.8-4.6 1.6zM132 407.1l4.7-1.6-4.5-3.7-4.7 1.5z" fill="#00c0fc" stroke="#00c0fc" stroke-width="0.4"/>
<path d="M183.5 363.9l3.9-1.3-4.2-3.7-4 1.3zM179.5 365.2l4-1.3-4.3-3.7-4 1.2zM175.5 366.5l4-1.3-4.3-3.8-4 1.3zM171.4 367.8l4.1-1.3-4.3-3.8-4 1.3z" fill="#00fcae" stroke="#00fcae" stroke-width="0.4"/>
<path d="M175.2 361.4l4-1.2-4.2-3.7-4 1.2zM171.2 362.7l4-1.3-4.2-3.7-4 1.3zM167.2 364l4-1.3-4.2-3.7-4.1 1.2zM163 365.3l4.2-1.3-4.3-3.8-4.1 1.3z" fill="#00fc8a" stroke="#00fc8a" stroke-width="0.4"/>
<path d="M245 382l3.7-1.4-4.5-3.3-3.6 1.4zM241.4 383.5l3.6-1.5-4.4-3.3-3.7 1.4zM237.7 384.9l3.7-1.4-4.5-3.4-3.7 1.5zM234 386.4l3.7-1.5-4.5-3.3-3.7 1.4zM230.2 387.8l3.8-1.4-4.5-3.4-3.8 1.4zM226.4 389.3l3.8-1.5-4.5-3.4-3.8 1.5zM222.6 390.8l3.8-1.5-4.5-3.4-3.9 1.4zM218.7 392.2l3.9-1.4-4.6-3.5-3.9 1.5zM214.7 393.7l4-1.5-4.6-3.4-3.9 1.4zM186.4 409.2l4.3-1.5-4.6-3.5-4.3 1.5zM182.1 410.7l4.3-1.5-4.6-3.5-4.3 1.5zM177.8 412.3l4.3-1.6-4.6-3.5-4.4 1.5zM173.3 413.8l4.5-1.5-4.7-3.6-4.4 1.6z" fill="#006cfc" stroke="#006cfc" stroke-width="0.4"/>
<path d="M249.6 385.3l3.6-1.5-4.5-3.2-3.7 1.4zM245.9 386.7l3.7-1.4-4.6-3.3-3.6 1.5zM242.2 388.2l3.7-1.5-4.5-3.2-3.7 1.4z" fill="#005afc" stroke="#005afc" stroke-width="0.4"/>
<path d="M200.3 373.3l3.9-1.3-4.3-3.5-3.9 1.3zM196.4 374.7l3.9-1.4-4.3-3.5-4 1.3zM192.4 376.1l4-1.4-4.4-3.6-3.9 1.4zM188.4 377.5l4-1.4-4.3-3.6-4 1.3zM184.4 378.9l4-1.4-4.3-3.7-4.1 1.4zM180.3 380.3l4.1-1.4-4.4-3.7-4.1 1.4z" fill="#00e4fc" stroke="#00e4fc" stroke-width="0.4"/>
<path d="M183.8 368.8l3.9-1.3-4.2-3.6-4 1.3zM179.8 370.2l4-1.4-4.3-3.6-4 1.3zM175.7 371.5l4.1-1.3-4.3-3.7-4.1 1.3zM171.6 372.9l4.1-1.4-4.3-3.7-4.1 1.3z" fill="#00fcd2" stroke="#00fcd2" stroke-width="0.4"/>
<path d="M158.8 361.5l4.1-1.3-4.2-3.8-4.1 1.3zM154.7 362.8l4.1-1.3-4.2-3.8-4.1 1.2zM150.5 364.1l4.2-1.3-4.2-3.9-4.2 1.3z" fill="#00fc5a" stroke="#00fc5a" stroke-width="0.4"/>
<path d="M150.5 358.9l4.1-1.2-4.1-3.9-4.2 1.2zM146.3 360.2l4.2-1.3-4.2-3.9-4.2 1.3z" fill="#00fc1e" stroke="#00fc1e" stroke-width="0.4"/>
<path d="M99.9 342l4.5-1.2-4.1-4.3-4.4 1.2zM95.4 343.3l4.5-1.3-4-4.3-4.5 1.2zM90.9 344.6l4.5-1.3-4-4.4-4.6 1.3zM86.3 345.9l4.6-1.3-4.1-4.4-4.6 1.3zM81.6 347.2l4.7-1.3-4.1-4.4-4.6 1.3zM76.9 348.6l4.7-1.4-4-4.4-4.7 1.3zM72.2 350l4.7-1.4-4-4.5-4.7 1.4z" fill="#66fc00" stroke="#66fc00" stroke-width="0.4"/>
<path d="M184.1 373.8l4-1.3-4.3-3.7-4 1.4zM180 375.2l4.1-1.4-4.3-3.6-4.1 1.3zM175.9 376.6l4.1-1.4-4.3-3.7-4.1 1.4zM171.8 378l4.1-1.4-4.3-3.7-4.1 1.3z" fill="#00fcf6" stroke="#00fcf6" stroke-width="0.4"/>
<path d="M167.3 369.1l4.1-1.3-4.2-3.8-4.2 1.3zM163.2 370.5l4.1-1.4-4.3-3.8-4.1 1.4zM159 371.8l4.2-1.3-4.3-3.8-4.2 1.3zM154.7 373.2l4.3-1.4-4.3-3.8-4.2 1.4zM150.5 374.6l4.2-1.4-4.2-3.8-4.3 1.3zM146.2 376l4.3-1.4-4.3-3.9-4.3 1.4z" fill="#00fca8" stroke="#00fca8" stroke-width="0.4"/>
<path d="M158.9 366.7l4.1-1.4-4.2-3.8-4.1 1.3zM154.7 368l4.2-1.3-4.2-3.9-4.2 1.3zM150.5 369.4l4.2-1.4-4.2-3.9-4.3 1.4zM146.2 370.7l4.3-1.3-4.3-3.9-4.3 1.3zM141.9 372.1l4.3-1.4-4.3-3.9-4.3 1.4zM137.5 373.5l4.4-1.4-4.3-3.9-4.4 1.4zM133.1 374.9l4.4-1.4-4.3-3.9-4.4 1.4z" fill="#00fc84" stroke="#00fc84" stroke-width="0.4"/>
<path d="M142 361.5l4.3-1.3-4.2-3.9-4.3 1.3zM137.7 362.9l4.3-1.4-4.2-3.9-4.2 1.3zM133.4 364.2l4.3-1.3-4.1-4-4.4 1.3zM129 365.6l4.4-1.4-4.2-4-4.4 1.4zM124.6 367l4.4-1.4-4.2-4-4.4 1.3zM120.1 368.4l4.5-1.4-4.2-4.1-4.5 1.4z" fill="#00fc18" stroke="#00fc18" stroke-width="0.4"/>
<path d="M238.5 389.7l3.7-1.5-4.5-3.3-3.7 1.5zM234.8 391.2l3.7-1.5-4.5-3.3-3.8 1.4zM231 392.7l3.8-1.5-4.6-3.4-3.8 1.5zM227.1 394.2l3.9-1.5-4.6-3.4-3.8 1.5zM223.3 395.7l3.8-1.5-4.5-3.4-3.9 1.4zM219.3 397.1l4-1.4-4.6-3.5-4 1.5zM215.4 398.6l3.9-1.5-4.6-3.4-3.9 1.5zM211.4 400.1l4-1.5-4.6-3.4-4 1.5zM207.3 401.6l4.1-1.5-4.6-3.4-4.1 1.5zM203.2 403.2l4.1-1.6-4.6-3.4-4.1 1.5z" fill="#0060fc" stroke="#0060fc" stroke-width="0.4"/>
<path d="M146.2 365.5l4.3-1.4-4.2-3.9-4.3 1.3zM141.9 366.8l4.3-1.3-4.2-4-4.3 1.4zM137.6 368.2l4.3-1.4-4.2-3.9-4.3 1.3zM133.2 369.6l4.4-1.4-4.2-4-4.4 1.4zM128.8 371l4.4-1.4-4.2-4-4.4 1.4z" fill="#00fc54" stroke="#00fc54" stroke-width="0.4"/>
<path d="M218 387.3l3.9-1.4-4.5-3.4-3.9 1.4zM214.1 388.8l3.9-1.5-4.5-3.4-3.9 1.4zM210.2 390.2l3.9-1.4-4.5-3.5-3.9 1.5zM206.2 391.7l4-1.5-4.5-3.4-4 1.4zM202.2 393.2l4-1.5-4.5-3.5-4 1.5zM198.2 394.7l4-1.5-4.5-3.5-4.1 1.4zM194.1 396.1l4.1-1.4-4.6-3.6-4.1 1.5zM164.2 411.8l4.5-1.5-4.6-3.6-4.5 1.5zM159.7 413.3l4.5-1.5-4.6-3.6-4.5 1.5zM155.1 414.9l4.6-1.6-4.6-3.6-4.6 1.6z" fill="#0084fc" stroke="#0084fc" stroke-width="0.4"/>
<path d="M167.5 374.2l4.1-1.3-4.3-3.8-4.1 1.4zM163.3 375.6l4.2-1.4-4.3-3.7-4.2 1.3zM159.1 377l4.2-1.4-4.3-3.8-4.3 1.4zM154.8 378.4l4.3-1.4-4.4-3.8-4.2 1.4zM150.5 379.9l4.3-1.5-4.3-3.8-4.3 1.4z" fill="#00fccc" stroke="#00fccc" stroke-width="0.4"/>
<path d="M188.8 382.5l4-1.4-4.4-3.6-4 1.4zM184.7 383.9l4.1-1.4-4.4-3.6-4.1 1.4zM180.6 385.3l4.1-1.4-4.4-3.6-4.1 1.4zM176.4 386.8l4.2-1.5-4.4-3.6-4.2 1.4z" fill="#00c6fc" stroke="#00c6fc" stroke-width="0.4"/>
<path d="M193.2 386.1l4.1-1.4-4.5-3.6-4 1.4zM189.2 387.5l4-1.4-4.4-3.6-4.1 1.4zM185 389l4.2-1.5-4.5-3.6-4.1 1.4zM180.9 390.4l4.1-1.4-4.4-3.7-4.2 1.5zM176.7 391.9l4.2-1.5-4.5-3.6-4.2 1.4zM172.4 393.4l4.3-1.5-4.5-3.7-4.2 1.5zM136.6 410.8l4.6-1.6-4.5-3.7-4.7 1.6z" fill="#00aefc" stroke="#00aefc" stroke-width="0.4"/>
<path d="M176.2 381.7l4.1-1.4-4.4-3.7-4.1 1.4zM172 383.1l4.2-1.4-4.4-3.7-4.2 1.4zM167.8 384.5l4.2-1.4-4.4-3.7-4.2 1.4zM163.5 386l4.3-1.5-4.4-3.7-4.3 1.4z" fill="#00eafc" stroke="#00eafc" stroke-width="0.4"/>
<path d="M167.6 379.4l4.2-1.4-4.3-3.8-4.2 1.4zM163.4 380.8l4.2-1.4-4.3-3.8-4.2 1.4zM159.1 382.2l4.3-1.4-4.3-3.8-4.3 1.4zM154.8 383.7l4.3-1.5-4.3-3.8-4.3 1.5zM150.5 385.1l4.3-1.4-4.3-3.8-4.4 1.4z" fill="#00fcf0" stroke="#00fcf0" stroke-width="0.4"/>
<path d="M197.7 389.7l4-1.5-4.4-3.5-4.1 1.4zM193.6 391.1l4.1-1.4-4.5-3.6-4 1.4zM189.5 392.6l4.1-1.5-4.4-3.6-4.2 1.5zM185.4 394l4.1-1.4-4.5-3.6-4.1 1.4zM181.2 395.5l4.2-1.5-4.5-3.6-4.2 1.5zM176.9 397l4.3-1.5-4.5-3.6-4.3 1.5zM172.6 398.5l4.3-1.5-4.5-3.6-4.3 1.5zM145.8 412.8l4.7-1.5-4.6-3.7-4.7 1.6zM141.1 414.4l4.7-1.6-4.6-3.6-4.6 1.6z" fill="#009cfc" stroke="#009cfc" stroke-width="0.4"/>
<path d="M210.8 395.2l3.9-1.5-4.5-3.5-4 1.5zM206.8 396.7l4-1.5-4.6-3.5-4 1.5zM202.7 398.2l4.1-1.5-4.6-3.5-4 1.5zM198.6 399.7l4.1-1.5-4.5-3.5-4.1 1.4zM194.5 401.2l4.1-1.5-4.5-3.6-4.2 1.5zM168.9 415.3l4.4-1.5-4.6-3.5-4.5 1.5zM164.3 416.9l4.6-1.6-4.7-3.5-4.5 1.5z" fill="#0072fc" stroke="#0072fc" stroke-width="0.4"/>
<path d="M141.8 377.4l4.4-1.4-4.3-3.9-4.4 1.4zM137.4 378.9l4.4-1.5-4.3-3.9-4.4 1.4zM132.9 380.3l4.5-1.4-4.3-4-4.5 1.5zM128.4 381.8l4.5-1.5-4.3-3.9-4.5 1.4zM123.8 383.3l4.6-1.5-4.3-4-4.6 1.5z" fill="#00fca2" stroke="#00fca2" stroke-width="0.4"/>
<path d="M124.3 372.4l4.5-1.4-4.2-4-4.5 1.4zM119.8 373.8l4.5-1.4-4.2-4-4.5 1.4zM115.3 375.3l4.5-1.5-4.2-4-4.6 1.4zM110.6 376.8l4.7-1.5-4.3-4.1-4.6 1.5zM106 378.3l4.6-1.5-4.2-4.1-4.7 1.5z" fill="#00fc4e" stroke="#00fc4e" stroke-width="0.4"/>
<path d="M115.6 369.8l4.5-1.4-4.2-4.1-4.5 1.4zM111 371.2l4.6-1.4-4.2-4.1-4.6 1.4zM106.4 372.7l4.6-1.5-4.2-4.1-4.6 1.5zM101.7 374.2l4.7-1.5-4.2-4.1-4.7 1.4zM97 375.7l4.7-1.5-4.2-4.2-4.7 1.5z" fill="#00fc12" stroke="#00fc12" stroke-width="0.4"/>
<path d="M172.2 388.2l4.2-1.4-4.4-3.7-4.2 1.4zM168 389.7l4.2-1.5-4.4-3.7-4.3 1.5zM163.7 391.2l4.3-1.5-4.5-3.7-4.3 1.4zM159.3 392.7l4.4-1.5-4.5-3.8-4.3 1.5z" fill="#00ccfc" stroke="#00ccfc" stroke-width="0.4"/>
<path d="M146.1 381.3l4.4-1.4-4.3-3.9-4.4 1.4zM141.7 382.8l4.4-1.5-4.3-3.9-4.4 1.5zM137.2 384.2l4.5-1.4-4.3-3.9-4.5 1.4zM132.7 385.7l4.5-1.5-4.3-3.9-4.5 1.5z" fill="#00fcc6" stroke="#00fcc6" stroke-width="0.4"/>
<path d="M128.6 376.4l4.5-1.5-4.3-3.9-4.5 1.4zM124.1 377.8l4.5-1.4-4.3-4-4.5 1.4zM119.5 379.3l4.6-1.5-4.3-4-4.5 1.5zM114.9 380.8l4.6-1.5-4.2-4-4.7 1.5zM110.2 382.3l4.7-1.5-4.3-4-4.6 1.5zM105.5 383.8l4.7-1.5-4.2-4-4.7 1.5z" fill="#00fc7e" stroke="#00fc7e" stroke-width="0.4"/>
<path d="M159.2 387.4l4.3-1.4-4.4-3.8-4.3 1.5zM154.9 388.9l4.3-1.5-4.4-3.7-4.3 1.4zM150.5 390.4l4.4-1.5-4.4-3.8-4.4 1.5zM146 391.9l4.5-1.5-4.4-3.8-4.5 1.5z" fill="#00f0fc" stroke="#00f0fc" stroke-width="0.4"/>
<path d="M189.9 397.6l4.2-1.5-4.6-3.5-4.1 1.4zM185.7 399.1l4.2-1.5-4.5-3.6-4.2 1.5zM181.5 400.6l4.2-1.5-4.5-3.6-4.3 1.5zM177.2 402.1l4.3-1.5-4.6-3.6-4.3 1.5zM150.5 416.4l4.6-1.5-4.6-3.6-4.7 1.5zM145.8 418l4.7-1.6-4.7-3.6-4.7 1.6z" fill="#008afc" stroke="#008afc" stroke-width="0.4"/>
<path d="M146.1 386.6l4.4-1.5-4.4-3.8-4.4 1.5zM141.6 388.1l4.5-1.5-4.4-3.8-4.5 1.4zM137.1 389.6l4.5-1.5-4.4-3.9-4.5 1.5z" fill="#00fcea" stroke="#00fcea" stroke-width="0.4"/>
<path d="M168.1 394.9l4.3-1.5-4.4-3.7-4.3 1.5zM163.8 396.4l4.3-1.5-4.4-3.7-4.4 1.5zM159.4 397.9l4.4-1.5-4.5-3.7-4.4 1.4zM155 399.4l4.4-1.5-4.5-3.8-4.4 1.5zM150.5 400.9l4.5-1.5-4.5-3.8-4.5 1.6z" fill="#00b4fc" stroke="#00b4fc" stroke-width="0.4"/>
<path d="M199.1 404.7l4.1-1.5-4.6-3.5-4.1 1.5zM194.9 406.2l4.2-1.5-4.6-3.5-4.2 1.5zM190.7 407.7l4.2-1.5-4.6-3.5-4.2 1.5z" fill="#0066fc" stroke="#0066fc" stroke-width="0.4"/>
<path d="M190.3 402.7l4.2-1.5-4.6-3.6-4.2 1.5zM186.1 404.2l4.2-1.5-4.6-3.6-4.2 1.5zM181.8 405.7l4.3-1.5-4.6-3.6-4.3 1.5zM177.5 407.2l4.3-1.5-4.6-3.6-4.3 1.5zM159.8 418.4l4.5-1.5-4.6-3.6-4.6 1.6zM155.2 419.9l4.6-1.5-4.7-3.5-4.6 1.5zM150.5 421.5l4.7-1.6-4.7-3.5-4.7 1.6z" fill="#0078fc" stroke="#0078fc" stroke-width="0.4"/>
<path d="M154.9 394.1l4.4-1.4-4.4-3.8-4.4 1.5zM150.5 395.6l4.4-1.5-4.4-3.7-4.5 1.5zM146 397.2l4.5-1.6-4.5-3.7-4.5 1.5z" fill="#00d2fc" stroke="#00d2fc" stroke-width="0.4"/>
<path d="M128.2 387.2l4.5-1.5-4.3-3.9-4.6 1.5zM123.6 388.7l4.6-1.5-4.4-3.9-4.6 1.5zM118.9 390.2l4.7-1.5-4.4-3.9-4.6 1.5zM114.2 391.8l4.7-1.6-4.3-3.9-4.7 1.5z" fill="#00fcc0" stroke="#00fcc0" stroke-width="0.4"/>
<path d="M119.2 384.8l4.6-1.5-4.3-4-4.6 1.5zM114.6 386.3l4.6-1.5-4.3-4-4.7 1.5zM109.9 387.8l4.7-1.5-4.4-4-4.7 1.5z" fill="#00fc9c" stroke="#00fc9c" stroke-width="0.4"/>
<path d="M101.3 379.8l4.7-1.5-4.3-4.1-4.7 1.5z" fill="#00fc48" stroke="#00fc48" stroke-width="0.4"/>
<path d="M168.3 400l4.3-1.5-4.5-3.6-4.3 1.5zM163.9 401.5l4.4-1.5-4.5-3.6-4.4 1.5zM159.5 403l4.4-1.5-4.5-3.6-4.4 1.5z" fill="#00a2fc" stroke="#00a2fc" stroke-width="0.4"/>
<path d="M141.5 393.4l4.5-1.5-4.4-3.8-4.5 1.5zM137 394.9l4.5-1.5-4.4-3.8-4.5 1.5zM132.4 396.4l4.6-1.5-4.4-3.8-4.6 1.5z" fill="#00f6fc" stroke="#00f6fc" stroke-width="0.4"/>
<path d="M132.6 391.1l4.5-1.5-4.4-3.9-4.5 1.5zM128 392.6l4.6-1.5-4.4-3.9-4.6 1.5zM123.3 394.1l4.7-1.5-4.4-3.9-4.7 1.5zM118.6 395.7l4.7-1.6-4.4-3.9-4.7 1.6z" fill="#00fce4" stroke="#00fce4" stroke-width="0.4"/>
<path d="M172.9 403.6l4.3-1.5-4.6-3.6-4.3 1.5zM168.5 405.1l4.4-1.5-4.6-3.6-4.4 1.5zM164.1 406.7l4.4-1.6-4.6-3.6-4.4 1.5z" fill="#0090fc" stroke="#0090fc" stroke-width="0.4"/>
<path d="M141.4 398.7l4.6-1.5-4.5-3.8-4.5 1.5zM136.8 400.2l4.6-1.5-4.4-3.8-4.6 1.5zM132.2 401.8l4.6-1.6-4.4-3.8-4.7 1.6z" fill="#00d8fc" stroke="#00d8fc" stroke-width="0.4"/>
<path d="M150.5 421.5l4.7-1.6 4.6-1.5 4.5-1.5 4.6-1.6 4.4-1.5 4.5-1.5 4.3-1.6 4.3-1.5 4.3-1.5 4.2-1.5 4.2-1.5 4.1-1.5 4.1-1.6 4.1-1.5 4-1.5 3.9-1.5 4-1.4 3.8-1.5 3.9-1.5 3.8-1.5 3.7-1.5 3.7-1.5 3.7-1.5 3.7-1.4 3.6-1.5M150.5 421.5l-4.7-3.5-4.7-3.6-4.5-3.6-4.6-3.7-4.5-3.8-4.5-3.8-4.4-3.8-4.4-3.9-4.3-4-4.4-4-4.2-4-4.3-4.1-4.2-4.2-4.2-4.2-4.1-4.2-4.2-4.4-4-4.3-4.1-4.4-4-4.5-4-4.5-4-4.6-4-4.6-3.9-4.6-3.9-4.7-3.9-4.8M145.8 418l4.7-1.6 4.6-1.5 4.6-1.6 4.5-1.5 4.5-1.5 4.4-1.6 4.4-1.5 4.3-1.5 4.3-1.5 4.2-1.5 4.2-1.5 4.1-1.5 4.1-1.5 4.1-1.5 4-1.5 3.9-1.5 4-1.5 3.9-1.4 3.8-1.5 3.8-1.5 3.8-1.4 3.7-1.5 3.7-1.4 3.6-1.5 3.7-1.4M155.2 419.9l-4.7-3.5-4.7-3.6-4.6-3.6-4.5-3.7-4.5-3.7-4.5-3.8-4.4-3.9-4.4-3.9-4.3-3.9-4.4-4-4.2-4-4.3-4.1-4.2-4.2-4.2-4.2-4.1-4.2-4.1-4.3-4.1-4.3-4.1-4.4-4-4.5-4-4.4-4-4.6-3.9-4.6-3.9-4.6-3.9-4.7-3.9-4.7M141.1 414.4l4.7-1.6 4.7-1.5 4.6-1.6 4.5-1.5 4.5-1.5 4.4-1.6 4.4-1.5 4.3-1.5 4.3-1.5 4.2-1.5 4.2-1.5 4.2-1.5 4.1-1.4 4-1.5 4-1.5 4-1.5 3.9-1.4 3.9-1.5 3.9-1.4 3.8-1.5 3.8-1.4 3.7-1.4 3.7-1.5 3.7-1.4 3.6-1.4M159.8 418.4l-4.7-3.5-4.6-3.6-4.6-3.7-4.6-3.6-4.5-3.8-4.4-3.8-4.4-3.8-4.4-3.9-4.4-3.9-4.3-4-4.3-4-4.2-4.1-4.2-4.1-4.2-4.2-4.1-4.2-4.1-4.3-4.1-4.3-4.1-4.4-4-4.4-4-4.5-4-4.5-3.9-4.5-3.9-4.6-3.9-4.7-3.9-4.7M136.6 410.8l4.6-1.6 4.7-1.6 4.6-1.5 4.5-1.5 4.5-1.6 4.4-1.5 4.4-1.5 4.3-1.5 4.3-1.5 4.3-1.5 4.2-1.5 4.1-1.4 4.1-1.5 4.1-1.4 4-1.5 4-1.4 3.9-1.5 3.9-1.4 3.9-1.4 3.8-1.5 3.8-1.4 3.7-1.4 3.7-1.4 3.7-1.4 3.6-1.4M164.3 416.9l-4.6-3.6-4.6-3.6-4.6-3.6-4.6-3.7-4.5-3.7-4.4-3.8-4.4-3.8-4.4-3.9-4.4-3.9-4.3-4-4.2-4-4.3-4.1-4.2-4.1-4.2-4.1-4.1-4.2-4.1-4.3-4.1-4.3-4-4.3-4.1-4.4-4-4.5-3.9-4.4-4-4.6-3.9-4.5-3.9-4.7-3.8-4.6M132 407.1l4.7-1.6 4.6-1.5 4.6-1.6 4.6-1.5 4.5-1.5 4.4-1.5 4.4-1.5 4.3-1.5 4.3-1.5 4.3-1.5 4.2-1.5 4.1-1.4 4.2-1.5 4-1.4 4.1-1.4 3.9-1.5 4-1.4 3.9-1.4 3.9-1.4 3.8-1.4 3.8-1.4 3.7-1.4 3.7-1.4 3.7-1.3 3.6-1.4M168.9 415.3l-4.7-3.5-4.6-3.6-4.6-3.6-4.5-3.7-4.5-3.7-4.5-3.8-4.4-3.8-4.4-3.9-4.3-3.9-4.3-4-4.3-4-4.2-4-4.2-4.1-4.2-4.1-4.1-4.2-4.1-4.3-4.1-4.2-4-4.3-4.1-4.4-4-4.4-3.9-4.5-4-4.5-3.9-4.5-3.8-4.6-3.9-4.6M127.5 403.3l4.7-1.5 4.6-1.6 4.6-1.5 4.6-1.5 4.5-1.6 4.4-1.5 4.4-1.4 4.4-1.5 4.3-1.5 4.2-1.5 4.2-1.4 4.2-1.5 4.1-1.4 4.1-1.4 4-1.4 4-1.4 4-1.4 3.9-1.4 3.8-1.4 3.9-1.4 3.8-1.3 3.7-1.4 3.8-1.3 3.6-1.4 3.7-1.3M173.3 413.8l-4.6-3.5-4.6-3.6-4.6-3.7-4.5-3.6-4.5-3.8-4.5-3.7-4.4-3.8-4.4-3.9-4.3-3.9-4.3-3.9-4.3-4-4.2-4-4.2-4.1-4.1-4.1-4.2-4.2-4.1-4.2-4.1-4.2-4-4.3-4-4.4-4-4.3-4-4.5-3.9-4.4-3.9-4.5-3.9-4.6-3.8-4.6M123 399.5l4.7-1.5 4.7-1.6 4.6-1.5 4.5-1.5 4.5-1.5 4.5-1.5 4.4-1.5 4.3-1.5 4.3-1.4 4.3-1.5 4.2-1.4 4.2-1.4 4.1-1.4 4.1-1.4 4-1.4 4-1.4 4-1.4 3.9-1.4 3.9-1.3 3.8-1.3 3.8-1.4 3.8-1.3 3.7-1.3 3.7-1.3 3.7-1.3M177.8 412.3l-4.7-3.6-4.6-3.6-4.6-3.6-4.5-3.6-4.5-3.8-4.4-3.7-4.4-3.8-4.4-3.8-4.3-3.9-4.3-4-4.3-3.9-4.2-4-4.2-4.1-4.2-4.1-4.1-4.1-4.1-4.2-4.1-4.2-4-4.3-4-4.3-4-4.4-3.9-4.3-4-4.5-3.9-4.5-3.9-4.5-3.8-4.5M118.6 395.7l4.7-1.6 4.7-1.5 4.6-1.5 4.5-1.5 4.5-1.5 4.5-1.5 4.4-1.5 4.3-1.4 4.3-1.5 4.3-1.4 4.2-1.4 4.2-1.4 4.1-1.4 4.1-1.4 4.1-1.4 4-1.3 3.9-1.4 4-1.3 3.9-1.3 3.8-1.4 3.8-1.3 3.8-1.3 3.7-1.3 3.7-1.2 3.7-1.3M182.1 410.7l-4.6-3.5-4.6-3.6-4.6-3.6-4.5-3.6-4.5-3.7-4.4-3.8-4.4-3.8-4.4-3.8-4.3-3.9-4.3-3.9-4.3-3.9-4.2-4-4.2-4-4.1-4.1-4.2-4.1-4-4.2-4.1-4.2-4-4.2-4.1-4.3-3.9-4.3-4-4.4-3.9-4.4-3.9-4.4-3.9-4.5-3.8-4.5M114.2 391.8l4.7-1.6 4.7-1.5 4.6-1.5 4.5-1.5 4.5-1.5 4.5-1.4 4.4-1.5 4.4-1.4 4.3-1.5 4.3-1.4 4.2-1.4 4.2-1.4 4.1-1.3 4.1-1.4 4.1-1.3 4-1.4 3.9-1.3 4-1.3 3.9-1.3 3.8-1.3 3.8-1.3 3.8-1.2 3.7-1.3 3.7-1.2 3.7-1.3M186.4 409.2l-4.6-3.5-4.6-3.6-4.6-3.6-4.5-3.6-4.4-3.7-4.5-3.8-4.4-3.7-4.3-3.8-4.3-3.9-4.3-3.9-4.3-3.9-4.2-4-4.2-4-4.1-4-4.2-4.1-4-4.2-4.1-4.1-4-4.2-4-4.3-4-4.3-4-4.3-3.9-4.4-3.9-4.4-3.8-4.4-3.9-4.5M109.9 387.8l4.7-1.5 4.6-1.5 4.6-1.5 4.6-1.5 4.5-1.5 4.5-1.4 4.4-1.5 4.4-1.4 4.3-1.4 4.2-1.4 4.3-1.4 4.2-1.3 4.1-1.4 4.1-1.3 4.1-1.3 4-1.3 4-1.3 3.9-1.3 3.9-1.3 3.9-1.3 3.8-1.2 3.8-1.2 3.7-1.3 3.7-1.2 3.7-1.2M190.7 407.7l-4.6-3.5-4.6-3.6-4.6-3.6-4.5-3.6-4.4-3.7-4.5-3.7-4.4-3.8-4.3-3.8-4.3-3.8-4.3-3.9-4.3-3.9-4.2-3.9-4.1-4-4.2-4-4.1-4.1-4.1-4.1-4.1-4.1-4-4.2-4-4.2-3.9-4.3-4-4.3-3.9-4.3-3.9-4.4-3.9-4.4-3.8-4.5M105.5 383.8l4.7-1.5 4.7-1.5 4.6-1.5 4.6-1.5 4.5-1.4 4.5-1.5 4.4-1.4 4.4-1.4 4.3-1.4 4.3-1.3 4.2-1.4 4.2-1.3 4.1-1.4 4.2-1.3 4-1.3 4-1.3 4-1.2 4-1.3 3.9-1.2 3.8-1.2 3.9-1.3 3.7-1.2 3.8-1.1 3.7-1.2 3.7-1.2M194.9 406.2l-4.6-3.5-4.6-3.6-4.5-3.6-4.5-3.6-4.5-3.7-4.4-3.7-4.4-3.7-4.3-3.8-4.4-3.8-4.2-3.8-4.3-3.9-4.2-4-4.2-3.9-4.1-4-4.1-4.1-4.1-4-4-4.1-4.1-4.2-4-4.2-3.9-4.2-4-4.3-3.9-4.3-3.9-4.3-3.8-4.4-3.8-4.4M101.3 379.8l4.7-1.5 4.6-1.5 4.7-1.5 4.5-1.5 4.5-1.4 4.5-1.4 4.4-1.4 4.4-1.4 4.3-1.4 4.3-1.3 4.3-1.4 4.2-1.3 4.1-1.3 4.1-1.3 4.1-1.2 4-1.3 4-1.2 4-1.3 3.9-1.2 3.8-1.2 3.9-1.1 3.8-1.2 3.7-1.2 3.7-1.1 3.7-1.1M199.1 404.7l-4.6-3.5-4.6-3.6-4.5-3.6-4.5-3.6-4.5-3.6-4.4-3.7-4.4-3.7-4.3-3.8-4.3-3.8-4.3-3.8-4.2-3.9-4.2-3.9-4.2-3.9-4.1-4-4.1-4-4.1-4-4.1-4.1-4-4.1-4-4.2-3.9-4.2-4-4.2-3.9-4.2-3.9-4.3-3.8-4.4-3.8-4.3M97 375.7l4.7-1.5 4.7-1.5 4.6-1.5 4.6-1.4 4.5-1.4 4.5-1.4 4.4-1.4 4.4-1.4 4.3-1.3 4.3-1.4 4.3-1.3 4.2-1.3 4.1-1.2 4.1-1.3 4.1-1.2 4.1-1.3 4-1.2 3.9-1.2 3.9-1.1 3.9-1.2 3.8-1.1 3.8-1.2 3.8-1.1 3.7-1.1 3.7-1.1M203.2 403.2l-4.6-3.5-4.5-3.6-4.6-3.5-4.5-3.6-4.4-3.7-4.4-3.6-4.4-3.7-4.3-3.8-4.3-3.7-4.3-3.8-4.2-3.9-4.2-3.9-4.2-3.9-4.1-3.9-4.1-4-4.1-4-4-4.1-4.1-4-3.9-4.2-4-4.1-3.9-4.2-3.9-4.2-3.9-4.3-3.8-4.3-3.9-4.3M92.8 371.5l4.7-1.5 4.7-1.4 4.6-1.5 4.6-1.4 4.5-1.4 4.5-1.4 4.4-1.3 4.4-1.4 4.4-1.3 4.2-1.3 4.3-1.3 4.2-1.3 4.2-1.2 4.1-1.2 4.1-1.3 4-1.1 4-1.2 4-1.2 3.9-1.1 3.9-1.2 3.8-1.1 3.8-1.1 3.8-1 3.7-1.1 3.7-1M207.3 401.6l-4.6-3.4-4.5-3.5-4.6-3.6-4.4-3.6-4.5-3.6-4.4-3.6-4.4-3.7-4.3-3.7-4.3-3.8-4.3-3.8-4.2-3.8-4.2-3.8-4.1-3.9-4.2-3.9-4.1-4-4-4-4.1-4-4-4-3.9-4.1-4-4.1-3.9-4.2-3.9-4.2-3.9-4.2-3.8-4.2-3.8-4.3M88.6 367.3l4.7-1.5 4.7-1.4 4.6-1.4 4.6-1.4 4.6-1.4 4.4-1.4 4.5-1.3 4.4-1.3 4.3-1.3 4.3-1.3 4.3-1.3 4.2-1.2 4.1-1.2 4.2-1.2 4.1-1.2 4-1.2 4-1.1 4-1.1 3.9-1.1 3.9-1.1 3.8-1.1 3.8-1.1 3.8-1 3.8-1 3.7-1M211.4 400.1l-4.6-3.4-4.6-3.5-4.5-3.5-4.5-3.6-4.4-3.6-4.4-3.6-4.4-3.7-4.3-3.7-4.3-3.7-4.2-3.8-4.3-3.8-4.2-3.8-4.1-3.8-4.1-3.9-4.1-3.9-4.1-4-4-4-4-4-4-4-3.9-4.1-4-4.1-3.8-4.2-3.9-4.1-3.8-4.3-3.9-4.2M84.5 363.1l4.7-1.5 4.7-1.4 4.6-1.4 4.6-1.4 4.5-1.4 4.5-1.3 4.4-1.3 4.4-1.3 4.4-1.3 4.3-1.3 4.3-1.2 4.2-1.2 4.1-1.2 4.2-1.1 4.1-1.2 4-1.1 4-1.1 4-1.1 3.9-1.1 3.9-1 3.9-1.1 3.8-1 3.8-1 3.7-1 3.7-.9M215.4 398.6l-4.6-3.4-4.6-3.5-4.5-3.5-4.4-3.5-4.5-3.6-4.4-3.6-4.3-3.7-4.3-3.6-4.3-3.7-4.3-3.8-4.2-3.7-4.2-3.8-4.1-3.9-4.1-3.8-4.1-3.9-4.1-3.9-4-4-4-3.9-4-4-3.9-4.1-3.9-4.1-3.9-4.1-3.9-4.1-3.8-4.2-3.8-4.1M80.3 358.7l4.8-1.4 4.7-1.4 4.6-1.4 4.6-1.4 4.5-1.3 4.5-1.3 4.5-1.3 4.4-1.3 4.3-1.2 4.3-1.2 4.3-1.2 4.2-1.2 4.2-1.2 4.1-1.1 4.1-1.1 4.1-1.1 4-1.1 4-1 3.9-1.1 3.9-1 3.9-1 3.8-1 3.8-.9 3.7-.9 3.7-1M219.3 397.1l-4.6-3.4-4.5-3.5-4.5-3.4-4.5-3.6-4.4-3.5-4.4-3.6-4.3-3.6-4.3-3.7-4.3-3.6-4.3-3.8-4.2-3.7-4.1-3.8-4.2-3.7-4.1-3.9-4.1-3.8-4-3.9-4-3.9-4-4-4-3.9-3.9-4-3.9-4.1-3.9-4-3.9-4.1-3.8-4.1-3.8-4.2M76.3 354.4l4.7-1.4 4.7-1.4 4.6-1.4 4.6-1.3 4.5-1.3 4.5-1.3 4.5-1.3 4.4-1.2 4.3-1.2 4.4-1.2 4.2-1.2 4.3-1.2 4.1-1.1 4.2-1.1 4.1-1.1 4.1-1 4-1.1 4-1 3.9-1 3.9-.9 3.9-1 3.8-.9 3.8-.9 3.7-.9 3.8-.9M223.3 395.7l-4.6-3.5-4.6-3.4-4.5-3.5-4.4-3.5-4.4-3.5-4.4-3.6-4.4-3.6-4.3-3.6-4.2-3.6-4.3-3.7-4.2-3.7-4.1-3.8-4.2-3.7-4.1-3.8-4.1-3.8-4-3.9-4-3.9-4-3.9-4-3.9-3.9-4-3.9-3.9-3.9-4.1-3.8-4-3.9-4.1-3.8-4.1M72.2 350l4.7-1.4 4.7-1.4 4.7-1.3 4.6-1.3 4.5-1.3 4.5-1.3 4.5-1.2 4.4-1.2 4.3-1.2 4.3-1.2 4.3-1.1 4.2-1.1 4.2-1.1 4.2-1.1 4.1-1 4.1-1.1 4-1 4-.9 3.9-1 3.9-.9 3.9-.9 3.8-.9 3.8-.9 3.8-.9 3.7-.8M227.1 394.2l-4.5-3.4-4.6-3.5-4.5-3.4-4.4-3.5-4.4-3.5-4.4-3.6-4.3-3.5-4.3-3.6-4.3-3.6-4.2-3.7-4.2-3.7-4.2-3.7-4.1-3.7-4.1-3.7-4.1-3.8-4-3.8-4-3.9-4-3.8-4-3.9-3.9-3.9-3.9-4-3.9-4-3.8-4-3.8-4-3.8-4.1M68.2 345.5l4.7-1.4 4.7-1.3 4.6-1.3 4.6-1.3 4.6-1.3 4.5-1.2 4.4-1.2 4.5-1.2 4.3-1.1 4.3-1.2 4.3-1.1 4.3-1.1 4.2-1 4.1-1 4.1-1 4.1-1 4-1 4-.9 4-.9 3.9-.9 3.9-.9 3.8-.9 3.8-.8 3.8-.8 3.7-.8M231 392.7l-4.6-3.4-4.5-3.4-4.5-3.4-4.4-3.5-4.5-3.5-4.3-3.5-4.3-3.5-4.3-3.6-4.3-3.6-4.2-3.6-4.2-3.7-4.2-3.6-4.1-3.7-4.1-3.7-4.1-3.8-4-3.8-4-3.8-4-3.8-3.9-3.8-3.9-3.9-3.9-3.9-3.9-4-3.8-3.9-3.9-4-3.7-4M64.2 341l4.7-1.3 4.7-1.4 4.6-1.3 4.6-1.2 4.6-1.2 4.5-1.3 4.5-1.1 4.4-1.2 4.4-1.1 4.3-1.1 4.3-1.1 4.2-1 4.2-1 4.2-1 4.1-1 4.1-.9 4-1 4-.8 4-.9 3.9-.9 3.9-.8 3.8-.8 3.8-.8 3.8-.7 3.7-.8M234.8 391.2l-4.6-3.4-4.5-3.4-4.5-3.4-4.4-3.4-4.4-3.5-4.4-3.4-4.3-3.6-4.3-3.5-4.2-3.6-4.3-3.5-4.2-3.7-4.1-3.6-4.1-3.7-4.1-3.6-4.1-3.7-4-3.8-4-3.7-4-3.8-3.9-3.8-3.9-3.9-3.9-3.8-3.9-3.9-3.8-3.9-3.8-4-3.8-3.9M60.2 336.4l4.7-1.3 4.7-1.3 4.7-1.2 4.6-1.3 4.5-1.2 4.6-1.1 4.4-1.2 4.4-1.1 4.4-1.1 4.3-1.1 4.3-1 4.3-1 4.2-1 4.1-.9 4.2-1 4.1-.9 4-.8 4-.9 4-.8 3.9-.8 3.9-.8 3.8-.8 3.8-.7 3.8-.7 3.7-.7M238.5 389.7l-4.5-3.3-4.5-3.4-4.5-3.4-4.4-3.4-4.4-3.4-4.4-3.5-4.3-3.5-4.3-3.5-4.2-3.5-4.2-3.6-4.2-3.5-4.2-3.6-4.1-3.7-4.1-3.6-4-3.7-4-3.7-4-3.7-4-3.7-3.9-3.8-3.9-3.8-3.9-3.8-3.9-3.8-3.8-3.9-3.8-3.9-3.8-3.9M56.2 331.8l4.8-1.3 4.7-1.2 4.6-1.3 4.6-1.2 4.6-1.1 4.5-1.2 4.5-1.1 4.4-1.1 4.4-1 4.3-1.1 4.3-.9 4.3-1 4.2-1 4.2-.9 4.1-.9 4.1-.8 4-.9 4-.8 4-.8 3.9-.7 3.9-.7 3.9-.8 3.8-.6 3.8-.7 3.7-.6M242.2 388.2l-4.5-3.3-4.5-3.3-4.5-3.4-4.4-3.4-4.4-3.4-4.3-3.4-4.3-3.5-4.3-3.4-4.2-3.5-4.3-3.6-4.1-3.5-4.2-3.6-4.1-3.6-4.1-3.6-4-3.6-4-3.7-4-3.6-4-3.7-3.9-3.8-3.9-3.7-3.9-3.8-3.8-3.8-3.9-3.8-3.7-3.8-3.8-3.9M52.3 327.2l4.8-1.3 4.7-1.2 4.6-1.2 4.6-1.2 4.6-1.1 4.5-1.2 4.5-1 4.4-1.1 4.4-1 4.3-1 4.3-.9 4.3-1 4.2-.9 4.2-.8 4.1-.9 4.1-.8 4.1-.8 4-.8 4-.7 3.9-.7 3.9-.7 3.8-.7 3.9-.6 3.8-.6 3.7-.6M245.9 386.7l-4.5-3.2-4.5-3.4-4.5-3.3-4.4-3.4-4.3-3.3-4.4-3.4-4.3-3.5-4.3-3.4-4.2-3.5-4.2-3.4-4.2-3.6-4.1-3.5-4.1-3.5-4.1-3.6-4-3.6-4-3.6-4-3.6-4-3.7-3.9-3.7-3.9-3.7-3.9-3.7-3.8-3.7-3.8-3.8-3.8-3.8-3.8-3.8M48.4 322.5l4.8-1.3 4.7-1.2 4.6-1.2 4.7-1.1 4.5-1.1 4.5-1.1 4.5-1 4.5-1 4.3-1 4.4-1 4.3-.9 4.3-.9 4.2-.8 4.2-.9 4.1-.8 4.1-.7 4-.8 4.1-.7 3.9-.7 4-.7 3.9-.6 3.9-.6 3.8-.6 3.8-.6 3.7-.5M249.6 385.3l-4.6-3.3-4.4-3.3-4.5-3.3-4.4-3.3-4.4-3.4-4.3-3.3-4.3-3.4-4.3-3.4-4.2-3.5-4.2-3.4-4.2-3.5-4.1-3.5-4.1-3.5-4-3.5-4.1-3.6-4-3.5-4-3.6-3.9-3.7-3.9-3.6-3.9-3.6-3.9-3.7-3.8-3.7-3.8-3.7-3.8-3.8-3.8-3.7M44.5 317.7l4.8-1.2 4.7-1.2 4.7-1.1 4.6-1.1 4.6-1.1 4.5-1 4.5-1 4.4-1 4.4-1 4.4-.9 4.3-.8 4.2-.9 4.3-.8 4.1-.8 4.2-.7 4.1-.8 4-.7 4.1-.7 4-.6 3.9-.6 3.9-.6 3.9-.6 3.8-.5 3.8-.5 3.8-.5M253.2 383.8l-4.5-3.2-4.5-3.3-4.5-3.3-4.4-3.3-4.3-3.3-4.3-3.3-4.3-3.4-4.3-3.4-4.2-3.4-4.2-3.4-4.2-3.4-4.1-3.5-4.1-3.4-4-3.5-4.1-3.5-4-3.6-3.9-3.5-4-3.6-3.9-3.6-3.9-3.6-3.9-3.6-3.8-3.6-3.8-3.7-3.8-3.7-3.7-3.7" fill="none" stroke="#000" stroke-opacity="0.55" stroke-width="0.4"/>
<circle cx="149.8" cy="295.5" r="2.35" fill="#e2121c"/>
<circle cx="149.8" cy="357.1" r="2.35" fill="#e2121c"/>
<circle cx="252.1" cy="383.8" r="2.35" fill="#e2121c"/>
<path d="M42.7 297.7h1.9v1.9h-1.9zM43.7 318.8h1.9v1.9h-1.9zM44.7 339.9h1.9v1.9h-1.9zM45.7 360.9h1.9v1.9h-1.9zM46.7 381.9h1.9v1.9h-1.9zM47.7 402.9h1.9v1.9h-1.9zM149.4 483.9h1.9v1.9h-1.9zM169.4 474.4h1.9v1.9h-1.9zM129.4 474.4h1.9v1.9h-1.9zM189.4 464.9h1.9v1.9h-1.9zM109.4 464.9h1.9v1.9h-1.9zM209.5 455.4h1.9v1.9h-1.9zM89.4 455.4h1.9v1.9h-1.9zM229.5 445.9h1.9v1.9h-1.9zM69.4 445.9h1.9v1.9h-1.9zM249.6 436.3h1.9v1.9h-1.9zM49.4 436.4h1.9v1.9h-1.9z" fill="#111"/>
<g font-size="7.05" fill="#333"><text x="39.9" y="297.1" text-anchor="end" font-size="6.7">300</text><text x="40.9" y="318.2" text-anchor="end" font-size="6.7">250</text><text x="41.9" y="339.3" text-anchor="end" font-size="6.7">200</text><text x="42.9" y="360.3" text-anchor="end" font-size="6.7">150</text><text x="43.9" y="381.3" text-anchor="end" font-size="6.7">100</text><text x="44.9" y="402.3" text-anchor="end" font-size="6.7">50</text><text x="155" y="493" text-anchor="middle" font-size="6.7">5</text><text x="175" y="483.5" text-anchor="middle" font-size="6.7">6</text><text x="195" y="474" text-anchor="middle" font-size="6.7">7</text><text x="215.1" y="464.4" text-anchor="middle" font-size="6.7">8</text><text x="235.1" y="454.9" text-anchor="middle" font-size="6.7">9</text><text x="258.5" y="445.4" text-anchor="middle" font-size="6.7">10</text><text x="140" y="492.7" text-anchor="middle" font-size="6.7">10</text><text x="120" y="483.2" text-anchor="middle" font-size="6.7">12</text><text x="100" y="473.7" text-anchor="middle" font-size="6.7">14</text><text x="80" y="464.2" text-anchor="middle" font-size="6.7">16</text><text x="60" y="454.7" text-anchor="middle" font-size="6.7">18</text><text x="40" y="445.2" text-anchor="middle" font-size="6.7">20</text><text x="239.2" y="482.8" text-anchor="middle">B: T 60 Conc. (mg/mL)</text><text x="61.1" y="482.9" text-anchor="middle">C: FMT Amount (mg)</text><text transform="translate(13.8 370.3) rotate(-90)" text-anchor="middle" font-size="7.05">PS (nm)</text></g>
<text x="149.5" y="518.8" text-anchor="middle" font-family="'Liberation Serif',serif" font-weight="bold" font-size="22.5" letter-spacing="0.2" fill="#111">(c)</text></g>
<g id="pd"><path d="M311.4 298.8L418 275.2M418 275.2L525.1 298.8M312.6 325L418.1 298.7M418.1 298.7L523.8 325M313.9 351.4L418.2 322.3M418.2 322.3L522.5 351.4M315.1 377.6L418.3 345.8M418.3 345.8L521.2 377.5M316.4 403.7L418.4 369.1M418.4 369.1L519.9 403.6M519.9 403.6L525.1 299.2M336.8 396.8L332.7 294.5M499.6 396.7L503.7 294.5M357.2 389.9L354 289.8M479.3 389.8L482.3 289.8M377.6 383L375.4 285M459 382.9L460.8 285M398 376L396.7 280.3M438.7 376L439.4 280.3M418.4 369.1L418 275.6M318 437.4L311.4 299.2M518.2 437.3L525.1 299.2M418.5 399.3L418.4 369.1" fill="none" stroke="#b0b0b0" stroke-width="0.85"/>
<clipPath id="cfd"><polygon points="318,437.4 418,484.9 518.2,437.3 418.5,399.3"/></clipPath>
<polygon points="318,437.4 418,484.9 518.2,437.3 418.5,399.3" fill="#5e5e5e"/>
<g clip-path="url(#cfd)" fill="none" stroke-width="0.95" stroke-opacity="0.92"><path d="M342 428L379 465.4" stroke="#a0c020"/><path d="M365 420L429.4 479" stroke="#30c030"/><path d="M386 410.6L454 467" stroke="#20c040"/><path d="M408 403Q443.1 427.8 476 456" stroke="#10c050"/><path d="M453 413L495 445" stroke="#10b090"/></g>
<path d="M418.2 341.6l3.7-.2-3.7-1.4-3.7 .2zM421.9 343l3.7-.1-3.7-1.5-3.7 .2zM414.4 341.8l3.8-.2-3.7-1.4-3.7 .1zM418.2 343.2l3.7-.2-3.7-1.4-3.8 .2zM410.7 341.9l3.7-.1-3.6-1.5-3.8 .2zM421.9 344.7l3.7-.2-3.7-1.5-3.7 .2zM414.4 343.4l3.8-.2-3.8-1.4-3.7 .1zM406.9 342.1l3.8-.2-3.7-1.4-3.8 .1zM425.7 346.2l3.7-.2-3.8-1.5-3.7 .2zM418.2 344.9l3.7-.2-3.7-1.5-3.8 .2zM410.6 343.6l3.8-.2-3.7-1.5-3.8 .2zM403.1 342.3l3.8-.2-3.7-1.5-3.8 .2zM429.5 347.7l3.8-.2-3.9-1.5-3.7 .2zM422 346.4l3.7-.2-3.8-1.5-3.7 .2zM414.4 345.1l3.8-.2-3.8-1.5-3.8 .2zM406.8 343.8l3.8-.2-3.7-1.5-3.8 .2zM399.2 342.4l3.9-.1-3.7-1.5-3.9 .1zM425.8 347.9l3.7-.2-3.8-1.5-3.7 .2zM418.2 346.6l3.8-.2-3.8-1.5-3.8 .2zM410.5 345.3l3.9-.2-3.8-1.5-3.8 .2zM402.9 343.9l3.9-.1-3.7-1.5-3.9 .1zM395.3 342.6l3.9-.2-3.7-1.5-3.9 .2zM429.6 349.4l3.8-.2-3.9-1.5-3.7 .2zM422 348.1l3.8-.2-3.8-1.5-3.8 .2zM414.3 346.8l3.9-.2-3.8-1.5-3.9 .2zM406.7 345.5l3.8-.2-3.7-1.5-3.9 .1zM399 344.1l3.9-.2-3.7-1.5-3.9 .2zM391.3 342.8l4-.2-3.7-1.5-4 .2zM433.5 351l3.8-.3-3.9-1.5-3.8 .2zM425.9 349.7l3.7-.3-3.8-1.5-3.8 .2zM418.2 348.3l3.8-.2-3.8-1.5-3.9 .2zM410.5 347l3.8-.2-3.8-1.5-3.8 .2zM402.8 345.7l3.9-.2-3.8-1.6-3.9 .2zM395 344.3l4-.2-3.7-1.5-4 .2zM387.3 343l4-.2-3.7-1.5-4 .1zM437.5 352.5l3.7-.2-3.9-1.6-3.8 .3zM429.8 351.2l3.7-.2-3.9-1.6-3.7 .3zM422 349.9l3.9-.2-3.9-1.6-3.8 .2zM414.3 348.6l3.9-.3-3.9-1.5-3.8 .2zM406.6 347.2l3.9-.2-3.8-1.5-3.9 .2zM398.8 345.9l4-.2-3.8-1.6-4 .2zM391 344.5l4-.2-3.7-1.5-4 .2zM383.3 343.1l4-.1-3.7-1.6-4 .2zM433.7 352.8l3.8-.3-4-1.5-3.7 .2zM425.9 351.5l3.9-.3-3.9-1.5-3.9 .2zM418.2 350.1l3.8-.2-3.8-1.6-3.9 .3zM410.4 348.8l3.9-.2-3.8-1.6-3.9 .2zM402.6 347.4l4-.2-3.8-1.5-4 .2zM394.8 346.1l4-.2-3.8-1.6-4 .2zM387 344.7l4-.2-3.7-1.5-4 .1zM379.2 343.3l4.1-.2-3.7-1.5-4.1 .2zM437.7 354.4l3.7-.3-3.9-1.6-3.8 .3zM429.9 353l3.8-.2-3.9-1.6-3.9 .3zM422.1 351.7l3.8-.2-3.9-1.6-3.8 .2zM414.3 350.4l3.9-.3-3.9-1.5-3.9 .2zM406.4 349l4-.2-3.8-1.6-4 .2zM398.6 347.6l4-.2-3.8-1.5-4 .2zM390.8 346.3l4-.2-3.8-1.6-4 .2zM382.9 344.9l4.1-.2-3.7-1.6-4.1 .2zM375.1 343.5l4.1-.2-3.7-1.5-4.1 .1zM441.7 356l3.7-.3-4-1.6-3.7 .3zM433.8 354.6l3.9-.2-4-1.6-3.8 .2zM426 353.3l3.9-.3-4-1.5-3.8 .2zM418.2 352l3.9-.3-3.9-1.6-3.9 .3zM410.3 350.6l4-.2-3.9-1.6-4 .2zM402.5 349.2l3.9-.2-3.8-1.6-4 .2zM394.6 347.9l4-.3-3.8-1.5-4 .2zM386.7 346.5l4.1-.2-3.8-1.6-4.1 .2zM378.8 345.1l4.1-.2-3.7-1.6-4.1 .2zM370.9 343.7l4.2-.2-3.7-1.6-4.2 .2zM437.9 356.3l3.8-.3-4-1.6-3.9 .2zM430 354.9l3.8-.3-3.9-1.6-3.9 .3zM422.1 353.6l3.9-.3-3.9-1.6-3.9 .3zM414.2 352.2l4-.2-3.9-1.6-4 .2zM406.3 350.8l4-.2-3.9-1.6-3.9 .2zM398.4 349.5l4.1-.3-3.9-1.6-4 .3zM390.5 348.1l4.1-.2-3.8-1.6-4.1 .2zM382.6 346.7l4.1-.2-3.8-1.6-4.1 .2zM374.6 345.3l4.2-.2-3.7-1.6-4.2 .2zM366.7 343.9l4.2-.2-3.7-1.6-4.2 .2zM441.9 357.9l3.8-.3-4-1.6-3.8 .3zM434 356.5l3.9-.2-4.1-1.7-3.8 .3zM426.1 355.2l3.9-.3-4-1.6-3.9 .3zM418.2 353.8l3.9-.2-3.9-1.6-4 .2zM410.2 352.5l4-.3-3.9-1.6-4 .2zM402.3 351.1l4-.3-3.8-1.6-4.1 .3zM394.3 349.7l4.1-.2-3.8-1.6-4.1 .2zM386.4 348.3l4.1-.2-3.8-1.6-4.1 .2zM378.4 346.9l4.2-.2-3.8-1.6-4.2 .2zM370.4 345.5l4.2-.2-3.7-1.6-4.2 .2zM362.4 344.1l4.3-.2-3.7-1.6-4.3 .1zM446 359.5l3.8-.3-4.1-1.6-3.8 .3zM438.1 358.2l3.8-.3-4-1.6-3.9 .2zM430.1 356.8l3.9-.3-4-1.6-3.9 .3zM422.2 355.5l3.9-.3-4-1.6-3.9 .2zM414.2 354.1l4-.3-4-1.6-4 .3zM406.2 352.7l4-.2-3.9-1.7-4 .3zM398.2 351.3l4.1-.2-3.9-1.6-4.1 .2zM390.2 349.9l4.1-.2-3.8-1.6-4.1 .2zM382.2 348.5l4.2-.2-3.8-1.6-4.2 .2zM374.2 347.1l4.2-.2-3.8-1.6-4.2 .2zM366.2 345.7l4.2-.2-3.7-1.6-4.3 .2zM358.1 344.2l4.3-.1-3.7-1.7-4.3 .2zM450.1 361.2l3.8-.3-4.1-1.7-3.8 .3zM442.1 359.8l3.9-.3-4.1-1.6-3.8 .3zM434.2 358.5l3.9-.3-4.1-1.7-3.9 .3zM426.2 357.1l3.9-.3-4-1.6-3.9 .3zM418.2 355.7l4-.2-4-1.7-4 .3zM410.2 354.4l4-.3-4-1.6-4 .2zM402.1 353l4.1-.3-3.9-1.6-4.1 .2zM394.1 351.6l4.1-.3-3.9-1.6-4.1 .2zM386.1 350.2l4.1-.3-3.8-1.6-4.2 .2zM378 348.7l4.2-.2-3.8-1.6-4.2 .2zM369.9 347.3l4.3-.2-3.8-1.6-4.2 .2zM361.9 345.9l4.3-.2-3.8-1.6-4.3 .1zM446.3 361.5l3.8-.3-4.1-1.7-3.9 .3zM438.3 360.2l3.8-.4-4-1.6-3.9 .3zM430.2 358.8l4-.3-4.1-1.7-3.9 .3zM422.2 357.4l4-.3-4-1.6-4 .2zM414.1 356l4.1-.3-4-1.6-4 .3zM406.1 354.6l4.1-.2-4-1.7-4.1 .3zM398 353.2l4.1-.2-3.9-1.7-4.1 .3zM389.9 351.8l4.2-.2-3.9-1.7-4.1 .3zM381.9 350.4l4.2-.2-3.9-1.7-4.2 .2zM373.8 349l4.2-.3-3.8-1.6-4.3 .2zM365.6 347.5l4.3-.2-3.7-1.6-4.3 .2zM450.4 363.2l3.9-.3-4.2-1.7-3.8 .3zM442.4 361.8l3.9-.3-4.2-1.7-3.8 .4zM434.3 360.5l4-.3-4.1-1.7-4 .3zM426.3 359.1l3.9-.3-4-1.7-4 .3zM418.2 357.7l4-.3-4-1.7-4.1 .3zM410.1 356.3l4-.3-3.9-1.6-4.1 .2zM402 354.9l4.1-.3-4-1.6-4.1 .2zM393.9 353.5l4.1-.3-3.9-1.6-4.2 .2zM385.7 352.1l4.2-.3-3.8-1.6-4.2 .2zM377.6 350.6l4.3-.2-3.9-1.7-4.2 .3zM369.5 349.2l4.3-.2-3.9-1.7-4.3 .2zM454.6 364.9l3.9-.3-4.2-1.7-3.9 .3zM446.6 363.5l3.8-.3-4.1-1.7-3.9 .3zM438.5 362.2l3.9-.4-4.1-1.6-4 .3zM430.4 360.8l3.9-.3-4.1-1.7-3.9 .3zM422.2 359.4l4.1-.3-4.1-1.7-4 .3zM414.1 358l4.1-.3-4.1-1.7-4 .3zM406 356.6l4.1-.3-4-1.7-4.1 .3zM397.8 355.2l4.2-.3-4-1.7-4.1 .3zM389.7 353.8l4.2-.3-4-1.7-4.2 .3zM381.5 352.3l4.2-.2-3.8-1.7-4.3 .2zM373.3 350.9l4.3-.3-3.8-1.6-4.3 .2zM365.1 349.4l4.4-.2-3.9-1.7-4.3 .3zM458.9 366.6l3.8-.3-4.2-1.7-3.9 .3zM450.8 365.3l3.8-.4-4.2-1.7-3.8 .3zM442.6 363.9l4-.4-4.2-1.7-3.9 .4zM434.5 362.5l4-.3-4.2-1.7-3.9 .3zM426.3 361.1l4.1-.3-4.1-1.7-4.1 .3zM418.2 359.7l4-.3-4-1.7-4.1 .3zM410 358.3l4.1-.3-4-1.7-4.1 .3zM401.8 356.9l4.2-.3-4-1.7-4.2 .3zM393.6 355.5l4.2-.3-3.9-1.7-4.2 .3zM385.4 354l4.3-.2-4-1.7-4.2 .2zM377.2 352.6l4.3-.3-3.9-1.7-4.3 .3zM368.9 351.1l4.4-.2-3.8-1.7-4.4 .2zM455 367l3.9-.4-4.3-1.7-3.8 .4zM446.9 365.6l3.9-.3-4.2-1.8-4 .4zM438.7 364.2l3.9-.3-4.1-1.7-4 .3zM430.5 362.9l4-.4-4.1-1.7-4.1 .3zM422.3 361.5l4-.4-4.1-1.7-4 .3zM414.1 360l4.1-.3-4.1-1.7-4.1 .3zM405.8 358.6l4.2-.3-4-1.7-4.2 .3zM397.6 357.2l4.2-.3-4-1.7-4.2 .3zM389.4 355.8l4.2-.3-3.9-1.7-4.3 .2zM381.1 354.3l4.3-.3-3.9-1.7-4.3 .3zM372.8 352.9l4.4-.3-3.9-1.7-4.4 .2zM459.3 368.8l3.9-.4-4.3-1.8-3.9 .4zM451.1 367.4l3.9-.4-4.2-1.7-3.9 .3zM442.9 366l4-.4-4.3-1.7-3.9 .3zM434.7 364.6l4-.4-4.2-1.7-4 .4zM426.4 363.2l4.1-.3-4.2-1.8-4 .4zM418.2 361.8l4.1-.3-4.1-1.8-4.1 .3zM409.9 360.4l4.2-.4-4.1-1.7-4.2 .3zM401.6 358.9l4.2-.3-4-1.7-4.2 .3zM393.4 357.5l4.2-.3-4-1.7-4.2 .3zM385.1 356.1l4.3-.3-4-1.8-4.3 .3zM376.8 354.6l4.3-.3-3.9-1.7-4.4 .3zM368.4 353.1l4.4-.2-3.9-1.8-4.3 .3zM463.7 370.5l3.8-.4-4.3-1.7-3.9 .4zM455.4 369.2l3.9-.4-4.3-1.8-3.9 .4zM447.2 367.8l3.9-.4-4.2-1.8-4 .4zM438.9 366.4l4-.4-4.2-1.8-4 .4zM430.6 365l4.1-.4-4.2-1.7-4.1 .3zM422.3 363.6l4.1-.4-4.1-1.7-4.1 .3zM414 362.1l4.2-.3-4.1-1.8-4.2 .4zM405.7 360.7l4.2-.3-4.1-1.8-4.2 .3zM397.4 359.3l4.2-.4-4-1.7-4.2 .3zM389.1 357.8l4.3-.3-4-1.7-4.3 .3zM380.7 356.3l4.4-.2-4-1.8-4.3 .3zM372.4 354.9l4.4-.3-4-1.7-4.4 .2zM468 372.3l3.9-.4-4.4-1.8-3.8 .4zM459.7 370.9l4-.4-4.4-1.7-3.9 .4zM451.5 369.5l3.9-.3-4.3-1.8-3.9 .4zM443.1 368.2l4.1-.4-4.3-1.8-4 .4zM434.8 366.7l4.1-.3-4.2-1.8-4.1 .4zM426.5 365.3l4.1-.3-4.2-1.8-4.1 .4zM418.2 363.9l4.1-.3-4.1-1.8-4.2 .3zM409.8 362.5l4.2-.4-4.1-1.7-4.2 .3zM401.5 361l4.2-.3-4.1-1.8-4.2 .4zM393.1 359.6l4.3-.3-4-1.8-4.3 .3zM384.7 358.1l4.4-.3-4-1.7-4.4 .2zM376.3 356.6l4.4-.3-3.9-1.7-4.4 .3zM464.1 372.7l3.9-.4-4.3-1.8-4 .4zM455.8 371.4l3.9-.5-4.3-1.7-3.9 .3zM447.5 370l4-.5-4.3-1.7-4.1 .4zM439.1 368.5l4-.3-4.2-1.8-4.1 .3zM430.7 367.1l4.1-.4-4.2-1.7-4.1 .3zM422.4 365.7l4.1-.4-4.2-1.7-4.1 .3zM414 364.3l4.2-.4-4.2-1.8-4.2 .4zM405.6 362.8l4.2-.3-4.1-1.8-4.2 .3zM397.2 361.4l4.3-.4-4.1-1.7-4.3 .3zM388.7 359.9l4.4-.3-4-1.8-4.4 .3zM380.3 358.4l4.4-.3-4-1.8-4.4 .3zM468.6 374.6l3.8-.5-4.4-1.8-3.9 .4zM460.2 373.2l3.9-.5-4.4-1.8-3.9 .5zM451.8 371.8l4-.4-4.3-1.9-4 .5zM443.4 370.4l4.1-.4-4.4-1.8-4 .3zM435 368.9l4.1-.4-4.3-1.8-4.1 .4zM426.6 367.5l4.1-.4-4.2-1.8-4.1 .4zM418.2 366.1l4.2-.4-4.2-1.8-4.2 .4zM409.7 364.6l4.3-.3-4.2-1.8-4.2 .3zM401.3 363.2l4.3-.4-4.1-1.8-4.3 .4zM392.8 361.7l4.4-.3-4.1-1.8-4.4 .3zM384.4 360.2l4.3-.3-4-1.8-4.4 .3zM375.9 358.7l4.4-.3-4-1.8-4.4 .3zM473 376.4l3.9-.5-4.5-1.8-3.8 .5zM464.6 375l4-.4-4.5-1.9-3.9 .5zM456.2 373.6l4-.4-4.4-1.8-4 .4zM447.8 372.2l4-.4-4.3-1.8-4.1 .4zM439.3 370.8l4.1-.4-4.3-1.9-4.1 .4zM430.9 369.3l4.1-.4-4.3-1.8-4.1 .4zM422.4 367.9l4.2-.4-4.2-1.8-4.2 .4zM413.9 366.4l4.3-.3-4.2-1.8-4.3 .3zM405.4 365l4.3-.4-4.1-1.8-4.3 .4zM396.9 363.5l4.4-.3-4.1-1.8-4.4 .3zM388.4 362l4.4-.3-4.1-1.8-4.3 .3zM379.9 360.5l4.5-.3-4.1-1.8-4.4 .3zM469.1 376.9l3.9-.5-4.4-1.8-4 .4zM460.6 375.5l4-.5-4.4-1.8-4 .4zM452.2 374l4-.4-4.4-1.8-4 .4zM443.7 372.6l4.1-.4-4.4-1.8-4.1 .4zM435.2 371.2l4.1-.4-4.3-1.9-4.1 .4zM426.7 369.7l4.2-.4-4.3-1.8-4.2 .4zM418.2 368.3l4.2-.4-4.2-1.8-4.3 .3zM409.6 366.8l4.3-.4-4.2-1.8-4.3 .4zM401.1 365.4l4.3-.4-4.1-1.8-4.4 .3zM392.6 363.9l4.3-.4-4.1-1.8-4.4 .3zM384 362.4l4.4-.4-4-1.8-4.5 .3zM473.6 378.7l3.9-.4-4.5-1.9-3.9 .5zM465.1 377.3l4-.4-4.5-1.9-4 .5zM456.6 375.9l4-.4-4.4-1.9-4 .4zM448.1 374.5l4.1-.5-4.4-1.8-4.1 .4zM439.6 373.1l4.1-.5-4.4-1.8-4.1 .4zM431 371.6l4.2-.4-4.3-1.9-4.2 .4zM422.5 370.2l4.2-.5-4.3-1.8-4.2 .4zM413.9 368.7l4.3-.4-4.3-1.9-4.3 .4zM405.3 367.2l4.3-.4-4.2-1.8-4.3 .4zM396.7 365.7l4.4-.3-4.2-1.9-4.3 .4zM388.1 364.2l4.5-.3-4.2-1.9-4.4 .4zM379.5 362.7l4.5-.3-4.1-1.9-4.5 .4zM478.2 380.6l3.9-.5-4.6-1.8-3.9 .4zM469.6 379.2l4-.5-4.5-1.8-4 .4zM461.1 377.8l4-.5-4.5-1.8-4 .4zM452.5 376.4l4.1-.5-4.4-1.9-4.1 .5zM444 374.9l4.1-.4-4.4-1.9-4.1 .5zM435.4 373.5l4.2-.4-4.4-1.9-4.2 .4zM426.8 372l4.2-.4-4.3-1.9-4.2 .5zM418.2 370.6l4.3-.4-4.3-1.9-4.3 .4zM409.6 369.1l4.3-.4-4.3-1.9-4.3 .4zM400.9 367.6l4.4-.4-4.2-1.8-4.4 .3zM392.3 366.1l4.4-.4-4.1-1.8-4.5 .3zM383.6 364.6l4.5-.4-4.1-1.8-4.5 .3zM482.8 382.5l3.9-.5-4.6-1.9-3.9 .5zM474.2 381.1l4-.5-4.6-1.9-4 .5zM465.6 379.7l4-.5-4.5-1.9-4 .5zM457 378.3l4.1-.5-4.5-1.9-4.1 .5zM448.4 376.8l4.1-.4-4.4-1.9-4.1 .4zM439.8 375.4l4.2-.5-4.4-1.8-4.2 .4zM431.1 373.9l4.3-.4-4.4-1.9-4.2 .4zM422.5 372.5l4.3-.5-4.3-1.8-4.3 .4zM413.8 371l4.4-.4-4.3-1.9-4.3 .4zM405.2 369.5l4.4-.4-4.3-1.9-4.4 .4zM396.5 368l4.4-.4-4.2-1.9-4.4 .4zM387.8 366.5l4.5-.4-4.2-1.9-4.5 .4zM478.8 383.1l4-.6-4.6-1.9-4 .5zM470.2 381.6l4-.5-4.6-1.9-4 .5zM461.6 380.2l4-.5-4.5-1.9-4.1 .5zM452.9 378.8l4.1-.5-4.5-1.9-4.1 .4zM444.2 377.3l4.2-.5-4.4-1.9-4.2 .5zM435.6 375.9l4.2-.5-4.4-1.9-4.3 .4zM426.9 374.4l4.2-.5-4.3-1.9-4.3 .5zM418.2 372.9l4.3-.4-4.3-1.9-4.4 .4zM409.5 371.4l4.3-.4-4.2-1.9-4.4 .4zM400.7 369.9l4.5-.4-4.3-1.9-4.4 .4zM392 368.4l4.5-.4-4.2-1.9-4.5 .4zM483.5 385l4-.5-4.7-2-4 .6zM474.8 383.6l4-.5-4.6-2-4 .5zM466.1 382.2l4.1-.6-4.6-1.9-4 .5zM457.4 380.7l4.2-.5-4.6-1.9-4.1 .5zM448.7 379.3l4.2-.5-4.5-2-4.2 .5zM440 377.8l4.2-.5-4.4-1.9-4.2 .5zM431.3 376.3l4.3-.4-4.5-2-4.2 .5zM422.5 374.8l4.4-.4-4.4-1.9-4.3 .4zM413.8 373.3l4.4-.4-4.4-1.9-4.3 .4zM405 371.8l4.5-.4-4.3-1.9-4.5 .4zM396.2 370.3l4.5-.4-4.2-1.9-4.5 .4zM387.5 368.8l4.5-.4-4.2-1.9-4.6 .4zM479.5 385.6l4-.6-4.7-1.9-4 .5zM470.8 384.1l4-.5-4.6-2-4.1 .6zM462 382.7l4.1-.5-4.5-2-4.2 .5zM453.3 381.2l4.1-.5-4.5-1.9-4.2 .5zM444.5 379.8l4.2-.5-4.5-2-4.2 .5zM435.8 378.3l4.2-.5-4.4-1.9-4.3 .4zM427 376.8l4.3-.5-4.4-1.9-4.4 .4zM418.2 375.3l4.3-.5-4.3-1.9-4.4 .4zM409.4 373.8l4.4-.5-4.3-1.9-4.5 .4zM400.5 372.3l4.5-.5-4.3-1.9-4.5 .4zM391.7 370.7l4.5-.4-4.2-1.9-4.5 .4zM475.5 386.1l4-.5-4.7-2-4 .5zM466.7 384.7l4.1-.6-4.7-1.9-4.1 .5zM457.9 383.2l4.1-.5-4.6-2-4.1 .5zM449.1 381.7l4.2-.5-4.6-1.9-4.2 .5zM440.3 380.3l4.2-.5-4.5-2-4.2 .5zM431.4 378.8l4.4-.5-4.5-2-4.3 .5zM422.6 377.3l4.4-.5-4.5-2-4.3 .5zM413.7 375.8l4.5-.5-4.4-2-4.4 .5zM404.9 374.2l4.5-.4-4.4-2-4.5 .5zM396 372.7l4.5-.4-4.3-2-4.5 .4zM471.4 386.7l4.1-.6-4.7-2-4.1 .6zM462.5 385.2l4.2-.5-4.7-2-4.1 .5zM453.7 383.7l4.2-.5-4.6-2-4.2 .5zM444.8 382.3l4.3-.6-4.6-1.9-4.2 .5zM436 380.8l4.3-.5-4.5-2-4.4 .5zM427.1 379.3l4.3-.5-4.4-2-4.4 .5zM418.2 377.8l4.4-.5-4.4-2-4.5 .5zM409.3 376.2l4.4-.4-4.3-2-4.5 .4zM400.3 374.7l4.6-.5-4.4-1.9-4.5 .4zM391.4 373.2l4.6-.5-4.3-2-4.6 .5zM467.2 387.2l4.2-.5-4.7-2-4.2 .5zM458.3 385.8l4.2-.6-4.6-2-4.2 .5zM449.4 384.3l4.3-.6-4.6-2-4.3 .6zM440.5 382.8l4.3-.5-4.5-2-4.3 .5zM431.6 381.3l4.4-.5-4.6-2-4.3 .5zM422.6 379.8l4.5-.5-4.5-2-4.4 .5zM413.7 378.2l4.5-.4-4.5-2-4.4 .4zM404.7 376.7l4.6-.5-4.4-2-4.6 .5zM395.8 375.2l4.5-.5-4.3-2-4.6 .5zM463 387.8l4.2-.6-4.7-2-4.2 .6zM454.1 386.3l4.2-.5-4.6-2.1-4.3 .6zM445.1 384.8l4.3-.5-4.6-2-4.3 .5zM436.2 383.3l4.3-.5-4.5-2-4.4 .5zM427.2 381.8l4.4-.5-4.5-2-4.5 .5zM418.2 380.3l4.4-.5-4.4-2-4.5 .4zM409.2 378.7l4.5-.5-4.4-2-4.6 .5zM400.1 377.2l4.6-.5-4.4-2-4.5 .5zM458.8 388.4l4.2-.6-4.7-2-4.2 .5zM449.8 386.9l4.3-.6-4.7-2-4.3 .5zM440.8 385.4l4.3-.6-4.6-2-4.3 .5zM431.7 383.9l4.5-.6-4.6-2-4.4 .5zM422.7 382.3l4.5-.5-4.6-2-4.4 .5zM413.6 380.8l4.6-.5-4.5-2.1-4.5 .5zM404.6 379.2l4.6-.5-4.5-2-4.6 .5zM395.5 377.7l4.6-.5-4.3-2-4.7 .4zM454.5 389l4.3-.6-4.7-2.1-4.3 .6zM445.4 387.4l4.4-.5-4.7-2.1-4.3 .6zM436.4 385.9l4.4-.5-4.6-2.1-4.5 .6zM427.3 384.4l4.4-.5-4.5-2.1-4.5 .5zM418.2 382.9l4.5-.6-4.5-2-4.6 .5zM409.1 381.3l4.5-.5-4.4-2.1-4.6 .5zM399.9 379.7l4.7-.5-4.5-2-4.6 .5zM450.1 389.6l4.4-.6-4.7-2.1-4.4 .5zM441 388l4.4-.6-4.6-2-4.4 .5zM431.9 386.5l4.5-.6-4.7-2-4.4 .5zM422.7 384.9l4.6-.5-4.6-2.1-4.5 .6zM413.6 383.4l4.6-.5-4.6-2.1-4.5 .5zM404.4 381.8l4.7-.5-4.5-2.1-4.7 .5zM445.7 390.1l4.4-.5-4.7-2.2-4.4 .6zM436.6 388.6l4.4-.6-4.6-2.1-4.5 .6zM427.4 387.1l4.5-.6-4.6-2.1-4.6 .5zM418.2 385.5l4.5-.6-4.5-2-4.6 .5zM409 383.9l4.6-.5-4.5-2.1-4.7 .5zM399.7 382.4l4.7-.6-4.5-2.1-4.7 .6zM441.3 390.8l4.4-.7-4.7-2.1-4.4 .6zM432.1 389.2l4.5-.6-4.7-2.1-4.5 .6zM422.8 387.6l4.6-.5-4.7-2.2-4.5 .6zM413.5 386.1l4.7-.6-4.6-2.1-4.6 .5zM404.3 384.5l4.7-.6-4.6-2.1-4.7 .6zM436.8 391.4l4.5-.6-4.7-2.2-4.5 .6zM427.5 389.8l4.6-.6-4.7-2.1-4.6 .5zM418.2 388.2l4.6-.6-4.6-2.1-4.7 .6zM408.8 386.6l4.7-.5-4.5-2.2-4.7 .6zM432.2 392l4.6-.6-4.7-2.2-4.6 .6zM422.9 390.4l4.6-.6-4.7-2.2-4.6 .6zM413.5 388.8l4.7-.6-4.7-2.1-4.7 .5zM427.6 392.6l4.6-.6-4.7-2.2-4.6 .6zM418.2 391l4.7-.6-4.7-2.2-4.7 .6zM408.7 389.4l4.8-.6-4.7-2.2-4.7 .6zM422.9 393.3l4.7-.7-4.7-2.2-4.7 .6zM413.4 391.7l4.8-.7-4.7-2.2-4.8 .6zM418.2 393.9l4.7-.6-4.7-2.3-4.8 .7z" fill="#00fc00" stroke="#00fc00" stroke-width="0.4"/>
<path d="M425.6 344.5l3.7-.2-3.7-1.4-3.7 .1zM433.4 349.2l3.7-.2-3.8-1.5-3.8 .2zM441.4 354.1l3.8-.3-4-1.5-3.7 .2zM449.8 359.2l3.8-.3-4.1-1.6-3.8 .3zM458.5 364.6l3.8-.4-4.2-1.7-3.8 .4zM463.2 368.4l3.8-.4-4.3-1.7-3.8 .3zM472.4 374.1l3.9-.4-4.4-1.8-3.9 .4zM487.5 384.5l3.9-.6-4.7-1.9-3.9 .5z" fill="#00fc0c" stroke="#00fc0c" stroke-width="0.4"/>
<path d="M429.4 346l3.7-.2-3.8-1.5-3.7 .2zM437.3 350.7l3.7-.2-3.9-1.5-3.7 .2zM445.4 355.7l3.8-.3-4-1.6-3.8 .3zM467.5 370.1l3.8-.4-4.3-1.7-3.8 .4zM482.1 380.1l3.9-.5-4.6-1.8-3.9 .5z" fill="#00fc12" stroke="#00fc12" stroke-width="0.4"/>
<path d="M433.3 347.5l3.6-.2-3.8-1.5-3.7 .2zM441.2 352.3l3.7-.3-3.9-1.5-3.7 .2zM453.9 360.9l3.8-.4-4.1-1.6-3.8 .3zM462.7 366.3l3.8-.4-4.2-1.7-3.8 .4zM471.9 371.9l3.8-.4-4.4-1.8-3.8 .4zM476.9 375.9l3.9-.4-4.5-1.8-3.9 .4zM486.7 382l3.9-.5-4.6-1.9-3.9 .5z" fill="#00fc18" stroke="#00fc18" stroke-width="0.4"/>
<path d="M437.1 349l3.7-.2-3.9-1.5-3.6 .2zM445.2 353.8l3.7-.2-4-1.6-3.7 .3zM453.6 358.9l3.7-.3-4.1-1.6-3.7 .3zM462.3 364.2l3.7-.3-4.2-1.7-3.7 .3zM471.3 369.7l3.8-.4-4.3-1.7-3.8 .4zM476.3 373.7l3.8-.4-4.4-1.8-3.8 .4zM486 379.6l3.8-.4-4.5-1.9-3.9 .5z" fill="#00fc24" stroke="#00fc24" stroke-width="0.4"/>
<path d="M441 350.5l3.7-.2-3.9-1.5-3.7 .2zM449.2 355.4l3.7-.3-4-1.5-3.7 .2zM457.7 360.5l3.7-.3-4.1-1.6-3.7 .3zM480.8 375.5l3.8-.5-4.5-1.7-3.8 .4z" fill="#00fc2a" stroke="#00fc2a" stroke-width="0.4"/>
<path d="M444.9 352l3.7-.2-3.9-1.5-3.7 .2zM453.2 357l3.7-.3-4-1.6-3.7 .3zM461.8 362.2l3.8-.3-4.2-1.7-3.7 .3zM466.5 365.9l3.8-.4-4.3-1.6-3.7 .3zM475.7 371.5l3.8-.4-4.4-1.8-3.8 .4zM485.3 377.3l3.8-.4-4.5-1.9-3.8 .5zM490.6 381.5l3.8-.5-4.6-1.8-3.8 .4z" fill="#00fc30" stroke="#00fc30" stroke-width="0.4"/>
<path d="M448.9 353.6l3.6-.3-3.9-1.5-3.7 .2zM457.3 358.6l3.7-.3-4.1-1.6-3.7 .3zM466 363.9l3.7-.4-4.1-1.6-3.8 .3zM475.1 369.3l3.7-.4-4.3-1.7-3.7 .4zM489.8 379.2l3.8-.5-4.5-1.8-3.8 .4z" fill="#00fc3c" stroke="#00fc3c" stroke-width="0.4"/>
<path d="M452.9 355.1l3.6-.2-4-1.6-3.6 .3zM461.4 360.2l3.7-.3-4.1-1.6-3.7 .3zM470.3 365.5l3.7-.3-4.3-1.7-3.7 .4zM484.6 375l3.7-.4-4.4-1.8-3.8 .5zM494.4 381l3.8-.5-4.6-1.8-3.8 .5z" fill="#00fc42" stroke="#00fc42" stroke-width="0.4"/>
<path d="M456.9 356.7l3.7-.3-4.1-1.5-3.6 .2zM465.6 361.9l3.6-.4-4.1-1.6-3.7 .3zM474.5 367.2l3.7-.4-4.2-1.6-3.7 .3zM479.5 371.1l3.7-.4-4.4-1.8-3.7 .4zM489.1 376.9l3.7-.5-4.5-1.8-3.7 .4zM499 382.9l3.8-.5-4.6-1.9-3.8 .5z" fill="#00fc48" stroke="#00fc48" stroke-width="0.4"/>
<path d="M461 358.3l3.6-.3-4-1.6-3.7 .3zM483.9 372.8l3.7-.4-4.4-1.7-3.7 .4zM493.6 378.7l3.7-.5-4.5-1.8-3.7 .5z" fill="#00fc4e" stroke="#00fc4e" stroke-width="0.4"/>
<path d="M465.1 359.9l3.6-.3-4.1-1.6-3.6 .3zM474 365.2l3.6-.4-4.2-1.6-3.7 .3zM483.2 370.7l3.7-.4-4.4-1.8-3.7 .4zM498.2 380.5l3.7-.5-4.6-1.8-3.7 .5z" fill="#00fc5a" stroke="#00fc5a" stroke-width="0.4"/>
<path d="M449.5 357.3l3.7-.3-4-1.6-3.8 .3zM458.1 362.5l3.7-.3-4.1-1.7-3.8 .4zM467 368l3.8-.4-4.3-1.7-3.8 .4zM481.4 377.8l3.9-.5-4.5-1.8-3.9 .4zM491.4 383.9l3.8-.5-4.6-1.9-3.9 .5z" fill="#00fc1e" stroke="#00fc1e" stroke-width="0.4"/>
<path d="M469.2 361.5l3.7-.3-4.2-1.6-3.6 .3zM478.2 366.8l3.7-.3-4.3-1.7-3.6 .4zM487.6 372.4l3.7-.4-4.4-1.7-3.7 .4zM492.8 376.4l3.7-.5-4.5-1.7-3.7 .4zM502.8 382.4l3.8-.5-4.7-1.9-3.7 .5z" fill="#00fc60" stroke="#00fc60" stroke-width="0.4"/>
<path d="M445.7 357.6l3.8-.3-4.1-1.6-3.7 .3zM454.3 362.9l3.8-.4-4.2-1.6-3.8 .3zM477.5 378.3l3.9-.5-4.5-1.9-3.9 .5z" fill="#00fc06" stroke="#00fc06" stroke-width="0.4"/>
<path d="M473.4 363.2l3.6-.4-4.1-1.6-3.7 .3zM497.3 378.2l3.8-.5-4.6-1.8-3.7 .5z" fill="#00fc66" stroke="#00fc66" stroke-width="0.4"/>
<path d="M477.6 364.8l3.7-.3-4.3-1.7-3.6 .4zM482.5 368.5l3.7-.3-4.3-1.7-3.7 .3zM492 374.2l3.7-.5-4.4-1.7-3.7 .4zM501.9 380l3.7-.5-4.5-1.8-3.8 .5z" fill="#00fc6c" stroke="#00fc6c" stroke-width="0.4"/>
<path d="M469.7 363.5l3.7-.3-4.2-1.7-3.6 .4zM478.8 368.9l3.7-.4-4.3-1.7-3.7 .4zM488.3 374.6l3.7-.4-4.4-1.8-3.7 .4z" fill="#00fc54" stroke="#00fc54" stroke-width="0.4"/>
<path d="M481.9 366.5l3.6-.4-4.2-1.6-3.7 .3zM491.3 372l3.6-.4-4.4-1.7-3.6 .4zM501.1 377.7l3.6-.4-4.5-1.8-3.7 .4zM506.6 381.9l3.6-.5-4.6-1.9-3.7 .5z" fill="#00fc78" stroke="#00fc78" stroke-width="0.4"/>
<path d="M353.8 344.4l4.3-.2-3.7-1.6-4.3 .2zM356.9 348l4.4-.2-3.8-1.7-4.4 .2zM364 353.4l4.4-.3-3.8-1.7-4.5 .2zM367.4 357.2l4.5-.3-4-1.7-4.5 .2zM378.6 367.3l4.6-.4-4.1-1.9-4.6 .3zM382.5 371.6l4.6-.4-4.2-2-4.7 .4zM395 382.9l4.7-.5-4.5-2.1-4.7 .5z" fill="#18fc00" stroke="#18fc00" stroke-width="0.4"/>
<path d="M486.2 368.2l3.6-.4-4.3-1.7-3.6 .4z" fill="#00fc7e" stroke="#00fc7e" stroke-width="0.4"/>
<path d="M357.5 346.1l4.4-.2-3.8-1.7-4.3 .2zM364.6 351.4l4.3-.3-3.8-1.7-4.4 .3zM367.9 355.2l4.5-.3-4-1.8-4.4 .3zM375.4 360.9l4.5-.4-4-1.8-4.5 .3zM379.1 365l4.5-.4-4.1-1.9-4.5 .4zM382.9 369.2l4.6-.4-4.3-1.9-4.6 .4zM391.1 375.6l4.7-.4-4.4-2-4.6 .4zM395.2 380.3l4.7-.6-4.4-2-4.7 .5zM399.5 385.1l4.8-.6-4.6-2.1-4.7 .5z" fill="#0cfc00" stroke="#0cfc00" stroke-width="0.4"/>
<path d="M349.4 344.6l4.4-.2-3.7-1.6-4.4 .2zM359.5 353.7l4.5-.3-3.9-1.8-4.5 .3zM370.4 363.4l4.6-.3-4.1-1.9-4.6 .4zM374 367.7l4.6-.4-4.1-2-4.7 .4z" fill="#2afc00" stroke="#2afc00" stroke-width="0.4"/>
<path d="M490.5 369.9l3.7-.4-4.4-1.7-3.6 .4zM495.7 373.7l3.7-.4-4.5-1.7-3.6 .4zM505.6 379.5l3.7-.4-4.6-1.8-3.6 .4z" fill="#00fc84" stroke="#00fc84" stroke-width="0.4"/>
<path d="M361.3 347.8l4.3-.3-3.7-1.6-4.4 .2zM371.9 356.9l4.4-.3-3.9-1.7-4.5 .3zM383.2 366.9l4.6-.4-4.2-1.9-4.5 .4zM387.1 371.2l4.6-.5-4.2-1.9-4.6 .4zM404.1 387.2l4.7-.6-4.5-2.1-4.8 .6z" fill="#06fc00" stroke="#06fc00" stroke-width="0.4"/>
<path d="M353.1 346.3l4.4-.2-3.7-1.7-4.4 .2zM356.3 349.9l4.4-.2-3.8-1.7-4.4 .2zM363.4 355.4l4.5-.2-3.9-1.8-4.5 .3zM366.8 359.4l4.6-.4-4-1.8-4.6 .3zM378.2 369.6l4.7-.4-4.3-1.9-4.6 .4zM382.1 374.1l4.7-.5-4.3-2-4.7 .4zM386 378.7l4.8-.5-4.4-2.1-4.8 .5z" fill="#24fc00" stroke="#24fc00" stroke-width="0.4"/>
<path d="M344.9 344.8l4.5-.2-3.7-1.6-4.5 .2zM351.8 350.2l4.5-.3-3.8-1.7-4.5 .2zM354.9 353.9l4.6-.2-3.9-1.8-4.5 .3zM362.2 359.7l4.6-.3-4-1.9-4.6 .3zM365.7 363.8l4.7-.4-4.1-1.8-4.7 .3zM369.3 368.1l4.7-.4-4.2-2-4.7 .4z" fill="#3cfc00" stroke="#3cfc00" stroke-width="0.4"/>
<path d="M494.9 371.6l3.6-.4-4.3-1.7-3.7 .4zM504.7 377.3l3.6-.5-4.5-1.8-3.6 .5z" fill="#00fc90" stroke="#00fc90" stroke-width="0.4"/>
<path d="M486.9 370.3l3.6-.4-4.3-1.7-3.7 .3zM496.5 375.9l3.7-.4-4.5-1.8-3.7 .5z" fill="#00fc72" stroke="#00fc72" stroke-width="0.4"/>
<path d="M470.8 367.6l3.7-.4-4.2-1.7-3.8 .4zM480.1 373.3l3.8-.5-4.4-1.7-3.8 .4zM495.2 383.4l3.8-.5-4.6-1.9-3.8 .5z" fill="#00fc36" stroke="#00fc36" stroke-width="0.4"/>
<path d="M348.7 346.5l4.4-.2-3.7-1.7-4.5 .2zM358.9 355.7l4.5-.3-3.9-1.7-4.6 .2zM373.5 370l4.7-.4-4.2-1.9-4.7 .4zM377.3 374.5l4.8-.4-4.3-2.1-4.8 .5z" fill="#36fc00" stroke="#36fc00" stroke-width="0.4"/>
<path d="M340.4 345l4.5-.2-3.7-1.6-4.5 .1zM350.3 354.2l4.6-.3-3.8-1.7-4.6 .2zM361 364.2l4.7-.4-4.1-1.9-4.7 .4zM364.5 368.5l4.8-.4-4.2-2-4.7 .4z" fill="#54fc00" stroke="#54fc00" stroke-width="0.4"/>
<path d="M499.4 373.3l3.6-.4-4.5-1.7-3.6 .4z" fill="#00fc96" stroke="#00fc96" stroke-width="0.4"/>
<path d="M360.7 349.7l4.4-.3-3.8-1.6-4.4 .2zM371.4 359l4.5-.3-4-1.8-4.5 .3zM375 363.1l4.5-.4-4.1-1.8-4.5 .3zM386.8 373.6l4.6-.4-4.3-2-4.6 .4zM390.8 378.2l4.7-.5-4.4-2.1-4.7 .5z" fill="#12fc00" stroke="#12fc00" stroke-width="0.4"/>
<path d="M352.5 348.2l4.4-.2-3.8-1.7-4.4 .2zM355.6 351.9l4.5-.3-3.8-1.7-4.5 .3zM362.8 357.5l4.6-.3-4-1.8-4.5 .3zM366.3 361.6l4.6-.4-4.1-1.8-4.6 .3zM369.8 365.7l4.7-.4-4.1-1.9-4.7 .4zM377.8 372l4.7-.4-4.3-2-4.7 .4zM381.6 376.6l4.8-.5-4.3-2-4.8 .4z" fill="#30fc00" stroke="#30fc00" stroke-width="0.4"/>
<path d="M344.2 346.7l4.5-.2-3.8-1.7-4.5 .2zM351.1 352.2l4.5-.3-3.8-1.7-4.6 .2zM354.3 356l4.6-.3-4-1.8-4.6 .3zM365.1 366.1l4.7-.4-4.1-1.9-4.7 .4zM368.7 370.5l4.8-.5-4.2-1.9-4.8 .4z" fill="#48fc00" stroke="#48fc00" stroke-width="0.4"/>
<path d="M335.9 345.2l4.5-.2-3.7-1.7-4.5 .2zM338.8 348.9l4.6-.2-3.8-1.8-4.6 .2zM348.9 358.5l4.7-.3-4-1.9-4.7 .3z" fill="#78fc00" stroke="#78fc00" stroke-width="0.4"/>
<path d="M503.8 375l3.6-.4-4.4-1.7-3.6 .4zM509.3 379.1l3.6-.5-4.6-1.8-3.6 .5z" fill="#00fc9c" stroke="#00fc9c" stroke-width="0.4"/>
<path d="M348 348.4l4.5-.2-3.8-1.7-4.5 .2zM358.2 357.8l4.6-.3-3.9-1.8-4.6 .3zM361.6 361.9l4.7-.3-4.1-1.9-4.6 .3zM373 372.5l4.8-.5-4.3-2-4.8 .5z" fill="#42fc00" stroke="#42fc00" stroke-width="0.4"/>
<path d="M339.6 346.9l4.6-.2-3.8-1.7-4.5 .2zM342.6 350.6l4.6-.2-3.8-1.7-4.6 .2zM352.9 360.4l4.7-.4-4-1.8-4.7 .3z" fill="#6cfc00" stroke="#6cfc00" stroke-width="0.4"/>
<path d="M331.3 345.4l4.6-.2-3.7-1.7-4.6 .2zM344.1 358.8l4.8-.3-4-1.9-4.7 .3z" fill="#96fc00" stroke="#96fc00" stroke-width="0.4"/>
<path d="M508.3 376.8l3.6-.4-4.5-1.8-3.6 .4z" fill="#00fca8" stroke="#00fca8" stroke-width="0.4"/>
<path d="M500.2 375.5l3.6-.5-4.4-1.7-3.7 .4zM510.2 381.4l3.7-.5-4.6-1.8-3.7 .4z" fill="#00fc8a" stroke="#00fc8a" stroke-width="0.4"/>
<path d="M360.1 351.6l4.5-.2-3.9-1.7-4.4 .2zM370.9 361.2l4.5-.3-4-1.9-4.6 .4zM374.5 365.3l4.6-.3-4.1-1.9-4.6 .3zM386.4 376.1l4.7-.5-4.3-2-4.7 .5zM390.5 380.8l4.7-.5-4.4-2.1-4.8 .5z" fill="#1efc00" stroke="#1efc00" stroke-width="0.4"/>
<path d="M343.4 348.7l4.6-.3-3.8-1.7-4.6 .2zM346.5 352.4l4.6-.2-3.9-1.8-4.6 .2zM356.9 362.3l4.7-.4-4-1.9-4.7 .4zM360.4 366.5l4.7-.4-4.1-1.9-4.8 .3z" fill="#60fc00" stroke="#60fc00" stroke-width="0.4"/>
<path d="M335 347.1l4.6-.2-3.7-1.7-4.6 .2zM348.1 360.7l4.8-.3-4-1.9-4.8 .3z" fill="#8afc00" stroke="#8afc00" stroke-width="0.4"/>
<path d="M326.7 345.6l4.6-.2-3.7-1.7-4.6 .2z" fill="#b4fc00" stroke="#b4fc00" stroke-width="0.4"/>
<path d="M512.9 378.6l3.6-.5-4.6-1.7-3.6 .4z" fill="#00fcae" stroke="#00fcae" stroke-width="0.4"/>
<path d="M347.2 350.4l4.6-.2-3.8-1.8-4.6 .3zM357.6 360l4.6-.3-4-1.9-4.6 .4z" fill="#4efc00" stroke="#4efc00" stroke-width="0.4"/>
<path d="M330.4 347.4l4.6-.3-3.7-1.7-4.6 .2z" fill="#a8fc00" stroke="#a8fc00" stroke-width="0.4"/>
<path d="M322 345.8l4.7-.2-3.7-1.7-4.7 .2z" fill="#d2fc00" stroke="#d2fc00" stroke-width="0.4"/>
<path d="M517.5 380.4l3.6-.5-4.6-1.8-3.6 .5z" fill="#00fcb4" stroke="#00fcb4" stroke-width="0.4"/>
<path d="M334.2 349.1l4.6-.2-3.8-1.8-4.6 .3zM337.1 353l4.7-.3-3.8-1.8-4.7 .2z" fill="#9cfc00" stroke="#9cfc00" stroke-width="0.4"/>
<path d="M325.7 347.6l4.7-.2-3.7-1.8-4.7 .2z" fill="#c6fc00" stroke="#c6fc00" stroke-width="0.4"/>
<path d="M317.2 346l4.8-.2-3.7-1.7-4.8 .2z" fill="#f0fc00" stroke="#f0fc00" stroke-width="0.4"/>
<path d="M513.9 380.9l3.6-.5-4.6-1.8-3.6 .5z" fill="#00fca2" stroke="#00fca2" stroke-width="0.4"/>
<path d="M338 350.9l4.6-.3-3.8-1.7-4.6 .2zM341 354.8l4.7-.3-3.9-1.8-4.7 .3z" fill="#90fc00" stroke="#90fc00" stroke-width="0.4"/>
<path d="M329.5 349.4l4.7-.3-3.8-1.7-4.7 .2z" fill="#bafc00" stroke="#bafc00" stroke-width="0.4"/>
<path d="M320.9 347.8l4.8-.2-3.7-1.8-4.8 .2z" fill="#e4fc00" stroke="#e4fc00" stroke-width="0.4"/>
<path d="M341.8 352.7l4.7-.3-3.9-1.8-4.6 .3zM352.1 362.6l4.8-.3-4-1.9-4.8 .3z" fill="#7efc00" stroke="#7efc00" stroke-width="0.4"/>
<path d="M333.3 351.1l4.7-.2-3.8-1.8-4.7 .3zM336.2 355.1l4.8-.3-3.9-1.8-4.7 .2z" fill="#aefc00" stroke="#aefc00" stroke-width="0.4"/>
<path d="M324.7 349.6l4.8-.2-3.8-1.8-4.8 .2z" fill="#d8fc00" stroke="#d8fc00" stroke-width="0.4"/>
<path d="M345.7 354.5l4.6-.3-3.8-1.8-4.7 .3zM356.2 364.5l4.8-.3-4.1-1.9-4.8 .3z" fill="#72fc00" stroke="#72fc00" stroke-width="0.4"/>
<path d="M328.5 351.4l4.8-.3-3.8-1.7-4.8 .2z" fill="#ccfc00" stroke="#ccfc00" stroke-width="0.4"/>
<path d="M349.6 356.3l4.7-.3-4-1.8-4.6 .3z" fill="#66fc00" stroke="#66fc00" stroke-width="0.4"/>
<path d="M332.4 353.2l4.7-.2-3.8-1.9-4.8 .3z" fill="#c0fc00" stroke="#c0fc00" stroke-width="0.4"/>
<path d="M353.6 358.2l4.6-.4-3.9-1.8-4.7 .3z" fill="#5afc00" stroke="#5afc00" stroke-width="0.4"/>
<path d="M344.9 356.6l4.7-.3-3.9-1.8-4.7 .3z" fill="#84fc00" stroke="#84fc00" stroke-width="0.4"/>
<path d="M340.2 356.9l4.7-.3-3.9-1.8-4.8 .3z" fill="#a2fc00" stroke="#a2fc00" stroke-width="0.4"/>
<path d="M418.2 393.9l4.7-.6 4.7-.7 4.6-.6 4.6-.6 4.5-.6 4.4-.7 4.4-.5 4.4-.6 4.3-.6 4.2-.6 4.2-.6 4.2-.5 4.1-.6 4-.5 4-.6 4-.5 3.9-.6 3.8-.5 3.8-.5 3.8-.5 3.8-.5 3.6-.5 3.7-.5 3.6-.5 3.6-.5M418.2 393.9l-4.8-2.2-4.7-2.3-4.6-2.2-4.6-2.1-4.5-2.2-4.5-2.1-4.5-2.1-4.4-2.1-4.3-2.1-4.3-2-4.3-2-4.2-2-4.1-2-4.2-2-4.1-1.9-4-1.9-4-1.9-3.9-1.9-4-1.8-3.8-1.9-3.9-1.8-3.8-1.8-3.8-1.8-3.7-1.8-3.7-1.7M413.4 391.7l4.8-.7 4.7-.6 4.6-.6 4.6-.6 4.5-.6 4.4-.6 4.4-.6 4.4-.5 4.3-.6 4.2-.5 4.2-.6 4.2-.5 4.1-.6 4-.5 4-.5 4-.6 3.9-.5 3.9-.5 3.8-.5 3.8-.5 3.7-.5 3.7-.5 3.7-.4 3.6-.5 3.6-.5M422.9 393.3l-4.7-2.3-4.7-2.2-4.7-2.2-4.5-2.1-4.6-2.1-4.5-2.1-4.4-2.1-4.4-2.1-4.3-2-4.3-2.1-4.3-2-4.2-1.9-4.2-2-4.1-1.9-4.1-1.9-4-1.9-4-1.9-4-1.9-3.9-1.8-3.9-1.8-3.8-1.9-3.8-1.7-3.8-1.8-3.7-1.8-3.7-1.7M408.7 389.4l4.8-.6 4.7-.6 4.6-.6 4.6-.5 4.5-.6 4.5-.6 4.4-.5 4.3-.6 4.3-.5 4.3-.6 4.2-.5 4.1-.5 4.1-.5 4.1-.6 4-.5 4-.5 3.9-.5 3.9-.5 3.8-.4 3.8-.5 3.7-.5 3.8-.5 3.6-.4 3.6-.5 3.6-.4M427.6 392.6l-4.7-2.2-4.7-2.2-4.7-2.1-4.5-2.2-4.6-2.1-4.5-2.1-4.4-2-4.4-2.1-4.3-2-4.3-2-4.3-2-4.2-1.9-4.2-2-4.1-1.9-4.1-1.9-4-1.9-4-1.8-4-1.9-3.9-1.8-3.9-1.8-3.8-1.8-3.8-1.8-3.8-1.7-3.7-1.8-3.7-1.7M404.1 387.2l4.7-.6 4.7-.5 4.7-.6 4.5-.6 4.6-.5 4.4-.5 4.5-.6 4.3-.5 4.3-.5 4.3-.6 4.2-.5 4.1-.5 4.2-.5 4-.5 4-.5 4-.5 3.9-.4 3.9-.5 3.9-.5 3.8-.4 3.7-.5 3.7-.5 3.7-.4 3.6-.5 3.6-.4M432.2 392l-4.7-2.2-4.7-2.2-4.6-2.1-4.6-2.1-4.5-2.1-4.5-2.1-4.5-2-4.3-2-4.4-2-4.3-2-4.2-2-4.3-1.9-4.1-2-4.1-1.9-4.1-1.8-4.1-1.9-4-1.9-3.9-1.8-4-1.8-3.8-1.8-3.9-1.8-3.8-1.7-3.8-1.8-3.7-1.7-3.7-1.7M399.5 385.1l4.8-.6 4.7-.6 4.6-.5 4.6-.5 4.5-.6 4.5-.5 4.4-.5 4.4-.5 4.3-.5 4.2-.5 4.2-.5 4.2-.5 4.1-.5 4.1-.5 4-.5 4-.4 3.9-.5 3.9-.5 3.9-.4 3.8-.5 3.7-.4 3.7-.4 3.7-.5 3.7-.4 3.6-.4M436.8 391.4l-4.7-2.2-4.7-2.1-4.7-2.2-4.5-2-4.6-2.1-4.4-2.1-4.5-2-4.4-2-4.3-2-4.3-2-4.2-1.9-4.3-1.9-4.1-1.9-4.1-1.9-4.1-1.9-4.1-1.8-4-1.9-3.9-1.8-4-1.8-3.8-1.7-3.9-1.8-3.8-1.7-3.8-1.8-3.7-1.7-3.7-1.7M395 382.9l4.7-.5 4.7-.6 4.7-.5 4.5-.5 4.6-.5 4.4-.5 4.5-.5 4.3-.5 4.4-.5 4.2-.5 4.2-.5 4.2-.5 4.1-.4 4.1-.5 4-.4 4-.5 4-.4 3.8-.5 3.9-.4 3.8-.4 3.8-.5 3.7-.4 3.7-.4 3.6-.4 3.6-.4M441.3 390.8l-4.7-2.2-4.7-2.1-4.6-2.1-4.6-2.1-4.5-2-4.5-2.1-4.4-2-4.4-2-4.4-1.9-4.3-2-4.2-1.9-4.2-1.9-4.2-1.9-4.1-1.9-4.1-1.8-4-1.9-4-1.8-4-1.8-3.9-1.7-3.9-1.8-3.8-1.7-3.8-1.8-3.8-1.7-3.8-1.7-3.7-1.7M390.5 380.8l4.7-.5 4.7-.6 4.7-.5 4.6-.5 4.5-.5 4.5-.4 4.4-.5 4.4-.5 4.3-.5 4.3-.4 4.2-.5 4.2-.5 4.1-.4 4.1-.5 4-.4 4-.4 3.9-.5 3.9-.4 3.9-.4 3.8-.4 3.8-.4 3.7-.4 3.7-.4 3.6-.4 3.7-.4M445.7 390.1l-4.7-2.1-4.6-2.1-4.7-2-4.5-2.1-4.6-2-4.4-2-4.5-2-4.3-2-4.4-2-4.3-1.9-4.2-1.9-4.2-1.9-4.2-1.9-4.1-1.8-4.1-1.9-4-1.8-4-1.8-4-1.7-3.9-1.8-3.9-1.8-3.8-1.7-3.8-1.7-3.8-1.7-3.8-1.7-3.7-1.6M386 378.7l4.8-.5 4.7-.5 4.6-.5 4.6-.5 4.6-.5 4.4-.4 4.5-.5 4.3-.5 4.4-.4 4.2-.5 4.3-.4 4.2-.4 4.1-.5 4.1-.4 4-.4 4-.4 3.9-.5 4-.4 3.8-.4 3.8-.4 3.8-.4 3.7-.4 3.7-.4 3.7-.3 3.6-.4M450.1 389.6l-4.7-2.2-4.6-2-4.6-2.1-4.6-2-4.5-2-4.5-2-4.4-2-4.4-2-4.3-1.9-4.3-1.9-4.3-1.9-4.2-1.9-4.1-1.8-4.2-1.9-4-1.8-4.1-1.8-4-1.8-3.9-1.7-4-1.8-3.8-1.7-3.9-1.7-3.8-1.7-3.8-1.7-3.7-1.7-3.7-1.6M381.6 376.6l4.8-.5 4.7-.5 4.7-.4 4.5-.5 4.6-.5 4.5-.4 4.4-.5 4.4-.4 4.3-.4 4.3-.5 4.2-.4 4.2-.4 4.1-.4 4.1-.4 4.1-.4 4-.5 3.9-.3 3.9-.4 3.9-.4 3.8-.4 3.8-.4 3.7-.4 3.7-.4 3.7-.3 3.6-.4M454.5 389l-4.7-2.1-4.7-2.1-4.6-2-4.5-2-4.6-2-4.4-2-4.5-2-4.3-1.9-4.4-1.9-4.2-1.9-4.3-1.9-4.2-1.8-4.2-1.9-4.1-1.8-4.1-1.8-4-1.8-4-1.8-3.9-1.7-4-1.7-3.9-1.8-3.8-1.7-3.8-1.6-3.8-1.7-3.7-1.7-3.7-1.6M377.3 374.5l4.8-.4 4.7-.5 4.6-.4 4.6-.5 4.5-.4 4.5-.5 4.5-.4 4.3-.4 4.4-.4 4.3-.4 4.2-.5 4.2-.4 4.1-.4 4.1-.4 4-.3 4.1-.4 3.9-.4 3.9-.4 3.9-.4 3.8-.3 3.8-.4 3.8-.4 3.7-.3 3.6-.4 3.7-.3M458.8 388.4l-4.7-2.1-4.7-2-4.6-2-4.5-2-4.5-2-4.5-2-4.4-1.9-4.4-1.9-4.3-1.9-4.3-1.9-4.3-1.9-4.2-1.8-4.1-1.8-4.1-1.8-4.1-1.8-4-1.8-4-1.7-4-1.8-3.9-1.7-3.9-1.7-3.8-1.7-3.9-1.7-3.7-1.6-3.8-1.7-3.7-1.6M373 372.5l4.8-.5 4.7-.4 4.6-.4 4.6-.5 4.5-.4 4.5-.4 4.5-.4 4.4-.4 4.3-.4 4.3-.4 4.2-.4 4.2-.4 4.1-.4 4.1-.4 4.1-.3 4-.4 4-.4 3.9-.3 3.8-.4 3.9-.3 3.8-.4 3.7-.3 3.7-.4 3.7-.3 3.6-.4M463 387.8l-4.7-2-4.6-2.1-4.6-2-4.6-1.9-4.5-2-4.4-1.9-4.5-2-4.3-1.9-4.3-1.8-4.3-1.9-4.3-1.9-4.2-1.8-4.1-1.8-4.1-1.8-4.1-1.7-4-1.8-4-1.7-4-1.8-3.9-1.7-3.9-1.7-3.8-1.6-3.9-1.7-3.7-1.6-3.8-1.6-3.7-1.7M368.7 370.5l4.8-.5 4.7-.4 4.7-.4 4.6-.4 4.5-.4 4.5-.4 4.4-.4 4.4-.4 4.3-.4 4.3-.4 4.3-.3 4.2-.4 4.1-.4 4.1-.3 4.1-.4 4-.4 3.9-.3 4-.4 3.8-.3 3.9-.3 3.8-.4 3.7-.3 3.8-.3 3.6-.4 3.7-.3M467.2 387.2l-4.7-2-4.6-2-4.6-2-4.6-1.9-4.5-2-4.4-1.9-4.4-1.9-4.4-1.9-4.3-1.9-4.3-1.8-4.2-1.8-4.2-1.8-4.2-1.8-4.1-1.8-4.1-1.8-4-1.7-4-1.7-3.9-1.7-4-1.7-3.8-1.7-3.9-1.7-3.8-1.6-3.8-1.6-3.7-1.6-3.7-1.6M364.5 368.5l4.8-.4 4.7-.4 4.6-.4 4.6-.4 4.6-.4 4.5-.4 4.4-.4 4.4-.3 4.3-.4 4.3-.4 4.3-.3 4.2-.4 4.1-.3 4.1-.4 4.1-.3 4-.4 4-.3 3.9-.4 3.9-.3 3.8-.3 3.8-.3 3.8-.4 3.7-.3 3.7-.3 3.6-.3M471.4 386.7l-4.7-2-4.7-2-4.6-2-4.5-1.9-4.5-2-4.4-1.9-4.4-1.8-4.4-1.9-4.3-1.9-4.3-1.8-4.2-1.8-4.2-1.8-4.2-1.8-4.1-1.7-4.1-1.8-4-1.7-4-1.7-3.9-1.7-4-1.7-3.8-1.6-3.9-1.7-3.8-1.6-3.8-1.6-3.7-1.6-3.7-1.6M360.4 366.5l4.7-.4 4.7-.4 4.7-.4 4.6-.3 4.5-.4 4.5-.4 4.5-.3 4.3-.4 4.4-.3 4.3-.4 4.2-.3 4.2-.4 4.2-.3 4.1-.3 4-.4 4.1-.3 3.9-.3 4-.3 3.8-.4 3.9-.3 3.8-.3 3.8-.3 3.7-.3 3.7-.3 3.6-.3M475.5 386.1l-4.7-2-4.7-1.9-4.5-2-4.6-1.9-4.5-1.9-4.4-1.9-4.4-1.9-4.4-1.8-4.3-1.9-4.3-1.8-4.2-1.8-4.2-1.7-4.1-1.8-4.1-1.8-4.1-1.7-4-1.7-4-1.7-4-1.7-3.9-1.6-3.9-1.7-3.8-1.6-3.8-1.6-3.8-1.6-3.7-1.6-3.7-1.6M356.2 364.5l4.8-.3 4.7-.4 4.7-.4 4.6-.3 4.5-.4 4.5-.3 4.4-.4 4.4-.3 4.4-.3 4.3-.4 4.2-.3 4.2-.3 4.2-.4 4.1-.3 4-.3 4.1-.3 3.9-.3 4-.3 3.9-.3 3.8-.3 3.8-.3 3.8-.3 3.7-.3 3.7-.3 3.7-.3M479.5 385.6l-4.7-2-4.6-2-4.6-1.9-4.5-1.9-4.5-1.9-4.4-1.9-4.4-1.8-4.4-1.8-4.3-1.9-4.3-1.8-4.2-1.7-4.2-1.8-4.1-1.7-4.1-1.8-4.1-1.7-4-1.7-4-1.7-4-1.6-3.9-1.7-3.9-1.6-3.8-1.6-3.8-1.6-3.8-1.6-3.7-1.6-3.7-1.5M352.1 362.6l4.8-.3 4.7-.4 4.7-.3 4.6-.4 4.5-.3 4.5-.4 4.5-.3 4.3-.3 4.4-.3 4.3-.3 4.2-.4 4.2-.3 4.2-.3 4.1-.3 4.1-.3 4-.3 4-.3 3.9-.3 3.9-.3 3.9-.2 3.8-.3 3.7-.3 3.8-.3 3.7-.3 3.6-.2M483.5 385l-4.7-1.9-4.6-2-4.6-1.9-4.5-1.9-4.5-1.8-4.4-1.9-4.4-1.8-4.3-1.8-4.4-1.8-4.2-1.8-4.2-1.8-4.2-1.7-4.2-1.8-4.1-1.7-4-1.7-4.1-1.7-3.9-1.6-4-1.7-3.9-1.6-3.9-1.6-3.8-1.6-3.8-1.6-3.8-1.6-3.7-1.6-3.7-1.5M348.1 360.7l4.8-.3 4.7-.4 4.6-.3 4.6-.3 4.6-.4 4.5-.3 4.4-.3 4.4-.3 4.4-.3 4.3-.3 4.2-.3 4.2-.3 4.2-.3 4.1-.3 4-.3 4.1-.3 4-.2 3.9-.3 3.9-.3 3.8-.3 3.9-.2 3.7-.3 3.8-.3 3.7-.2 3.6-.3M487.5 384.5l-4.7-2-4.6-1.9-4.6-1.9-4.5-1.8-4.5-1.9-4.4-1.8-4.4-1.8-4.3-1.9-4.3-1.7-4.3-1.8-4.2-1.8-4.2-1.7-4.1-1.7-4.1-1.7-4.1-1.7-4-1.7-4-1.6-4-1.6-3.9-1.7-3.8-1.6-3.9-1.6-3.8-1.5-3.8-1.6-3.7-1.5-3.7-1.6M344.1 358.8l4.8-.3 4.7-.3 4.6-.4 4.6-.3 4.6-.3 4.5-.3 4.4-.3 4.4-.3 4.4-.2 4.3-.3 4.2-.3 4.2-.3 4.2-.3 4.1-.3 4.1-.2 4-.3 4-.3 3.9-.2 3.9-.3 3.9-.3 3.8-.2 3.8-.3 3.7-.2 3.7-.3 3.7-.2M491.4 383.9l-4.7-1.9-4.6-1.9-4.6-1.8-4.5-1.9-4.4-1.8-4.5-1.9-4.4-1.8-4.3-1.7-4.3-1.8-4.2-1.8-4.3-1.7-4.1-1.7-4.2-1.7-4.1-1.7-4-1.7-4-1.6-4-1.7-4-1.6-3.9-1.6-3.9-1.6-3.8-1.6-3.8-1.5-3.8-1.6-3.7-1.5-3.7-1.5M340.2 356.9l4.7-.3 4.7-.3 4.7-.3 4.6-.3 4.5-.3 4.5-.2 4.5-.3 4.4-.3 4.3-.3 4.3-.3 4.3-.2 4.2-.3 4.1-.3 4.1-.2 4.1-.3 4-.2 4-.3 4-.2 3.9-.3 3.8-.2 3.9-.3 3.7-.2 3.8-.3 3.7-.2 3.7-.2M495.2 383.4l-4.6-1.9-4.6-1.9-4.6-1.8-4.5-1.9-4.5-1.8-4.4-1.8-4.3-1.8-4.4-1.7-4.3-1.8-4.2-1.7-4.2-1.8-4.2-1.7-4.1-1.6-4.1-1.7-4.1-1.7-4-1.6-4-1.6-3.9-1.6-3.9-1.6-3.9-1.6-3.8-1.6-3.8-1.5-3.8-1.6-3.7-1.5-3.7-1.5M336.2 355.1l4.8-.3 4.7-.3 4.6-.3 4.6-.3 4.6-.2 4.5-.3 4.4-.3 4.4-.2 4.4-.3 4.3-.3 4.2-.2 4.2-.3 4.2-.2 4.1-.3 4.1-.2 4-.3 4-.2 4-.2 3.9-.3 3.8-.2 3.9-.2 3.7-.3 3.8-.2 3.7-.2 3.7-.2M499 382.9l-4.6-1.9-4.6-1.8-4.5-1.9-4.5-1.8-4.5-1.8-4.4-1.8-4.4-1.8-4.3-1.7-4.3-1.8-4.3-1.7-4.2-1.7-4.1-1.7-4.2-1.7-4-1.6-4.1-1.7-4-1.6-4-1.6-3.9-1.6-3.9-1.6-3.9-1.5-3.8-1.6-3.8-1.5-3.8-1.6-3.7-1.5-3.7-1.5M332.4 353.2l4.7-.2 4.7-.3 4.7-.3 4.6-.2 4.5-.3 4.5-.3 4.5-.2 4.3-.3 4.4-.2 4.3-.3 4.3-.2 4.2-.2 4.1-.3 4.1-.2 4.1-.2 4.1-.3 3.9-.2 4-.2 3.9-.2 3.9-.3 3.8-.2 3.8-.2 3.7-.2 3.8-.2 3.6-.2M502.8 382.4l-4.6-1.9-4.6-1.8-4.5-1.8-4.5-1.9-4.5-1.7-4.4-1.8-4.4-1.8-4.3-1.7-4.3-1.7-4.2-1.7-4.2-1.7-4.2-1.7-4.1-1.7-4.1-1.6-4-1.6-4.1-1.7-3.9-1.6-4-1.5-3.9-1.6-3.8-1.6-3.9-1.5-3.8-1.5-3.7-1.5-3.7-1.5-3.7-1.5M328.5 351.4l4.8-.3 4.7-.2 4.6-.3 4.6-.2 4.6-.2 4.5-.3 4.4-.2 4.4-.3 4.4-.2 4.3-.2 4.2-.3 4.2-.2 4.2-.2 4.1-.2 4.1-.2 4-.3 4-.2 4-.2 3.9-.2 3.8-.2 3.9-.2 3.8-.2 3.7-.2 3.7-.2 3.7-.2M506.6 381.9l-4.7-1.9-4.6-1.8-4.5-1.8-4.5-1.8-4.4-1.8-4.4-1.7-4.4-1.8-4.3-1.7-4.3-1.7-4.2-1.7-4.2-1.7-4.2-1.6-4.1-1.7-4.1-1.6-4-1.6-4-1.6-4-1.6-3.9-1.6-3.9-1.5-3.9-1.6-3.8-1.5-3.8-1.5-3.8-1.5-3.7-1.5-3.7-1.5M324.7 349.6l4.8-.2 4.7-.3 4.6-.2 4.6-.2 4.6-.3 4.5-.2 4.4-.2 4.4-.2 4.3-.3 4.3-.2 4.3-.2 4.2-.2 4.2-.2 4.1-.2 4.1-.2 4-.2 4-.2 4-.2 3.9-.2 3.8-.2 3.9-.2 3.8-.2 3.7-.2 3.7-.2 3.7-.2M510.2 381.4l-4.6-1.9-4.5-1.8-4.6-1.8-4.5-1.7-4.4-1.8-4.4-1.7-4.4-1.8-4.3-1.7-4.2-1.7-4.3-1.6-4.2-1.7-4.1-1.7-4.1-1.6-4.1-1.6-4.1-1.6-4-1.6-3.9-1.6-4-1.5-3.9-1.6-3.8-1.5-3.8-1.5-3.8-1.5-3.8-1.5-3.7-1.5-3.7-1.4M320.9 347.8l4.8-.2 4.7-.2 4.6-.3 4.6-.2 4.6-.2 4.5-.2 4.4-.2 4.4-.2 4.4-.2 4.3-.2 4.2-.2 4.2-.2 4.2-.2 4.1-.2 4.1-.2 4-.2 4-.2 4-.2 3.9-.2 3.9-.1 3.8-.2 3.8-.2 3.8-.2 3.7-.2 3.7-.1M513.9 380.9l-4.6-1.8-4.6-1.8-4.5-1.8-4.5-1.8-4.4-1.7-4.4-1.7-4.4-1.8-4.3-1.7-4.2-1.6-4.3-1.7-4.1-1.6-4.2-1.7-4.1-1.6-4.1-1.6-4-1.6-4-1.6-4-1.5-3.9-1.6-3.9-1.5-3.9-1.5-3.8-1.5-3.8-1.5-3.7-1.5-3.8-1.4-3.6-1.5M317.2 346l4.8-.2 4.7-.2 4.6-.2 4.6-.2 4.5-.2 4.5-.2 4.5-.2 4.4-.2 4.3-.2 4.3-.1 4.3-.2 4.2-.2 4.2-.2 4.1-.2 4.1-.2 4-.1 4-.2 4-.2 3.9-.2 3.9-.1 3.8-.2 3.8-.2 3.7-.1 3.8-.2 3.7-.2M517.5 380.4l-4.6-1.8-4.6-1.8-4.5-1.8-4.4-1.7-4.5-1.7-4.4-1.7-4.3-1.7-4.3-1.7-4.3-1.7-4.2-1.6-4.2-1.7-4.1-1.6-4.1-1.6-4.1-1.6-4-1.6-4-1.5-4-1.6-3.9-1.5-3.9-1.5-3.8-1.5-3.9-1.5-3.8-1.5-3.7-1.5-3.7-1.4-3.7-1.4M313.5 344.3l4.8-.2 4.7-.2 4.6-.2 4.6-.2 4.5-.2 4.5-.1 4.5-.2 4.4-.2 4.3-.2 4.3-.2 4.3-.1 4.2-.2 4.2-.2 4.1-.1 4.1-.2 4-.2 4-.1 4-.2 3.9-.2 3.9-.1 3.8-.2 3.8-.1 3.8-.2 3.7-.1 3.7-.2M521.1 379.9l-4.6-1.8-4.6-1.7-4.5-1.8-4.4-1.7-4.5-1.7-4.3-1.7-4.4-1.7-4.3-1.7-4.2-1.6-4.3-1.7-4.1-1.6-4.2-1.6-4.1-1.6-4-1.6-4.1-1.5-4-1.6-3.9-1.5-3.9-1.5-3.9-1.5-3.9-1.5-3.8-1.5-3.8-1.5-3.7-1.4-3.7-1.5-3.7-1.4" fill="none" stroke="#000" stroke-opacity="0.42" stroke-width="0.4"/>
<circle cx="312.9" cy="344.3" r="2.35" fill="#e2121c"/>
<circle cx="417.8" cy="348.4" r="2.35" fill="#e2121c"/>
<circle cx="417.8" cy="382.5" r="2.35" fill="#e2121c"/>
<circle cx="520.4" cy="379.9" r="2.35" fill="#e2121c"/>
<path d="M310.4 297.9h1.9v1.9h-1.9zM311.7 324.1h1.9v1.9h-1.9zM312.9 350.4h1.9v1.9h-1.9zM314.2 376.7h1.9v1.9h-1.9zM315.4 402.8h1.9v1.9h-1.9zM417.1 483.9h1.9v1.9h-1.9zM437.1 474.4h1.9v1.9h-1.9zM397.1 474.4h1.9v1.9h-1.9zM457.1 464.9h1.9v1.9h-1.9zM377.1 464.9h1.9v1.9h-1.9zM477.2 455.4h1.9v1.9h-1.9zM357.1 455.4h1.9v1.9h-1.9zM497.2 445.9h1.9v1.9h-1.9zM337.1 445.9h1.9v1.9h-1.9zM517.2 436.3h1.9v1.9h-1.9zM317.1 436.4h1.9v1.9h-1.9z" fill="#111"/>
<g font-size="7.05" fill="#333"><text x="307.6" y="297.3" text-anchor="end" font-size="6.7">-20</text><text x="308.8" y="323.5" text-anchor="end" font-size="6.7">-25</text><text x="310.1" y="349.9" text-anchor="end" font-size="6.7">-30</text><text x="311.3" y="376.1" text-anchor="end" font-size="6.7">-35</text><text x="312.6" y="402.2" text-anchor="end" font-size="6.7">-40</text><text x="426" y="493" text-anchor="middle" font-size="6.7">10</text><text x="446.1" y="483.5" text-anchor="middle" font-size="6.7">12</text><text x="466.1" y="474" text-anchor="middle" font-size="6.7">14</text><text x="486.1" y="464.4" text-anchor="middle" font-size="6.7">16</text><text x="506.2" y="454.9" text-anchor="middle" font-size="6.7">18</text><text x="526.2" y="445.4" text-anchor="middle" font-size="6.7">20</text><text x="411.9" y="492.7" text-anchor="middle" font-size="6.7">5</text><text x="391.9" y="483.2" text-anchor="middle" font-size="6.7">6</text><text x="371.9" y="473.7" text-anchor="middle" font-size="6.7">7</text><text x="351.9" y="464.2" text-anchor="middle" font-size="6.7">8</text><text x="331.9" y="454.7" text-anchor="middle" font-size="6.7">9</text><text x="307.7" y="445.2" text-anchor="middle" font-size="6.7">10</text><text x="506.9" y="482.8" text-anchor="middle">A: S 60 Conc. (mg/mL)</text><text x="328.8" y="482.9" text-anchor="middle">B: T 60 Conc. (mg/mL)</text><text transform="translate(280.8 370.3) rotate(-90)" text-anchor="middle" font-size="7.45">Zeta potential (mV)</text></g>
<text x="418.2" y="518.5" text-anchor="middle" font-family="'Liberation Serif',serif" font-weight="bold" font-size="22.5" letter-spacing="0.2" fill="#111">(d)</text></g>
<g id="pe"><path d="M45.7 562.3L152.3 538.7M152.3 538.7L259.4 562.3M46.5 579.6L152.4 554.2M152.4 554.2L258.5 579.6M47.4 597.4L152.4 570.1M152.4 570.1L257.7 597.4M48.2 614.7L152.5 585.6M152.5 585.6L256.8 614.7M49 631.8L152.6 600.9M152.6 600.9L255.9 631.7M49.9 649.3L152.6 616.6M152.6 616.6L255.1 649.2M50.7 666.6L152.7 632.1M152.7 632.1L254.2 666.5M254.2 666.5L259.4 562.4M71.1 659.7L67 557.7M233.9 659.6L238 557.7M91.5 652.8L88.3 553M213.6 652.7L216.6 553M111.9 645.9L109.7 548.2M193.3 645.9L195.1 548.2M132.3 639L131 543.5M173 639L173.7 543.5M152.7 632.1L152.3 538.8M52.3 700.6L45.7 562.4M252.5 700.5L259.4 562.4M152.8 662.5L152.7 632.1" fill="none" stroke="#b0b0b0" stroke-width="0.85"/>
<clipPath id="cfe"><polygon points="52.3,700.6 152.3,748.1 252.5,700.5 152.8,662.5"/></clipPath>
<polygon points="52.3,700.6 152.3,748.1 252.5,700.5 152.8,662.5" fill="#5e5e5e"/>
<g clip-path="url(#cfe)" fill="none" stroke-width="0.95" stroke-opacity="0.92"><path d="M75 691.6L116 731" stroke="#10b88a"/><path d="M97.4 682.4L165 741" stroke="#10b880"/><path d="M120 674L188 729" stroke="#10b870"/><path d="M141 665.6L210 717.4" stroke="#10b860"/><path d="M184 674L229 708" stroke="#10b850"/></g>
<circle cx="151.5" cy="580.9" r="2.1" fill="#f7c3c8" stroke="#f0a0aa" stroke-width="0.5"/>
<circle cx="256.4" cy="604.6" r="2.1" fill="#f7c3c8" stroke="#f0a0aa" stroke-width="0.5"/>
<path d="M152.5 583.4l3.7-1.7-3.7-.8-3.8 1.7zM156.2 584.2l3.8-1.6-3.8-.9-3.7 1.7zM156.3 586.7l3.7-1.7-3.8-.8-3.7 1.7zM160.1 587.5l3.8-1.6-3.9-.9-3.7 1.7zM160.2 589.9l3.8-1.6-3.9-.8-3.8 1.6zM164.1 590.7l3.8-1.6-3.9-.8-3.8 1.6zM164.2 593.1l3.8-1.6-3.9-.8-3.9 1.6zM168.2 594l3.8-1.6-4-.9-3.8 1.6zM164.3 595.6l3.9-1.6-4-.9-3.9 1.7zM168.3 596.5l3.9-1.6-4-.9-3.9 1.6zM172.4 597.4l3.8-1.6-4-.9-3.9 1.6zM168.5 599l3.9-1.6-4.1-.9-3.9 1.6zM172.6 600l3.9-1.7-4.1-.9-3.9 1.6zM176.7 600.9l3.9-1.6-4.1-1-3.9 1.7zM172.8 602.7l3.9-1.8-4.1-.9-4 1.7zM176.9 603.7l4-1.8-4.2-1-3.9 1.8zM181.2 604.7l3.9-1.7-4.2-1.1-4 1.8zM177.2 606.5l4-1.8-4.3-1-3.9 1.7zM181.4 607.6l4-1.8-4.2-1.1-4 1.8zM185.7 608.7l4-1.8-4.3-1.1-4 1.8zM190.1 609.9l4-1.9-4.4-1.1-4 1.8zM194.5 611.1l4-1.9-4.4-1.2-4 1.9zM186.1 611.7l4-1.8-4.4-1.2-4 1.9zM190.5 613l4-1.9-4.4-1.2-4 1.8zM194.9 614.2l4-1.9-4.4-1.2-4 1.9zM199.4 615.5l4-1.9-4.5-1.3-4 1.9zM204 616.9l4-2-4.6-1.3-4 1.9zM208.5 618.3l4-2-4.5-1.4-4 2zM213.2 619.7l4-2-4.7-1.4-4 2zM217.8 621.2l4.1-2.1-4.7-1.4-4 2zM222.6 622.7l4-2.1-4.7-1.5-4.1 2.1z" fill="#00fc1e" stroke="#00fc1e" stroke-width="0.4"/>
<path d="M148.7 585.1l3.8-1.7-3.8-.8-3.7 1.7zM152.5 585.9l3.7-1.7-3.7-.8-3.8 1.7zM144.9 586.8l3.8-1.7-3.7-.8-3.8 1.8zM148.7 587.5l3.8-1.6-3.8-.8-3.8 1.7zM152.5 588.3l3.8-1.6-3.8-.8-3.8 1.6zM156.3 589.1l3.8-1.6-3.8-.8-3.8 1.6zM148.6 590l3.9-1.7-3.8-.8-3.8 1.7zM152.5 590.7l3.8-1.6-3.8-.8-3.9 1.7zM156.3 591.5l3.9-1.6-3.9-.8-3.8 1.6zM160.2 592.3l3.9-1.6-3.9-.8-3.9 1.6zM152.5 593.2l3.8-1.7-3.8-.8-3.9 1.7zM156.4 594l3.8-1.7-3.9-.8-3.8 1.7zM160.3 594.8l3.9-1.7-4-.8-3.8 1.7zM156.4 596.4l3.9-1.6-3.9-.8-3.9 1.6zM160.4 597.3l3.9-1.7-4-.8-3.9 1.6zM164.4 598.1l3.9-1.6-4-.9-3.9 1.7zM156.4 599l4-1.7-4-.9-3.9 1.8zM160.5 599.9l3.9-1.8-4-.8-4 1.7zM164.5 600.8l4-1.8-4.1-.9-3.9 1.8zM168.6 601.7l4-1.7-4.1-1-4 1.8zM160.5 602.5l4-1.7-4-.9-4 1.7zM164.6 603.5l4-1.8-4.1-.9-4 1.7zM168.8 604.4l4-1.7-4.2-1-4 1.8zM173 605.4l3.9-1.7-4.1-1-4 1.7zM164.8 606.2l4-1.8-4.2-.9-4 1.8zM168.9 607.3l4.1-1.9-4.2-1-4 1.8zM173.2 608.3l4-1.8-4.2-1.1-4.1 1.9zM177.4 609.4l4-1.8-4.2-1.1-4 1.8zM169.1 610.2l4.1-1.9-4.3-1-4 1.8zM181.7 610.6l4-1.9-4.3-1.1-4 1.8zM173.4 611.3l4-1.9-4.2-1.1-4.1 1.9zM177.7 612.5l4-1.9-4.3-1.2-4 1.9zM182 613.7l4.1-2-4.4-1.1-4 1.9zM186.4 614.9l4.1-1.9-4.4-1.3-4.1 2zM190.9 616.2l4-2-4.4-1.2-4.1 1.9zM182.3 616.9l4.1-2-4.4-1.2-4.1 1.9zM195.4 617.5l4-2-4.5-1.3-4 2zM186.8 618.2l4.1-2-4.5-1.3-4.1 2zM199.9 618.9l4.1-2-4.6-1.4-4 2zM191.3 619.5l4.1-2-4.5-1.3-4.1 2zM204.5 620.3l4-2-4.5-1.4-4.1 2zM195.8 620.9l4.1-2-4.5-1.4-4.1 2zM209.1 621.8l4.1-2.1-4.7-1.4-4 2zM200.4 622.4l4.1-2.1-4.6-1.4-4.1 2zM213.8 623.3l4-2.1-4.6-1.5-4.1 2.1zM205 623.8l4.1-2-4.6-1.5-4.1 2.1zM218.5 624.8l4.1-2.1-4.8-1.5-4 2.1zM209.7 625.4l4.1-2.1-4.7-1.5-4.1 2z" fill="#00fc24" stroke="#00fc24" stroke-width="0.4"/>
<path d="M160 585l3.8-1.5-3.8-.9-3.8 1.6zM163.9 585.9l3.7-1.6-3.8-.8-3.8 1.5zM167.7 586.7l3.7-1.5-3.8-.9-3.7 1.6zM171.6 587.6l3.8-1.5-4-.9-3.7 1.5zM164 588.3l3.7-1.6-3.8-.8-3.8 1.6zM175.6 588.5l3.7-1.5-3.9-.9-3.8 1.5zM167.9 589.1l3.7-1.5-3.9-.9-3.7 1.6zM171.8 590l3.8-1.5-4-.9-3.7 1.5zM175.8 590.8l3.7-1.5-3.9-.8-3.8 1.5zM168 591.5l3.8-1.5-3.9-.9-3.8 1.6zM179.8 591.7l3.8-1.5-4.1-.9-3.7 1.5zM172 592.4l3.8-1.6-4-.8-3.8 1.5zM176 593.3l3.8-1.6-4-.9-3.8 1.6zM180.1 594.2l3.8-1.6-4.1-.9-3.8 1.6zM172.2 594.9l3.8-1.6-4-.9-3.8 1.6zM184.2 595.1l3.8-1.5-4.1-1-3.8 1.6zM176.2 595.8l3.9-1.6-4.1-.9-3.8 1.6zM180.3 596.7l3.9-1.6-4.1-.9-3.9 1.6zM184.5 597.6l3.8-1.6-4.1-.9-3.9 1.6zM176.5 598.3l3.8-1.6-4.1-.9-3.8 1.6zM180.6 599.3l3.9-1.7-4.2-.9-3.8 1.6zM184.8 600.2l3.8-1.6-4.1-1-3.9 1.7zM189 601.3l3.9-1.7-4.3-1-3.8 1.6zM180.9 601.9l3.9-1.7-4.2-.9-3.9 1.6zM193.3 602.3l3.8-1.7-4.2-1-3.9 1.7zM185.1 603l3.9-1.7-4.2-1.1-3.9 1.7zM189.4 604l3.9-1.7-4.3-1-3.9 1.7zM193.7 605.1l3.9-1.7-4.3-1.1-3.9 1.7zM185.4 605.8l4-1.8-4.3-1-3.9 1.7zM198 606.2l3.9-1.7-4.3-1.1-3.9 1.7zM189.7 606.9l4-1.8-4.3-1.1-4 1.8zM202.4 607.4l3.9-1.8-4.4-1.1-3.9 1.7zM194.1 608l3.9-1.8-4.3-1.1-4 1.8zM198.5 609.2l3.9-1.8-4.4-1.2-3.9 1.8zM202.9 610.4l4-1.8-4.5-1.2-3.9 1.8zM207.4 611.7l3.9-1.9-4.4-1.2-4 1.8zM198.9 612.3l4-1.9-4.4-1.2-4 1.9zM211.9 613l4-1.9-4.6-1.3-3.9 1.9zM203.4 613.6l4-1.9-4.5-1.3-4 1.9zM216.5 614.3l4-1.9-4.6-1.3-4 1.9zM208 614.9l3.9-1.9-4.5-1.3-4 1.9zM221.1 615.7l4-2-4.6-1.3-4 1.9zM212.5 616.3l4-2-4.6-1.3-3.9 1.9zM225.8 617.1l4-2-4.7-1.4-4 2zM217.2 617.7l3.9-2-4.6-1.4-4 2zM230.5 618.5l4-2-4.7-1.4-4 2zM221.9 619.1l3.9-2-4.7-1.4-3.9 2zM226.6 620.6l3.9-2.1-4.7-1.4-3.9 2z" fill="#00fc18" stroke="#00fc18" stroke-width="0.4"/>
<path d="M141.1 588.5l3.8-1.7-3.7-.7-3.8 1.7zM144.9 589.2l3.8-1.7-3.8-.7-3.8 1.7zM144.8 591.7l3.8-1.7-3.7-.8-3.9 1.7zM148.6 592.4l3.9-1.7-3.9-.7-3.8 1.7zM148.6 594.9l3.9-1.7-3.9-.8-3.9 1.7zM152.5 595.6l3.9-1.6-3.9-.8-3.9 1.7zM148.5 597.4l4-1.8-3.9-.7-4 1.7zM152.5 598.2l3.9-1.8-3.9-.8-4 1.8zM152.5 600.7l3.9-1.7-3.9-.8-4 1.7zM156.5 601.6l4-1.7-4.1-.9-3.9 1.7zM152.5 603.4l4-1.8-4-.9-4 1.8zM156.5 604.3l4-1.8-4-.9-4 1.8zM160.6 605.3l4-1.8-4.1-1-4 1.8zM156.6 607.1l4-1.8-4.1-1-4 1.9zM160.7 608.1l4.1-1.9-4.2-.9-4 1.8zM164.9 609.1l4-1.8-4.1-1.1-4.1 1.9zM165 612.1l4.1-1.9-4.2-1.1-4.1 2zM169.3 613.3l4.1-2-4.3-1.1-4.1 1.9zM173.6 614.4l4.1-1.9-4.3-1.2-4.1 2zM177.9 615.6l4.1-1.9-4.3-1.2-4.1 1.9zM173.8 617.7l4.1-2.1-4.3-1.2-4.2 2zM178.2 618.9l4.1-2-4.4-1.3-4.1 2.1zM182.6 620.2l4.2-2-4.5-1.3-4.1 2zM187.1 621.6l4.2-2.1-4.5-1.3-4.2 2zM191.7 623l4.1-2.1-4.5-1.4-4.2 2.1zM196.2 624.5l4.2-2.1-4.6-1.5-4.1 2.1zM200.9 626l4.1-2.2-4.6-1.4-4.2 2.1zM214.4 627l4.1-2.2-4.7-1.5-4.1 2.1zM205.6 627.5l4.1-2.1-4.7-1.6-4.1 2.2zM210.3 629.1l4.1-2.1-4.7-1.6-4.1 2.1z" fill="#00fc2a" stroke="#00fc2a" stroke-width="0.4"/>
<path d="M137.2 590.3l3.9-1.8-3.7-.7-3.9 1.8zM141 590.9l3.9-1.7-3.8-.7-3.9 1.8zM137.1 592.7l3.9-1.8-3.8-.6-3.8 1.7zM140.9 593.4l3.9-1.7-3.8-.8-3.9 1.8zM144.7 594.1l3.9-1.7-3.8-.7-3.9 1.7zM140.8 595.8l3.9-1.7-3.8-.7-3.9 1.7zM144.6 596.6l4-1.7-3.9-.8-3.9 1.7zM140.7 598.3l3.9-1.7-3.8-.8-4 1.8zM144.6 599.1l3.9-1.7-3.9-.8-3.9 1.7zM148.5 599.9l4-1.7-4-.8-3.9 1.7zM144.5 601.7l4-1.8-3.9-.8-4 1.8zM148.5 602.5l4-1.8-4-.8-4 1.8zM144.4 604.4l4.1-1.9-4-.8-4.1 1.8zM148.4 605.3l4.1-1.9-4-.9-4.1 1.9zM152.5 606.2l4-1.9-4-.9-4.1 1.9zM148.4 608.1l4.1-1.9-4.1-.9-4.1 1.8zM152.5 609l4.1-1.9-4.1-.9-4.1 1.9zM156.6 610l4.1-1.9-4.1-1-4.1 1.9zM160.8 611.1l4.1-2-4.2-1-4.1 1.9zM152.5 612l4.1-2-4.1-1-4.2 2zM156.6 613l4.2-1.9-4.2-1.1-4.1 2zM160.9 614.1l4.1-2-4.2-1-4.2 1.9zM165.1 615.3l4.2-2-4.3-1.2-4.1 2zM169.4 616.4l4.2-2-4.3-1.1-4.2 2zM160.9 617.3l4.2-2-4.2-1.2-4.2 2.1zM165.3 618.5l4.1-2.1-4.3-1.1-4.2 2zM169.6 619.7l4.2-2-4.4-1.3-4.1 2.1zM174 621l4.2-2.1-4.4-1.2-4.2 2zM178.5 622.3l4.1-2.1-4.4-1.3-4.2 2.1zM182.9 623.7l4.2-2.1-4.5-1.4-4.1 2.1zM187.5 625.1l4.2-2.1-4.6-1.4-4.2 2.1zM178.7 625.9l4.2-2.2-4.4-1.4-4.3 2.2zM192.1 626.6l4.1-2.1-4.5-1.5-4.2 2.1zM183.3 627.3l4.2-2.2-4.6-1.4-4.2 2.2zM196.7 628.1l4.2-2.1-4.7-1.5-4.1 2.1zM187.8 628.8l4.3-2.2-4.6-1.5-4.2 2.2zM201.4 629.7l4.2-2.2-4.7-1.5-4.2 2.1zM192.5 630.3l4.2-2.2-4.6-1.5-4.3 2.2zM206.1 631.3l4.2-2.2-4.7-1.6-4.2 2.2z" fill="#00fc30" stroke="#00fc30" stroke-width="0.4"/>
<path d="M133.4 592l3.8-1.7-3.7-.7-3.9 1.8zM137 595.1l3.9-1.7-3.8-.7-3.9 1.8zM136.8 597.6l4-1.8-3.8-.7-4 1.8zM140.6 600.9l4-1.8-3.9-.8-4 1.8zM140.4 603.5l4.1-1.8-3.9-.8-4.1 1.8zM144.3 607.1l4.1-1.8-4-.9-4.1 1.9zM148.3 611l4.2-2-4.1-.9-4.1 1.9zM152.5 615.1l4.1-2.1-4.1-1-4.2 2zM156.7 616.2l4.2-2.1-4.3-1.1-4.1 2.1zM161 620.6l4.3-2.1-4.4-1.2-4.2 2.1zM165.4 621.8l4.2-2.1-4.3-1.2-4.3 2.1zM169.8 623.1l4.2-2.1-4.4-1.3-4.2 2.1zM174.2 624.5l4.3-2.2-4.5-1.3-4.2 2.1zM197.2 631.9l4.2-2.2-4.7-1.6-4.2 2.2zM201.9 633.5l4.2-2.2-4.7-1.6-4.2 2.2z" fill="#00fc36" stroke="#00fc36" stroke-width="0.4"/>
<path d="M129.4 593.8l4-1.8-3.8-.6-3.9 1.8zM133.2 594.5l3.9-1.8-3.7-.7-4 1.8zM133 596.9l4-1.8-3.8-.6-4 1.7zM132.8 599.4l4-1.8-3.8-.7-4 1.8zM136.7 600.1l4-1.8-3.9-.7-4 1.8zM136.5 602.7l4.1-1.8-3.9-.8-4.1 1.9zM136.4 605.4l4-1.9-3.9-.8-4.1 1.9zM140.3 606.3l4.1-1.9-4-.9-4 1.9zM140.2 609.1l4.1-2-4-.8-4.1 1.9zM144.3 610l4.1-1.9-4.1-1-4.1 2zM144.2 613l4.1-2-4-1-4.2 2zM148.3 614l4.2-2-4.2-1-4.1 2zM148.3 617.1l4.2-2-4.2-1.1-4.2 2zM152.5 618.2l4.2-2-4.2-1.1-4.2 2zM156.7 619.4l4.2-2.1-4.2-1.1-4.2 2zM161.1 624l4.3-2.2-4.4-1.2-4.2 2.2zM165.5 625.3l4.3-2.2-4.4-1.3-4.3 2.2zM170 626.7l4.2-2.2-4.4-1.4-4.3 2.2zM174.5 628l4.2-2.1-4.5-1.4-4.2 2.2zM179 629.5l4.3-2.2-4.6-1.4-4.2 2.1zM183.6 631l4.2-2.2-4.5-1.5-4.3 2.2zM188.2 632.5l4.3-2.2-4.7-1.5-4.2 2.2zM192.9 634.1l4.3-2.2-4.7-1.6-4.3 2.2zM197.7 635.7l4.2-2.2-4.7-1.6-4.3 2.2z" fill="#00fc3c" stroke="#00fc3c" stroke-width="0.4"/>
<path d="M179.5 589.3l3.8-1.4-4-.9-3.7 1.5zM183.6 590.2l3.7-1.4-4-.9-3.8 1.4zM187.6 591.1l3.7-1.4-4-.9-3.7 1.4zM183.9 592.6l3.7-1.5-4-.9-3.8 1.5zM188 593.6l3.7-1.5-4.1-1-3.7 1.5zM192.1 594.5l3.7-1.5-4.1-.9-3.7 1.5zM188.3 596l3.8-1.5-4.1-.9-3.8 1.5zM192.5 597l3.8-1.5-4.2-1-3.8 1.5zM196.7 598l3.8-1.6-4.2-.9-3.8 1.5zM188.6 598.6l3.9-1.6-4.2-1-3.8 1.6zM192.9 599.6l3.8-1.6-4.2-1-3.9 1.6zM197.1 600.6l3.9-1.6-4.3-1-3.8 1.6zM201.4 601.7l3.9-1.7-4.3-1-3.9 1.6zM197.6 603.4l3.8-1.7-4.3-1.1-3.8 1.7zM201.9 604.5l3.9-1.7-4.4-1.1-3.8 1.7zM206.3 605.6l3.9-1.7-4.4-1.1-3.9 1.7zM210.8 606.8l3.8-1.8-4.4-1.1-3.9 1.7zM215.2 608l3.9-1.8-4.5-1.2-3.8 1.8zM206.9 608.6l3.9-1.8-4.5-1.2-3.9 1.8zM219.8 609.2l3.8-1.8-4.5-1.2-3.9 1.8zM211.3 609.8l3.9-1.8-4.4-1.2-3.9 1.8zM215.9 611.1l3.9-1.9-4.6-1.2-3.9 1.8zM220.5 612.4l3.9-1.9-4.6-1.3-3.9 1.9zM225.1 613.7l3.9-1.9-4.6-1.3-3.9 1.9zM229.8 615.1l3.8-2-4.6-1.3-3.9 1.9zM234.5 616.5l3.9-2-4.8-1.4-3.8 2z" fill="#00fc12" stroke="#00fc12" stroke-width="0.4"/>
<path d="M125.5 595.6l3.9-1.8-3.7-.6-3.9 1.8zM125.2 598.1l4-1.9-3.7-.6-4 1.8zM128.8 601.2l4-1.8-3.8-.7-4 1.9zM128.5 603.8l4.1-1.8-3.8-.8-4.1 1.9zM132.2 607.3l4.2-1.9-4-.8-4.1 1.9zM132 610.1l4.2-1.9-4-.9-4.1 2zM136 611l4.2-1.9-4-.9-4.2 1.9zM135.9 614l4.2-2-4.1-1-4.2 2.1zM140 615l4.2-2-4.1-1-4.2 2zM139.8 618.2l4.3-2.2-4.1-1-4.3 2.1zM144 619.2l4.3-2.1-4.2-1.1-4.3 2.2zM148.2 620.4l4.3-2.2-4.2-1.1-4.3 2.1zM152.5 625l4.3-2.2-4.3-1.3-4.3 2.2zM156.8 626.2l4.3-2.2-4.3-1.2-4.3 2.2zM161.2 627.5l4.3-2.2-4.4-1.3-4.3 2.2zM174.9 635.5l4.4-2.3-4.6-1.5-4.4 2.3zM179.6 637l4.3-2.3-4.6-1.5-4.4 2.3zM184.3 638.6l4.3-2.3-4.7-1.6-4.3 2.3z" fill="#00fc48" stroke="#00fc48" stroke-width="0.4"/>
<path d="M129.2 596.2l4-1.7-3.8-.7-3.9 1.8zM129 598.7l4-1.8-3.8-.7-4 1.9zM132.6 602l4.1-1.9-3.9-.7-4 1.8zM132.4 604.6l4.1-1.9-3.9-.7-4.1 1.8zM136.2 608.2l4.1-1.9-3.9-.9-4.2 1.9zM140.1 612l4.2-2-4.1-.9-4.2 1.9zM144.1 616l4.2-2-4.1-1-4.2 2zM152.5 621.5l4.2-2.1-4.2-1.2-4.3 2.2zM156.8 622.8l4.2-2.2-4.3-1.2-4.2 2.1zM165.7 628.9l4.3-2.2-4.5-1.4-4.3 2.2zM170.1 630.3l4.4-2.3-4.5-1.3-4.3 2.2zM174.7 631.7l4.3-2.2-4.5-1.5-4.4 2.3zM179.3 633.2l4.3-2.2-4.6-1.5-4.3 2.2zM183.9 634.7l4.3-2.2-4.6-1.5-4.3 2.2zM188.6 636.3l4.3-2.2-4.7-1.6-4.3 2.2zM193.3 638l4.4-2.3-4.8-1.6-4.3 2.2z" fill="#00fc42" stroke="#00fc42" stroke-width="0.4"/>
<path d="M121.5 597.4l4-1.8-3.7-.6-4 1.8zM121.2 599.9l4-1.8-3.7-.7-4 1.9zM120.9 602.4l4.1-1.8-3.8-.7-4.1 1.9zM124.4 605.7l4.1-1.9-3.8-.7-4.1 1.9zM124.2 608.5l4.1-2-3.9-.8-4.1 2zM127.8 612.2l4.2-2.1-3.9-.8-4.2 2zM127.6 615.1l4.2-2-4-.9-4.2 2zM131.6 616.1l4.3-2.1-4.1-.9-4.2 2zM135.5 620.3l4.3-2.1-4.1-1.1-4.3 2.2zM139.7 621.4l4.3-2.2-4.2-1-4.3 2.1zM143.8 626l4.4-2.3-4.3-1.1-4.3 2.2zM148.1 627.2l4.4-2.2-4.3-1.3-4.4 2.3zM152.5 628.5l4.3-2.3-4.3-1.2-4.4 2.2zM156.9 633.5l4.4-2.3-4.4-1.4-4.4 2.3zM161.4 634.9l4.4-2.3-4.5-1.4-4.4 2.3zM165.9 636.3l4.4-2.3-4.5-1.4-4.4 2.3zM170.5 637.8l4.4-2.3-4.6-1.5-4.4 2.3zM175.2 639.3l4.4-2.3-4.7-1.5-4.4 2.3zM179.9 640.9l4.4-2.3-4.7-1.6-4.4 2.3zM184.6 642.5l4.4-2.3-4.7-1.6-4.4 2.3z" fill="#00fc54" stroke="#00fc54" stroke-width="0.4"/>
<path d="M117.5 599.3l4-1.9-3.7-.6-4 1.9zM117.1 601.8l4.1-1.9-3.7-.6-4.1 1.8zM120.6 605l4.1-1.9-3.8-.7-4.1 1.9zM120.3 607.7l4.1-2-3.8-.7-4.2 1.9zM123.9 611.3l4.2-2-3.9-.8-4.2 2zM123.6 614.2l4.2-2-3.9-.9-4.3 2zM127.3 618.2l4.3-2.1-4-1-4.3 2.2zM131.4 619.3l4.3-2.2-4.1-1-4.3 2.1zM135.4 623.6l4.3-2.2-4.2-1.1-4.3 2.2zM139.6 624.8l4.3-2.2-4.2-1.2-4.3 2.2zM143.7 629.5l4.4-2.3-4.3-1.2-4.4 2.3zM148.1 630.8l4.4-2.3-4.4-1.3-4.4 2.3zM152.5 632.1l4.4-2.3-4.4-1.3-4.4 2.3zM166.1 640.2l4.4-2.4-4.6-1.5-4.4 2.4zM170.7 641.7l4.5-2.4-4.7-1.5-4.4 2.4zM175.4 643.2l4.5-2.3-4.7-1.6-4.5 2.4zM180.2 644.8l4.4-2.3-4.7-1.6-4.5 2.3z" fill="#00fc5a" stroke="#00fc5a" stroke-width="0.4"/>
<path d="M191.7 592.1l3.7-1.5-4.1-.9-3.7 1.4zM195.8 593l3.8-1.4-4.2-1-3.7 1.5zM200 594l3.7-1.5-4.1-.9-3.8 1.4zM204.2 594.9l3.8-1.4-4.3-1-3.7 1.5zM196.3 595.5l3.7-1.5-4.2-1-3.7 1.5zM208.5 595.9l3.7-1.5-4.2-.9-3.8 1.4zM200.5 596.4l3.7-1.5-4.2-.9-3.7 1.5zM212.8 596.9l3.7-1.5-4.3-1-3.7 1.5zM204.7 597.4l3.8-1.5-4.3-1-3.7 1.5zM209.1 598.5l3.7-1.6-4.3-1-3.8 1.5zM201 599l3.7-1.6-4.2-1-3.8 1.6zM213.4 599.5l3.8-1.6-4.4-1-3.7 1.6zM205.3 600l3.8-1.5-4.4-1.1-3.7 1.6zM217.8 600.5l3.7-1.6-4.3-1-3.8 1.6zM209.6 601.1l3.8-1.6-4.3-1-3.8 1.5zM214 602.2l3.8-1.7-4.4-1-3.8 1.6zM205.8 602.8l3.8-1.7-4.3-1.1-3.9 1.7zM218.4 603.3l3.8-1.7-4.4-1.1-3.8 1.7zM210.2 603.9l3.8-1.7-4.4-1.1-3.8 1.7zM222.9 604.4l3.8-1.7-4.5-1.1-3.8 1.7zM214.6 605l3.8-1.7-4.4-1.1-3.8 1.7zM227.5 605.6l3.7-1.8-4.5-1.1-3.8 1.7zM219.1 606.2l3.8-1.8-4.5-1.1-3.8 1.7zM223.6 607.4l3.9-1.8-4.6-1.2-3.8 1.8zM228.2 608.6l3.8-1.8-4.5-1.2-3.9 1.8zM232.8 609.9l3.8-1.9-4.6-1.2-3.8 1.8zM224.4 610.5l3.8-1.9-4.6-1.2-3.8 1.8zM237.5 611.1l3.8-1.9-4.7-1.2-3.8 1.9zM229 611.8l3.8-1.9-4.6-1.3-3.8 1.9zM242.2 612.4l3.8-1.9-4.7-1.3-3.8 1.9zM233.6 613.1l3.9-2-4.7-1.2-3.8 1.9zM238.4 614.5l3.8-2.1-4.7-1.3-3.9 2z" fill="#00fc0c" stroke="#00fc0c" stroke-width="0.4"/>
<path d="M113.4 601.1l4.1-1.8-3.7-.6-4.1 1.8zM113 603.6l4.1-1.8-3.7-.7-4.1 1.9zM116.8 604.3l4.1-1.9-3.8-.6-4.1 1.8zM116.4 606.9l4.2-1.9-3.8-.7-4.2 1.9zM116.1 609.7l4.2-2-3.9-.8-4.1 2zM120 610.5l4.2-2-3.9-.8-4.2 2zM115.7 612.5l4.3-2-3.9-.8-4.2 2zM119.6 613.3l4.3-2-3.9-.8-4.3 2zM119.3 616.3l4.3-2.1-4-.9-4.2 2.1zM123.3 617.3l4.3-2.2-4-.9-4.3 2.1zM123 620.4l4.3-2.2-4-.9-4.3 2.1zM127.1 621.5l4.3-2.2-4.1-1.1-4.3 2.2zM131.2 622.5l4.3-2.2-4.1-1-4.3 2.2zM131 625.9l4.4-2.3-4.2-1.1-4.4 2.3zM135.2 627.1l4.4-2.3-4.2-1.2-4.4 2.3zM139.4 628.3l4.4-2.3-4.2-1.2-4.4 2.3zM139.3 631.9l4.4-2.4-4.3-1.2-4.4 2.3zM143.6 633.2l4.5-2.4-4.4-1.3-4.4 2.4zM148 634.5l4.5-2.4-4.4-1.3-4.5 2.4zM152.5 635.9l4.4-2.4-4.4-1.4-4.5 2.4zM157 637.3l4.4-2.4-4.5-1.4-4.4 2.4zM161.5 638.7l4.4-2.4-4.5-1.4-4.4 2.4zM157 641.1l4.5-2.4-4.5-1.4-4.5 2.4zM161.6 642.6l4.5-2.4-4.6-1.5-4.5 2.4zM166.2 644.1l4.5-2.4-4.6-1.5-4.5 2.4zM170.9 645.6l4.5-2.4-4.7-1.5-4.5 2.4zM175.7 647.2l4.5-2.4-4.8-1.6-4.5 2.4z" fill="#00fc60" stroke="#00fc60" stroke-width="0.4"/>
<path d="M125 600.6l4-1.9-3.8-.6-4 1.8zM124.7 603.1l4.1-1.9-3.8-.6-4.1 1.8zM128.3 606.5l4.1-1.9-3.9-.8-4.1 1.9zM128.1 609.3l4.1-2-3.9-.8-4.1 2zM131.8 613.1l4.2-2.1-4-.9-4.2 2.1zM135.7 617.1l4.3-2.1-4.1-1-4.3 2.1zM143.9 622.6l4.3-2.2-4.2-1.2-4.3 2.2zM148.2 623.7l4.3-2.2-4.3-1.1-4.3 2.2zM156.9 629.8l4.3-2.3-4.4-1.3-4.3 2.3zM161.3 631.2l4.4-2.3-4.5-1.4-4.3 2.3zM165.8 632.6l4.3-2.3-4.4-1.4-4.4 2.3zM170.3 634l4.4-2.3-4.6-1.4-4.3 2.3zM189 640.2l4.3-2.2-4.7-1.7-4.3 2.3z" fill="#00fc4e" stroke="#00fc4e" stroke-width="0.4"/>
<path d="M109.3 603l4.1-1.9-3.7-.6-4.1 1.9zM108.9 605.6l4.1-2-3.7-.6-4.1 1.9zM112.6 606.2l4.2-1.9-3.8-.7-4.1 2zM112.3 608.9l4.1-2-3.8-.7-4.1 2zM111.9 611.7l4.2-2-3.8-.8-4.3 2zM115.4 615.4l4.2-2.1-3.9-.8-4.2 2.1zM119 619.4l4.3-2.1-4-1-4.3 2.2zM122.7 623.7l4.4-2.2-4.1-1.1-4.4 2.3zM126.8 624.8l4.4-2.3-4.1-1-4.4 2.2zM130.8 629.4l4.4-2.3-4.2-1.2-4.4 2.4zM135 630.6l4.4-2.3-4.2-1.2-4.4 2.3zM143.6 636.9l4.4-2.4-4.4-1.3-4.4 2.4zM148 638.3l4.5-2.4-4.5-1.4-4.4 2.4zM152.5 639.7l4.5-2.4-4.5-1.4-4.5 2.4zM161.7 646.5l4.5-2.4-4.6-1.5-4.5 2.4zM166.4 648l4.5-2.4-4.7-1.5-4.5 2.4zM171.1 649.6l4.6-2.4-4.8-1.6-4.5 2.4z" fill="#00fc66" stroke="#00fc66" stroke-width="0.4"/>
<path d="M105.2 604.9l4.1-1.9-3.7-.6-4.1 1.9zM104.7 607.5l4.2-1.9-3.7-.7-4.2 2zM108.5 608.2l4.1-2-3.7-.6-4.2 1.9zM108 610.9l4.3-2-3.8-.7-4.3 2zM107.6 613.7l4.3-2-3.9-.8-4.2 2zM111.5 614.6l4.2-2.1-3.8-.8-4.3 2zM111 617.6l4.4-2.2-3.9-.8-4.4 2.1zM115 618.5l4.3-2.2-3.9-.9-4.4 2.2zM114.6 621.7l4.4-2.3-4-.9-4.4 2.2zM118.6 622.7l4.4-2.3-4-1-4.4 2.3zM118.3 626l4.4-2.3-4.1-1-4.4 2.3zM122.4 627.1l4.4-2.3-4.1-1.1-4.4 2.3zM126.6 628.3l4.4-2.4-4.2-1.1-4.4 2.3zM126.3 631.8l4.5-2.4-4.2-1.1-4.5 2.4zM130.5 633.1l4.5-2.5-4.2-1.2-4.5 2.4zM134.8 634.3l4.5-2.4-4.3-1.3-4.5 2.5zM139.2 635.6l4.4-2.4-4.3-1.3-4.5 2.4zM139 639.4l4.6-2.5-4.4-1.3-4.6 2.5zM143.5 640.7l4.5-2.4-4.4-1.4-4.6 2.5zM147.9 642.1l4.6-2.4-4.5-1.4-4.5 2.4zM152.5 643.5l4.5-2.4-4.5-1.4-4.6 2.4zM157.1 645l4.5-2.4-4.6-1.5-4.5 2.4zM157.1 648.9l4.6-2.4-4.6-1.5-4.6 2.5zM161.8 650.4l4.6-2.4-4.7-1.5-4.6 2.4zM166.5 652l4.6-2.4-4.7-1.6-4.6 2.4z" fill="#00fc6c" stroke="#00fc6c" stroke-width="0.4"/>
<path d="M101 606.9l4.2-2-3.7-.6-4.2 1.9zM104.2 610.2l4.3-2-3.8-.7-4.2 2zM103.8 612.9l4.2-2-3.8-.7-4.2 2zM107.1 616.7l4.4-2.1-3.9-.9-4.3 2.1zM106.7 619.7l4.3-2.1-3.9-.9-4.3 2.1zM110.6 620.7l4.4-2.2-4-.9-4.3 2.1zM114.2 625l4.4-2.3-4-1-4.4 2.2zM117.9 629.5l4.5-2.4-4.1-1.1-4.5 2.4zM122.1 630.7l4.5-2.4-4.2-1.2-4.5 2.4zM130.3 636.8l4.5-2.5-4.3-1.2-4.5 2.4zM134.6 638.1l4.6-2.5-4.4-1.3-4.5 2.5zM143.4 644.6l4.5-2.5-4.4-1.4-4.6 2.5zM147.9 646l4.6-2.5-4.6-1.4-4.5 2.5zM152.5 647.5l4.6-2.5-4.6-1.5-4.6 2.5zM157.2 652.9l4.6-2.5-4.7-1.5-4.6 2.5zM161.9 654.4l4.6-2.4-4.7-1.6-4.6 2.5z" fill="#00fc72" stroke="#00fc72" stroke-width="0.4"/>
<path d="M96.8 608.8l4.2-1.9-3.7-.7-4.2 2zM100.5 609.5l4.2-2-3.7-.6-4.2 1.9zM100 612.2l4.2-2-3.7-.7-4.3 2zM99.5 615l4.3-2.1-3.8-.7-4.3 2zM103.3 615.8l4.3-2.1-3.8-.8-4.3 2.1zM102.8 618.8l4.3-2.1-3.8-.9-4.4 2.2zM106.2 622.9l4.4-2.2-3.9-1-4.4 2.3zM110.2 623.9l4.4-2.2-4-1-4.4 2.2zM109.8 627.3l4.4-2.3-4-1.1-4.4 2.3zM113.8 628.4l4.5-2.4-4.1-1-4.4 2.3zM117.6 633.1l4.5-2.4-4.2-1.2-4.5 2.4zM121.8 634.3l4.5-2.5-4.2-1.1-4.5 2.4zM126 635.5l4.5-2.4-4.2-1.3-4.5 2.5zM125.7 639.3l4.6-2.5-4.3-1.3-4.5 2.5zM130.1 640.6l4.5-2.5-4.3-1.3-4.6 2.5zM134.5 641.9l4.5-2.5-4.4-1.3-4.5 2.5zM138.9 643.2l4.6-2.5-4.5-1.3-4.5 2.5zM138.7 647.2l4.7-2.6-4.5-1.4-4.6 2.6zM143.3 648.6l4.6-2.6-4.5-1.4-4.7 2.6zM147.8 650l4.7-2.5-4.6-1.5-4.6 2.6zM152.5 651.4l4.6-2.5-4.6-1.4-4.7 2.5zM152.5 655.4l4.7-2.5-4.7-1.5-4.7 2.5zM157.2 656.8l4.7-2.4-4.7-1.5-4.7 2.5z" fill="#00fc78" stroke="#00fc78" stroke-width="0.4"/>
<path d="M92.5 610.8l4.3-2-3.7-.6-4.2 1.9zM91.9 613.5l4.3-2-3.7-.7-4.3 2zM91.3 616.3l4.4-2.1-3.8-.7-4.3 2zM95.1 617.1l4.4-2.1-3.8-.8-4.4 2.1zM94.5 620.1l4.4-2.1-3.8-.9-4.4 2.2zM94 623.3l4.4-2.3-3.9-.9-4.4 2.2zM97.9 624.2l4.4-2.2-3.9-1-4.4 2.3zM101.3 628.6l4.5-2.4-4-1-4.5 2.4zM105.3 629.7l4.5-2.4-4-1.1-4.5 2.4zM104.8 633.3l4.5-2.5-4-1.1-4.5 2.4zM108.9 634.4l4.5-2.5-4.1-1.1-4.5 2.5zM113 635.6l4.6-2.5-4.2-1.2-4.5 2.5zM116.9 640.6l4.6-2.6-4.3-1.2-4.6 2.6zM121.1 641.9l4.6-2.6-4.2-1.3-4.6 2.6zM125.5 643.2l4.6-2.6-4.4-1.3-4.6 2.6zM125.2 647.1l4.6-2.6-4.3-1.3-4.7 2.6zM129.6 648.4l4.7-2.6-4.5-1.3-4.6 2.6zM134.1 649.8l4.6-2.6-4.4-1.4-4.7 2.6zM138.4 655.1l4.8-2.6-4.6-1.4-4.7 2.7zM143.1 656.5l4.7-2.6-4.6-1.4-4.8 2.6z" fill="#00fc84" stroke="#00fc84" stroke-width="0.4"/>
<path d="M217.2 597.9l3.7-1.5-4.4-1-3.7 1.5zM221.5 598.9l3.8-1.5-4.4-1-3.7 1.5zM226 600l3.7-1.6-4.4-1-3.8 1.5zM230.5 601l3.7-1.6-4.5-1-3.7 1.6zM222.2 601.6l3.8-1.6-4.5-1.1-3.7 1.6zM226.7 602.7l3.8-1.7-4.5-1-3.8 1.6zM231.2 603.8l3.8-1.7-4.5-1.1-3.8 1.7zM235.8 605l3.8-1.8-4.6-1.1-3.8 1.7zM240.4 606.1l3.8-1.8-4.6-1.1-3.8 1.8zM232 606.8l3.8-1.8-4.6-1.2-3.7 1.8zM236.6 608l3.8-1.9-4.6-1.1-3.8 1.8zM241.3 609.2l3.8-1.9-4.7-1.2-3.8 1.9zM246 610.5l3.8-2-4.7-1.2-3.8 1.9z" fill="#00fc06" stroke="#00fc06" stroke-width="0.4"/>
<path d="M96.2 611.5l4.3-2-3.7-.7-4.3 2zM95.7 614.2l4.3-2-3.8-.7-4.3 2zM98.9 618l4.4-2.2-3.8-.8-4.4 2.1zM98.4 621l4.4-2.2-3.9-.8-4.4 2.1zM102.3 622l4.4-2.3-3.9-.9-4.4 2.2zM101.8 625.2l4.4-2.3-3.9-.9-4.4 2.2zM105.8 626.2l4.4-2.3-4-1-4.4 2.3zM109.3 630.8l4.5-2.4-4-1.1-4.5 2.4zM113.4 631.9l4.5-2.4-4.1-1.1-4.5 2.4zM117.2 636.8l4.6-2.5-4.2-1.2-4.6 2.5zM121.5 638l4.5-2.5-4.2-1.2-4.6 2.5zM129.8 644.5l4.7-2.6-4.4-1.3-4.6 2.6zM134.3 645.8l4.6-2.6-4.4-1.3-4.7 2.6zM138.6 651.1l4.7-2.5-4.6-1.4-4.6 2.6zM143.2 652.5l4.6-2.5-4.5-1.4-4.7 2.5zM147.8 653.9l4.7-2.5-4.7-1.4-4.6 2.5zM147.7 657.9l4.8-2.5-4.7-1.5-4.7 2.6zM152.5 659.3l4.7-2.5-4.7-1.4-4.8 2.5z" fill="#00fc7e" stroke="#00fc7e" stroke-width="0.4"/>
<path d="M88.2 612.8l4.3-2-3.6-.7-4.3 2zM87.6 615.5l4.3-2-3.7-.7-4.3 2zM90.7 619.3l4.4-2.2-3.8-.8-4.3 2.1zM90.1 622.3l4.4-2.2-3.8-.8-4.4 2.1zM97.3 627.6l4.5-2.4-3.9-1-4.5 2.3zM100.8 632.1l4.5-2.4-4-1.1-4.6 2.4zM108.4 638.2l4.6-2.6-4.1-1.2-4.6 2.6zM112.6 639.4l4.6-2.6-4.2-1.2-4.6 2.6zM120.8 645.8l4.7-2.6-4.4-1.3-4.6 2.6zM129.3 652.4l4.8-2.6-4.5-1.4-4.7 2.7zM133.9 653.8l4.7-2.7-4.5-1.3-4.8 2.6z" fill="#00fc8a" stroke="#00fc8a" stroke-width="0.4"/>
<path d="M83.9 614.8l4.3-2-3.6-.7-4.3 2zM87 618.4l4.3-2.1-3.7-.8-4.4 2.1zM86.3 621.4l4.4-2.1-3.7-.9-4.5 2.2zM89.5 625.6l4.5-2.3-3.9-1-4.4 2.3zM93.4 626.5l4.5-2.3-3.9-.9-4.5 2.3zM92.8 630l4.5-2.4-3.9-1.1-4.5 2.4zM96.7 631l4.6-2.4-4-1-4.5 2.4zM100.2 635.8l4.6-2.5-4-1.2-4.6 2.5zM104.3 637l4.6-2.6-4.1-1.1-4.6 2.5zM112.2 643.2l4.7-2.6-4.3-1.2-4.6 2.6zM116.5 644.5l4.6-2.6-4.2-1.3-4.7 2.6zM120.5 649.8l4.7-2.7-4.4-1.3-4.7 2.7zM124.9 651.1l4.7-2.7-4.4-1.3-4.7 2.7z" fill="#00fc90" stroke="#00fc90" stroke-width="0.4"/>
<path d="M79.5 616.8l4.4-2-3.6-.7-4.4 2zM78.8 619.7l4.4-2.1-3.7-.8-4.4 2.1zM81.9 623.6l4.4-2.2-3.8-.8-4.4 2.1zM85 627.9l4.5-2.3-3.8-1-4.6 2.3zM88.2 632.4l4.6-2.4-3.9-1.1-4.6 2.4zM92.2 633.5l4.5-2.5-3.9-1-4.6 2.4zM95.6 638.4l4.6-2.6-4-1.2-4.7 2.6zM99.7 639.6l4.6-2.6-4.1-1.2-4.6 2.6zM107.5 645.9l4.7-2.7-4.2-1.2-4.7 2.7zM111.8 647.2l4.7-2.7-4.3-1.3-4.7 2.7z" fill="#00fc9c" stroke="#00fc9c" stroke-width="0.4"/>
<path d="M83.2 617.6l4.4-2.1-3.7-.7-4.4 2zM82.5 620.6l4.5-2.2-3.8-.8-4.4 2.1zM85.7 624.6l4.4-2.3-3.8-.9-4.4 2.2zM88.9 628.9l4.5-2.4-3.9-.9-4.5 2.3zM96.2 634.6l4.6-2.5-4.1-1.1-4.5 2.5zM103.8 640.8l4.6-2.6-4.1-1.2-4.6 2.6zM108 642l4.6-2.6-4.2-1.2-4.6 2.6zM116.1 648.5l4.7-2.7-4.3-1.3-4.7 2.7z" fill="#00fc96" stroke="#00fc96" stroke-width="0.4"/>
<path d="M75.1 618.9l4.4-2.1-3.6-.7-4.4 2zM78.1 622.7l4.4-2.1-3.7-.9-4.4 2.1zM81.1 626.9l4.6-2.3-3.8-1-4.6 2.3zM84.3 631.3l4.6-2.4-3.9-1-4.6 2.4zM91.5 637.2l4.7-2.6-4-1.1-4.6 2.5zM99.1 643.4l4.7-2.6-4.1-1.2-4.7 2.6zM103.3 644.7l4.7-2.7-4.2-1.2-4.7 2.6z" fill="#00fca2" stroke="#00fca2" stroke-width="0.4"/>
<path d="M235 602.1l3.7-1.7-4.5-1-3.7 1.6zM239.6 603.2l3.7-1.8-4.6-1-3.7 1.7zM244.2 604.3l3.7-1.8-4.6-1.1-3.7 1.8zM248.8 605.4l3.7-1.9-4.6-1-3.7 1.8zM253.5 606.5l3.8-1.9-4.8-1.1-3.7 1.9zM245.1 607.3l3.7-1.9-4.6-1.1-3.8 1.8zM249.8 608.5l3.7-2-4.7-1.1-3.7 1.9z" fill="#00fc00" stroke="#00fc00" stroke-width="0.4"/>
<path d="M70.7 621l4.4-2.1-3.6-.8-4.5 2zM69.9 624l4.5-2.2-3.7-.8-4.5 2.1zM72.8 628.2l4.5-2.3-3.7-1-4.5 2.3zM76.6 629.2l4.5-2.3-3.8-1-4.5 2.3zM79.7 633.8l4.6-2.5-3.9-1-4.6 2.4zM86.9 639.8l4.6-2.6-3.9-1.2-4.7 2.6z" fill="#00fcae" stroke="#00fcae" stroke-width="0.4"/>
<path d="M74.4 621.8l4.4-2.1-3.7-.8-4.4 2.1zM73.6 624.9l4.5-2.2-3.7-.9-4.5 2.2zM77.3 625.9l4.6-2.3-3.8-.9-4.5 2.2zM80.4 630.3l4.6-2.4-3.9-1-4.5 2.3zM83.6 634.9l4.6-2.5-3.9-1.1-4.6 2.5zM87.6 636l4.6-2.5-4-1.1-4.6 2.5zM90.9 641l4.7-2.6-4.1-1.2-4.6 2.6zM95 642.2l4.7-2.6-4.1-1.2-4.7 2.6z" fill="#00fca8" stroke="#00fca8" stroke-width="0.4"/>
<path d="M66.2 623.1l4.5-2.1-3.7-.9-4.4 2.1zM69.1 627.2l4.5-2.3-3.7-.9-4.6 2.2zM72 631.6l4.6-2.4-3.8-1-4.6 2.3zM75.8 632.7l4.6-2.4-3.8-1.1-4.6 2.4zM78.9 637.4l4.7-2.5-3.9-1.1-4.7 2.5zM82.9 638.6l4.7-2.6-4-1.1-4.7 2.5z" fill="#00fcb4" stroke="#00fcb4" stroke-width="0.4"/>
<path d="M61.7 625.2l4.5-2.1-3.6-.9-4.6 2.1zM64.5 629.5l4.6-2.3-3.8-1-4.5 2.2zM67.4 634l4.6-2.4-3.8-1.1-4.6 2.4zM71.2 635.1l4.6-2.4-3.8-1.1-4.6 2.4z" fill="#00fcc0" stroke="#00fcc0" stroke-width="0.4"/>
<path d="M65.3 626.2l4.6-2.2-3.7-.9-4.5 2.1zM68.2 630.5l4.6-2.3-3.7-1-4.6 2.3zM75 636.3l4.7-2.5-3.9-1.1-4.6 2.4z" fill="#00fcba" stroke="#00fcba" stroke-width="0.4"/>
<path d="M57.1 627.4l4.6-2.2-3.7-.9-4.5 2.1zM59.8 631.8l4.7-2.3-3.7-1.1-4.7 2.3z" fill="#00fccc" stroke="#00fccc" stroke-width="0.4"/>
<path d="M60.8 628.4l4.5-2.2-3.6-1-4.6 2.2zM63.6 632.9l4.6-2.4-3.7-1-4.7 2.3z" fill="#00fcc6" stroke="#00fcc6" stroke-width="0.4"/>
<path d="M52.5 629.6l4.6-2.2-3.6-1-4.6 2.1z" fill="#00fcd8" stroke="#00fcd8" stroke-width="0.4"/>
<path d="M56.1 630.7l4.7-2.3-3.7-1-4.6 2.2z" fill="#00fcd2" stroke="#00fcd2" stroke-width="0.4"/>
<path d="M152.5 659.3l4.7-2.5 4.7-2.4 4.6-2.4 4.6-2.4 4.6-2.4 4.5-2.4 4.4-2.3 4.4-2.3 4.3-2.2 4.4-2.3 4.2-2.2 4.2-2.2 4.2-2.2 4.1-2.1 4.1-2.2 4.1-2.1 4-2.1 3.9-2.1 4-2 3.9-2 3.8-2.1 3.8-1.9 3.8-2 3.7-2 3.8-1.9M152.5 659.3l-4.8-1.4-4.6-1.4-4.7-1.4-4.5-1.3-4.6-1.4-4.4-1.3-4.4-1.3-4.4-1.3-4.3-1.3-4.3-1.3-4.2-1.2-4.2-1.3-4.1-1.2-4.1-1.2-4-1.2-4-1.2-4-1.2-3.9-1.1-3.8-1.2-3.8-1.1-3.8-1.1-3.8-1.1-3.7-1.1-3.6-1.1-3.6-1.1M147.7 657.9l4.8-2.5 4.7-2.5 4.6-2.5 4.6-2.4 4.5-2.4 4.5-2.4 4.5-2.3 4.4-2.3 4.3-2.3 4.3-2.2 4.3-2.2 4.2-2.2 4.2-2.2 4.1-2.1 4.1-2.1 4-2.1 4.1-2.1 3.9-2 4-2 3.8-2 3.9-2 3.8-1.9 3.8-1.9 3.7-1.9 3.7-1.9M157.2 656.8l-4.7-1.4-4.7-1.5-4.6-1.4-4.6-1.4-4.5-1.3-4.5-1.4-4.4-1.3-4.4-1.3-4.3-1.3-4.3-1.3-4.2-1.2-4.2-1.2-4.1-1.2-4.1-1.2-4.1-1.2-3.9-1.2-4-1.1-3.9-1.1-3.9-1.1-3.8-1.1-3.8-1.1-3.7-1-3.7-1.1-3.7-1-3.6-1M143.1 656.5l4.7-2.6 4.7-2.5 4.6-2.5 4.6-2.4 4.5-2.4 4.5-2.4 4.5-2.4 4.4-2.3 4.3-2.3 4.3-2.2 4.3-2.2 4.2-2.2 4.2-2.1 4.1-2.2 4.1-2 4.1-2.1 4-2 3.9-2 4-2 3.9-1.9 3.8-1.9 3.8-1.9 3.8-1.9 3.8-1.8 3.7-1.8M161.9 654.4l-4.7-1.5-4.7-1.5-4.7-1.4-4.5-1.4-4.6-1.4-4.4-1.4-4.5-1.3-4.3-1.3-4.4-1.3-4.2-1.3-4.3-1.2-4.2-1.2-4.1-1.2-4.1-1.2-4-1.2-4-1.1-4-1.1-3.9-1.1-3.9-1-3.8-1.1-3.8-1-3.7-1-3.8-1-3.6-1-3.7-.9M138.4 655.1l4.8-2.6 4.6-2.5 4.7-2.5 4.6-2.5 4.5-2.4 4.5-2.4 4.4-2.4 4.4-2.3 4.4-2.3 4.3-2.2 4.2-2.2 4.3-2.2 4.1-2.1 4.2-2.1 4.1-2.1 4-2 4-2 4-2 4-1.9 3.9-1.9 3.8-1.9 3.8-1.8 3.8-1.8 3.8-1.8 3.7-1.8M166.5 652l-4.7-1.6-4.7-1.5-4.6-1.4-4.6-1.5-4.5-1.4-4.5-1.4-4.4-1.3-4.4-1.3-4.4-1.3-4.2-1.3-4.3-1.2-4.2-1.2-4.1-1.2-4.1-1.1-4-1.2-4.1-1.1-3.9-1-3.9-1.1-3.9-1-3.9-1-3.8-1-3.7-1-3.7-.9-3.7-.9-3.6-.9M133.9 653.8l4.7-2.7 4.7-2.5 4.6-2.6 4.6-2.5 4.5-2.4 4.5-2.4 4.4-2.4 4.4-2.3 4.4-2.3 4.3-2.2 4.3-2.2 4.2-2.2 4.2-2.1 4.1-2.1 4.1-2 4.1-2 4-2 3.9-1.9 4-1.9 3.9-1.9 3.8-1.8 3.9-1.8 3.7-1.8 3.8-1.7 3.7-1.7M171.1 649.6l-4.7-1.6-4.7-1.5-4.6-1.5-4.6-1.5-4.6-1.4-4.4-1.4-4.5-1.3-4.4-1.3-4.3-1.3-4.3-1.3-4.2-1.2-4.2-1.2-4.2-1.2-4.1-1.1-4-1.1-4-1.1-4-1-3.9-1.1-3.9-.9-3.8-1-3.8-1-3.8-.9-3.7-.9-3.7-.8-3.7-.9M129.3 652.4l4.8-2.6 4.6-2.6 4.7-2.6 4.5-2.5 4.6-2.4 4.5-2.4 4.4-2.4 4.4-2.3 4.3-2.3 4.4-2.3 4.2-2.1 4.2-2.2 4.2-2.1 4.2-2.1 4.1-2 4-2 4-1.9 4-1.9 3.9-1.9 3.9-1.8 3.9-1.8 3.8-1.8 3.8-1.7 3.8-1.7 3.7-1.6M175.7 647.2l-4.8-1.6-4.7-1.5-4.6-1.5-4.6-1.5-4.5-1.4-4.5-1.4-4.4-1.4-4.4-1.3-4.4-1.3-4.3-1.2-4.2-1.3-4.2-1.1-4.2-1.2-4.1-1.1-4-1.1-4-1.1-4-1-3.9-1-3.9-.9-3.9-1-3.8-.9-3.8-.8-3.7-.9-3.7-.8-3.6-.8M124.9 651.1l4.7-2.7 4.7-2.6 4.6-2.6 4.6-2.5 4.5-2.4 4.5-2.4 4.4-2.4 4.4-2.3 4.4-2.3 4.3-2.2 4.2-2.2 4.3-2.2 4.1-2.1 4.2-2 4.1-2 4-2 4-1.9 4-1.9 4-1.8 3.9-1.8 3.8-1.8 3.8-1.7 3.8-1.7 3.8-1.6 3.7-1.6M180.2 644.8l-4.8-1.6-4.7-1.5-4.6-1.5-4.6-1.5-4.5-1.4-4.5-1.4-4.5-1.4-4.4-1.3-4.3-1.3-4.3-1.3-4.2-1.2-4.2-1.1-4.2-1.2-4.1-1.1-4.1-1-4-1.1-4-1-3.9-.9-3.9-1-3.9-.9-3.8-.8-3.7-.9-3.8-.8-3.7-.8-3.6-.7M120.5 649.8l4.7-2.7 4.6-2.6 4.7-2.6 4.5-2.5 4.6-2.5 4.4-2.4 4.5-2.4 4.4-2.3 4.3-2.3 4.3-2.2 4.3-2.2 4.2-2.1 4.2-2.1 4.1-2 4.1-2 4.1-1.9 4-1.9 4-1.9 3.9-1.8 3.9-1.8 3.9-1.7 3.8-1.7 3.8-1.7 3.7-1.6 3.8-1.5M184.6 642.5l-4.7-1.6-4.7-1.6-4.7-1.5-4.6-1.5-4.5-1.4-4.5-1.4-4.4-1.4-4.4-1.3-4.4-1.3-4.3-1.2-4.2-1.2-4.2-1.2-4.2-1.1-4.1-1.1-4.1-1-4-1-4-1-3.9-1-3.9-.9-3.9-.8-3.8-.9-3.8-.8-3.7-.8-3.7-.7-3.6-.7M116.1 648.5l4.7-2.7 4.7-2.6 4.6-2.6 4.5-2.5 4.6-2.5 4.4-2.4 4.5-2.4 4.4-2.3 4.3-2.3 4.3-2.2 4.3-2.2 4.2-2.1 4.2-2 4.1-2.1 4.1-1.9 4.1-2 4-1.8 4-1.9 3.9-1.8 3.9-1.7 3.9-1.7 3.8-1.7 3.8-1.6 3.8-1.6 3.7-1.5M189 640.2l-4.7-1.6-4.7-1.6-4.7-1.5-4.6-1.5-4.5-1.4-4.5-1.4-4.4-1.4-4.4-1.3-4.4-1.3-4.3-1.2-4.2-1.2-4.2-1.2-4.2-1.1-4.1-1-4.1-1.1-4-1-4-.9-4-.9-3.9-.9-3.8-.9-3.8-.8-3.8-.8-3.8-.7-3.7-.7-3.6-.7M111.8 647.2l4.7-2.7 4.6-2.6 4.6-2.6 4.6-2.5 4.5-2.5 4.5-2.4 4.4-2.4 4.4-2.3 4.4-2.2 4.3-2.2 4.2-2.2 4.3-2.1 4.1-2.1 4.2-2 4.1-1.9 4-1.9 4-1.9 4-1.8 4-1.8 3.9-1.7 3.8-1.7 3.9-1.7 3.8-1.5 3.7-1.6 3.7-1.5M193.3 638l-4.7-1.7-4.7-1.6-4.6-1.5-4.6-1.5-4.6-1.4-4.4-1.4-4.5-1.4-4.4-1.3-4.3-1.2-4.3-1.3-4.3-1.1-4.2-1.2-4.2-1.1-4.1-1-4.1-1.1-4-.9-4-1-3.9-.9-3.9-.8-3.9-.9-3.8-.8-3.8-.7-3.8-.7-3.7-.7-3.6-.7M107.5 645.9l4.7-2.7 4.7-2.6 4.6-2.6 4.5-2.5 4.5-2.4 4.5-2.5 4.4-2.3 4.4-2.3 4.4-2.3 4.3-2.2 4.2-2.1 4.2-2.1 4.2-2 4.2-2 4.1-2 4-1.9 4-1.8 4-1.8 4-1.8 3.9-1.7 3.8-1.7 3.9-1.6 3.7-1.6 3.8-1.5 3.7-1.5M197.7 635.7l-4.8-1.6-4.7-1.6-4.6-1.5-4.6-1.5-4.5-1.5-4.5-1.3-4.5-1.4-4.4-1.3-4.3-1.2-4.3-1.3-4.3-1.1-4.2-1.2-4.2-1-4.1-1.1-4.1-1-4-1-4-.9-4-.9-3.9-.8-3.8-.8-3.9-.8-3.8-.7-3.7-.7-3.7-.7-3.7-.6M103.3 644.7l4.7-2.7 4.6-2.6 4.6-2.6 4.6-2.5 4.5-2.5 4.5-2.4 4.4-2.3 4.4-2.3 4.3-2.2 4.3-2.2 4.3-2.2 4.2-2 4.2-2.1 4.1-2 4.1-1.9 4.1-1.9 4-1.8 4-1.8 3.9-1.7 3.9-1.7 3.9-1.7 3.8-1.6 3.8-1.6 3.7-1.5 3.8-1.4M201.9 633.5l-4.7-1.6-4.7-1.6-4.7-1.5-4.5-1.5-4.6-1.4-4.5-1.4-4.4-1.4-4.4-1.3-4.4-1.2-4.3-1.2-4.2-1.2-4.2-1.1-4.2-1.1-4.1-1-4.1-1-4.1-.9-4-.9-3.9-.9-3.9-.8-3.9-.8-3.8-.8-3.8-.7-3.8-.7-3.7-.6-3.7-.7M99.1 643.4l4.7-2.6 4.6-2.6 4.6-2.6 4.6-2.5 4.5-2.4 4.5-2.4 4.4-2.4 4.4-2.3 4.3-2.2 4.3-2.2 4.3-2.1 4.2-2 4.1-2.1 4.2-1.9 4.1-2 4-1.8 4.1-1.9 3.9-1.7 4-1.8 3.9-1.7 3.8-1.6 3.9-1.6 3.8-1.5 3.7-1.5 3.7-1.5M206.1 631.3l-4.7-1.6-4.7-1.6-4.6-1.5-4.6-1.5-4.6-1.4-4.4-1.4-4.5-1.3-4.4-1.3-4.3-1.2-4.4-1.2-4.2-1.1-4.2-1.1-4.2-1.1-4.1-1-4.1-1-4.1-1-4-.9-3.9-.8-3.9-.8-3.9-.8-3.9-.8-3.8-.7-3.7-.6-3.7-.7-3.7-.6M95 642.2l4.7-2.6 4.6-2.6 4.6-2.6 4.5-2.5 4.5-2.4 4.5-2.4 4.4-2.3 4.4-2.3 4.3-2.2 4.3-2.1 4.3-2.2 4.2-2 4.2-2 4.1-2 4.1-1.9 4.1-1.9 4-1.8 4-1.7 3.9-1.8 3.9-1.6 3.9-1.7 3.8-1.6 3.8-1.5 3.7-1.5 3.8-1.4M210.3 629.1l-4.7-1.6-4.7-1.5-4.7-1.5-4.5-1.5-4.6-1.4-4.5-1.4-4.4-1.3-4.4-1.2-4.4-1.3-4.3-1.1-4.2-1.2-4.3-1.1-4.1-1-4.2-1-4-1-4.1-.9-4-.9-4-.9-3.9-.8-3.9-.8-3.8-.7-3.8-.7-3.8-.7-3.7-.6-3.7-.6M90.9 641l4.7-2.6 4.6-2.6 4.6-2.5 4.5-2.5 4.5-2.4 4.5-2.4 4.4-2.3 4.4-2.2 4.3-2.2 4.3-2.2 4.3-2.1 4.2-2 4.1-2 4.2-2 4.1-1.9 4-1.8 4-1.8 4-1.8 4-1.7 3.9-1.7 3.8-1.6 3.9-1.6 3.8-1.5 3.7-1.5 3.7-1.5M214.4 627l-4.7-1.6-4.7-1.6-4.6-1.4-4.6-1.5-4.5-1.4-4.5-1.3-4.5-1.3-4.4-1.3-4.3-1.2-4.3-1.1-4.3-1.2-4.2-1-4.2-1.1-4.1-1-4.1-.9-4.1-1-4-.8-3.9-.9-4-.8-3.9-.8-3.8-.7-3.8-.7-3.8-.6-3.7-.7-3.7-.6M86.9 639.8l4.6-2.6 4.7-2.6 4.6-2.5 4.5-2.4 4.5-2.4 4.4-2.3 4.4-2.3 4.4-2.3 4.3-2.2 4.3-2.1 4.3-2.1 4.2-2 4.2-2 4.1-1.9 4.1-1.9 4-1.9 4-1.8 4-1.7 4-1.8 3.9-1.6 3.8-1.6 3.9-1.6 3.8-1.6 3.7-1.5 3.7-1.4M218.5 624.8l-4.7-1.5-4.7-1.5-4.6-1.5-4.6-1.4-4.5-1.4-4.5-1.3-4.5-1.3-4.4-1.2-4.3-1.2-4.3-1.2-4.3-1.1-4.2-1.1-4.2-1-4.1-1-4.1-.9-4.1-.9-4-.9-4-.9-3.9-.8-3.9-.7-3.8-.8-3.8-.6-3.8-.7-3.7-.6-3.7-.6M82.9 638.6l4.7-2.6 4.6-2.5 4.5-2.5 4.6-2.4 4.5-2.4 4.4-2.3 4.4-2.2 4.4-2.3 4.3-2.1 4.3-2.2 4.2-2 4.2-2.1 4.2-1.9 4.1-2 4.1-1.8 4.1-1.9 4-1.8 4-1.7 3.9-1.8 3.9-1.6 3.9-1.6 3.8-1.6 3.8-1.6 3.8-1.5 3.7-1.4M222.6 622.7l-4.8-1.5-4.6-1.5-4.7-1.4-4.5-1.4-4.6-1.4-4.5-1.3-4.4-1.2-4.4-1.3-4.4-1.1-4.3-1.2-4.2-1.1-4.3-1-4.1-1.1-4.2-.9-4.1-1-4-.9-4-.9-4-.8-3.9-.8-3.9-.8-3.9-.7-3.8-.7-3.8-.6-3.7-.7-3.7-.6M78.9 637.4l4.7-2.5 4.6-2.5 4.6-2.4 4.5-2.4 4.5-2.4 4.4-2.3 4.4-2.2 4.4-2.2 4.3-2.2 4.3-2.1 4.2-2 4.2-2.1 4.2-1.9 4.1-1.9 4.1-1.9 4.1-1.9 4-1.8 3.9-1.7 4-1.7 3.9-1.7 3.9-1.6 3.8-1.6 3.8-1.6 3.7-1.5 3.8-1.4M226.6 620.6l-4.7-1.5-4.7-1.4-4.7-1.4-4.5-1.4-4.6-1.3-4.5-1.3-4.4-1.2-4.4-1.2-4.4-1.2-4.3-1.1-4.2-1.1-4.2-1.1-4.2-1-4.2-.9-4.1-1-4-.9-4-.9-4-.8-3.9-.8-3.9-.8-3.9-.7-3.8-.7-3.8-.7-3.7-.6-3.7-.6M75 636.3l4.7-2.5 4.6-2.5 4.6-2.4 4.5-2.4 4.5-2.3 4.4-2.2 4.4-2.3 4.3-2.1 4.4-2.2 4.2-2.1 4.3-2 4.2-2 4.1-2 4.2-1.9 4-1.9 4.1-1.8 4-1.8 4-1.7 3.9-1.8 3.9-1.6 3.9-1.7 3.8-1.6 3.8-1.5 3.8-1.5 3.7-1.5M230.5 618.5l-4.7-1.4-4.7-1.4-4.6-1.4-4.6-1.3-4.5-1.3-4.5-1.3-4.4-1.2-4.4-1.2-4.4-1.1-4.3-1.1-4.2-1.1-4.3-1-4.1-1-4.2-1-4.1-.9-4-.9-4.1-.9-3.9-.8-4-.8-3.9-.8-3.8-.8-3.8-.7-3.8-.6-3.8-.7-3.7-.6M71.2 635.1l4.6-2.4 4.6-2.4 4.6-2.4 4.5-2.3 4.5-2.3 4.4-2.3 4.4-2.2 4.3-2.1 4.4-2.1 4.2-2.1 4.3-2 4.2-2 4.1-2 4.1-1.9 4.1-1.9 4.1-1.8 4-1.8 3.9-1.7 4-1.8 3.9-1.6 3.8-1.7 3.9-1.6 3.8-1.6 3.7-1.5 3.8-1.5M234.5 616.5l-4.7-1.4-4.7-1.4-4.6-1.3-4.6-1.3-4.6-1.3-4.4-1.2-4.5-1.2-4.4-1.2-4.3-1.1-4.3-1.1-4.3-1-4.2-1.1-4.2-1-4.1-.9-4.1-1-4.1-.9-4-.8-4-.9-3.9-.8-3.9-.7-3.9-.8-3.8-.7-3.8-.7-3.7-.7-3.8-.6M67.4 634l4.6-2.4 4.6-2.4 4.5-2.3 4.6-2.3 4.4-2.3 4.4-2.2 4.4-2.1 4.4-2.2 4.3-2.1 4.3-2 4.2-2 4.2-2 4.1-2 4.1-1.9 4.1-1.8 4.1-1.9 4-1.8 3.9-1.7 4-1.7 3.9-1.7 3.8-1.7 3.9-1.6 3.8-1.6 3.7-1.6 3.7-1.5M238.4 614.5l-4.8-1.4-4.6-1.3-4.6-1.3-4.6-1.3-4.6-1.2-4.4-1.2-4.5-1.2-4.4-1.1-4.3-1.1-4.3-1.1-4.3-1-4.2-1.1-4.2-.9-4.1-1-4.1-.9-4.1-.9-4-.9-4-.8-3.9-.8-3.9-.8-3.9-.8-3.8-.7-3.8-.8-3.8-.6-3.7-.7M63.6 632.9l4.6-2.4 4.6-2.3 4.5-2.3 4.6-2.3 4.4-2.2 4.4-2.1 4.4-2.2 4.4-2.1 4.3-2.1 4.2-2 4.3-2 4.1-2 4.2-1.9 4.1-1.9 4.1-1.9 4-1.8 4-1.8 4-1.8 3.9-1.7 3.9-1.7 3.9-1.7 3.8-1.6 3.8-1.6 3.8-1.6 3.7-1.6M242.2 612.4l-4.7-1.3-4.7-1.2-4.6-1.3-4.6-1.2-4.5-1.2-4.5-1.2-4.4-1.1-4.4-1.1-4.4-1.1-4.3-1.1-4.2-1-4.3-1-4.1-1-4.2-.9-4.1-.9-4-.9-4-.9-4-.9-4-.8-3.9-.8-3.8-.8-3.9-.7-3.7-.8-3.8-.7-3.7-.7M59.8 631.8l4.7-2.3 4.6-2.3 4.5-2.3 4.5-2.2 4.4-2.1 4.5-2.2 4.3-2.1 4.4-2.1 4.3-2 4.2-2 4.3-2 4.1-2 4.2-1.9 4.1-1.9 4.1-1.8 4-1.9 4-1.8 4-1.8 3.9-1.7 3.9-1.7 3.8-1.7 3.9-1.7 3.8-1.6 3.7-1.7 3.8-1.5M246 610.5l-4.7-1.3-4.7-1.2-4.6-1.2-4.5-1.2-4.6-1.2-4.5-1.1-4.4-1.1-4.4-1.1-4.3-1.1-4.3-1-4.3-1-4.2-1-4.2-1-4.1-.9-4.1-.9-4.1-.9-4-.9-4-.9-3.9-.8-3.9-.8-3.9-.8-3.8-.8-3.8-.8-3.8-.7-3.7-.7M56.1 630.7l4.7-2.3 4.5-2.2 4.6-2.2 4.5-2.2 4.4-2.1 4.4-2.1 4.4-2.1 4.3-2 4.3-2 4.3-2 4.2-2 4.2-1.9 4.1-2 4.1-1.8 4.1-1.9 4-1.8 4-1.9 4-1.7 3.9-1.8 3.9-1.8 3.9-1.7 3.8-1.7 3.8-1.6 3.7-1.7 3.8-1.6M249.8 608.5l-4.7-1.2-4.7-1.2-4.6-1.1-4.6-1.2-4.5-1.1-4.5-1.1-4.4-1.1-4.4-1-4.3-1-4.4-1.1-4.2-1-4.2-.9-4.2-1-4.1-.9-4.1-1-4.1-.9-4-.9-4-.8-3.9-.9-3.9-.8-3.9-.8-3.8-.8-3.8-.8-3.8-.8-3.7-.8M52.5 629.6l4.6-2.2 4.6-2.2 4.5-2.1 4.5-2.1 4.4-2.1 4.4-2.1 4.4-2 4.3-2 4.3-2 4.3-2 4.2-1.9 4.2-2 4.1-1.9 4.1-1.9 4.1-1.8 4-1.9 4-1.8 3.9-1.8 4-1.8 3.8-1.7 3.9-1.8 3.8-1.7 3.8-1.7 3.8-1.7 3.7-1.7M253.5 606.5l-4.7-1.1-4.6-1.1-4.6-1.1-4.6-1.1-4.5-1.1-4.5-1-4.5-1.1-4.3-1-4.4-1-4.3-1-4.3-1-4.2-.9-4.2-1-4.1-.9-4.1-1-4-.9-4.1-.9-3.9-.8-4-.9-3.9-.9-3.8-.8-3.9-.9-3.8-.8-3.7-.8-3.8-.8M48.9 628.5l4.6-2.1 4.5-2.1 4.6-2.1 4.4-2.1 4.5-2 4.4-2 4.4-2 4.3-2 4.3-2 4.2-1.9 4.2-2 4.2-1.9 4.1-1.9 4.1-1.9 4.1-1.8 4-1.9 4-1.8 3.9-1.8 3.9-1.8 3.9-1.8 3.9-1.8 3.8-1.7 3.8-1.8 3.7-1.7 3.8-1.7M257.3 604.6l-4.8-1.1-4.6-1-4.6-1.1-4.6-1-4.5-1-4.5-1-4.4-1-4.4-1-4.4-1-4.3-1-4.2-.9-4.3-1-4.1-.9-4.2-1-4.1-.9-4-.9-4-.9-4-.9-3.9-.9-4-.9-3.8-.9-3.8-.8-3.8-.9-3.8-.9-3.7-.8" fill="none" stroke="#000" stroke-opacity="0.46" stroke-width="0.4"/>
<circle cx="47.5" cy="628.5" r="2.35" fill="#e2121c"/>
<circle cx="151.4" cy="613.5" r="2.35" fill="#e2121c"/>
<circle cx="151.4" cy="659.3" r="2.35" fill="#e2121c"/>
<path d="M44.7 561.3h1.9v1.9h-1.9zM45.6 578.6h1.9v1.9h-1.9zM46.4 596.4h1.9v1.9h-1.9zM47.2 613.8h1.9v1.9h-1.9zM48.1 630.8h1.9v1.9h-1.9zM48.9 648.3h1.9v1.9h-1.9zM49.7 665.6h1.9v1.9h-1.9zM151.4 747.1h1.9v1.9h-1.9zM171.4 737.6h1.9v1.9h-1.9zM131.4 737.6h1.9v1.9h-1.9zM191.4 728.1h1.9v1.9h-1.9zM111.4 728.1h1.9v1.9h-1.9zM211.5 718.6h1.9v1.9h-1.9zM91.4 718.6h1.9v1.9h-1.9zM231.5 709.1h1.9v1.9h-1.9zM71.4 709.1h1.9v1.9h-1.9zM251.6 699.5h1.9v1.9h-1.9zM51.4 699.6h1.9v1.9h-1.9z" fill="#111"/>
<g font-size="7.05" fill="#333"><text x="41.9" y="560.8" text-anchor="end" font-size="6.7">85</text><text x="42.7" y="578.1" text-anchor="end" font-size="6.7">80</text><text x="43.6" y="595.9" text-anchor="end" font-size="6.7">75</text><text x="44.4" y="613.2" text-anchor="end" font-size="6.7">70</text><text x="45.2" y="630.3" text-anchor="end" font-size="6.7">65</text><text x="46.1" y="647.8" text-anchor="end" font-size="6.7">60</text><text x="46.9" y="665.1" text-anchor="end" font-size="6.7">55</text><text x="160.3" y="756.2" text-anchor="middle" font-size="6.7">10</text><text x="180.4" y="746.7" text-anchor="middle" font-size="6.7">12</text><text x="200.4" y="737.2" text-anchor="middle" font-size="6.7">14</text><text x="220.4" y="727.6" text-anchor="middle" font-size="6.7">16</text><text x="240.5" y="718.1" text-anchor="middle" font-size="6.7">18</text><text x="260.5" y="708.6" text-anchor="middle" font-size="6.7">20</text><text x="146.2" y="755.9" text-anchor="middle" font-size="6.7">5</text><text x="126.2" y="746.4" text-anchor="middle" font-size="6.7">6</text><text x="106.2" y="736.9" text-anchor="middle" font-size="6.7">7</text><text x="86.2" y="727.4" text-anchor="middle" font-size="6.7">8</text><text x="66.2" y="717.9" text-anchor="middle" font-size="6.7">9</text><text x="42" y="708.4" text-anchor="middle" font-size="6.7">10</text><text x="241.2" y="746" text-anchor="middle">A: S 60 Conc. (mg/mL)</text><text x="63.1" y="746.1" text-anchor="middle">B: T 60 Conc. (mg/mL)</text><text transform="translate(14.6 633.5) rotate(-90)" text-anchor="middle" font-size="7.05">%EE (%)</text></g>
<text x="151.8" y="780" text-anchor="middle" font-family="'Liberation Serif',serif" font-weight="bold" font-size="22.5" letter-spacing="0.2" fill="#111">(e)</text></g>
<g id="pf"><path d="M311.1 562.3L417.7 538.7M417.7 538.7L524.8 562.3M311.9 579.6L417.8 554.2M417.8 554.2L523.9 579.6M312.8 597.4L417.8 570.1M417.8 570.1L523.1 597.4M313.6 614.7L417.9 585.6M417.9 585.6L522.2 614.7M314.4 632L418 601.1M418 601.1L521.3 631.9M315.3 649.3L418 616.6M418 616.6L520.5 649.2M316.1 666.6L418.1 632.1M418.1 632.1L519.6 666.5M519.6 666.5L524.8 562.4M336.5 659.7L332.4 557.7M499.3 659.6L503.4 557.7M356.9 652.8L353.7 553M479 652.7L482 553M377.3 645.9L375.1 548.2M458.7 645.9L460.5 548.2M397.7 639L396.4 543.5M438.4 639L439.1 543.5M418.1 632.1L417.7 538.8M317.7 700.6L311.1 562.4M517.9 700.5L524.8 562.4M418.2 662.5L418.1 632.1" fill="none" stroke="#b0b0b0" stroke-width="0.85"/>
<clipPath id="cff"><polygon points="317.7,700.6 417.7,748.1 517.9,700.5 418.2,662.5"/></clipPath>
<polygon points="317.7,700.6 417.7,748.1 517.9,700.5 418.2,662.5" fill="#5e5e5e"/>
<g clip-path="url(#cff)" fill="none" stroke-width="0.95" stroke-opacity="0.92"><path d="M362 683Q427.5 686.9 493 690.6" stroke="#10b0b0"/><path d="M333 694.6Q415.3 701.3 498 709" stroke="#10b880"/><path d="M332 705Q403.4 713.1 474.6 720" stroke="#10b860"/><path d="M358 718.6Q407.5 727.7 458 728.6" stroke="#20b040"/><path d="M387 733Q410.7 739.2 435 740" stroke="#60b020"/></g>
<circle cx="314.2" cy="620.5" r="2.1" fill="#f7c3c8" stroke="#f0a0aa" stroke-width="0.5"/>
<circle cx="417.6" cy="609.2" r="2.1" fill="#f7c3c8" stroke="#f0a0aa" stroke-width="0.5"/>
<path d="M417.9 610.3l3.6-.4-3.6-.7-3.7 .4zM421.6 611.1l3.7-.4-3.8-.8-3.6 .4z" fill="#00fcd8" stroke="#00fcd8" stroke-width="0.4"/>
<path d="M414.2 610.7l3.7-.4-3.7-.7-3.7 .4zM425.3 611.8l3.7-.4-3.7-.7-3.7 .4zM417.9 611.4l3.7-.3-3.7-.8-3.7 .4zM410.4 611.1l3.8-.4-3.7-.7-3.8 .4zM429.1 612.5l3.7-.3-3.8-.8-3.7 .4z" fill="#00fcd2" stroke="#00fcd2" stroke-width="0.4"/>
<path d="M421.6 612.2l3.7-.4-3.7-.7-3.7 .3zM414.1 611.8l3.8-.4-3.7-.7-3.8 .4zM406.6 611.5l3.8-.4-3.7-.7-3.8 .4zM432.9 613.3l3.7-.4-3.8-.7-3.7 .3zM425.4 612.9l3.7-.4-3.8-.7-3.7 .4zM417.9 612.5l3.7-.3-3.7-.8-3.8 .4zM410.3 612.2l3.8-.4-3.7-.7-3.8 .4zM402.8 611.9l3.8-.4-3.7-.7-3.8 .4zM436.8 614.1l3.7-.4-3.9-.8-3.7 .4zM429.2 613.6l3.7-.3-3.8-.8-3.7 .4zM421.7 613.3l3.7-.4-3.8-.7-3.7 .3zM440.7 614.8l3.7-.3-3.9-.8-3.7 .4zM433.1 614.4l3.7-.3-3.9-.8-3.7 .3zM444.6 615.6l3.7-.3-3.9-.8-3.7 .3z" fill="#00fccc" stroke="#00fccc" stroke-width="0.4"/>
<path d="M414.1 612.9l3.8-.4-3.8-.7-3.8 .4zM406.5 612.6l3.8-.4-3.7-.7-3.8 .4zM398.9 612.3l3.9-.4-3.7-.7-3.8 .5zM425.5 614l3.7-.4-3.8-.7-3.7 .4zM417.9 613.6l3.8-.3-3.8-.8-3.8 .4zM410.3 613.3l3.8-.4-3.8-.7-3.8 .4zM437 615.1l3.7-.3-3.9-.7-3.7 .3zM429.3 614.7l3.8-.3-3.9-.8-3.7 .4zM448.6 616.4l3.6-.3-3.9-.8-3.7 .3zM440.9 615.9l3.7-.3-3.9-.8-3.7 .3zM452.6 617.2l3.7-.3-4.1-.8-3.6 .3z" fill="#00fcc6" stroke="#00fcc6" stroke-width="0.4"/>
<path d="M402.7 613l3.8-.4-3.7-.7-3.9 .4zM395 612.7l3.9-.4-3.6-.6-3.9 .4zM421.7 614.3l3.8-.3-3.8-.7-3.8 .3zM414 614l3.9-.4-3.8-.7-3.8 .4zM406.4 613.7l3.9-.4-3.8-.7-3.8 .4zM398.7 613.4l4-.4-3.8-.7-3.9 .4zM391.1 613.1l3.9-.4-3.6-.6-4 .4zM433.2 615.5l3.8-.4-3.9-.7-3.8 .3zM425.6 615.1l3.7-.4-3.8-.7-3.8 .3zM417.9 614.7l3.8-.4-3.8-.7-3.9 .4zM410.2 614.4l3.8-.4-3.7-.7-3.9 .4zM444.9 616.7l3.7-.3-4-.8-3.7 .3zM437.2 616.2l3.7-.3-3.9-.8-3.8 .4zM429.5 615.8l3.7-.3-3.9-.8-3.7 .4zM421.7 615.4l3.9-.3-3.9-.8-3.8 .4zM456.6 618l3.7-.3-4-.8-3.7 .3zM448.9 617.5l3.7-.3-4-.8-3.7 .3zM441.1 617l3.8-.3-4-.8-3.7 .3zM433.4 616.5l3.8-.3-4-.7-3.7 .3zM460.7 618.8l3.7-.3-4.1-.8-3.7 .3zM452.9 618.2l3.7-.2-4-.8-3.7 .3zM445.2 617.8l3.7-.3-4-.8-3.8 .3zM464.9 619.6l3.6-.3-4.1-.8-3.7 .3zM457 619l3.7-.2-4.1-.8-3.7 .2zM469 620.4l3.7-.2-4.2-.9-3.6 .3z" fill="#00fcc0" stroke="#00fcc0" stroke-width="0.4"/>
<path d="M402.5 614.1l3.9-.4-3.7-.7-4 .4zM394.8 613.8l3.9-.4-3.7-.7-3.9 .4zM387.1 613.6l4-.5-3.7-.6-4 .4zM414 615.1l3.9-.4-3.9-.7-3.8 .4zM406.3 614.7l3.9-.3-3.8-.7-3.9 .4zM398.6 614.4l3.9-.3-3.8-.7-3.9 .4zM390.8 614.2l4-.4-3.7-.7-4 .5zM425.6 616.1l3.9-.3-3.9-.7-3.9 .3zM417.9 615.8l3.8-.4-3.8-.7-3.9 .4zM437.4 617.3l3.7-.3-3.9-.8-3.8 .3zM429.6 616.9l3.8-.4-3.9-.7-3.9 .3zM449.2 618.5l3.7-.3-4-.7-3.7 .3zM441.4 618l3.8-.2-4.1-.8-3.7 .3zM461.2 619.8l3.7-.2-4.2-.8-3.7 .2zM453.3 619.3l3.7-.3-4.1-.8-3.7 .3zM473.2 621.2l3.7-.2-4.2-.8-3.7 .2zM465.3 620.7l3.7-.3-4.1-.8-3.7 .2zM477.5 622.1l3.6-.3-4.2-.8-3.7 .2z" fill="#00fcba" stroke="#00fcba" stroke-width="0.4"/>
<path d="M383.1 614l4-.4-3.7-.7-4 .5zM410.1 615.4l3.9-.3-3.8-.7-3.9 .3zM402.3 615.1l4-.4-3.8-.6-3.9 .3zM394.6 614.8l4-.4-3.8-.6-4 .4zM386.8 614.6l4-.4-3.7-.6-4 .4zM379 614.4l4.1-.4-3.7-.6-4 .4zM421.8 616.5l3.8-.4-3.9-.7-3.8 .4zM414 616.1l3.9-.3-3.9-.7-3.9 .3zM406.2 615.8l3.9-.4-3.8-.7-4 .4zM398.4 615.5l3.9-.4-3.7-.7-4 .4zM390.6 615.2l4-.4-3.8-.6-4 .4zM433.5 617.6l3.9-.3-4-.8-3.8 .4zM425.7 617.2l3.9-.3-4-.8-3.8 .4zM417.9 616.8l3.9-.3-3.9-.7-3.9 .3zM410 616.4l4-.3-3.9-.7-3.9 .4zM445.4 618.8l3.8-.3-4-.7-3.8 .2zM437.6 618.3l3.8-.3-4-.7-3.9 .3zM429.7 617.9l3.8-.3-3.9-.7-3.9 .3zM457.4 620.1l3.8-.3-4.2-.8-3.7 .3zM449.5 619.6l3.8-.3-4.1-.8-3.8 .3zM441.6 619.1l3.8-.3-4-.8-3.8 .3zM469.6 621.5l3.6-.3-4.2-.8-3.7 .3zM461.6 620.9l3.7-.2-4.1-.9-3.8 .3zM453.7 620.4l3.7-.3-4.1-.8-3.8 .3zM481.8 622.9l3.6-.2-4.3-.9-3.6 .3zM473.8 622.3l3.7-.2-4.3-.9-3.6 .3zM465.8 621.7l3.8-.2-4.3-.8-3.7 .2zM486.1 623.8l3.7-.2-4.4-.9-3.6 .2zM478.1 623.1l3.7-.2-4.3-.8-3.7 .2zM490.5 624.6l3.7-.2-4.4-.8-3.7 .2zM495 625.5l3.6-.2-4.4-.9-3.7 .2z" fill="#00fcb4" stroke="#00fcb4" stroke-width="0.4"/>
<path d="M382.7 615l4.1-.4-3.7-.6-4.1 .4zM374.9 614.8l4.1-.4-3.6-.6-4.1 .5zM402.2 616.1l4-.3-3.9-.7-3.9 .4zM394.3 615.9l4.1-.4-3.8-.7-4 .4zM386.5 615.6l4.1-.4-3.8-.6-4.1 .4zM378.6 615.4l4.1-.4-3.7-.6-4.1 .4zM421.8 617.5l3.9-.3-3.9-.7-3.9 .3zM413.9 617.1l4-.3-3.9-.7-4 .3zM406 616.8l4-.4-3.8-.6-4 .3zM433.7 618.6l3.9-.3-4.1-.7-3.8 .3zM425.8 618.2l3.9-.3-4-.7-3.9 .3zM445.7 619.8l3.8-.2-4.1-.8-3.8 .3zM437.8 619.4l3.8-.3-4-.8-3.9 .3zM457.9 621.1l3.7-.2-4.2-.8-3.7 .3zM449.9 620.6l3.8-.2-4.2-.8-3.8 .2zM470.1 622.5l3.7-.2-4.2-.8-3.8 .2zM462.1 621.9l3.7-.2-4.2-.8-3.7 .2zM482.5 624l3.6-.2-4.3-.9-3.7 .2zM474.4 623.3l3.7-.2-4.3-.8-3.7 .2zM486.9 624.8l3.6-.2-4.4-.8-3.6 .2zM499.4 626.4l3.7-.2-4.5-.9-3.6 .2zM491.3 625.7l3.7-.2-4.5-.9-3.6 .2zM504 627.3l3.6-.2-4.5-.9-3.7 .2z" fill="#00fcae" stroke="#00fcae" stroke-width="0.4"/>
<path d="M370.8 615.3l4.1-.5-3.6-.5-4.2 .4zM398.2 616.5l4-.4-3.8-.6-4.1 .4zM390.3 616.2l4-.3-3.7-.7-4.1 .4zM382.4 616l4.1-.4-3.8-.6-4.1 .4zM374.5 615.8l4.1-.4-3.7-.6-4.1 .5zM417.9 617.8l3.9-.3-3.9-.7-4 .3zM409.9 617.4l4-.3-3.9-.7-4 .4zM402 617.1l4-.3-3.8-.7-4 .4zM429.8 618.9l3.9-.3-4-.7-3.9 .3zM421.9 618.5l3.9-.3-4-.7-3.9 .3zM441.9 620.1l3.8-.3-4.1-.7-3.8 .3zM433.9 619.6l3.9-.2-4.1-.8-3.9 .3zM454.1 621.4l3.8-.3-4.2-.7-3.8 .2zM446 620.8l3.9-.2-4.2-.8-3.8 .3zM466.4 622.7l3.7-.2-4.3-.8-3.7 .2zM458.3 622.2l3.8-.3-4.2-.8-3.8 .3zM478.8 624.2l3.7-.2-4.4-.9-3.7 .2zM470.7 623.5l3.7-.2-4.3-.8-3.7 .2zM483.2 625l3.7-.2-4.4-.8-3.7 .2zM495.8 626.6l3.6-.2-4.4-.9-3.7 .2zM508.5 628.2l3.6-.2-4.5-.9-3.6 .2zM500.3 627.4l3.7-.1-4.6-.9-3.6 .2zM513.2 629.1l3.6-.1-4.7-1-3.6 .2z" fill="#00fca8" stroke="#00fca8" stroke-width="0.4"/>
<path d="M366.6 615.7l4.2-.4-3.7-.6-4.2 .5zM394.1 616.8l4.1-.3-3.9-.6-4 .3zM386.2 616.6l4.1-.4-3.8-.6-4.1 .4zM378.2 616.4l4.2-.4-3.8-.6-4.1 .4zM413.9 618.1l4-.3-4-.7-4 .3zM405.9 617.8l4-.4-3.9-.6-4 .3zM425.9 619.2l3.9-.3-4-.7-3.9 .3zM438 620.4l3.9-.3-4.1-.7-3.9 .2zM450.2 621.6l3.9-.2-4.2-.8-3.9 .2zM462.6 622.9l3.8-.2-4.3-.8-3.8 .3zM475 624.4l3.8-.2-4.4-.9-3.7 .2zM487.6 625.9l3.7-.2-4.4-.9-3.7 .2zM504.9 628.3l3.6-.1-4.5-.9-3.7 .1zM517.8 630l3.6-.1-4.6-.9-3.6 .1z" fill="#00fca2" stroke="#00fca2" stroke-width="0.4"/>
<path d="M370.3 616.3l4.2-.5-3.7-.5-4.2 .4zM362.4 616.2l4.2-.5-3.7-.5-4.2 .4zM398 617.5l4-.4-3.8-.6-4.1 .3zM390 617.2l4.1-.4-3.8-.6-4.1 .4zM382 617l4.2-.4-3.8-.6-4.2 .4zM374 616.8l4.2-.4-3.7-.6-4.2 .5zM417.9 618.8l4-.3-4-.7-4 .3zM409.9 618.4l4-.3-4-.7-4 .4zM401.9 618.1l4-.3-3.9-.7-4 .4zM429.9 619.9l4-.3-4.1-.7-3.9 .3zM421.9 619.5l4-.3-4-.7-4 .3zM442.1 621.1l3.9-.3-4.1-.7-3.9 .3zM434 620.6l4-.2-4.1-.8-4 .3zM454.4 622.4l3.9-.2-4.2-.8-3.9 .2zM466.9 623.7l3.8-.2-4.3-.8-3.8 .2zM479.4 625.2l3.8-.2-4.4-.8-3.8 .2zM492.1 626.7l3.7-.1-4.5-.9-3.7 .2zM483.9 626l3.7-.1-4.4-.9-3.8 .2zM496.7 627.6l3.6-.2-4.5-.8-3.7 .1zM509.5 629.2l3.7-.1-4.7-.9-3.6 .1zM514.2 630.1l3.6-.1-4.6-.9-3.7 .1z" fill="#00fc9c" stroke="#00fc9c" stroke-width="0.4"/>
<path d="M366.1 616.7l4.2-.4-3.7-.6-4.2 .5zM358.1 616.6l4.3-.4-3.7-.6-4.3 .5zM393.8 617.8l4.2-.3-3.9-.7-4.1 .4zM385.8 617.6l4.2-.4-3.8-.6-4.2 .4zM413.8 619.1l4.1-.3-4-.7-4 .3zM405.8 618.7l4.1-.3-4-.6-4 .3zM426 620.2l3.9-.3-4-.7-4 .3zM446.3 621.8l3.9-.2-4.2-.8-3.9 .3zM438.2 621.3l3.9-.2-4.1-.7-4 .2zM458.7 623.1l3.9-.2-4.3-.7-3.9 .2zM450.6 622.6l3.8-.2-4.2-.8-3.9 .2zM471.2 624.5l3.8-.1-4.3-.9-3.8 .2zM463 623.9l3.9-.2-4.3-.8-3.9 .2zM475.7 625.4l3.7-.2-4.4-.8-3.8 .1zM488.4 626.9l3.7-.2-4.5-.8-3.7 .1zM501.2 628.5l3.7-.2-4.6-.9-3.6 .2z" fill="#00fc96" stroke="#00fc96" stroke-width="0.4"/>
<path d="M377.8 617.4l4.2-.4-3.8-.6-4.2 .4zM369.8 617.2l4.2-.4-3.7-.5-4.2 .4zM361.8 617.1l4.3-.4-3.7-.5-4.3 .4zM353.8 617l4.3-.4-3.7-.5-4.3 .5zM397.7 618.4l4.2-.3-3.9-.6-4.2 .3zM389.7 618.2l4.1-.4-3.8-.6-4.2 .4zM381.6 617.9l4.2-.3-3.8-.6-4.2 .4zM417.9 619.8l4-.3-4-.7-4.1 .3zM409.8 619.4l4-.3-3.9-.7-4.1 .3zM430.1 620.9l3.9-.3-4.1-.7-3.9 .3zM421.9 620.4l4.1-.2-4.1-.7-4 .3zM442.4 622.1l3.9-.3-4.2-.7-3.9 .2zM454.8 623.3l3.9-.2-4.3-.7-3.8 .2zM467.4 624.7l3.8-.2-4.3-.8-3.9 .2zM480.1 626.2l3.8-.2-4.5-.8-3.7 .2zM492.9 627.7l3.8-.1-4.6-.9-3.7 .2zM505.9 629.4l3.6-.2-4.6-.9-3.7 .2zM497.5 628.6l3.7-.1-4.5-.9-3.8 .1zM510.6 630.3l3.6-.2-4.7-.9-3.6 .2z" fill="#00fc90" stroke="#00fc90" stroke-width="0.4"/>
<path d="M373.6 617.8l4.2-.4-3.8-.6-4.2 .4zM365.5 617.6l4.3-.4-3.7-.5-4.3 .4zM357.5 617.5l4.3-.4-3.7-.5-4.3 .4zM349.4 617.5l4.4-.5-3.7-.4-4.3 .4zM401.7 619.1l4.1-.4-3.9-.6-4.2 .3zM393.6 618.8l4.1-.4-3.9-.6-4.1 .4zM385.5 618.5l4.2-.3-3.9-.6-4.2 .3zM413.8 620l4.1-.2-4.1-.7-4 .3zM434.2 621.6l4-.3-4.2-.7-3.9 .3zM426 621.1l4.1-.2-4.1-.7-4.1 .2zM446.6 622.8l4-.2-4.3-.8-3.9 .3zM459.2 624.1l3.8-.2-4.3-.8-3.9 .2zM471.8 625.5l3.9-.1-4.5-.9-3.8 .2zM484.6 627l3.8-.1-4.5-.9-3.8 .2zM489.2 627.9l3.7-.2-4.5-.8-3.8 .1zM502.2 629.5l3.7-.1-4.7-.9-3.7 .1z" fill="#00fc8a" stroke="#00fc8a" stroke-width="0.4"/>
<path d="M377.4 618.3l4.2-.4-3.8-.5-4.2 .4zM369.3 618.2l4.3-.4-3.8-.6-4.3 .4zM361.2 618l4.3-.4-3.7-.5-4.3 .4zM353.1 618l4.4-.5-3.7-.5-4.4 .5zM345 618l4.4-.5-3.6-.5-4.5 .5zM405.7 619.7l4.1-.3-4-.7-4.1 .4zM397.5 619.4l4.2-.3-4-.7-4.1 .4zM389.4 619.1l4.2-.3-3.9-.6-4.2 .3zM417.9 620.7l4-.3-4-.6-4.1 .2zM409.7 620.3l4.1-.3-4-.6-4.1 .3zM438.4 622.3l4-.2-4.2-.8-4 .3zM430.2 621.8l4-.2-4.1-.7-4.1 .2zM450.9 623.5l3.9-.2-4.2-.7-4 .2zM442.7 623l3.9-.2-4.2-.7-4 .2zM463.5 624.9l3.9-.2-4.4-.8-3.8 .2zM455.2 624.3l4-.2-4.4-.8-3.9 .2zM476.3 626.3l3.8-.1-4.4-.8-3.9 .1zM468 625.7l3.8-.2-4.4-.8-3.9 .2zM480.8 627.1l3.8-.1-4.5-.8-3.8 .1zM493.8 628.7l3.7-.1-4.6-.9-3.7 .2zM506.9 630.3l3.7 0-4.7-.9-3.7 .1z" fill="#00fc84" stroke="#00fc84" stroke-width="0.4"/>
<path d="M381.2 618.9l4.3-.4-3.9-.6-4.2 .4zM373.1 618.7l4.3-.4-3.8-.5-4.3 .4zM364.9 618.5l4.4-.3-3.8-.6-4.3 .4zM356.8 618.5l4.4-.5-3.7-.5-4.4 .5zM348.7 618.4l4.4-.4-3.7-.5-4.4 .5zM340.5 618.4l4.5-.4-3.7-.5-4.4 .5zM401.5 620l4.2-.3-4-.6-4.2 .3zM393.3 619.7l4.2-.3-3.9-.6-4.2 .3zM422 621.4l4-.3-4.1-.7-4 .3zM413.8 621l4.1-.3-4.1-.7-4.1 .3zM434.4 622.5l4-.2-4.2-.7-4 .2zM446.9 623.7l4-.2-4.3-.7-3.9 .2zM459.6 625.1l3.9-.2-4.3-.8-4 .2zM472.4 626.5l3.9-.2-4.5-.8-3.8 .2zM485.4 628l3.8-.1-4.6-.9-3.8 .1zM498.4 629.6l3.8-.1-4.7-.9-3.7 .1z" fill="#00fc7e" stroke="#00fc7e" stroke-width="0.4"/>
<path d="M385.1 619.4l4.3-.3-3.9-.6-4.3 .4zM376.9 619.2l4.3-.3-3.8-.6-4.3 .4zM368.8 619.1l4.3-.4-3.8-.5-4.4 .3zM360.6 618.9l4.3-.4-3.7-.5-4.4 .5zM352.4 618.9l4.4-.4-3.7-.5-4.4 .4zM344.2 618.9l4.5-.5-3.7-.4-4.5 .4zM336 618.9l4.5-.5-3.6-.4-4.5 .5zM405.5 620.6l4.2-.3-4-.6-4.2 .3zM397.3 620.3l4.2-.3-4-.6-4.2 .3zM389.1 620l4.2-.3-3.9-.6-4.3 .3zM426.1 622l4.1-.2-4.2-.7-4 .3zM417.9 621.6l4.1-.2-4.1-.7-4.1 .3zM438.6 623.2l4.1-.2-4.3-.7-4 .2zM430.3 622.7l4.1-.2-4.2-.7-4.1 .2zM451.3 624.5l3.9-.2-4.3-.8-4 .2zM464 625.8l4-.1-4.5-.8-3.9 .2zM476.9 627.3l3.9-.2-4.5-.8-3.9 .2zM490 628.8l3.8-.1-4.6-.8-3.8 .1zM503.1 630.4l3.8-.1-4.7-.8-3.8 .1zM494.6 629.7l3.8-.1-4.6-.9-3.8 .1z" fill="#00fc78" stroke="#00fc78" stroke-width="0.4"/>
<path d="M380.8 619.8l4.3-.4-3.9-.5-4.3 .3zM372.6 619.6l4.3-.4-3.8-.5-4.3 .4zM364.4 619.4l4.4-.3-3.9-.6-4.3 .4zM356.1 619.3l4.5-.4-3.8-.4-4.4 .4zM331.4 619.4l4.6-.5-3.6-.4-4.6 .5zM409.6 621.2l4.2-.2-4.1-.7-4.2 .3zM401.3 620.9l4.2-.3-4-.6-4.2 .3zM422 622.3l4.1-.3-4.1-.6-4.1 .2zM442.9 623.9l4-.2-4.2-.7-4.1 .2zM434.6 623.4l4-.2-4.2-.7-4.1 .2zM455.7 625.2l3.9-.1-4.4-.8-3.9 .2zM468.5 626.6l3.9-.1-4.4-.8-4 .1zM481.5 628.1l3.9-.1-4.6-.9-3.9 .2zM486.1 628.9l3.9-.1-4.6-.8-3.9 .1zM499.3 630.5l3.8-.1-4.7-.8-3.8 .1z" fill="#00fc72" stroke="#00fc72" stroke-width="0.4"/>
<path d="M347.9 619.3l4.5-.4-3.7-.5-4.5 .5zM339.7 619.3l4.5-.4-3.7-.5-4.5 .5zM393.1 620.6l4.2-.3-4-.6-4.2 .3zM384.8 620.3l4.3-.3-4-.6-4.3 .4zM376.5 620.1l4.3-.3-3.9-.6-4.3 .4zM368.2 619.9l4.4-.3-3.8-.5-4.4 .3zM359.9 619.8l4.5-.4-3.8-.5-4.5 .4zM326.8 619.8l4.6-.4-3.6-.4-4.6 .5zM413.7 621.8l4.2-.2-4.1-.6-4.2 .2zM405.4 621.5l4.2-.3-4.1-.6-4.2 .3zM397.1 621.1l4.2-.2-4-.6-4.2 .3zM426.2 622.9l4.1-.2-4.2-.7-4.1 .3zM417.9 622.5l4.1-.2-4.1-.7-4.2 .2zM447.3 624.6l4-.1-4.4-.8-4 .2zM438.9 624.1l4-.2-4.3-.7-4 .2zM460.1 626l3.9-.2-4.4-.7-3.9 .1zM451.7 625.4l4-.2-4.4-.7-4 .1zM473 627.4l3.9-.1-4.5-.8-3.9 .1zM464.6 626.7l3.9-.1-4.5-.8-3.9 .2zM477.6 628.2l3.9-.1-4.6-.8-3.9 .1zM490.8 629.7l3.8 0-4.6-.9-3.9 .1z" fill="#00fc6c" stroke="#00fc6c" stroke-width="0.4"/>
<path d="M351.7 619.7l4.4-.4-3.7-.4-4.5 .4zM343.4 619.7l4.5-.4-3.7-.4-4.5 .4zM335.1 619.8l4.6-.5-3.7-.4-4.6 .5zM388.8 620.9l4.3-.3-4-.6-4.3 .3zM430.5 623.6l4.1-.2-4.3-.7-4.1 .2zM495.5 630.6l3.8-.1-4.7-.8-3.8 0z" fill="#00fc66" stroke="#00fc66" stroke-width="0.4"/>
<path d="M380.4 620.6l4.4-.3-4-.5-4.3 .3zM372.1 620.4l4.4-.3-3.9-.5-4.4 .3zM322.2 620.3l4.6-.5-3.6-.3-4.6 .5zM409.5 622.1l4.2-.3-4.1-.6-4.2 .3zM401.1 621.7l4.3-.2-4.1-.6-4.2 .2zM422.1 623.1l4.1-.2-4.2-.6-4.1 .2zM443.2 624.8l4.1-.2-4.4-.7-4 .2zM456.1 626.1l4-.1-4.4-.8-4 .2zM469.1 627.5l3.9-.1-4.5-.8-3.9 .1zM482.2 629l3.9-.1-4.6-.8-3.9 .1z" fill="#00fc60" stroke="#00fc60" stroke-width="0.4"/>
<path d="M363.8 620.3l4.4-.4-3.8-.5-4.5 .4zM355.5 620.2l4.4-.4-3.8-.5-4.4 .4zM347.1 620.1l4.6-.4-3.8-.4-4.5 .4zM338.8 620.1l4.6-.4-3.7-.4-4.6 .5zM330.5 620.2l4.6-.4-3.7-.4-4.6 .4zM392.8 621.4l4.3-.3-4-.5-4.3 .3zM413.7 622.7l4.2-.2-4.2-.7-4.2 .3zM434.8 624.3l4.1-.2-4.3-.7-4.1 .2zM447.6 625.5l4.1-.1-4.4-.8-4.1 .2zM460.6 626.8l4-.1-4.5-.7-4 .1zM473.7 628.3l3.9-.1-4.6-.8-3.9 .1zM486.9 629.8l3.9-.1-4.7-.8-3.9 .1z" fill="#00fc5a" stroke="#00fc5a" stroke-width="0.4"/>
<path d="M384.4 621.1l4.4-.2-4-.6-4.4 .3zM376 620.9l4.4-.3-3.9-.5-4.4 .3zM405.3 622.3l4.2-.2-4.1-.6-4.3 .2zM426.3 623.8l4.2-.2-4.3-.7-4.1 .2z" fill="#00fc54" stroke="#00fc54" stroke-width="0.4"/>
<path d="M367.7 620.8l4.4-.4-3.9-.5-4.4 .4zM359.3 620.6l4.5-.3-3.9-.5-4.4 .4zM350.9 620.6l4.6-.4-3.8-.5-4.6 .4zM342.6 620.5l4.5-.4-3.7-.4-4.6 .4zM334.2 620.6l4.6-.5-3.7-.3-4.6 .4zM325.8 620.7l4.7-.5-3.7-.4-4.6 .5zM317.5 620.8l4.7-.5-3.6-.3-4.7 .5zM396.8 622l4.3-.3-4-.6-4.3 .3zM417.9 623.3l4.2-.2-4.2-.6-4.2 .2zM439.1 624.9l4.1-.1-4.3-.7-4.1 .2zM452 626.2l4.1-.1-4.4-.7-4.1 .1zM465.1 627.6l4-.1-4.5-.8-4 .1zM478.3 629.1l3.9-.1-4.6-.8-3.9 .1zM491.6 630.6l3.9 0-4.7-.9-3.9 .1z" fill="#00fc4e" stroke="#00fc4e" stroke-width="0.4"/>
<path d="M388.4 621.7l4.4-.3-4-.5-4.4 .2zM380 621.4l4.4-.3-4-.5-4.4 .3zM409.4 622.9l4.3-.2-4.2-.6-4.2 .2zM430.6 624.4l4.2-.1-4.3-.7-4.2 .2zM443.5 625.6l4.1-.1-4.4-.7-4.1 .1zM456.5 626.9l4.1-.1-4.5-.7-4.1 .1zM483 629.9l3.9-.1-4.7-.8-3.9 .1z" fill="#00fc48" stroke="#00fc48" stroke-width="0.4"/>
<path d="M371.6 621.2l4.4-.3-3.9-.5-4.4 .4zM363.2 621.1l4.5-.3-3.9-.5-4.5 .3zM321.1 621.1l4.7-.4-3.6-.4-4.7 .5zM401 622.5l4.3-.2-4.2-.6-4.3 .3zM422.1 624l4.2-.2-4.2-.7-4.2 .2zM469.7 628.4l4-.1-4.6-.8-4 .1z" fill="#00fc42" stroke="#00fc42" stroke-width="0.4"/>
<path d="M354.8 621l4.5-.4-3.8-.4-4.6 .4zM346.3 620.9l4.6-.3-3.8-.5-4.5 .4zM337.9 620.9l4.7-.4-3.8-.4-4.6 .5zM329.5 621l4.7-.4-3.7-.4-4.7 .5zM392.5 622.2l4.3-.2-4-.6-4.4 .3zM413.6 623.5l4.3-.2-4.2-.6-4.3 .2zM435 625.1l4.1-.2-4.3-.6-4.2 .1zM447.9 626.3l4.1-.1-4.4-.7-4.1 .1zM461.1 627.7l4-.1-4.5-.8-4.1 .1zM474.3 629.1l4 0-4.6-.8-4 .1zM487.7 630.7l3.9-.1-4.7-.8-3.9 .1z" fill="#00fc3c" stroke="#00fc3c" stroke-width="0.4"/>
<path d="M384 622l4.4-.3-4-.6-4.4 .3zM426.4 624.6l4.2-.2-4.3-.6-4.2 .2z" fill="#00f636" stroke="#00f636" stroke-width="0.4"/>
<path d="M375.6 621.7l4.4-.3-4-.5-4.4 .3zM405.1 623.1l4.3-.2-4.1-.6-4.3 .2z" fill="#00f630" stroke="#00f630" stroke-width="0.4"/>
<path d="M367.1 621.5l4.5-.3-3.9-.4-4.5 .3zM358.6 621.4l4.6-.3-3.9-.5-4.5 .4zM333.2 621.4l4.7-.5-3.7-.3-4.7 .4zM324.8 621.4l4.7-.4-3.7-.3-4.7 .4zM396.6 622.8l4.4-.3-4.2-.5-4.3 .2zM417.9 624.1l4.2-.1-4.2-.7-4.3 .2zM439.4 625.8l4.1-.2-4.4-.7-4.1 .2zM452.4 627l4.1-.1-4.5-.7-4.1 .1zM465.6 628.4l4.1 0-4.6-.8-4 .1zM479 629.9l4 0-4.7-.8-4 0z" fill="#00f030" stroke="#00f030" stroke-width="0.4"/>
<path d="M350.2 621.3l4.6-.3-3.9-.4-4.6 .3zM341.7 621.3l4.6-.4-3.7-.4-4.7 .4z" fill="#00f02a" stroke="#00f02a" stroke-width="0.4"/>
<path d="M388.1 622.5l4.4-.3-4.1-.5-4.4 .3zM430.8 625.2l4.2-.1-4.4-.7-4.2 .2z" fill="#00ea2a" stroke="#00ea2a" stroke-width="0.4"/>
<path d="M379.6 622.2l4.4-.2-4-.6-4.4 .3zM409.3 623.7l4.3-.2-4.2-.6-4.3 .2zM443.8 626.4l4.1-.1-4.4-.7-4.1 .2zM457 627.8l4.1-.1-4.6-.8-4.1 .1zM470.3 629.2l4-.1-4.6-.7-4.1 0zM483.7 630.7l4 0-4.7-.8-4 0z" fill="#00ea24" stroke="#00ea24" stroke-width="0.4"/>
<path d="M371.1 622l4.5-.3-4-.5-4.5 .3z" fill="#00e424" stroke="#00e424" stroke-width="0.4"/>
<path d="M362.6 621.9l4.5-.4-3.9-.4-4.6 .3zM354 621.8l4.6-.4-3.8-.4-4.6 .3zM345.5 621.7l4.7-.4-3.9-.4-4.6 .4zM337 621.7l4.7-.4-3.8-.4-4.7 .5zM328.5 621.8l4.7-.4-3.7-.4-4.7 .4zM400.8 623.3l4.3-.2-4.1-.6-4.4 .3zM392.2 623l4.4-.2-4.1-.6-4.4 .3zM422.2 624.7l4.2-.1-4.3-.6-4.2 .1zM435.2 625.9l4.2-.1-4.4-.7-4.2 .1z" fill="#00e41e" stroke="#00e41e" stroke-width="0.4"/>
<path d="M383.6 622.7l4.5-.2-4.1-.5-4.4 .2zM413.6 624.3l4.3-.2-4.3-.6-4.3 .2zM426.5 625.4l4.3-.2-4.4-.6-4.2 .1zM448.3 627.1l4.1-.1-4.5-.7-4.1 .1zM461.6 628.5l4-.1-4.5-.7-4.1 .1zM475 629.9l4 0-4.7-.8-4 .1z" fill="#00de18" stroke="#00de18" stroke-width="0.4"/>
<path d="M375.1 622.5l4.5-.3-4-.5-4.5 .3zM405 623.9l4.3-.2-4.2-.6-4.3 .2z" fill="#00de12" stroke="#00de12" stroke-width="0.4"/>
<path d="M366.5 622.3l4.6-.3-4-.5-4.5 .4zM358 622.2l4.6-.3-4-.5-4.6 .4zM349.4 622.1l4.6-.3-3.8-.5-4.7 .4zM340.8 622.1l4.7-.4-3.8-.4-4.7 .4zM332.3 622.1l4.7-.4-3.8-.3-4.7 .4zM396.4 623.5l4.4-.2-4.2-.5-4.4 .2zM417.9 624.9l4.3-.2-4.3-.6-4.3 .2zM439.6 626.5l4.2-.1-4.4-.6-4.2 .1zM452.8 627.8l4.2 0-4.6-.8-4.1 .1zM466.2 629.2l4.1 0-4.7-.8-4 .1zM479.7 630.7l4 0-4.7-.8-4 0z" fill="#00d812" stroke="#00d812" stroke-width="0.4"/>
<path d="M387.8 623.2l4.4-.2-4.1-.5-4.5 .2zM409.2 624.5l4.4-.2-4.3-.6-4.3 .2zM430.9 626l4.3-.1-4.4-.7-4.3 .2z" fill="#00d20c" stroke="#00d20c" stroke-width="0.4"/>
<path d="M379.1 623l4.5-.3-4-.5-4.5 .3zM444.1 627.2l4.2-.1-4.5-.7-4.2 .1z" fill="#00d206" stroke="#00d206" stroke-width="0.4"/>
<path d="M370.5 622.7l4.6-.2-4-.5-4.6 .3zM361.9 622.6l4.6-.3-3.9-.4-4.6 .3zM400.6 624.1l4.4-.2-4.2-.6-4.4 .2zM422.2 625.5l4.3-.1-4.3-.7-4.3 .2zM457.4 628.5l4.2 0-4.6-.7-4.2 0zM470.9 630l4.1-.1-4.7-.7-4.1 0z" fill="#00cc06" stroke="#00cc06" stroke-width="0.4"/>
<path d="M353.3 622.5l4.7-.3-4-.4-4.6 .3zM344.7 622.4l4.7-.3-3.9-.4-4.7 .4zM336.1 622.4l4.7-.3-3.8-.4-4.7 .4z" fill="#00cc00" stroke="#00cc00" stroke-width="0.4"/>
<path d="M391.9 623.7l4.5-.2-4.2-.5-4.4 .2zM383.3 623.4l4.5-.2-4.2-.5-4.5 .3zM374.6 623.2l4.5-.2-4-.5-4.6 .2zM365.9 623l4.6-.3-4-.4-4.6 .3zM357.3 622.9l4.6-.3-3.9-.4-4.7 .3zM348.6 622.8l4.7-.3-3.9-.4-4.7 .3zM339.9 622.8l4.8-.4-3.9-.3-4.7 .3zM413.5 625l4.4-.1-4.3-.6-4.4 .2zM404.8 624.6l4.4-.1-4.2-.6-4.4 .2zM396.1 624.3l4.5-.2-4.2-.6-4.5 .2zM387.4 623.9l4.5-.2-4.1-.5-4.5 .2zM378.7 623.7l4.6-.3-4.2-.4-4.5 .2zM370 623.4l4.6-.2-4.1-.5-4.6 .3zM361.3 623.3l4.6-.3-4-.4-4.6 .3zM352.6 623.2l4.7-.3-4-.4-4.7 .3zM343.8 623.1l4.8-.3-3.9-.4-4.8 .4zM435.4 626.6l4.2-.1-4.4-.6-4.3 .1zM426.6 626.1l4.3-.1-4.4-.6-4.3 .1zM417.9 625.6l4.3-.1-4.3-.6-4.4 .1zM409.1 625.2l4.4-.2-4.3-.5-4.4 .1zM400.4 624.8l4.4-.2-4.2-.5-4.5 .2zM391.6 624.4l4.5-.1-4.2-.6-4.5 .2zM382.8 624.1l4.6-.2-4.1-.5-4.6 .3zM374.1 623.9l4.6-.2-4.1-.5-4.6 .2zM365.3 623.7l4.7-.3-4.1-.4-4.6 .3zM356.6 623.5l4.7-.2-4-.4-4.7 .3zM347.8 623.4l4.8-.2-4-.4-4.8 .3zM448.7 627.9l4.1-.1-4.5-.7-4.2 .1zM439.9 627.3l4.2-.1-4.5-.7-4.2 .1zM431.1 626.7l4.3-.1-4.5-.6-4.3 .1zM422.3 626.2l4.3-.1-4.4-.6-4.3 .1zM413.5 625.7l4.4-.1-4.4-.6-4.4 .2zM404.7 625.3l4.4-.1-4.3-.6-4.4 .2zM395.9 624.9l4.5-.1-4.3-.5-4.5 .1zM387 624.6l4.6-.2-4.2-.5-4.6 .2zM378.2 624.3l4.6-.2-4.1-.4-4.6 .2zM369.4 624.1l4.7-.2-4.1-.5-4.7 .3zM360.6 623.9l4.7-.2-4-.4-4.7 .2zM351.8 623.8l4.8-.3-4-.3-4.8 .2zM462.1 629.2l4.1 0-4.6-.7-4.2 0zM453.3 628.6l4.1-.1-4.6-.7-4.1 .1zM444.4 627.9l4.3 0-4.6-.7-4.2 .1zM435.6 627.4l4.3-.1-4.5-.7-4.3 .1zM426.7 626.8l4.4-.1-4.5-.6-4.3 .1zM417.9 626.3l4.4-.1-4.4-.6-4.4 .1zM409 625.8l4.5-.1-4.4-.5-4.4 .1zM400.2 625.4l4.5-.1-4.3-.5-4.5 .1zM391.3 625.1l4.6-.2-4.3-.5-4.6 .2zM382.4 624.8l4.6-.2-4.2-.5-4.6 .2zM373.6 624.5l4.6-.2-4.1-.4-4.7 .2zM364.7 624.3l4.7-.2-4.1-.4-4.7 .2zM355.8 624.1l4.8-.2-4-.4-4.8 .3zM475.7 630.7l4 0-4.7-.8-4.1 .1zM466.8 630l4.1 0-4.7-.8-4.1 0zM457.9 629.3l4.2-.1-4.7-.7-4.1 .1zM449 628.6l4.3 0-4.6-.7-4.3 0zM440.1 628l4.3-.1-4.5-.6-4.3 .1zM431.2 627.4l4.4 0-4.5-.7-4.4 .1zM422.3 626.9l4.4-.1-4.4-.6-4.4 .1zM413.4 626.4l4.5-.1-4.4-.6-4.5 .1zM404.5 625.9l4.5-.1-4.3-.5-4.5 .1zM395.6 625.5l4.6-.1-4.3-.5-4.6 .2zM386.7 625.2l4.6-.1-4.3-.5-4.6 .2zM377.8 624.9l4.6-.1-4.2-.5-4.6 .2zM368.8 624.7l4.8-.2-4.2-.4-4.7 .2zM359.9 624.5l4.8-.2-4.1-.4-4.8 .2zM471.5 630.7l4.2 0-4.8-.7-4.1 0zM462.6 630l4.2 0-4.7-.8-4.2 .1zM453.7 629.3l4.2 0-4.6-.7-4.3 0zM444.7 628.6l4.3 0-4.6-.7-4.3 .1zM435.8 628l4.3 0-4.5-.6-4.4 0zM426.8 627.4l4.4 0-4.5-.6-4.4 .1zM417.9 626.9l4.4 0-4.4-.6-4.5 .1zM408.9 626.5l4.5-.1-4.4-.6-4.5 .1zM399.9 626l4.6-.1-4.3-.5-4.6 .1zM391 625.7l4.6-.2-4.3-.4-4.6 .1zM382 625.3l4.7-.1-4.3-.4-4.6 .1zM373 625.1l4.8-.2-4.2-.4-4.8 .2zM364.1 624.8l4.7-.1-4.1-.4-4.8 .2zM467.4 630.7l4.1 0-4.7-.7-4.2 0zM458.4 629.9l4.2 .1-4.7-.7-4.2 0zM449.4 629.3l4.3 0-4.7-.7-4.3 0zM440.4 628.6l4.3 0-4.6-.6-4.3 0zM431.4 628l4.4 0-4.6-.6-4.4 0zM422.4 627.5l4.4-.1-4.5-.5-4.4 0zM413.4 627l4.5-.1-4.5-.5-4.5 .1zM404.3 626.5l4.6 0-4.4-.6-4.6 .1zM395.3 626.1l4.6-.1-4.3-.5-4.6 .2zM386.3 625.8l4.7-.1-4.3-.5-4.7 .1zM377.3 625.5l4.7-.2-4.2-.4-4.8 .2zM368.2 625.2l4.8-.1-4.2-.4-4.7 .1zM463.2 630.6l4.2 .1-4.8-.7-4.2-.1zM454.1 629.9l4.3 0-4.7-.6-4.3 0zM445.1 629.3l4.3 0-4.7-.7-4.3 0zM436 628.6l4.4 0-4.6-.6-4.4 0zM426.9 628l4.5 0-4.6-.6-4.4 .1zM417.9 627.5l4.5 0-4.5-.6-4.5 .1zM408.8 627l4.6 0-4.5-.5-4.6 0zM399.7 626.6l4.6-.1-4.4-.5-4.6 .1zM390.6 626.2l4.7-.1-4.3-.4-4.7 .1zM381.6 625.9l4.7-.1-4.3-.5-4.7 .2zM372.5 625.6l4.8-.1-4.3-.4-4.8 .1zM458.9 630.6l4.3 0-4.8-.7-4.3 0zM449.8 629.9l4.3 0-4.7-.6-4.3 0zM440.7 629.2l4.4 .1-4.7-.7-4.4 0zM431.6 628.6l4.4 0-4.6-.6-4.5 0zM422.4 628l4.5 0-4.5-.5-4.5 0zM413.3 627.5l4.6 0-4.5-.5-4.6 0zM404.2 627l4.6 0-4.5-.5-4.6 .1zM395 626.6l4.7 0-4.4-.5-4.7 .1zM385.9 626.3l4.7-.1-4.3-.4-4.7 .1zM376.8 625.9l4.8 0-4.3-.4-4.8 .1zM454.6 630.5l4.3 .1-4.8-.7-4.3 0zM445.4 629.8l4.4 .1-4.7-.6-4.4-.1zM436.2 629.2l4.5 0-4.7-.6-4.4 0zM427.1 628.6l4.5 0-4.7-.6-4.5 0zM417.9 628l4.5 0-4.5-.5-4.6 0zM408.7 627.5l4.6 0-4.5-.5-4.6 0zM399.5 627.1l4.7-.1-4.5-.4-4.7 0zM390.3 626.7l4.7-.1-4.4-.4-4.7 .1zM381.1 626.3l4.8 0-4.3-.4-4.8 0zM450.2 630.4l4.4 .1-4.8-.6-4.4-.1zM441 629.8l4.4 0-4.7-.6-4.5 0zM431.7 629.1l4.5 .1-4.6-.6-4.5 0zM422.5 628.5l4.6 .1-4.7-.6-4.5 0zM413.3 628l4.6 0-4.6-.5-4.6 0zM404 627.5l4.7 0-4.5-.5-4.7 .1zM394.8 627.1l4.7 0-4.5-.5-4.7 .1zM385.5 626.7l4.8 0-4.4-.4-4.8 0zM445.7 630.4l4.5 0-4.8-.6-4.4 0zM436.5 629.7l4.5 .1-4.8-.6-4.5-.1zM427.2 629.1l4.5 0-4.6-.5-4.6-.1zM417.9 628.5l4.6 0-4.6-.5-4.6 0zM408.6 628l4.7 0-4.6-.5-4.7 0zM399.3 627.5l4.7 0-4.5-.4-4.7 0zM390 627.1l4.8 0-4.5-.4-4.8 0zM441.3 630.3l4.4 .1-4.7-.6-4.5-.1zM431.9 629.6l4.6 .1-4.8-.6-4.5 0zM422.5 629l4.7 .1-4.7-.6-4.6 0zM413.2 628.4l4.7 .1-4.6-.5-4.7 0zM403.8 627.9l4.8 .1-4.6-.5-4.7 0zM394.5 627.5l4.8 0-4.5-.4-4.8 0zM436.7 630.1l4.6 .2-4.8-.6-4.6-.1zM427.3 629.5l4.6 .1-4.7-.5-4.7-.1zM417.9 628.9l4.6 .1-4.6-.5-4.7-.1zM408.5 628.4l4.7 0-4.6-.4-4.8-.1zM399 627.9l4.8 0-4.5-.4-4.8 0zM432.1 630l4.6 .1-4.8-.5-4.6-.1zM422.6 629.4l4.7 .1-4.8-.5-4.6-.1zM413.1 628.8l4.8 .1-4.7-.5-4.7 0zM403.6 628.3l4.9 .1-4.7-.5-4.8 0zM427.4 629.8l4.7 .2-4.8-.5-4.7-.1zM417.9 629.2l4.7 .2-4.7-.5-4.8-.1zM408.3 628.7l4.8 .1-4.6-.4-4.9-.1zM422.7 629.7l4.7 .1-4.8-.4-4.7-.2zM413.1 629.1l4.8 .1-4.8-.4-4.8-.1zM417.9 629.5l4.8 .2-4.8-.5-4.8-.1z" fill="#00c600" stroke="#00c600" stroke-width="0.4"/>
<path d="M417.9 629.5l4.8 .2 4.7 .1 4.7 .2 4.6 .1 4.6 .2 4.4 .1 4.5 0 4.4 .1 4.3 .1 4.3 0 4.2 .1 4.1 0 4.2 0 4 0 4 0 4 0 3.9-.1 3.9 0 3.8-.1 3.8-.1 3.8-.1 3.7 0 3.6-.2 3.6-.1 3.6-.1M417.9 629.5l-4.8-.4-4.8-.4-4.7-.4-4.6-.4-4.5-.4-4.5-.4-4.5-.4-4.4-.4-4.3-.4-4.3-.3-4.3-.4-4.1-.4-4.2-.3-4.1-.4-4-.3-4-.4-4-.3-3.9-.3-3.8-.4-3.8-.3-3.8-.3-3.7-.4-3.7-.3-3.6-.3-3.6-.3M413.1 629.1l4.8 .1 4.7 .2 4.7 .1 4.6 .1 4.6 .1 4.5 .1 4.4 0 4.4 .1 4.3 0 4.3 0 4.2 .1 4.2 0 4.1 0 4.1-.1 4 0 4 0 3.9-.1 3.9-.1 3.8 0 3.8-.1 3.8-.1 3.7-.1 3.6-.2 3.7-.1 3.6-.1M422.7 629.7l-4.8-.5-4.8-.4-4.6-.4-4.7-.5-4.5-.4-4.5-.4-4.5-.4-4.4-.4-4.3-.4-4.3-.4-4.3-.4-4.2-.4-4.1-.4-4.1-.4-4-.4-4-.3-4-.4-3.9-.4-3.9-.3-3.8-.4-3.8-.3-3.7-.4-3.7-.3-3.6-.4-3.6-.3M408.3 628.7l4.8 .1 4.8 .1 4.6 .1 4.7 .1 4.5 0 4.5 .1 4.5 0 4.4 .1 4.3 0 4.3 0 4.2 0 4.2-.1 4.1 0 4.1 0 4-.1 4 0 3.9-.1 3.9-.1 3.9-.1 3.8-.1 3.7-.1 3.7-.1 3.7-.2 3.6-.1 3.6-.2M427.4 629.8l-4.8-.4-4.7-.5-4.7-.5-4.6-.4-4.6-.5-4.5-.4-4.5-.5-4.4-.4-4.3-.4-4.3-.5-4.2-.4-4.2-.4-4.2-.4-4.1-.4-4-.4-4-.4-4-.4-3.9-.4-3.9-.4-3.8-.4-3.8-.4-3.7-.3-3.7-.4-3.7-.4-3.6-.3M403.6 628.3l4.9 .1 4.7 0 4.7 .1 4.6 0 4.6 .1 4.5 0 4.4 0 4.4 0 4.3 0 4.3 0 4.3 0 4.1-.1 4.2 0 4-.1 4.1 0 4-.1 3.9-.1 3.9-.1 3.9-.1 3.8-.1 3.7-.2 3.8-.1 3.6-.2 3.7-.1 3.6-.2M432.1 630l-4.8-.5-4.8-.5-4.6-.5-4.6-.5-4.6-.5-4.5-.5-4.5-.4-4.4-.5-4.3-.4-4.3-.5-4.3-.4-4.2-.5-4.1-.4-4.1-.5-4.1-.4-4-.4-3.9-.4-4-.4-3.8-.5-3.9-.4-3.7-.4-3.8-.4-3.7-.3-3.7-.4-3.6-.4M399 627.9l4.8 0 4.8 .1 4.7 0 4.6 0 4.5 0 4.5 0 4.5 0 4.4 0 4.3 0 4.3-.1 4.3 0 4.1-.1 4.2 0 4.1-.1 4-.1 4-.1 3.9-.1 3.9-.1 3.9-.2 3.8-.1 3.8-.1 3.7-.2 3.7-.1 3.6-.2 3.7-.2M436.7 630.1l-4.8-.5-4.7-.5-4.7-.6-4.6-.5-4.6-.5-4.5-.5-4.5-.5-4.4-.5-4.3-.5-4.3-.4-4.3-.5-4.2-.5-4.1-.4-4.1-.5-4.1-.5-4-.4-3.9-.4-4-.5-3.8-.4-3.9-.4-3.8-.5-3.7-.4-3.7-.4-3.7-.4-3.6-.4M394.5 627.5l4.8 0 4.7 0 4.7 0 4.6 0 4.6 0 4.5 0 4.4-.1 4.4 0 4.4 0 4.3-.1 4.2-.1 4.2-.1 4.1-.1 4.1-.1 4.1-.1 4-.1 3.9-.1 3.9-.1 3.9-.2 3.8-.1 3.8-.2 3.7-.1 3.7-.2 3.7-.2 3.6-.2M441.3 630.3l-4.8-.6-4.8-.6-4.6-.5-4.7-.6-4.5-.5-4.5-.5-4.5-.5-4.4-.6-4.3-.5-4.3-.5-4.3-.5-4.2-.5-4.1-.5-4.2-.4-4-.5-4-.5-4-.5-3.9-.4-3.9-.5-3.8-.4-3.8-.5-3.8-.4-3.7-.4-3.7-.5-3.6-.4M390 627.1l4.8 0 4.7 0 4.7-.1 4.6 0 4.6 0 4.5-.1 4.4 0 4.4-.1 4.4-.1 4.3-.1 4.2-.1 4.2-.1 4.1-.1 4.1-.1 4.1-.1 4-.1 3.9-.2 4-.1 3.8-.2 3.9-.1 3.7-.2 3.8-.2 3.7-.2 3.6-.2 3.7-.2M445.7 630.4l-4.7-.6-4.8-.6-4.6-.6-4.7-.6-4.5-.5-4.5-.6-4.5-.5-4.4-.6-4.3-.5-4.3-.5-4.3-.5-4.2-.6-4.1-.5-4.2-.5-4-.5-4-.5-4-.5-3.9-.4-3.9-.5-3.9-.5-3.8-.5-3.7-.4-3.7-.5-3.7-.4-3.7-.5M385.5 626.7l4.8 0 4.7-.1 4.7 0 4.6-.1 4.6 0 4.5-.1 4.5-.1 4.4-.1 4.3-.1 4.3-.1 4.3-.1 4.2-.1 4.1-.2 4.1-.1 4.1-.1 4-.2 3.9-.1 3.9-.2 3.9-.2 3.8-.2 3.8-.1 3.8-.2 3.7-.2 3.6-.2 3.7-.2M450.2 630.4l-4.8-.6-4.7-.6-4.7-.6-4.6-.6-4.6-.6-4.5-.5-4.4-.6-4.4-.6-4.4-.5-4.3-.6-4.2-.5-4.2-.6-4.2-.5-4.1-.5-4.1-.5-4-.6-4-.5-3.9-.5-3.9-.5-3.8-.5-3.8-.5-3.8-.4-3.7-.5-3.7-.5-3.6-.5M381.1 626.3l4.8 0 4.7-.1 4.7-.1 4.6-.1 4.6-.1 4.5-.1 4.5-.1 4.4-.1 4.3-.1 4.3-.1 4.3-.2 4.2-.1 4.1-.2 4.1-.1 4.1-.2 4-.1 3.9-.2 4-.2 3.8-.2 3.9-.2 3.8-.2 3.7-.2 3.7-.2 3.7-.2 3.6-.2M454.6 630.5l-4.8-.6-4.7-.6-4.7-.7-4.6-.6-4.6-.6-4.5-.6-4.4-.6-4.4-.6-4.4-.6-4.3-.5-4.2-.6-4.2-.6-4.2-.5-4.1-.6-4.1-.5-4-.6-4-.5-3.9-.5-3.9-.5-3.8-.5-3.9-.6-3.7-.5-3.7-.5-3.7-.5-3.7-.4M376.8 625.9l4.8 0 4.7-.1 4.7-.1 4.6-.2 4.6-.1 4.5-.1 4.4-.1 4.4-.2 4.4-.1 4.3-.2 4.2-.1 4.2-.2 4.2-.1 4.1-.2 4-.2 4-.2 4-.2 3.9-.2 3.9-.2 3.9-.2 3.8-.2 3.7-.2 3.7-.2 3.7-.2 3.6-.3M458.9 630.6l-4.8-.7-4.7-.6-4.7-.7-4.6-.6-4.5-.6-4.5-.7-4.5-.6-4.4-.6-4.3-.6-4.3-.6-4.3-.6-4.2-.6-4.1-.6-4.2-.5-4-.6-4-.5-4-.6-4-.5-3.9-.6-3.8-.5-3.8-.5-3.8-.6-3.7-.5-3.7-.5-3.7-.5M372.5 625.6l4.8-.1 4.7-.2 4.7-.1 4.6-.1 4.6-.2 4.5-.1 4.4-.2 4.4-.1 4.4-.2 4.3-.2 4.2-.1 4.2-.2 4.2-.2 4.1-.2 4-.2 4.1-.2 3.9-.2 4-.2 3.8-.2 3.9-.2 3.8-.3 3.7-.2 3.8-.2 3.6-.3 3.7-.2M463.2 630.6l-4.8-.7-4.7-.6-4.7-.7-4.6-.7-4.5-.6-4.5-.7-4.5-.6-4.4-.6-4.3-.7-4.3-.6-4.3-.6-4.2-.6-4.1-.6-4.2-.6-4-.6-4-.5-4-.6-4-.6-3.9-.5-3.8-.6-3.8-.5-3.8-.6-3.7-.5-3.7-.5-3.7-.6M368.2 625.2l4.8-.1 4.8-.2 4.6-.1 4.6-.2 4.6-.2 4.5-.1 4.5-.2 4.4-.2 4.3-.2 4.3-.2 4.3-.2 4.2-.2 4.1-.2 4.1-.2 4.1-.2 4-.2 4-.2 3.9-.3 3.9-.2 3.9-.2 3.8-.3 3.7-.2 3.7-.2 3.7-.3 3.7-.2M467.4 630.7l-4.8-.7-4.7-.7-4.6-.7-4.6-.7-4.6-.7-4.5-.7-4.4-.6-4.4-.7-4.4-.6-4.3-.6-4.2-.7-4.2-.6-4.2-.6-4.1-.6-4.1-.6-4-.6-4-.6-3.9-.6-3.9-.6-3.9-.6-3.8-.5-3.8-.6-3.7-.5-3.7-.6-3.7-.5M364.1 624.8l4.7-.1 4.8-.2 4.6-.2 4.6-.2 4.6-.2 4.5-.2 4.5-.2 4.4-.2 4.3-.2 4.3-.2 4.3-.2 4.2-.2 4.1-.2 4.1-.3 4.1-.2 4-.2 4-.3 3.9-.2 3.9-.3 3.9-.2 3.8-.2 3.7-.3 3.8-.3 3.7-.2 3.6-.3M471.5 630.7l-4.7-.7-4.7-.8-4.7-.7-4.6-.7-4.5-.7-4.5-.7-4.4-.6-4.4-.7-4.4-.7-4.3-.6-4.2-.7-4.2-.6-4.2-.7-4.1-.6-4.1-.6-4-.6-4-.6-3.9-.6-3.9-.6-3.9-.6-3.8-.6-3.8-.6-3.7-.6-3.7-.5-3.7-.6M359.9 624.5l4.8-.2 4.7-.2 4.7-.2 4.6-.2 4.6-.3 4.5-.2 4.4-.2 4.4-.2 4.4-.3 4.3-.2 4.2-.2 4.2-.3 4.2-.2 4.1-.2 4-.3 4.1-.2 3.9-.3 4-.2 3.9-.3 3.8-.3 3.8-.2 3.8-.3 3.7-.3 3.7-.2 3.7-.3M475.7 630.7l-4.8-.7-4.7-.8-4.6-.7-4.6-.7-4.6-.8-4.5-.7-4.4-.7-4.4-.7-4.3-.6-4.3-.7-4.3-.7-4.2-.6-4.1-.7-4.1-.6-4.1-.7-4-.6-4-.6-4-.7-3.9-.6-3.8-.6-3.8-.6-3.8-.6-3.8-.6-3.7-.6-3.6-.5M355.8 624.1l4.8-.2 4.7-.2 4.7-.3 4.6-.2 4.5-.2 4.5-.3 4.5-.2 4.4-.3 4.3-.2 4.3-.3 4.3-.2 4.2-.3 4.2-.2 4.1-.3 4-.3 4.1-.2 3.9-.3 4-.3 3.9-.2 3.8-.3 3.8-.3 3.8-.3 3.7-.3 3.7-.2 3.7-.3M479.7 630.7l-4.7-.8-4.7-.7-4.7-.8-4.5-.7-4.6-.8-4.5-.7-4.4-.7-4.4-.7-4.3-.7-4.3-.7-4.3-.7-4.2-.7-4.1-.6-4.1-.7-4.1-.7-4-.6-4-.7-3.9-.6-3.9-.6-3.9-.7-3.8-.6-3.8-.6-3.8-.6-3.7-.6-3.6-.6M351.8 623.8l4.8-.3 4.7-.2 4.6-.3 4.6-.3 4.6-.2 4.5-.3 4.4-.2 4.4-.3 4.4-.3 4.3-.3 4.2-.2 4.2-.3 4.2-.3 4.1-.3 4.1-.2 4-.3 4-.3 3.9-.3 3.9-.3 3.9-.3 3.8-.3 3.8-.2 3.7-.3 3.7-.3 3.7-.3M483.7 630.7l-4.7-.8-4.7-.8-4.6-.7-4.6-.8-4.5-.8-4.5-.7-4.4-.7-4.4-.8-4.4-.7-4.3-.7-4.2-.7-4.2-.7-4.2-.7-4.1-.7-4-.6-4.1-.7-3.9-.7-4-.6-3.9-.7-3.8-.6-3.9-.6-3.7-.7-3.8-.6-3.7-.6-3.7-.6M347.8 623.4l4.8-.2 4.7-.3 4.6-.3 4.6-.3 4.6-.3 4.5-.3 4.4-.3 4.4-.3 4.4-.2 4.3-.3 4.2-.3 4.2-.3 4.2-.3 4.1-.3 4-.3 4.1-.3 4-.3 3.9-.3 3.9-.3 3.8-.3 3.9-.3 3.7-.3 3.8-.3 3.7-.3 3.6-.3M487.7 630.7l-4.7-.8-4.7-.8-4.6-.8-4.6-.8-4.5-.8-4.5-.7-4.4-.8-4.4-.7-4.4-.8-4.2-.7-4.3-.7-4.2-.7-4.1-.7-4.1-.7-4.1-.7-4-.7-4-.7-4-.7-3.9-.6-3.8-.7-3.8-.6-3.8-.7-3.8-.6-3.7-.6-3.7-.7M343.8 623.1l4.8-.3 4.7-.3 4.7-.3 4.6-.3 4.5-.4 4.5-.3 4.4-.3 4.4-.3 4.4-.3 4.3-.3 4.2-.3 4.2-.3 4.2-.3 4.1-.4 4.1-.3 4-.3 4-.3 3.9-.3 3.9-.3 3.9-.3 3.8-.4 3.8-.3 3.7-.3 3.7-.3 3.7-.3M491.6 630.6l-4.7-.8-4.7-.8-4.6-.8-4.6-.8-4.5-.8-4.5-.8-4.4-.7-4.4-.8-4.3-.8-4.3-.7-4.2-.7-4.2-.8-4.2-.7-4.1-.7-4-.7-4-.7-4-.7-4-.7-3.9-.7-3.8-.6-3.9-.7-3.7-.7-3.8-.6-3.7-.7-3.7-.6M339.9 622.8l4.8-.4 4.7-.3 4.6-.3 4.6-.4 4.6-.3 4.5-.3 4.4-.4 4.4-.3 4.3-.3 4.3-.4 4.3-.3 4.2-.3 4.1-.4 4.2-.3 4-.3 4-.4 4-.3 4-.3 3.9-.3 3.8-.4 3.9-.3 3.7-.3 3.8-.4 3.7-.3 3.7-.3M495.5 630.6l-4.7-.9-4.7-.8-4.6-.8-4.6-.8-4.5-.8-4.4-.8-4.5-.8-4.3-.8-4.4-.8-4.2-.7-4.3-.8-4.2-.7-4.1-.7-4.1-.8-4.1-.7-4-.7-4-.7-3.9-.7-3.9-.7-3.9-.7-3.8-.7-3.8-.6-3.8-.7-3.7-.7-3.6-.6M336.1 622.4l4.7-.3 4.7-.4 4.7-.4 4.6-.3 4.5-.4 4.5-.3 4.4-.4 4.4-.3 4.3-.4 4.3-.3 4.3-.4 4.2-.3 4.1-.4 4.2-.3 4-.4 4-.3 4-.4 4-.3 3.9-.3 3.8-.4 3.9-.3 3.7-.4 3.8-.3 3.7-.3 3.7-.4M499.3 630.5l-4.7-.8-4.6-.9-4.6-.8-4.6-.9-4.5-.8-4.5-.8-4.4-.8-4.4-.8-4.3-.8-4.3-.7-4.2-.8-4.2-.8-4.1-.7-4.1-.7-4.1-.8-4-.7-4-.7-3.9-.7-3.9-.7-3.9-.7-3.8-.7-3.8-.7-3.7-.7-3.8-.7-3.6-.6M332.3 622.1l4.7-.4 4.7-.4 4.6-.4 4.6-.3 4.6-.4 4.4-.4 4.5-.4 4.4-.3 4.3-.4 4.3-.4 4.2-.4 4.2-.3 4.2-.4 4.1-.4 4.1-.3 4-.4 4-.3 3.9-.4 3.9-.3 3.9-.4 3.8-.4 3.8-.3 3.7-.4 3.7-.3 3.7-.4M503.1 630.4l-4.7-.8-4.6-.9-4.6-.8-4.6-.9-4.5-.8-4.4-.8-4.5-.9-4.3-.8-4.3-.8-4.3-.7-4.2-.8-4.2-.8-4.2-.8-4.1-.7-4-.8-4.1-.7-3.9-.7-4-.8-3.9-.7-3.8-.7-3.9-.7-3.7-.7-3.8-.7-3.7-.7-3.7-.7M328.5 621.8l4.7-.4 4.7-.5 4.7-.4 4.5-.4 4.6-.4 4.4-.4 4.5-.4 4.3-.4 4.4-.3 4.3-.4 4.2-.4 4.2-.4 4.2-.4 4.1-.4 4-.3 4.1-.4 3.9-.4 4-.4 3.9-.3 3.8-.4 3.9-.4 3.8-.3 3.7-.4 3.7-.4 3.7-.3M506.9 630.3l-4.7-.8-4.7-.9-4.6-.9-4.5-.8-4.5-.9-4.5-.8-4.4-.8-4.3-.9-4.3-.8-4.3-.8-4.2-.8-4.2-.7-4.2-.8-4.1-.8-4-.8-4-.7-4-.8-3.9-.7-3.9-.7-3.9-.8-3.8-.7-3.8-.7-3.8-.7-3.7-.7-3.7-.7M324.8 621.4l4.7-.4 4.7-.4 4.6-.5 4.6-.4 4.5-.4 4.5-.4 4.4-.4 4.4-.5 4.3-.4 4.3-.4 4.2-.4 4.2-.4 4.2-.4 4.1-.4 4.1-.4 4-.4 4-.4 3.9-.3 3.9-.4 3.9-.4 3.8-.4 3.8-.4 3.7-.3 3.7-.4 3.7-.4M510.6 630.3l-4.7-.9-4.7-.9-4.5-.9-4.6-.9-4.5-.8-4.4-.9-4.4-.8-4.4-.9-4.3-.8-4.3-.8-4.2-.8-4.2-.8-4.1-.8-4.1-.8-4-.7-4.1-.8-3.9-.8-4-.7-3.9-.8-3.8-.7-3.8-.7-3.8-.8-3.8-.7-3.7-.7-3.7-.7M321.1 621.1l4.7-.4 4.7-.5 4.6-.4 4.6-.5 4.5-.4 4.5-.5 4.4-.4 4.4-.5 4.3-.4 4.3-.4 4.2-.4 4.2-.5 4.1-.4 4.1-.4 4.1-.4 4-.4 4-.4 3.9-.4 4-.4 3.8-.4 3.8-.4 3.8-.4 3.8-.4 3.7-.3 3.7-.4M514.2 630.1l-4.7-.9-4.6-.9-4.6-.9-4.5-.8-4.5-.9-4.4-.9-4.4-.8-4.4-.9-4.3-.8-4.2-.8-4.3-.8-4.1-.9-4.2-.8-4.1-.8-4-.7-4-.8-4-.8-3.9-.8-3.9-.7-3.9-.8-3.8-.7-3.8-.7-3.7-.8-3.7-.7-3.7-.7M317.5 620.8l4.7-.5 4.6-.5 4.6-.4 4.6-.5 4.5-.5 4.5-.4 4.4-.5 4.4-.5 4.3-.4 4.3-.4 4.2-.5 4.2-.4 4.1-.5 4.1-.4 4.1-.4 4-.4 4-.5 3.9-.4 3.9-.4 3.9-.4 3.8-.4 3.8-.4 3.8-.4 3.7-.4 3.6-.4M517.8 630l-4.6-.9-4.7-.9-4.5-.9-4.6-.9-4.4-.9-4.5-.9-4.4-.8-4.3-.9-4.3-.8-4.3-.9-4.2-.8-4.1-.8-4.2-.8-4.1-.8-4-.8-4-.8-4-.8-3.9-.8-3.9-.7-3.9-.8-3.8-.8-3.8-.7-3.7-.7-3.7-.8-3.7-.7M313.9 620.5l4.7-.5 4.6-.5 4.6-.5 4.6-.5 4.5-.5 4.4-.5 4.5-.5 4.3-.4 4.3-.5 4.3-.5 4.2-.4 4.2-.5 4.2-.4 4.1-.5 4-.4 4-.5 4-.4 4-.4 3.9-.4 3.8-.5 3.8-.4 3.8-.4 3.8-.4 3.7-.4 3.7-.4M521.4 629.9l-4.6-.9-4.7-1-4.5-.9-4.5-.9-4.5-.9-4.4-.9-4.4-.8-4.4-.9-4.3-.9-4.2-.8-4.2-.8-4.2-.9-4.1-.8-4.1-.8-4-.8-4.1-.8-3.9-.8-3.9-.8-3.9-.8-3.9-.8-3.8-.7-3.8-.8-3.7-.7-3.8-.8-3.6-.7" fill="none" stroke="#000" stroke-opacity="0.3" stroke-width="0.4"/>
<circle cx="417.6" cy="624.5" r="2.35" fill="#e2121c"/>
<circle cx="520.9" cy="629.9" r="2.35" fill="#e2121c"/>
<path d="M310.1 561.3h1.9v1.9h-1.9zM311 578.6h1.9v1.9h-1.9zM311.8 596.4h1.9v1.9h-1.9zM312.6 613.8h1.9v1.9h-1.9zM313.5 631h1.9v1.9h-1.9zM314.3 648.3h1.9v1.9h-1.9zM315.1 665.6h1.9v1.9h-1.9zM416.8 747.1h1.9v1.9h-1.9zM436.8 737.6h1.9v1.9h-1.9zM396.8 737.6h1.9v1.9h-1.9zM456.8 728.1h1.9v1.9h-1.9zM376.8 728.1h1.9v1.9h-1.9zM476.9 718.6h1.9v1.9h-1.9zM356.8 718.6h1.9v1.9h-1.9zM496.9 709.1h1.9v1.9h-1.9zM336.8 709.1h1.9v1.9h-1.9zM516.9 699.5h1.9v1.9h-1.9zM316.8 699.6h1.9v1.9h-1.9z" fill="#111"/>
<g font-size="7.05" fill="#333"><text x="307.3" y="560.8" text-anchor="end" font-size="6.7">8</text><text x="308.1" y="578.1" text-anchor="end" font-size="6.7">7</text><text x="309" y="595.9" text-anchor="end" font-size="6.7">6</text><text x="309.8" y="613.2" text-anchor="end" font-size="6.7">5</text><text x="310.6" y="630.5" text-anchor="end" font-size="6.7">4</text><text x="311.5" y="647.8" text-anchor="end" font-size="6.7">3</text><text x="312.3" y="665.1" text-anchor="end" font-size="6.7">2</text><text x="425.7" y="756.2" text-anchor="middle" font-size="6.7">10</text><text x="445.8" y="746.7" text-anchor="middle" font-size="6.7">12</text><text x="465.8" y="737.2" text-anchor="middle" font-size="6.7">14</text><text x="485.8" y="727.6" text-anchor="middle" font-size="6.7">16</text><text x="505.9" y="718.1" text-anchor="middle" font-size="6.7">18</text><text x="525.9" y="708.6" text-anchor="middle" font-size="6.7">20</text><text x="411.6" y="755.9" text-anchor="middle" font-size="6.7">5</text><text x="391.6" y="746.4" text-anchor="middle" font-size="6.7">6</text><text x="371.6" y="736.9" text-anchor="middle" font-size="6.7">7</text><text x="351.6" y="727.4" text-anchor="middle" font-size="6.7">8</text><text x="331.6" y="717.9" text-anchor="middle" font-size="6.7">9</text><text x="307.4" y="708.4" text-anchor="middle" font-size="6.7">10</text><text x="506.6" y="746" text-anchor="middle">A: S 60 Conc. (mg/mL)</text><text x="328.5" y="746.1" text-anchor="middle">B: T 60 Conc. (mg/mL)</text><text transform="translate(280.5 633.5) rotate(-90)" text-anchor="middle" font-size="7.05">DL (%)</text></g>
<text x="418.2" y="780" text-anchor="middle" font-family="'Liberation Serif',serif" font-weight="bold" font-size="22.5" letter-spacing="0.2" fill="#111">(f)</text></g>
<g id="pg"><path d="M45.7 827.3L152.3 803.6M152.3 803.6L259.4 827.3M46.6 844.6L152.4 819.1M152.4 819.1L258.5 844.6M47.4 862.2L152.4 834.9M152.4 834.9L257.6 862.2M48.2 879.5L152.5 850.4M152.5 850.4L256.8 879.5M49 896.8L152.6 865.9M152.6 865.9L255.9 896.7M49.9 914.1L152.6 881.3M152.6 881.3L255 914M50.7 931.6L152.7 897M152.7 897L254.2 931.5M254.2 931.5L259.4 826.8M71.1 924.7L67 822.1M233.9 924.6L238 822.1M91.5 917.8L88.3 817.4M213.6 917.7L216.6 817.4M111.9 910.8L109.7 812.6M193.3 910.8L195.1 812.6M132.3 903.9L131 807.9M173 903.9L173.7 807.9M152.7 897L152.3 803.2M52.3 965L45.7 826.8M252.5 964.9L259.4 826.8M152.8 926.9L152.7 897" fill="none" stroke="#b0b0b0" stroke-width="0.85"/>
<clipPath id="cfg"><polygon points="52.3,965 152.3,1012.5 252.5,964.9 152.8,926.9"/></clipPath>
<polygon points="52.3,965 152.3,1012.5 252.5,964.9 152.8,926.9" fill="#5e5e5e"/>
<g clip-path="url(#cfg)" fill="none" stroke-width="0.95" stroke-opacity="0.92"><path d="M69 972.6L84 953" stroke="#d09030"/><path d="M88 979Q102.6 956 123 938" stroke="#90c020"/><path d="M107 990.6Q123.3 961 150 940" stroke="#20c020"/><path d="M130 1002Q149.8 971.8 176 948" stroke="#10b090"/><path d="M157 1009Q179.5 973.4 215 952" stroke="#2090d0"/></g>
<circle cx="253.5" cy="926.6" r="2.1" fill="#f7c3c8" stroke="#f0a0aa" stroke-width="0.5"/>
<circle cx="151.5" cy="952.3" r="2.1" fill="#f7c3c8" stroke="#f0a0aa" stroke-width="0.5"/>
<path d="M152.5 845.2l3.7-.5-3.7-4.3-3.8 .5zM156.2 849.5l3.7-.6-3.7-4.2-3.7 .5zM148.7 845.7l3.8-.5-3.8-4.3-3.7 .4zM160 853.7l3.7-.6-3.8-4.2-3.7 .6zM152.5 850l3.7-.5-3.7-4.3-3.8 .5zM144.9 846.1l3.8-.4-3.7-4.4-3.8 .3zM163.8 857.8l3.7-.6-3.8-4.1-3.7 .6zM156.3 854.2l3.7-.5-3.8-4.2-3.7 .5zM148.7 850.4l3.8-.4-3.8-4.3-3.8 .4zM141.1 846.4l3.8-.3-3.7-4.5-3.9 .3zM167.6 861.8l3.7-.6-3.8-4-3.7 .6zM160.1 858.3l3.7-.5-3.8-4.1-3.7 .5zM152.5 854.6l3.8-.4-3.8-4.2-3.8 .4zM144.8 850.7l3.9-.3-3.8-4.3-3.8 .3zM137.2 846.6l3.9-.2-3.8-4.5-3.9 .2zM171.5 865.8l3.7-.7-3.9-3.9-3.7 .6zM163.9 862.4l3.7-.6-3.8-4-3.7 .5zM156.3 858.8l3.8-.5-3.8-4.1-3.8 .4zM148.6 855l3.9-.4-3.8-4.2-3.9 .3zM141 851l3.8-.3-3.7-4.3-3.9 .2zM133.3 846.7l3.9-.1-3.8-4.5-3.9 .1zM175.4 869.7l3.7-.8-3.9-3.8-3.7 .7zM167.8 866.4l3.7-.6-3.9-4-3.7 .6zM160.1 862.9l3.8-.5-3.8-4.1-3.8 .5zM152.5 859.3l3.8-.5-3.8-4.2-3.9 .4zM144.8 855.3l3.8-.3-3.8-4.3-3.8 .3zM137.1 851.2l3.9-.2-3.8-4.4-3.9 .1zM171.7 870.3l3.7-.6-3.9-3.9-3.7 .6zM164 867l3.8-.6-3.9-4-3.8 .5zM156.3 863.4l3.8-.5-3.8-4.1-3.8 .5zM148.6 859.6l3.9-.3-3.9-4.3-3.8 .3zM140.9 855.6l3.9-.3-3.8-4.3-3.9 .2zM133.1 851.3l4-.1-3.8-4.5-4 .1zM167.9 871l3.8-.7-3.9-3.9-3.8 .6zM160.2 867.5l3.8-.5-3.9-4.1-3.8 .5zM152.5 863.8l3.8-.4-3.8-4.1-3.9 .3zM144.7 859.9l3.9-.3-3.8-4.3-3.9 .3zM136.9 855.7l4-.1-3.8-4.4-4 .1zM129.1 851.3l4 0-3.8-4.5-4 0zM164.1 871.5l3.8-.5-3.9-4-3.8 .5zM156.4 867.9l3.8-.4-3.9-4.1-3.8 .4zM148.6 864.1l3.9-.3-3.9-4.2-3.9 .3zM140.8 860.1l3.9-.2-3.8-4.3-4 .1zM132.9 855.8l4-.1-3.8-4.4-4 0zM125.1 851.3l4 0-3.8-4.5-4-.1zM160.3 872l3.8-.5-3.9-4-3.8 .4zM152.5 868.3l3.9-.4-3.9-4.1-3.9 .3zM144.7 864.4l3.9-.3-3.9-4.2-3.9 .2zM136.8 860.2l4-.1-3.9-4.4-4 .1zM128.9 855.8l4 0-3.8-4.5-4 0zM156.4 872.4l3.9-.4-3.9-4.1-3.9 .4zM148.5 868.6l4-.3-3.9-4.2-3.9 .3zM140.7 864.5l4-.1-3.9-4.3-4 .1zM132.8 860.2l4 0-3.9-4.4-4 0zM124.8 855.7l4.1 .1-3.8-4.5-4.1-.1zM160.3 876.4l3.9-.5-3.9-3.9-3.9 .4zM152.5 872.7l3.9-.3-3.9-4.1-4 .3zM144.6 868.8l3.9-.2-3.8-4.2-4 .1zM136.7 864.6l4-.1-3.9-4.3-4 0zM128.7 860.2l4.1 0-3.9-4.4-4.1-.1zM120.7 855.6l4.1 .1-3.8-4.5-4.1-.2zM156.4 876.8l3.9-.4-3.9-4-3.9 .3zM148.5 873l4-.3-4-4.1-3.9 .2zM140.6 868.9l4-.1-3.9-4.3-4 .1zM132.6 864.6l4.1 0-3.9-4.4-4.1 0zM124.6 860.1l4.1 .1-3.9-4.5-4.1-.1zM116.6 855.3l4.1 .3-3.8-4.6-4.2-.3zM152.5 877.1l3.9-.3-3.9-4.1-4 .3zM144.5 873.2l4-.2-3.9-4.2-4 .1zM136.5 869l4.1-.1-3.9-4.3-4.1 0zM128.5 864.6l4.1 0-3.9-4.4-4.1-.1zM120.4 859.9l4.2 .2-3.9-4.5-4.1-.3zM148.5 877.3l4-.2-4-4.1-4 .2zM140.5 873.3l4-.1-3.9-4.3-4.1 .1zM132.4 869l4.1 0-3.9-4.4-4.1 0zM124.4 864.5l4.1 .1-3.9-4.5-4.2-.2zM116.2 859.7l4.2 .2-3.8-4.6-4.3-.3zM152.5 881.4l4-.3-4-4-4 .2zM144.4 877.5l4.1-.2-4-4.1-4 .1zM136.4 873.3l4.1 0-4-4.3-4.1 0zM128.3 868.9l4.1 .1-3.9-4.4-4.1-.1zM120.2 864.2l4.2 .3-4-4.6-4.2-.2zM112 859.3l4.2 .4-3.9-4.7-4.2-.4zM148.4 881.6l4.1-.2-4-4.1-4.1 .2zM140.4 877.6l4-.1-3.9-4.2-4.1 0zM132.3 873.3l4.1 0-4-4.3-4.1-.1zM124.1 868.8l4.2 .1-3.9-4.4-4.2-.3zM115.9 864l4.3 .2-4-4.5-4.2-.4zM144.4 881.8l4-.2-4-4.1-4 .1zM136.2 877.6l4.2 0-4-4.3-4.1 0zM128.1 873.2l4.2 .1-4-4.4-4.2-.1zM119.9 868.5l4.2 .3-3.9-4.6-4.3-.2zM111.6 863.6l4.3 .4-3.9-4.7-4.3-.4zM140.3 881.9l4.1-.1-4-4.2-4.2 0zM132.1 877.6l4.1 0-3.9-4.3-4.2-.1zM123.8 873l4.3 .2-4-4.4-4.2-.3zM115.6 868.2l4.3 .3-4-4.5-4.3-.4zM107.3 863.1l4.3 .5-3.9-4.7-4.4-.5zM144.3 886.1l4.1-.2-4-4.1-4.1 .1zM136.1 881.9l4.2 0-4.1-4.3-4.1 0zM127.8 877.5l4.3 .1-4-4.4-4.3-.2zM119.6 872.8l4.2 .2-3.9-4.5-4.3-.3zM111.2 867.8l4.4 .4-4-4.6-4.3-.5zM140.1 886.1l4.2 0-4-4.2-4.2 0zM131.9 881.8l4.2 .1-4-4.3-4.3-.1zM123.6 877.3l4.2 .2-4-4.5-4.2-.2zM115.2 872.4l4.4 .4-4-4.6-4.4-.4zM106.9 867.3l4.3 .5-3.9-4.7-4.4-.5zM135.9 886.1l4.2 0-4-4.2-4.2-.1zM127.6 881.7l4.3 .1-4.1-4.3-4.2-.2zM119.3 877l4.3 .3-4-4.5-4.4-.4zM110.9 872l4.3 .4-4-4.6-4.3-.5zM102.4 866.8l4.5 .5-4-4.7-4.5-.7zM140 890.3l4.2 0-4.1-4.2-4.2 0zM131.7 886l4.2 .1-4-4.3-4.3-.1zM123.3 881.5l4.3 .2-4-4.4-4.3-.3zM114.9 876.6l4.4 .4-4.1-4.6-4.3-.4zM106.4 871.5l4.5 .5-4-4.7-4.5-.5zM135.8 890.3l4.2 0-4.1-4.2-4.2-.1zM127.4 885.9l4.3 .1-4.1-4.3-4.3-.2zM118.9 881.2l4.4 .3-4-4.5-4.4-.4zM110.5 876.2l4.4 .4-4-4.6-4.5-.5zM101.9 870.9l4.5 .6-4-4.7-4.5-.7zM131.5 890.2l4.3 .1-4.1-4.3-4.3-.1zM123 885.6l4.4 .3-4.1-4.4-4.4-.3zM114.5 880.8l4.4 .4-4-4.6-4.4-.4zM106 875.7l4.5 .5-4.1-4.7-4.5-.6zM97.4 870.2l4.5 .7-4-4.8-4.5-.7zM135.6 894.5l4.3 0-4.1-4.2-4.3-.1zM127.1 890.1l4.4 .1-4.1-4.3-4.4-.3zM118.6 885.3l4.4 .3-4.1-4.4-4.4-.4zM110.1 880.3l4.4 .5-4-4.6-4.5-.5zM101.4 875.1l4.6 .6-4.1-4.8-4.5-.7zM131.3 894.4l4.3 .1-4.1-4.3-4.4-.1zM122.7 889.8l4.4 .3-4.1-4.5-4.4-.3zM114.2 885l4.4 .3-4.1-4.5-4.4-.5zM105.5 879.8l4.6 .5-4.1-4.6-4.6-.6zM96.8 874.4l4.6 .7-4-4.9-4.6-.7zM126.9 894.2l4.4 .2-4.2-4.3-4.4-.3zM118.3 889.5l4.4 .3-4.1-4.5-4.4-.3zM109.6 884.5l4.6 .5-4.1-4.7-4.6-.5zM100.9 879.2l4.6 .6-4.1-4.7-4.6-.7zM92.2 873.6l4.6 .8-4-4.9-4.7-.9zM131.1 898.6l4.4 .1-4.2-4.3-4.4-.2zM122.4 894l4.5 .2-4.2-4.4-4.4-.3zM113.8 889.1l4.5 .4-4.1-4.5-4.6-.5zM105.1 883.9l4.5 .6-4.1-4.7-4.6-.6zM96.3 878.5l4.6 .7-4.1-4.8-4.6-.8zM126.6 898.4l4.5 .2-4.2-4.4-4.5-.2zM117.9 893.7l4.5 .3-4.1-4.5-4.5-.4zM109.2 888.6l4.6 .5-4.2-4.6-4.5-.6zM100.4 883.3l4.7 .6-4.2-4.7-4.6-.7zM91.6 877.7l4.7 .8-4.1-4.9-4.7-.9zM122.1 898.1l4.5 .3-4.2-4.4-4.5-.3zM113.4 893.3l4.5 .4-4.1-4.6-4.6-.5zM104.6 888.1l4.6 .5-4.1-4.7-4.7-.6zM95.7 882.6l4.7 .7-4.1-4.8-4.7-.8zM126.4 902.6l4.5 .2-4.3-4.4-4.5-.3zM117.6 897.8l4.5 .3-4.2-4.4-4.5-.4zM108.8 892.8l4.6 .5-4.2-4.7-4.6-.5zM99.9 887.4l4.7 .7-4.2-4.8-4.7-.7zM91 881.8l4.7 .8-4.1-4.9-4.8-.9zM121.8 902.3l4.6 .3-4.3-4.5-4.5-.3zM113 897.4l4.6 .4-4.2-4.5-4.6-.5zM104.1 892.2l4.7 .6-4.2-4.7-4.7-.7zM95.2 886.7l4.7 .7-4.2-4.8-4.7-.8zM86.2 880.9l4.8 .9-4.2-5-4.8-1zM117.2 902l4.6 .3-4.2-4.5-4.6-.4zM108.3 896.9l4.7 .5-4.2-4.6-4.7-.6zM99.4 891.6l4.7 .6-4.2-4.8-4.7-.7zM90.3 885.9l4.9 .8-4.2-4.9-4.8-.9zM121.5 906.5l4.6 .2-4.3-4.4-4.6-.3zM112.6 901.6l4.6 .4-4.2-4.6-4.7-.5zM103.6 896.4l4.7 .5-4.2-4.7-4.7-.6zM94.6 890.9l4.8 .7-4.2-4.9-4.9-.8zM116.9 906.2l4.6 .3-4.3-4.5-4.6-.4zM107.9 901.1l4.7 .5-4.3-4.7-4.7-.5zM98.8 895.7l4.8 .7-4.2-4.8-4.8-.7zM121.2 910.7l4.6 .2-4.3-4.4-4.6-.3zM112.2 905.8l4.7 .4-4.3-4.6-4.7-.5zM103.1 900.5l4.8 .6-4.3-4.7-4.8-.7zM116.5 910.4l4.7 .3-4.3-4.5-4.7-.4zM107.4 905.3l4.8 .5-4.3-4.7-4.8-.6zM111.7 910l4.8 .4-4.3-4.6-4.8-.5zM116.1 914.6l4.8 .3-4.4-4.5-4.8-.4z" fill="#00fc00" stroke="#00fc00" stroke-width="0.4"/>
<path d="M129.3 846.8l4-.1-3.8-4.5-4 0zM121 851.2l4.1 .1-3.8-4.6-4.1-.2zM107.7 858.9l4.3 .4-3.9-4.7-4.3-.5zM97.9 866.1l4.5 .7-4-4.9-4.5-.7zM92.8 869.5l4.6 .7-4-4.8-4.7-.9z" fill="#0cfc00" stroke="#0cfc00" stroke-width="0.4"/>
<path d="M179.3 873.5l3.7-.8-3.9-3.8-3.7 .8z" fill="#00fc48" stroke="#00fc48" stroke-width="0.4"/>
<path d="M125.3 846.8l4 0-3.8-4.6-4 0zM116.9 851l4.1 .2-3.8-4.7-4.2-.2zM87.5 872.7l4.7 .9-4.1-5-4.7-.9z" fill="#18fc00" stroke="#18fc00" stroke-width="0.4"/>
<path d="M183.2 877.2l3.7-.8-3.9-3.7-3.7 .8zM134.8 915.4l4.5 0-4.4-4.2-4.5-.1zM129.7 923.8l4.7 .1-4.5-4.4-4.6-.1z" fill="#00fc78" stroke="#00fc78" stroke-width="0.4"/>
<path d="M175.6 874.2l3.7-.7-3.9-3.8-3.7 .6zM144.1 894.5l4.2-.1-4.1-4.1-4.2 0zM135.3 902.9l4.4 0-4.2-4.2-4.4-.1zM125.6 915.1l4.6 .2-4.4-4.4-4.6-.2z" fill="#00fc3c" stroke="#00fc3c" stroke-width="0.4"/>
<path d="M121.3 846.7l4 .1-3.8-4.6-4-.2zM108.1 854.6l4.2 .4-3.8-4.7-4.3-.5zM93.4 865.4l4.5 .7-4-4.9-4.5-.8zM88.1 868.6l4.7 .9-4.1-5-4.6-.9z" fill="#24fc00" stroke="#24fc00" stroke-width="0.4"/>
<path d="M187.2 880.9l3.7-.8-4-3.7-3.7 .8zM172.3 888l3.9-.6-4-3.7-3.9 .5zM164.6 893.3l4-.5-4.1-3.8-4 .4zM139.1 919.6l4.5 0-4.3-4.2-4.5 0zM134.2 928.1l4.6 0-4.4-4.2-4.7-.1z" fill="#00fc9c" stroke="#00fc9c" stroke-width="0.4"/>
<path d="M179.5 878l3.7-.8-3.9-3.7-3.7 .7zM168.3 884.2l3.9-.5-4-3.9-3.9 .5zM160.5 889.4l4-.4-4-3.9-4 .3zM148.3 898.6l4.2-.2-4.2-4-4.2 .1zM144 902.9l4.2-.1-4.1-4.1-4.3 0z" fill="#00fc72" stroke="#00fc72" stroke-width="0.4"/>
<path d="M171.8 874.8l3.8-.6-3.9-3.9-3.8 .7zM130.6 906.9l4.5 .1-4.2-4.2-4.5-.2z" fill="#00fc30" stroke="#00fc30" stroke-width="0.4"/>
<path d="M117.2 846.5l4.1 .2-3.8-4.7-4.1-.2zM103.8 854.1l4.3 .5-3.9-4.8-4.3-.5zM98.9 857.8l4.4 .6-3.9-4.9-4.4-.6zM93.9 861.2l4.5 .7-3.9-4.8-4.6-.8z" fill="#36fc00" stroke="#36fc00" stroke-width="0.4"/>
<path d="M191.2 884.5l3.7-.9-4-3.5-3.7 .8zM164.9 901.7l4-.4-4.2-3.8-4 .4zM148.1 919.5l4.4-.2-4.4-4-4.4 .1z" fill="#00fccc" stroke="#00fccc" stroke-width="0.4"/>
<path d="M183.5 881.7l3.7-.8-4-3.7-3.7 .8zM152.5 902.6l4.1-.2-4.1-4-4.2 .2zM148.2 906.9l4.3-.1-4.3-4-4.2 .1z" fill="#00fc96" stroke="#00fc96" stroke-width="0.4"/>
<path d="M175.8 878.7l3.7-.7-3.9-3.8-3.8 .6zM152.5 894.2l4.1-.2-4.1-4-4.1 .2zM139.5 907.1l4.4-.1-4.2-4.1-4.4 0zM134.9 911.2l4.5 0-4.3-4.2-4.5-.1zM129.9 919.5l4.7 .1-4.4-4.3-4.6-.2z" fill="#00fc6c" stroke="#00fc6c" stroke-width="0.4"/>
<path d="M168 875.4l3.8-.6-3.9-3.8-3.8 .5zM139.9 894.5l4.2 0-4.1-4.2-4.2 0zM135.5 898.7l4.3 0-4.2-4.2-4.3-.1z" fill="#00fc1e" stroke="#00fc1e" stroke-width="0.4"/>
<path d="M113 846.3l4.2 .2-3.8-4.7-4.2-.3z" fill="#48fc00" stroke="#48fc00" stroke-width="0.4"/>
<path d="M195.2 888l3.7-.9-4-3.5-3.7 .9zM180.5 895.4l3.8-.7-4.1-3.6-3.8 .6zM172.9 900.8l3.9-.5-4.1-3.7-4 .5zM152.5 923.5l4.4-.3-4.4-3.9-4.4 .2zM143.2 936.6l4.7-.1-4.6-4.2-4.6 .1z" fill="#00fcfc" stroke="#00fcfc" stroke-width="0.4"/>
<path d="M187.5 885.3l3.7-.8-4-3.6-3.7 .8zM176.4 891.7l3.8-.6-4-3.7-3.9 .6zM168.7 897.1l4-.5-4.1-3.8-4 .5zM143.5 923.8l4.5-.1-4.4-4.1-4.5 0z" fill="#00fcc0" stroke="#00fcc0" stroke-width="0.4"/>
<path d="M179.8 882.4l3.7-.7-4-3.7-3.7 .7zM168.4 888.5l3.9-.5-4-3.8-3.9 .5zM156.6 898.2l4.1-.3-4.1-3.9-4.1 .2zM143.8 911.2l4.4-.1-4.3-4.1-4.4 .1zM139.3 915.4l4.4 0-4.3-4.2-4.5 0zM134.4 923.9l4.6 0-4.4-4.3-4.7-.1z" fill="#00fc90" stroke="#00fc90" stroke-width="0.4"/>
<path d="M172 879.3l3.8-.6-4-3.9-3.8 .6zM144.1 898.7l4.2-.1-4.2-4.1-4.2 0zM139.7 902.9l4.3 0-4.2-4.2-4.3 0zM130.2 915.3l4.6 .1-4.4-4.3-4.6-.2zM125 923.7l4.7 .1-4.4-4.4-4.8-.2z" fill="#00fc60" stroke="#00fc60" stroke-width="0.4"/>
<path d="M164.2 875.9l3.8-.5-3.9-3.9-3.8 .5zM148.4 885.9l4.1-.2-4.1-4.1-4 .2zM126.1 906.7l4.5 .2-4.2-4.3-4.6-.3z" fill="#00fc0c" stroke="#00fc0c" stroke-width="0.4"/>
<path d="M108.9 845.9l4.1 .4-3.8-4.8-4.2-.4z" fill="#5afc00" stroke="#5afc00" stroke-width="0.4"/>
<path d="M199.3 891.5l3.7-1-4.1-3.4-3.7 .9zM173.3 909.2l4-.6-4.2-3.6-4.1 .5zM152.5 936.2l4.5-.3-4.5-4-4.6 .3zM147.8 945.2l4.7-.3-4.7-4.1-4.7 .2z" fill="#00c6fc" stroke="#00c6fc" stroke-width="0.4"/>
<path d="M191.5 888.9l3.7-.9-4-3.5-3.7 .8zM148 927.9l4.5-.2-4.5-4-4.5 .1z" fill="#00fcf6" stroke="#00fcf6" stroke-width="0.4"/>
<path d="M183.8 886.1l3.7-.8-4-3.6-3.7 .7zM172.5 892.3l3.9-.6-4.1-3.7-3.9 .5zM160.8 902.1l4.1-.4-4.2-3.8-4.1 .3zM148.1 915.3l4.4-.2-4.3-4-4.4 .1zM138.8 928.1l4.6-.1-4.4-4.1-4.6 0z" fill="#00fcb4" stroke="#00fcb4" stroke-width="0.4"/>
<path d="M176 883.1l3.8-.7-4-3.7-3.8 .6zM164.5 889l3.9-.5-4-3.8-3.9 .4zM152.5 898.4l4.1-.2-4.1-4-4.2 .2zM148.2 902.8l4.3-.2-4.2-4-4.2 .1zM143.9 907l4.3-.1-4.2-4-4.3 0zM134.6 919.6l4.5 0-4.3-4.2-4.6-.1zM129.5 928.1l4.7 0-4.5-4.3-4.7-.1z" fill="#00fc84" stroke="#00fc84" stroke-width="0.4"/>
<path d="M168.2 879.8l3.8-.5-4-3.9-3.8 .5zM152.5 890l4-.3-4-4-4.1 .2zM125.3 919.4l4.6 .1-4.3-4.4-4.7-.2z" fill="#00fc54" stroke="#00fc54" stroke-width="0.4"/>
<path d="M112.7 850.7l4.2 .3-3.9-4.7-4.1-.4z" fill="#2afc00" stroke="#2afc00" stroke-width="0.4"/>
<path d="M104.6 845.5l4.3 .4-3.9-4.8-4.2-.5zM79.3 862.6l4.8 1-4.1-5.1-4.7-1.1z" fill="#6cfc00" stroke="#6cfc00" stroke-width="0.4"/>
<path d="M203.4 894.8l3.6-1-4-3.3-3.7 1zM177.5 912.8l4.1-.6-4.3-3.6-4 .6zM165.6 926.7l4.3-.4-4.4-3.7-4.3 .3zM157 940.2l4.6-.4-4.6-3.9-4.5 .3zM152.5 949.3l4.6-.4-4.6-4-4.7 .3z" fill="#00a2fc" stroke="#00a2fc" stroke-width="0.4"/>
<path d="M195.6 892.4l3.7-.9-4.1-3.5-3.7 .9zM147.8 940.8l4.7-.3-4.6-4-4.7 .1z" fill="#00d2fc" stroke="#00d2fc" stroke-width="0.4"/>
<path d="M187.8 889.7l3.7-.8-4-3.6-3.7 .8zM165 905.9l4-.4-4.1-3.8-4.1 .4zM160.9 910.4l4.2-.3-4.2-3.8-4.2 .2zM156.8 914.9l4.2-.3-4.3-3.9-4.2 .2z" fill="#00fcf0" stroke="#00fcf0" stroke-width="0.4"/>
<path d="M180 886.8l3.8-.7-4-3.7-3.8 .7zM164.7 897.5l4-.4-4.1-3.8-4 .3zM143.6 919.6l4.5-.1-4.4-4.1-4.4 0z" fill="#00fcae" stroke="#00fcae" stroke-width="0.4"/>
<path d="M172.2 883.7l3.8-.6-4-3.8-3.8 .5zM156.6 894l4-.4-4.1-3.9-4 .3zM139.4 911.2l4.4 0-4.3-4.1-4.4-.1z" fill="#00fc7e" stroke="#00fc7e" stroke-width="0.4"/>
<path d="M164.3 880.3l3.9-.5-4-3.9-3.9 .5zM156.5 885.4l4-.3-4-4-4 .3zM139.8 898.7l4.3 0-4.2-4.2-4.3 0z" fill="#00fc42" stroke="#00fc42" stroke-width="0.4"/>
<path d="M108.5 850.3l4.2 .4-3.8-4.8-4.3-.4zM88.7 864.5l4.7 .9-4-5-4.7-.9z" fill="#3cfc00" stroke="#3cfc00" stroke-width="0.4"/>
<path d="M100.4 845l4.2 .5-3.8-4.9-4.3-.5zM80 858.5l4.7 1-4-5.1-4.7-1z" fill="#84fc00" stroke="#84fc00" stroke-width="0.4"/>
<path d="M207.5 898.1l3.7-1-4.2-3.3-3.6 1zM181.8 916.4l4-.7-4.2-3.5-4.1 .6zM178 921.1l4.1-.6-4.3-3.5-4.1 .5zM174.1 925.8l4.2-.6-4.4-3.6-4.2 .5zM170.1 930.5l4.2-.6-4.4-3.6-4.3 .4zM161.7 944.1l4.5-.5-4.6-3.8-4.6 .4z" fill="#0084fc" stroke="#0084fc" stroke-width="0.4"/>
<path d="M199.7 895.8l3.7-1-4.1-3.3-3.7 .9zM188.8 902.5l3.8-.8-4.2-3.4-3.8 .7zM181.3 908.1l3.9-.7-4.2-3.5-3.9 .6zM161.4 931.3l4.3-.4-4.4-3.8-4.4 .3z" fill="#00a8fc" stroke="#00a8fc" stroke-width="0.4"/>
<path d="M191.9 893.2l3.7-.8-4.1-3.5-3.7 .8zM169.2 909.7l4.1-.5-4.3-3.7-4 .4zM165.2 914.2l4.2-.4-4.3-3.7-4.2 .3zM161.1 918.8l4.2-.4-4.3-3.8-4.2 .3zM152.5 931.9l4.5-.2-4.5-4-4.5 .2z" fill="#00d8fc" stroke="#00d8fc" stroke-width="0.4"/>
<path d="M184 890.4l3.8-.7-4-3.6-3.8 .7zM168.9 901.3l4-.5-4.2-3.7-4 .4zM148 923.7l4.5-.2-4.4-4-4.5 .1z" fill="#00fce4" stroke="#00fce4" stroke-width="0.4"/>
<path d="M176.2 887.4l3.8-.6-4-3.7-3.8 .6zM160.7 897.9l4-.4-4.1-3.9-4 .4zM143.7 915.4l4.4-.1-4.3-4.1-4.4 0z" fill="#00fca2" stroke="#00fca2" stroke-width="0.4"/>
<path d="M160.4 880.8l3.9-.5-4-3.9-3.9 .4zM152.5 885.7l4-.3-4-4-4.1 .2zM120.5 919.2l4.8 .2-4.4-4.5-4.8-.3z" fill="#00fc2a" stroke="#00fc2a" stroke-width="0.4"/>
<path d="M112.3 855l4.3 .3-3.9-4.6-4.2-.4z" fill="#12fc00" stroke="#12fc00" stroke-width="0.4"/>
<path d="M104.2 849.8l4.3 .5-3.9-4.8-4.2-.5zM84.1 863.6l4.6 .9-4-5-4.7-1z" fill="#54fc00" stroke="#54fc00" stroke-width="0.4"/>
<path d="M96 844.4l4.4 .6-3.9-4.9-4.3-.7zM80.7 854.4l4.7 1-4-5.1-4.6-1z" fill="#96fc00" stroke="#96fc00" stroke-width="0.4"/>
<path d="M211.7 901.3l3.6-1.1-4.1-3.1-3.7 1zM208 902.3l3.7-1-4.2-3.2-3.7 1zM197.2 909.3l3.8-.9-4.2-3.3-3.8 .8zM189.8 915l3.9-.7-4.2-3.4-4 .7zM186.2 919.8l4-.7-4.4-3.4-4 .7zM178.6 929.4l4.1-.6-4.4-3.6-4.2 .6zM174.6 934.1l4.2-.6-4.5-3.6-4.2 .6zM170.4 938.9l4.4-.6-4.6-3.7-4.3 .5zM166.3 947.9l4.5-.5-4.6-3.8-4.5 .5z" fill="#006cfc" stroke="#006cfc" stroke-width="0.4"/>
<path d="M203.8 899.1l3.7-1-4.1-3.3-3.7 1zM193 905.9l3.8-.8-4.2-3.4-3.8 .8zM185.5 911.6l4-.7-4.3-3.5-3.9 .7zM165.9 935.1l4.3-.5-4.5-3.7-4.3 .4z" fill="#008afc" stroke="#008afc" stroke-width="0.4"/>
<path d="M196 896.7l3.7-.9-4.1-3.4-3.7 .8zM173.5 913.3l4-.5-4.2-3.6-4.1 .5zM169.5 918l4.2-.5-4.3-3.7-4.2 .4zM165.5 922.6l4.2-.5-4.4-3.7-4.2 .4zM157 935.9l4.5-.4-4.5-3.8-4.5 .2zM152.5 944.9l4.6-.4-4.6-4-4.7 .3z" fill="#00aefc" stroke="#00aefc" stroke-width="0.4"/>
<path d="M188.1 894l3.8-.8-4.1-3.5-3.8 .7zM173.1 905l4-.5-4.2-3.7-4 .5zM147.9 936.5l4.6-.3-4.6-4-4.6 .1z" fill="#00e4fc" stroke="#00e4fc" stroke-width="0.4"/>
<path d="M180.2 891.1l3.8-.7-4-3.6-3.8 .6z" fill="#00fcd2" stroke="#00fcd2" stroke-width="0.4"/>
<path d="M164.4 884.7l3.9-.5-4-3.9-3.9 .5zM156.5 889.7l4-.3-4-4-4 .3z" fill="#00fc66" stroke="#00fc66" stroke-width="0.4"/>
<path d="M156.5 881.1l3.9-.3-4-4-3.9 .3zM144.2 890.3l4.2-.1-4.1-4.1-4.2 0zM130.9 902.8l4.4 .1-4.2-4.3-4.5-.2z" fill="#00fc18" stroke="#00fc18" stroke-width="0.4"/>
<path d="M99.9 849.3l4.3 .5-3.8-4.8-4.4-.6zM89.9 856.3l4.6 .8-4-5-4.5-.8zM84.7 859.5l4.7 .9-4-5-4.7-1z" fill="#66fc00" stroke="#66fc00" stroke-width="0.4"/>
<path d="M91.6 843.7l4.4 .7-3.8-5-4.4-.7zM81.4 850.3l4.6 1-3.9-5.1-4.6-1z" fill="#c6fc00" stroke="#c6fc00" stroke-width="0.4"/>
<path d="M215.9 904.4l3.6-1.1-4.2-3.1-3.6 1.1zM212.2 905.5l3.7-1.1-4.2-3.1-3.7 1zM201.5 912.6l3.8-.9-4.3-3.3-3.8 .9zM194.1 918.4l4-.8-4.4-3.3-3.9 .7zM179.1 937.7l4.3-.7-4.6-3.5-4.2 .6zM175 942.5l4.4-.6-4.6-3.6-4.4 .6z" fill="#005afc" stroke="#005afc" stroke-width="0.4"/>
<path d="M200.1 900l3.7-.9-4.1-3.3-3.7 .9zM189.1 906.7l3.9-.8-4.2-3.4-3.9 .7zM177.8 917l4-.6-4.3-3.6-4 .5zM173.9 921.6l4.1-.5-4.3-3.6-4.2 .5zM169.9 926.3l4.2-.5-4.4-3.7-4.2 .5zM161.6 939.8l4.4-.4-4.5-3.9-4.5 .4zM157.1 948.9l4.7-.5-4.7-3.9-4.6 .4z" fill="#0090fc" stroke="#0090fc" stroke-width="0.4"/>
<path d="M192.2 897.5l3.8-.8-4.1-3.5-3.8 .8zM157 931.7l4.4-.4-4.5-3.9-4.4 .3zM152.5 940.5l4.5-.3-4.5-4-4.6 .3z" fill="#00bafc" stroke="#00bafc" stroke-width="0.4"/>
<path d="M184.3 894.7l3.8-.7-4.1-3.6-3.8 .7zM169 905.5l4.1-.5-4.2-3.7-4 .4zM156.8 919.1l4.3-.3-4.3-3.9-4.3 .2zM147.9 932.2l4.6-.3-4.5-4-4.6 .1zM143.1 941l4.7-.2-4.6-4.2-4.7 .2z" fill="#00f6fc" stroke="#00f6fc" stroke-width="0.4"/>
<path d="M160.5 885.1l3.9-.4-4-3.9-3.9 .3zM148.3 894.4l4.2-.2-4.1-4-4.2 .1zM135.1 907l4.4 .1-4.2-4.2-4.4-.1z" fill="#00fc5a" stroke="#00fc5a" stroke-width="0.4"/>
<path d="M95.5 848.6l4.4 .7-3.9-4.9-4.4-.7zM85.4 855.4l4.5 .9-3.9-5-4.6-1z" fill="#7efc00" stroke="#7efc00" stroke-width="0.4"/>
<path d="M87.2 842.9l4.4 .8-3.8-5-4.5-.9zM82.1 846.2l4.5 .9-3.9-5.1-4.5-1zM76.8 849.3l4.6 1-3.9-5.1-4.7-1.1z" fill="#fcfc00" stroke="#fcfc00" stroke-width="0.4"/>
<path d="M220.1 907.5l3.7-1.2-4.3-3-3.6 1.1zM216.5 908.6l3.6-1.1-4.2-3.1-3.7 1.1zM212.8 909.7l3.7-1.1-4.3-3.1-3.7 1zM205.8 915.8l3.8-1-4.3-3.1-3.8 .9zM201.9 916.7l3.9-.9-4.3-3.2-3.9 .8zM198.5 921.7l3.9-.9-4.3-3.2-4 .8zM195 926.6l4-.8-4.5-3.3-4 .8zM190.9 927.4l4.1-.8-4.5-3.3-4 .7zM187.2 932.2l4.1-.7-4.5-3.4-4.1 .7zM187.6 936.3l4.1-.7-4.5-3.4-4.2 .7zM183.4 937l4.2-.7-4.6-3.4-4.2 .6zM183.7 941.2l4.2-.7-4.5-3.5-4.3 .7zM179.7 946.1l4.3-.7-4.6-3.5-4.4 .6z" fill="#004efc" stroke="#004efc" stroke-width="0.4"/>
<path d="M204.3 903.3l3.7-1-4.2-3.2-3.7 .9zM193.3 910.1l3.9-.8-4.2-3.4-3.9 .8zM182.1 920.5l4.1-.7-4.4-3.4-4 .6zM178.3 925.2l4.1-.6-4.4-3.5-4.1 .5zM174.3 929.9l4.3-.5-4.5-3.6-4.2 .5z" fill="#0072fc" stroke="#0072fc" stroke-width="0.4"/>
<path d="M196.4 900.9l3.7-.9-4.1-3.3-3.8 .8zM181.6 912.2l3.9-.6-4.2-3.5-4 .5zM165.7 930.9l4.4-.4-4.5-3.8-4.3 .4zM157.1 944.5l4.6-.4-4.7-3.9-4.5 .3z" fill="#0096fc" stroke="#0096fc" stroke-width="0.4"/>
<path d="M188.4 898.3l3.8-.8-4.1-3.5-3.8 .7zM181 903.9l3.9-.7-4.2-3.5-3.9 .6zM169.4 913.8l4.1-.5-4.3-3.6-4.1 .4zM165.3 918.4l4.2-.4-4.3-3.8-4.2 .4zM161.2 922.9l4.3-.3-4.4-3.8-4.3 .3z" fill="#00c0fc" stroke="#00c0fc" stroke-width="0.4"/>
<path d="M99.4 853.5l4.4 .6-3.9-4.8-4.4-.7zM94.5 857.1l4.4 .7-3.9-4.9-4.5-.8zM89.4 860.4l4.5 .8-4-4.9-4.5-.9zM77.9 870.7l4.8 1.1-4.1-5.1-4.8-1.2z" fill="#4efc00" stroke="#4efc00" stroke-width="0.4"/>
<path d="M91.1 847.9l4.4 .7-3.9-4.9-4.4-.8zM86 851.3l4.5 .8-3.9-5-4.5-.9z" fill="#90fc00" stroke="#90fc00" stroke-width="0.4"/>
<path d="M82.7 842l4.5 .9-3.9-5.1-4.5-.9zM77.5 845.2l4.6 1-3.9-5.2-4.6-1z" fill="#fcde00" stroke="#fcde00" stroke-width="0.4"/>
<path d="M224.4 910.5l3.6-1.2-4.2-3-3.7 1.2zM217.7 916.8l3.7-1.1-4.3-3-3.8 1.1zM213.9 917.9l3.8-1.1-4.4-3-3.7 1zM210.1 918.9l3.8-1-4.3-3.1-3.8 1zM206.8 924l3.9-1-4.4-3.1-3.9 .9zM203.4 929l3.9-1-4.4-3.1-3.9 .9zM199.4 929.8l4-.8-4.4-3.2-4 .8zM195.8 934.8l4.1-.9-4.5-3.2-4.1 .8zM192.1 939.7l4.2-.8-4.6-3.3-4.1 .7zM192.5 943.9l4.2-.9-4.6-3.3-4.2 .8z" fill="#0042fc" stroke="#0042fc" stroke-width="0.4"/>
<path d="M208.5 906.5l3.7-1-4.2-3.2-3.7 1zM204.8 907.5l3.7-1-4.2-3.2-3.7 .9zM197.6 913.4l3.9-.8-4.3-3.3-3.9 .8zM190.2 919.1l3.9-.7-4.3-3.4-4 .7zM186.5 924l4-.7-4.3-3.5-4.1 .7zM182.7 928.8l4.1-.7-4.4-3.5-4.1 .6zM178.8 933.5l4.2-.6-4.4-3.5-4.3 .5zM174.8 938.3l4.3-.6-4.5-3.6-4.4 .5zM170.8 947.4l4.5-.6-4.7-3.7-4.4 .5z" fill="#0060fc" stroke="#0060fc" stroke-width="0.4"/>
<path d="M200.6 904.2l3.7-.9-4.2-3.3-3.7 .9zM185.8 915.7l4-.7-4.3-3.4-3.9 .6zM170.2 934.6l4.4-.5-4.5-3.6-4.4 .4zM166.2 943.6l4.4-.5-4.6-3.7-4.4 .4z" fill="#0078fc" stroke="#0078fc" stroke-width="0.4"/>
<path d="M192.6 901.7l3.8-.8-4.2-3.4-3.8 .8zM185.2 907.4l3.9-.7-4.2-3.5-3.9 .7zM173.7 917.5l4.1-.5-4.3-3.7-4.1 .5zM169.7 922.1l4.2-.5-4.4-3.6-4.2 .4zM161.5 935.5l4.4-.4-4.5-3.8-4.4 .4z" fill="#009cfc" stroke="#009cfc" stroke-width="0.4"/>
<path d="M184.6 899l3.8-.7-4.1-3.6-3.8 .7zM177.1 904.5l3.9-.6-4.2-3.6-3.9 .5zM156.9 927.4l4.4-.3-4.4-3.9-4.4 .3z" fill="#00ccfc" stroke="#00ccfc" stroke-width="0.4"/>
<path d="M176.6 896l3.9-.6-4.1-3.7-3.9 .6zM152.5 919.3l4.3-.2-4.3-4-4.4 .2zM143.3 932.3l4.6-.1-4.5-4.2-4.6 .1z" fill="#00fcea" stroke="#00fcea" stroke-width="0.4"/>
<path d="M168.6 892.8l3.9-.5-4.1-3.8-3.9 .5zM156.6 902.4l4.2-.3-4.2-3.9-4.1 .2zM152.5 906.8l4.2-.3-4.2-3.9-4.3 .2zM148.2 911.1l4.3-.2-4.3-4-4.3 .1zM139 923.9l4.5-.1-4.4-4.2-4.5 0zM134 932.5l4.7-.1-4.5-4.3-4.7 0z" fill="#00fca8" stroke="#00fca8" stroke-width="0.4"/>
<path d="M103.3 858.4l4.4 .5-3.9-4.8-4.4-.6zM98.4 861.9l4.5 .7-4-4.8-4.4-.7zM82 875.8l4.8 1-4.1-5-4.8-1.1z" fill="#1efc00" stroke="#1efc00" stroke-width="0.4"/>
<path d="M95 852.9l4.4 .6-3.9-4.9-4.4-.7zM78.6 866.7l4.8 1-4.1-5.1-4.8-1.1z" fill="#60fc00" stroke="#60fc00" stroke-width="0.4"/>
<path d="M86.6 847.1l4.5 .8-3.9-5-4.5-.9zM69.7 860.3l4.8 1.2-4-5.3-4.9-1.3z" fill="#c0fc00" stroke="#c0fc00" stroke-width="0.4"/>
<path d="M78.2 841l4.5 1-3.9-5.1-4.5-1.1z" fill="#fcba00" stroke="#fcba00" stroke-width="0.4"/>
<path d="M228.7 913.4l3.6-1.3-4.3-2.8-3.6 1.2zM225.1 914.6l3.6-1.2-4.3-2.9-3.7 1.1zM221.4 915.7l3.7-1.1-4.4-3-3.6 1.1zM218.3 920.9l3.7-1.1-4.3-3-3.8 1.1zM214.5 922l3.8-1.1-4.4-3-3.8 1zM210.7 923l3.8-1-4.4-3.1-3.8 1zM211.2 927.1l3.9-1.1-4.4-3-3.9 1zM207.3 928l3.9-.9-4.4-3.1-3.9 .9zM203.9 933l4-.9-4.5-3.1-4 .8zM199.9 933.9l4-.9-4.5-3.2-4 .9zM200.4 938l4-.9-4.5-3.2-4.1 .9zM196.3 938.9l4.1-.9-4.6-3.2-4.1 .8zM196.7 943l4.2-.9-4.6-3.2-4.2 .8z" fill="#003cfc" stroke="#003cfc" stroke-width="0.4"/>
<path d="M220.7 911.6l3.7-1.1-4.3-3-3.6 1.1zM217.1 912.7l3.6-1.1-4.2-3-3.7 1.1zM213.3 913.8l3.8-1.1-4.3-3-3.8 1zM209.6 914.8l3.7-1-4.3-3.1-3.7 1zM206.3 919.9l3.8-1-4.3-3.1-3.9 .9zM202.4 920.8l3.9-.9-4.4-3.2-3.8 .9zM202.9 924.9l3.9-.9-4.4-3.2-3.9 .9zM199 925.8l3.9-.9-4.4-3.2-4 .8zM195.4 930.7l4-.9-4.4-3.2-4.1 .8zM191.3 931.5l4.1-.8-4.5-3.3-4.1 .7zM191.7 935.6l4.1-.8-4.5-3.3-4.1 .7zM187.9 940.5l4.2-.8-4.5-3.4-4.2 .7zM188.3 944.7l4.2-.8-4.6-3.4-4.2 .7zM184 945.4l4.3-.7-4.6-3.5-4.3 .7z" fill="#0048fc" stroke="#0048fc" stroke-width="0.4"/>
<path d="M196.8 905.1l3.8-.9-4.2-3.3-3.8 .8zM189.5 910.9l3.8-.8-4.2-3.4-3.9 .7zM166 939.4l4.4-.5-4.5-3.8-4.4 .4zM161.8 948.4l4.5-.5-4.6-3.8-4.6 .4z" fill="#007efc" stroke="#007efc" stroke-width="0.4"/>
<path d="M180.7 899.7l3.9-.7-4.1-3.6-3.9 .6zM156.9 923.2l4.3-.3-4.4-3.8-4.3 .2z" fill="#00defc" stroke="#00defc" stroke-width="0.4"/>
<path d="M172.7 896.6l3.9-.6-4.1-3.7-3.9 .5zM160.9 906.3l4.1-.4-4.2-3.8-4.2 .3zM156.7 910.7l4.2-.3-4.2-3.9-4.2 .3zM152.5 915.1l4.3-.2-4.3-4-4.3 .2zM143.4 928l4.6-.1-4.5-4.1-4.5 .1zM138.5 936.8l4.7-.2-4.5-4.2-4.7 .1z" fill="#00fcd8" stroke="#00fcd8" stroke-width="0.4"/>
<path d="M90.5 852.1l4.5 .8-3.9-5-4.5-.8zM73.8 865.5l4.8 1.2-4.1-5.2-4.8-1.2z" fill="#78fc00" stroke="#78fc00" stroke-width="0.4"/>
<path d="M73.6 840l4.6 1-3.9-5.2-4.6-1.1z" fill="#fc9000" stroke="#fc9000" stroke-width="0.4"/>
<path d="M233.1 916.2l3.6-1.3-4.4-2.8-3.6 1.3zM229.4 917.4l3.7-1.2-4.4-2.8-3.6 1.2zM225.8 918.6l3.6-1.2-4.3-2.8-3.7 1.1zM222 919.8l3.8-1.2-4.4-2.9-3.7 1.1zM218.9 925l3.8-1.2-4.4-2.9-3.8 1.1zM215.1 926l3.8-1-4.4-3-3.8 1zM211.8 931.1l3.9-1-4.5-3-3.9 .9zM207.9 932.1l3.9-1-4.5-3.1-3.9 1zM208.5 936.1l3.9-1-4.5-3-4 .9zM204.4 937.1l4.1-1-4.6-3.1-4 .9zM205 941.2l4-1-4.6-3.1-4 .9zM200.9 942.1l4.1-.9-4.6-3.2-4.1 .9z" fill="#0036fc" stroke="#0036fc" stroke-width="0.4"/>
<path d="M209 910.7l3.8-1-4.3-3.2-3.7 1zM205.3 911.7l3.7-1-4.2-3.2-3.8 .9zM198.1 917.6l3.8-.9-4.3-3.3-3.9 .9zM194.5 922.5l4-.8-4.4-3.3-3.9 .7zM190.5 923.3l4-.8-4.3-3.4-4 .7zM186.8 928.1l4.1-.7-4.4-3.4-4.1 .6zM183 932.9l4.2-.7-4.5-3.4-4.1 .6zM179.4 941.9l4.3-.7-4.6-3.5-4.3 .6zM175.3 946.8l4.4-.7-4.7-3.6-4.4 .6z" fill="#0054fc" stroke="#0054fc" stroke-width="0.4"/>
<path d="M201 908.4l3.8-.9-4.2-3.3-3.8 .9zM193.7 914.3l3.9-.9-4.3-3.3-3.8 .8zM182.4 924.6l4.1-.6-4.4-3.5-4.1 .6zM170.6 943.1l4.4-.6-4.6-3.6-4.4 .5z" fill="#0066fc" stroke="#0066fc" stroke-width="0.4"/>
<path d="M184.9 903.2l3.9-.7-4.2-3.5-3.9 .7zM177.3 908.6l4-.5-4.2-3.6-4 .5zM161.3 927.1l4.3-.4-4.4-3.8-4.3 .3z" fill="#00b4fc" stroke="#00b4fc" stroke-width="0.4"/>
<path d="M176.8 900.3l3.9-.6-4.1-3.7-3.9 .6zM165.1 910.1l4.1-.4-4.2-3.8-4.1 .4zM161 914.6l4.2-.4-4.3-3.8-4.2 .3z" fill="#00f0fc" stroke="#00f0fc" stroke-width="0.4"/>
<path d="M160.6 893.6l4-.3-4.1-3.9-4 .3z" fill="#00fc8a" stroke="#00fc8a" stroke-width="0.4"/>
<path d="M102.9 862.6l4.4 .5-4-4.7-4.4-.6zM86.8 876.8l4.8 .9-4.1-5-4.8-.9z" fill="#06fc00" stroke="#06fc00" stroke-width="0.4"/>
<path d="M68.9 838.8l4.7 1.2-3.9-5.3-4.7-1.3z" fill="#fc6600" stroke="#fc6600" stroke-width="0.4"/>
<path d="M237.5 918.9l3.6-1.3-4.4-2.7-3.6 1.3zM233.8 920.2l3.7-1.3-4.4-2.7-3.7 1.2zM230.2 921.5l3.6-1.3-4.4-2.8-3.6 1.2zM226.5 922.7l3.7-1.2-4.4-2.9-3.8 1.2zM222.7 923.8l3.8-1.1-4.5-2.9-3.7 1.1zM223.4 927.9l3.8-1.2-4.5-2.9-3.8 1.2zM219.6 929l3.8-1.1-4.5-2.9-3.8 1zM215.7 930.1l3.9-1.1-4.5-3-3.9 1.1zM216.4 934.1l3.8-1.1-4.5-2.9-3.9 1zM212.4 935.1l4-1-4.6-3-3.9 1zM213 939.2l4-1.1-4.6-3-3.9 1zM209 940.2l4-1-4.5-3.1-4.1 1z" fill="#0030fc" stroke="#0030fc" stroke-width="0.4"/>
<path d="M148.4 890.2l4.1-.2-4.1-4.1-4.1 .2z" fill="#00fc36" stroke="#00fc36" stroke-width="0.4"/>
<path d="M72.8 844.1l4.7 1.1-3.9-5.2-4.7-1.2z" fill="#fcb400" stroke="#fcb400" stroke-width="0.4"/>
<path d="M64.2 837.5l4.7 1.3-3.9-5.4-4.7-1.3zM58.5 840.1l4.8 1.4-3.9-5.4-4.9-1.5z" fill="#fc5400" stroke="#fc5400" stroke-width="0.4"/>
<path d="M241.9 921.6l3.6-1.4-4.4-2.6-3.6 1.3zM246.4 924.2l3.6-1.4-4.5-2.6-3.6 1.4zM242.8 925.6l3.6-1.4-4.5-2.6-3.6 1.3zM239.1 926.9l3.7-1.3-4.5-2.7-3.7 1.3zM235.4 928.2l3.7-1.3-4.5-2.7-3.7 1.3zM231.7 929.5l3.7-1.3-4.5-2.7-3.7 1.2zM227.9 930.7l3.8-1.2-4.5-2.8-3.8 1.2zM232.5 933.4l3.7-1.3-4.5-2.6-3.8 1.2zM228.7 934.7l3.8-1.3-4.6-2.7-3.8 1.2zM224.8 935.8l3.9-1.1-4.6-2.8-3.9 1.1z" fill="#0024fc" stroke="#0024fc" stroke-width="0.4"/>
<path d="M68.1 842.9l4.7 1.2-3.9-5.3-4.7-1.3z" fill="#fc8a00" stroke="#fc8a00" stroke-width="0.4"/>
<path d="M59.4 836.1l4.8 1.4-3.9-5.4-4.8-1.5z" fill="#fc4200" stroke="#fc4200" stroke-width="0.4"/>
<path d="M238.3 922.9l3.6-1.3-4.4-2.7-3.7 1.3zM234.6 924.2l3.7-1.3-4.5-2.7-3.6 1.3zM230.9 925.5l3.7-1.3-4.4-2.7-3.7 1.2zM227.2 926.7l3.7-1.2-4.4-2.8-3.8 1.1zM224.1 931.9l3.8-1.2-4.5-2.8-3.8 1.1zM220.2 933l3.9-1.1-4.5-2.9-3.9 1.1zM220.9 937l3.9-1.2-4.6-2.8-3.8 1.1zM217 938.1l3.9-1.1-4.5-2.9-4 1z" fill="#002afc" stroke="#002afc" stroke-width="0.4"/>
<path d="M72.1 848.1l4.7 1.2-4-5.2-4.7-1.2z" fill="#fcd200" stroke="#fcd200" stroke-width="0.4"/>
<path d="M63.3 841.5l4.8 1.4-3.9-5.4-4.8-1.4zM57.6 844.1l4.9 1.5-4-5.5-4.9-1.5z" fill="#fc6000" stroke="#fc6000" stroke-width="0.4"/>
<path d="M54.5 834.6l4.9 1.5-3.9-5.5-4.9-1.5z" fill="#fc3000" stroke="#fc3000" stroke-width="0.4"/>
<path d="M250.9 926.7l3.6-1.5-4.5-2.4-3.6 1.4zM247.3 928.1l3.6-1.4-4.5-2.5-3.6 1.4zM243.6 929.5l3.7-1.4-4.5-2.5-3.7 1.3zM240 930.8l3.6-1.3-4.5-2.6-3.7 1.3zM236.2 932.1l3.8-1.3-4.6-2.6-3.7 1.3z" fill="#001efc" stroke="#001efc" stroke-width="0.4"/>
<path d="M76 853.4l4.7 1-3.9-5.1-4.7-1.2z" fill="#d2fc00" stroke="#d2fc00" stroke-width="0.4"/>
<path d="M67.3 846.9l4.8 1.2-4-5.2-4.8-1.4z" fill="#fca800" stroke="#fca800" stroke-width="0.4"/>
<path d="M49.6 833l4.9 1.6-3.9-5.5-4.9-1.7z" fill="#fc1e00" stroke="#fc1e00" stroke-width="0.4"/>
<path d="M71.3 852.2l4.7 1.2-3.9-5.3-4.8-1.2z" fill="#fcf000" stroke="#fcf000" stroke-width="0.4"/>
<path d="M62.5 845.6l4.8 1.3-4-5.4-4.8-1.4z" fill="#fc7e00" stroke="#fc7e00" stroke-width="0.4"/>
<path d="M53.6 838.6l4.9 1.5-4-5.5-4.9-1.6z" fill="#fc3c00" stroke="#fc3c00" stroke-width="0.4"/>
<path d="M75.3 857.4l4.7 1.1-4-5.1-4.7-1.2z" fill="#a8fc00" stroke="#a8fc00" stroke-width="0.4"/>
<path d="M66.5 850.9l4.8 1.3-4-5.3-4.8-1.3z" fill="#fcc600" stroke="#fcc600" stroke-width="0.4"/>
<path d="M156.7 906.5l4.2-.2-4.3-3.9-4.1 .2zM152.5 910.9l4.2-.2-4.2-3.9-4.3 .1z" fill="#00fcba" stroke="#00fcba" stroke-width="0.4"/>
<path d="M70.5 856.2l4.8 1.2-4-5.2-4.8-1.3z" fill="#e4fc00" stroke="#e4fc00" stroke-width="0.4"/>
<path d="M61.6 849.6l4.9 1.3-4-5.3-4.9-1.5z" fill="#fc9c00" stroke="#fc9c00" stroke-width="0.4"/>
<path d="M83.4 867.7l4.7 .9-4-5-4.8-1z" fill="#42fc00" stroke="#42fc00" stroke-width="0.4"/>
<path d="M74.5 861.5l4.8 1.1-4-5.2-4.8-1.2z" fill="#8afc00" stroke="#8afc00" stroke-width="0.4"/>
<path d="M65.6 854.9l4.9 1.3-4-5.3-4.9-1.3z" fill="#fce400" stroke="#fce400" stroke-width="0.4"/>
<path d="M82.7 871.8l4.8 .9-4.1-5-4.8-1z" fill="#30fc00" stroke="#30fc00" stroke-width="0.4"/>
<path d="M130.4 911.1l4.5 .1-4.3-4.3-4.5-.2z" fill="#00fc4e" stroke="#00fc4e" stroke-width="0.4"/>
<path d="M125.8 910.9l4.6 .2-4.3-4.4-4.6-.2z" fill="#00fc24" stroke="#00fc24" stroke-width="0.4"/>
<path d="M152.5 927.7l4.4-.3-4.4-3.9-4.5 .2z" fill="#00eafc" stroke="#00eafc" stroke-width="0.4"/>
<path d="M120.9 914.9l4.7 .2-4.4-4.4-4.7-.3z" fill="#00fc12" stroke="#00fc12" stroke-width="0.4"/>
<path d="M138.7 932.4l4.6-.1-4.5-4.2-4.6 0z" fill="#00fcc6" stroke="#00fcc6" stroke-width="0.4"/>
<path d="M152.5 949.3l4.6-.4 4.7-.5 4.5-.5 4.5-.5 4.5-.6 4.4-.7 4.3-.7 4.3-.7 4.2-.8 4.2-.9 4.2-.9 4.1-.9 4-1 4-1 4-1.1 3.9-1.1 3.9-1.2 3.9-1.1 3.8-1.3 3.7-1.3 3.8-1.3 3.6-1.3 3.7-1.4 3.6-1.4 3.6-1.5M152.5 949.3l-4.7-4.1-4.7-4.2-4.6-4.2-4.5-4.3-4.5-4.4-4.5-4.4-4.5-4.5-4.4-4.6-4.4-4.6-4.3-4.7-4.3-4.8-4.3-4.8-4.2-4.8-4.3-5-4.1-5-4.2-5.1-4.1-5.1-4.1-5.2-4.1-5.2-4.1-5.4-4-5.3-4-5.5-4-5.5-4-5.6-3.9-5.6M147.8 945.2l4.7-.3 4.6-.4 4.6-.4 4.5-.5 4.4-.5 4.4-.6 4.4-.6 4.3-.7 4.2-.7 4.2-.8 4.2-.8 4.1-.9 4-.9 4.1-1 3.9-1 4-1 3.8-1.1 3.9-1.1 3.8-1.2 3.8-1.2 3.7-1.3 3.7-1.3 3.7-1.3 3.6-1.4 3.6-1.4M157.1 948.9l-4.6-4-4.7-4.1-4.6-4.2-4.5-4.2-4.5-4.3-4.5-4.3-4.4-4.4-4.4-4.5-4.4-4.5-4.3-4.6-4.3-4.7-4.3-4.7-4.2-4.8-4.2-4.9-4.2-4.9-4.2-5-4.1-5-4.1-5.1-4.1-5.2-4-5.3-4-5.3-4-5.3-4-5.5-4-5.5-3.9-5.5M143.1 941l4.7-.2 4.7-.3 4.5-.3 4.6-.4 4.4-.4 4.4-.5 4.4-.6 4.3-.6 4.3-.7 4.2-.7 4.1-.7 4.1-.8 4.1-.9 4-.9 4-.9 3.9-1 3.9-1 3.9-1.1 3.8-1.1 3.8-1.2 3.7-1.2 3.7-1.3 3.7-1.3 3.6-1.3 3.6-1.4M161.8 948.4l-4.7-3.9-4.6-4-4.6-4-4.6-4.2-4.5-4.2-4.4-4.2-4.5-4.4-4.3-4.4-4.4-4.4-4.3-4.5-4.3-4.6-4.3-4.7-4.2-4.7-4.2-4.8-4.2-4.8-4.1-4.9-4.1-5-4.1-5-4.1-5.1-4-5.2-4-5.2-4-5.3-4-5.4-3.9-5.4-3.9-5.5M138.5 936.8l4.7-.2 4.7-.1 4.6-.3 4.5-.3 4.5-.4 4.4-.4 4.3-.5 4.4-.5 4.2-.6 4.2-.6 4.2-.7 4.1-.7 4.1-.8 4-.9 4-.8 3.9-1 3.9-.9 3.9-1.1 3.8-1 3.8-1.2 3.8-1.1 3.7-1.2 3.6-1.3 3.7-1.3 3.6-1.3M166.3 947.9l-4.6-3.8-4.7-3.9-4.5-4-4.6-4-4.5-4.2-4.4-4.1-4.4-4.3-4.4-4.3-4.4-4.4-4.3-4.4-4.3-4.5-4.2-4.6-4.2-4.6-4.2-4.7-4.2-4.8-4.1-4.8-4.1-4.9-4.1-5-4-5-4.1-5.1-4-5.1-3.9-5.3-4-5.2-3.9-5.4-3.9-5.4M134 932.5l4.7-.1 4.6-.1 4.6-.1 4.6-.3 4.5-.2 4.4-.4 4.3-.4 4.4-.4 4.2-.6 4.3-.5 4.1-.6 4.1-.7 4.1-.7 4.1-.8 4-.8 3.9-.9 3.9-.9 3.9-1 3.8-1 3.8-1.1 3.7-1.1 3.8-1.2 3.6-1.2 3.7-1.2 3.6-1.3M170.8 947.4l-4.6-3.8-4.6-3.8-4.6-3.9-4.5-4-4.5-4-4.5-4.1-4.4-4.2-4.3-4.2-4.4-4.3-4.3-4.4-4.3-4.4-4.2-4.5-4.2-4.5-4.2-4.7-4.1-4.7-4.2-4.7-4.1-4.8-4-4.9-4.1-5-4-5-4-5.1-3.9-5.1-4-5.2-3.9-5.3-3.9-5.4M129.5 928.1l4.7 0 4.6 0 4.6-.1 4.6-.1 4.5-.2 4.4-.3 4.4-.3 4.3-.4 4.3-.4 4.2-.5 4.2-.6 4.1-.6 4.1-.6 4-.7 4-.8 4-.8 3.9-.9 3.9-.9 3.8-1 3.8-1 3.8-1.1 3.7-1.1 3.7-1.1 3.6-1.2 3.6-1.3M175.3 946.8l-4.7-3.7-4.6-3.7-4.5-3.9-4.5-3.8-4.5-4-4.5-4-4.4-4.1-4.3-4.2-4.4-4.2-4.3-4.3-4.2-4.3-4.3-4.5-4.2-4.4-4.1-4.6-4.2-4.6-4.1-4.7-4.1-4.7-4-4.9-4-4.8-4-5-4-5-4-5.1-3.9-5.1-3.9-5.2-3.9-5.3M125 923.7l4.7 .1 4.7 .1 4.6 0 4.5-.1 4.5-.1 4.5-.2 4.4-.3 4.3-.3 4.3-.3 4.2-.5 4.2-.5 4.1-.5 4.1-.6 4.1-.7 4-.7 3.9-.7 4-.8 3.8-.9 3.9-.9 3.8-1 3.7-1 3.8-1.1 3.6-1.1 3.7-1.1 3.6-1.2M179.7 946.1l-4.7-3.6-4.6-3.6-4.5-3.8-4.5-3.8-4.5-3.9-4.4-3.9-4.4-4-4.4-4.1-4.3-4.2-4.3-4.2-4.2-4.2-4.3-4.4-4.2-4.4-4.1-4.5-4.1-4.5-4.1-4.7-4.1-4.6-4.1-4.8-4-4.8-4-4.9-4-4.9-3.9-5-3.9-5.1-3.9-5.2-3.9-5.2M120.5 919.2l4.8 .2 4.6 .1 4.7 .1 4.5 0 4.5 0 4.5-.1 4.4-.2 4.3-.2 4.3-.3 4.2-.4 4.2-.4 4.2-.5 4.1-.5 4-.6 4-.7 4-.7 3.9-.7 3.9-.9 3.9-.8 3.8-.9 3.7-1 3.8-1 3.7-1.1 3.6-1.1 3.7-1.2M184 945.4l-4.6-3.5-4.6-3.6-4.6-3.7-4.5-3.7-4.4-3.8-4.4-3.9-4.4-3.9-4.4-4-4.3-4.1-4.3-4.1-4.2-4.2-4.2-4.3-4.2-4.4-4.2-4.4-4.1-4.5-4.1-4.5-4-4.6-4.1-4.7-4-4.7-4-4.9-3.9-4.8-4-5-3.9-5-3.9-5.1-3.9-5.1M116.1 914.6l4.8 .3 4.7 .2 4.6 .2 4.6 .1 4.5 0 4.4 0 4.4-.1 4.4-.2 4.3-.2 4.2-.3 4.2-.4 4.2-.4 4.1-.5 4-.5 4.1-.6 3.9-.6 4-.7 3.8-.8 3.9-.8 3.8-.9 3.8-.9 3.7-1 3.7-1 3.7-1.1 3.6-1.1M188.3 944.7l-4.6-3.5-4.6-3.5-4.5-3.6-4.5-3.6-4.5-3.8-4.4-3.8-4.4-3.8-4.3-4-4.3-4-4.3-4.1-4.2-4.1-4.2-4.2-4.2-4.3-4.2-4.3-4.1-4.5-4.1-4.4-4-4.6-4-4.6-4-4.7-4-4.7-4-4.8-3.9-4.9-3.9-5-3.9-5-3.9-5.1M111.7 910l4.8 .4 4.7 .3 4.6 .2 4.6 .2 4.5 .1 4.5 0 4.4 0 4.4-.1 4.3-.2 4.2-.2 4.2-.3 4.2-.3 4.1-.4 4.1-.5 4-.6 4-.5 3.9-.7 3.9-.7 3.9-.8 3.8-.8 3.8-.9 3.7-.9 3.7-1 3.7-1 3.6-1.1M192.5 943.9l-4.6-3.4-4.5-3.5-4.6-3.5-4.5-3.6-4.4-3.6-4.4-3.7-4.4-3.8-4.3-3.9-4.3-4-4.3-4-4.2-4-4.2-4.2-4.2-4.2-4.1-4.3-4.1-4.3-4.1-4.4-4-4.5-4.1-4.6-4-4.6-3.9-4.7-4-4.7-3.9-4.9-3.9-4.9-3.9-4.9-3.8-5M107.4 905.3l4.8 .5 4.7 .4 4.6 .3 4.6 .2 4.5 .2 4.5 .1 4.4 .1 4.4-.1 4.3-.1 4.3-.1 4.2-.3 4.2-.2 4.1-.4 4-.4 4.1-.5 4-.5 3.9-.6 3.9-.7 3.9-.7 3.8-.8 3.8-.8 3.7-.9 3.7-.9 3.7-1 3.7-1M196.7 943l-4.6-3.3-4.5-3.4-4.6-3.4-4.4-3.5-4.5-3.6-4.4-3.7-4.4-3.7-4.3-3.8-4.3-3.9-4.2-3.9-4.3-4-4.1-4.1-4.2-4.2-4.1-4.2-4.1-4.3-4.1-4.3-4-4.4-4-4.5-4-4.6-4-4.6-3.9-4.7-3.9-4.8-3.9-4.8-3.9-4.9-3.8-5M103.1 900.5l4.8 .6 4.7 .5 4.6 .4 4.6 .3 4.6 .3 4.5 .2 4.4 .1 4.4 0 4.3 0 4.2-.1 4.3-.2 4.1-.2 4.2-.3 4.1-.4 4-.4 4-.5 3.9-.5 3.9-.6 3.9-.7 3.8-.7 3.8-.8 3.8-.8 3.7-.9 3.7-1 3.6-1M200.9 942.1l-4.6-3.2-4.6-3.3-4.5-3.4-4.5-3.4-4.4-3.6-4.4-3.6-4.4-3.6-4.3-3.8-4.3-3.8-4.2-3.9-4.2-3.9-4.2-4-4.2-4.1-4.1-4.2-4.1-4.2-4-4.3-4.1-4.3-4-4.5-3.9-4.5-4-4.5-3.9-4.7-3.9-4.7-3.9-4.8-3.8-4.8-3.9-4.9M98.8 895.7l4.8 .7 4.7 .5 4.7 .5 4.6 .4 4.5 .3 4.5 .3 4.5 .2 4.4 .1 4.3 0 4.3 0 4.2-.1 4.2-.2 4.1-.2 4.1-.3 4-.4 4-.4 4-.5 3.9-.6 3.9-.6 3.8-.7 3.8-.7 3.8-.8 3.7-.8 3.7-.9 3.7-1M205 941.2l-4.6-3.2-4.6-3.2-4.5-3.3-4.5-3.4-4.4-3.5-4.4-3.5-4.3-3.6-4.3-3.7-4.3-3.7-4.2-3.8-4.3-3.9-4.1-4-4.2-4-4.1-4.1-4.1-4.2-4-4.2-4-4.3-4-4.4-4-4.4-3.9-4.6-4-4.5-3.9-4.7-3.8-4.7-3.9-4.8-3.8-4.9M94.6 890.9l4.8 .7 4.7 .6 4.7 .6 4.6 .5 4.5 .4 4.5 .3 4.5 .2 4.4 .2 4.3 .1 4.3 0 4.2 0 4.2-.1 4.2-.2 4.1-.2 4-.4 4-.3 4-.5 3.9-.5 3.9-.6 3.8-.6 3.8-.7 3.8-.7 3.7-.8 3.7-.9 3.7-.9M209 940.2l-4.6-3.1-4.5-3.2-4.5-3.2-4.5-3.3-4.4-3.4-4.4-3.5-4.3-3.5-4.3-3.7-4.3-3.6-4.2-3.8-4.2-3.8-4.2-3.9-4.1-4-4.1-4-4.1-4.1-4-4.2-4.1-4.3-3.9-4.3-4-4.4-3.9-4.4-4-4.6-3.8-4.6-3.9-4.6-3.8-4.8-3.9-4.8M90.3 885.9l4.9 .8 4.7 .7 4.7 .7 4.6 .5 4.6 .5 4.5 .4 4.4 .3 4.4 .3 4.4 .1 4.3 .1 4.2 0 4.2 0 4.2-.1 4.1-.2 4-.3 4-.3 4-.4 3.9-.5 3.9-.5 3.9-.6 3.8-.6 3.8-.7 3.7-.8 3.7-.8 3.7-.9M213 939.2l-4.5-3.1-4.6-3.1-4.5-3.2-4.4-3.2-4.5-3.3-4.3-3.5-4.4-3.4-4.3-3.6-4.2-3.6-4.3-3.7-4.1-3.8-4.2-3.8-4.1-3.9-4.1-4-4.1-4.1-4-4.1-4-4.2-4-4.3-4-4.3-3.9-4.4-3.9-4.5-3.9-4.5-3.8-4.6-3.9-4.7-3.8-4.8M86.2 880.9l4.8 .9 4.7 .8 4.7 .7 4.7 .6 4.5 .6 4.6 .5 4.4 .3 4.4 .3 4.4 .3 4.3 .1 4.2 .1 4.2 0 4.2 0 4.1-.2 4.1-.2 4-.3 4-.3 3.9-.4 3.9-.5 3.9-.5 3.8-.6 3.8-.7 3.7-.7 3.7-.8 3.7-.8M217 938.1l-4.6-3-4.5-3-4.5-3.1-4.4-3.2-4.5-3.3-4.3-3.4-4.4-3.4-4.2-3.5-4.3-3.6-4.2-3.6-4.2-3.7-4.2-3.8-4.1-3.9-4.1-3.9-4-4-4.1-4.1-4-4.1-3.9-4.2-4-4.3-3.9-4.4-3.9-4.4-3.9-4.5-3.8-4.5-3.8-4.7-3.8-4.7M82 875.8l4.8 1 4.8 .9 4.7 .8 4.6 .7 4.6 .6 4.6 .5 4.4 .5 4.4 .4 4.4 .3 4.3 .2 4.3 .1 4.2 .1 4.2 0 4.1-.1 4-.2 4.1-.2 4-.3 3.9-.3 3.9-.5 3.9-.5 3.8-.5 3.8-.6 3.7-.7 3.7-.8 3.7-.8M220.9 937l-4.5-2.9-4.6-3-4.5-3.1-4.4-3.1-4.4-3.2-4.4-3.3-4.3-3.4-4.3-3.4-4.2-3.5-4.2-3.6-4.2-3.7-4.2-3.7-4.1-3.8-4.1-3.9-4-4-4-4-4-4.1-4-4.1-3.9-4.3-3.9-4.3-3.9-4.4-3.9-4.4-3.8-4.5-3.8-4.6-3.8-4.7M77.9 870.7l4.8 1.1 4.8 .9 4.7 .9 4.6 .8 4.6 .7 4.6 .6 4.5 .5 4.4 .4 4.4 .4 4.3 .3 4.2 .2 4.3 .1 4.1 0 4.2 0 4-.1 4.1-.2 4-.2 3.9-.3 3.9-.4 3.9-.5 3.8-.5 3.8-.6 3.8-.6 3.7-.7 3.7-.8M224.8 935.8l-4.6-2.8-4.5-2.9-4.5-3-4.4-3.1-4.4-3.2-4.3-3.2-4.4-3.3-4.2-3.4-4.3-3.5-4.2-3.5-4.2-3.6-4.1-3.7-4.1-3.8-4.1-3.8-4-3.9-4-4-4-4-4-4.1-3.9-4.2-3.9-4.3-3.9-4.3-3.9-4.4-3.8-4.5-3.8-4.5-3.8-4.6M73.8 865.5l4.8 1.2 4.8 1 4.7 .9 4.7 .9 4.6 .7 4.5 .7 4.5 .6 4.5 .5 4.3 .4 4.4 .4 4.2 .2 4.3 .2 4.2 .1 4.1 0 4.1 0 4-.1 4-.2 4-.3 3.9-.3 3.9-.4 3.8-.5 3.8-.5 3.8-.7 3.7-.6 3.7-.8M228.7 934.7l-4.6-2.8-4.5-2.9-4.5-3-4.4-3-4.4-3.1-4.4-3.2-4.3-3.3-4.3-3.3-4.2-3.4-4.2-3.5-4.2-3.5-4.1-3.7-4.1-3.7-4.1-3.8-4-3.8-4-3.9-4-4-3.9-4.1-4-4.1-3.8-4.2-3.9-4.3-3.9-4.4-3.8-4.4-3.8-4.5-3.8-4.6M69.7 860.3l4.8 1.2 4.8 1.1 4.8 1 4.6 .9 4.7 .9 4.5 .7 4.5 .7 4.5 .5 4.3 .5 4.4 .4 4.3 .3 4.2 .3 4.2 .1 4.1 .1 4.1 0 4.1-.1 4-.1 3.9-.2 4-.3 3.9-.4 3.8-.4 3.8-.5 3.8-.6 3.7-.6 3.7-.7M232.5 933.4l-4.6-2.7-4.5-2.8-4.5-2.9-4.4-3-4.4-3.1-4.3-3.1-4.3-3.2-4.3-3.3-4.2-3.4-4.2-3.4-4.2-3.5-4.1-3.6-4.1-3.7-4.1-3.7-4-3.8-4-3.9-4-3.9-3.9-4-3.9-4.1-3.9-4.2-3.9-4.2-3.8-4.3-3.8-4.4-3.8-4.5-3.8-4.5M65.6 854.9l4.9 1.3 4.8 1.2 4.7 1.1 4.7 1 4.7 .9 4.5 .8 4.5 .7 4.5 .7 4.4 .5 4.3 .5 4.3 .4 4.3 .2 4.2 .3 4.1 .1 4.1 0 4.1 0 4-.1 4-.1 3.9-.3 3.9-.3 3.8-.4 3.8-.5 3.8-.5 3.7-.6 3.7-.6M236.2 932.1l-4.5-2.6-4.5-2.8-4.5-2.9-4.4-2.9-4.4-3-4.3-3.1-4.3-3.1-4.3-3.3-4.2-3.3-4.2-3.4-4.2-3.4-4.1-3.6-4.1-3.6-4-3.7-4-3.7-4-3.9-4-3.9-3.9-3.9-3.9-4.1-3.9-4.1-3.9-4.2-3.8-4.3-3.8-4.3-3.8-4.4-3.8-4.5M61.6 849.6l4.9 1.3 4.8 1.3 4.7 1.2 4.7 1 4.7 1 4.5 .9 4.6 .8 4.4 .7 4.4 .6 4.4 .5 4.3 .4 4.2 .4 4.2 .2 4.2 .2 4.1 .1 4.1 0 4 0 4-.1 3.9-.2 3.9-.3 3.9-.3 3.8-.5 3.8-.5 3.7-.5 3.7-.6M240 930.8l-4.6-2.6-4.5-2.7-4.4-2.8-4.5-2.9-4.3-3-4.4-3-4.3-3.1-4.2-3.2-4.2-3.3-4.2-3.3-4.2-3.4-4.1-3.5-4.1-3.6-4-3.6-4-3.7-4-3.8-4-3.9-3.9-3.9-3.9-4-3.9-4.1-3.8-4.1-3.9-4.3-3.8-4.3-3.7-4.3-3.8-4.5M57.6 844.1l4.9 1.5 4.8 1.3 4.8 1.2 4.7 1.2 4.6 1 4.6 1 4.5 .8 4.5 .8 4.4 .6 4.4 .6 4.3 .5 4.2 .4 4.3 .3 4.1 .3 4.1 .1 4.1 .1 4 0 4-.1 4-.1 3.9-.3 3.8-.3 3.9-.4 3.8-.4 3.7-.5 3.7-.6M243.6 929.5l-4.5-2.6-4.5-2.7-4.4-2.7-4.4-2.9-4.4-2.9-4.3-3-4.3-3-4.3-3.2-4.2-3.2-4.2-3.3-4.1-3.3-4.1-3.5-4.1-3.5-4-3.6-4-3.7-4-3.7-4-3.9-3.9-3.8-3.9-4-3.9-4.1-3.8-4.1-3.8-4.2-3.8-4.2-3.8-4.3-3.7-4.5M53.6 838.6l4.9 1.5 4.8 1.4 4.8 1.4 4.7 1.2 4.7 1.1 4.6 1 4.5 .9 4.5 .8 4.4 .7 4.4 .7 4.3 .5 4.3 .5 4.2 .4 4.2 .3 4.1 .2 4.1 .1 4 0 4 0 4-.1 3.9-.2 3.8-.3 3.9-.3 3.8-.4 3.7-.5 3.7-.6M247.3 928.1l-4.5-2.5-4.5-2.7-4.5-2.7-4.4-2.8-4.3-2.8-4.4-3-4.2-3-4.3-3.1-4.2-3.2-4.2-3.2-4.1-3.3-4.1-3.4-4.1-3.5-4-3.6-4-3.6-4-3.7-3.9-3.8-3.9-3.9-3.9-3.9-3.9-4-3.8-4.1-3.8-4.1-3.8-4.2-3.8-4.3-3.7-4.4M49.6 833l4.9 1.6 4.9 1.5 4.8 1.4 4.7 1.3 4.7 1.2 4.6 1 4.5 1 4.5 .9 4.4 .8 4.4 .7 4.4 .6 4.2 .5 4.3 .4 4.1 .4 4.2 .2 4.1 .2 4 .1 4 0 4-.1 3.9-.1 3.9-.2 3.8-.3 3.8-.4 3.8-.5 3.7-.5M250.9 926.7l-4.5-2.5-4.5-2.6-4.4-2.7-4.4-2.7-4.4-2.8-4.3-2.9-4.3-3-4.2-3.1-4.2-3.1-4.2-3.2-4.1-3.3-4.1-3.3-4.1-3.5-4-3.5-4-3.6-4-3.7-3.9-3.7-3.9-3.8-3.9-3.9-3.9-4-3.8-4-3.8-4.1-3.8-4.2-3.7-4.3-3.8-4.3M45.7 827.4l4.9 1.7 4.9 1.5 4.8 1.5 4.7 1.3 4.7 1.3 4.6 1.1 4.5 1.1 4.5 .9 4.5 .9 4.4 .7 4.3 .7 4.3 .5 4.2 .5 4.2 .4 4.2 .3 4.1 .2 4 .2 4 0 4 0 3.9-.1 3.9-.2 3.9-.3 3.8-.3 3.7-.4 3.8-.5M254.5 925.2l-4.5-2.4-4.5-2.6-4.4-2.6-4.4-2.7-4.4-2.8-4.3-2.8-4.2-3-4.3-3-4.2-3.1-4.1-3.1-4.2-3.3-4-3.3-4.1-3.4-4-3.5-4-3.5-4-3.7-3.9-3.7-3.9-3.8-3.9-3.8-3.9-3.9-3.8-4-3.8-4.1-3.8-4.2-3.7-4.2-3.7-4.3" fill="none" stroke="#000" stroke-opacity="0.55" stroke-width="0.4"/>
<circle cx="44.7" cy="827.3" r="2.35" fill="#e2121c"/>
<circle cx="151.6" cy="840.3" r="2.35" fill="#e2121c"/>
<circle cx="151.6" cy="889.1" r="2.35" fill="#e2121c"/>
<path d="M44.8 826.3h1.9v1.9h-1.9zM45.6 843.6h1.9v1.9h-1.9zM46.4 861.2h1.9v1.9h-1.9zM47.3 878.5h1.9v1.9h-1.9zM48.1 895.8h1.9v1.9h-1.9zM48.9 913.1h1.9v1.9h-1.9zM49.8 930.6h1.9v1.9h-1.9zM151.4 1011.5h1.9v1.9h-1.9zM171.4 1002h1.9v1.9h-1.9zM131.4 1002h1.9v1.9h-1.9zM191.4 992.5h1.9v1.9h-1.9zM111.4 992.5h1.9v1.9h-1.9zM211.5 983h1.9v1.9h-1.9zM91.4 983h1.9v1.9h-1.9zM231.5 973.5h1.9v1.9h-1.9zM71.4 973.5h1.9v1.9h-1.9zM251.6 963.9h1.9v1.9h-1.9zM51.4 964h1.9v1.9h-1.9z" fill="#111"/>
<g font-size="7.05" fill="#333"><text x="41.9" y="825.8" text-anchor="end" font-size="6.7">8</text><text x="42.8" y="843.1" text-anchor="end" font-size="6.7">7</text><text x="43.6" y="860.7" text-anchor="end" font-size="6.7">6</text><text x="44.4" y="878" text-anchor="end" font-size="6.7">5</text><text x="45.2" y="895.3" text-anchor="end" font-size="6.7">4</text><text x="46.1" y="912.6" text-anchor="end" font-size="6.7">3</text><text x="46.9" y="930.1" text-anchor="end" font-size="6.7">2</text><text x="160.3" y="1020.6" text-anchor="middle" font-size="6.7">10</text><text x="180.4" y="1011.1" text-anchor="middle" font-size="6.7">12</text><text x="200.4" y="1001.6" text-anchor="middle" font-size="6.7">14</text><text x="220.4" y="992" text-anchor="middle" font-size="6.7">16</text><text x="240.5" y="982.5" text-anchor="middle" font-size="6.7">18</text><text x="260.5" y="973" text-anchor="middle" font-size="6.7">20</text><text x="142" y="1020.3" text-anchor="middle" font-size="6.7">10</text><text x="122" y="1010.8" text-anchor="middle" font-size="6.7">12</text><text x="102" y="1001.3" text-anchor="middle" font-size="6.7">14</text><text x="82" y="991.8" text-anchor="middle" font-size="6.7">16</text><text x="62" y="982.3" text-anchor="middle" font-size="6.7">18</text><text x="42" y="972.8" text-anchor="middle" font-size="6.7">20</text><text x="241.2" y="1010.4" text-anchor="middle">A: S 60 Conc. (mg/mL)</text><text x="63.1" y="1010.5" text-anchor="middle">C: FMT Amount (mg)</text><text transform="translate(14.6 897.9) rotate(-90)" text-anchor="middle" font-size="7.05">DL (%)</text></g>
<text x="152" y="1047.2" text-anchor="middle" font-family="'Liberation Serif',serif" font-weight="bold" font-size="22.5" letter-spacing="0.2" fill="#111">(g)</text></g>
<g id="ph"><path d="M310.6 827.3L417.2 803.6M417.2 803.6L524.3 827.3M311.5 844.6L417.3 819.1M417.3 819.1L523.4 844.6M312.3 862.2L417.3 834.9M417.3 834.9L522.5 862.2M313.1 879.5L417.4 850.3M417.4 850.3L521.7 879.5M314 896.8L417.5 865.8M417.5 865.8L520.8 896.7M314.8 914.1L417.5 881.3M417.5 881.3L519.9 914M315.6 931.6L417.6 897M417.6 897L519.1 931.5M519.1 931.5L524.3 826.5M336 924.7L331.9 821.8M498.8 924.6L502.9 821.8M356.4 917.7L353.2 817.1M478.5 917.7L481.5 817.1M376.8 910.8L374.6 812.3M458.2 910.8L460 812.3M397.2 903.9L395.9 807.6M437.9 903.9L438.6 807.6M417.6 897L417.2 802.9M317.2 964.7L310.6 826.5M517.4 964.6L524.3 826.5M417.7 926.6L417.6 897" fill="none" stroke="#b0b0b0" stroke-width="0.85"/>
<clipPath id="cfh"><polygon points="317.2,964.7 417.2,1012.2 517.4,964.6 417.7,926.6"/></clipPath>
<polygon points="317.2,964.7 417.2,1012.2 517.4,964.6 417.7,926.6" fill="#5e5e5e"/>
<g clip-path="url(#cfh)" fill="none" stroke-width="0.95" stroke-opacity="0.92"><path d="M334 972L371 945" stroke="#b0c020"/><path d="M352 979Q381 957.4 410 936.5" stroke="#30c030"/><path d="M369 989.4Q397.1 969.2 425 949.5" stroke="#10c060"/><path d="M391 999Q427.5 974.9 461 946" stroke="#10b0a0"/><path d="M418 1011Q453.2 982.6 488 954" stroke="#2090d0"/></g>
<circle cx="417.3" cy="838.3" r="2.1" fill="#f7c3c8" stroke="#f0a0aa" stroke-width="0.5"/>
<circle cx="311.6" cy="840.8" r="2.1" fill="#f7c3c8" stroke="#f0a0aa" stroke-width="0.5"/>
<path d="M417.4 842.5l3.7-.3-3.7-3.9-3.8 .2zM421.1 846.4l3.8-.3-3.8-3.9-3.7 .3zM413.6 842.7l3.8-.2-3.8-4-3.7 .1zM424.9 850.3l3.7-.3-3.7-3.9-3.8 .3zM417.4 846.6l3.7-.2-3.7-3.9-3.8 .2zM428.7 854.2l3.7-.4-3.8-3.8-3.7 .3zM421.2 850.6l3.7-.3-3.8-3.9-3.7 .2zM413.6 846.9l3.8-.3-3.8-3.9-3.8 .2zM432.6 858l3.7-.4-3.9-3.8-3.7 .4zM425 854.5l3.7-.3-3.8-3.9-3.7 .3zM417.4 850.9l3.8-.3-3.8-4-3.8 .3zM409.7 847.1l3.9-.2-3.8-4-3.8 .2zM436.4 861.8l3.7-.5-3.8-3.7-3.7 .4zM428.8 858.4l3.8-.4-3.9-3.8-3.7 .3zM421.2 854.8l3.8-.3-3.8-3.9-3.8 .3zM413.5 851.2l3.9-.3-3.8-4-3.9 .2zM405.9 847.4l3.8-.3-3.7-4-3.9 .2zM440.3 865.5l3.7-.5-3.9-3.7-3.7 .5zM432.7 862.2l3.7-.4-3.8-3.8-3.8 .4zM425 858.7l3.8-.3-3.8-3.9-3.8 .3zM417.4 855.2l3.8-.4-3.8-3.9-3.9 .3zM409.7 851.5l3.8-.3-3.8-4.1-3.8 .3zM401.9 847.6l4-.2-3.8-4.1-4 .1zM444.2 869.2l3.7-.5-3.9-3.7-3.7 .5zM436.6 866l3.7-.5-3.9-3.7-3.7 .4zM428.9 862.6l3.8-.4-3.9-3.8-3.8 .3zM421.2 859.1l3.8-.4-3.8-3.9-3.8 .4zM413.5 855.5l3.9-.3-3.9-4-3.8 .3zM405.8 851.7l3.9-.2-3.8-4.1-4 .2zM440.5 869.7l3.7-.5-3.9-3.7-3.7 .5zM432.8 866.4l3.8-.4-3.9-3.8-3.8 .4zM425.1 863l3.8-.4-3.9-3.9-3.8 .4zM417.4 859.5l3.8-.4-3.8-3.9-3.9 .3zM409.6 855.8l3.9-.3-3.8-4-3.9 .2zM401.8 852l4-.3-3.9-4.1-3.9 .2zM436.8 870.2l3.7-.5-3.9-3.7-3.8 .4zM429 866.9l3.8-.5-3.9-3.8-3.8 .4zM421.3 863.4l3.8-.4-3.9-3.9-3.8 .4zM413.5 859.9l3.9-.4-3.9-4-3.9 .3zM405.7 856.1l3.9-.3-3.8-4.1-4 .3zM397.8 852.3l4-.3-3.8-4.2-4 .3zM440.7 873.9l3.8-.5-4-3.7-3.7 .5zM433 870.7l3.8-.5-4-3.8-3.8 .5zM425.2 867.3l3.8-.4-3.9-3.9-3.8 .4zM417.4 863.8l3.9-.4-3.9-3.9-3.9 .4zM409.5 860.2l4-.3-3.9-4.1-3.9 .3zM401.7 856.5l4-.4-3.9-4.1-4 .3zM393.8 852.6l4-.3-3.8-4.2-4.1 .2zM436.9 874.5l3.8-.6-3.9-3.7-3.8 .5zM429.1 871.2l3.9-.5-4-3.8-3.8 .4zM421.3 867.8l3.9-.5-3.9-3.9-3.9 .4zM413.4 864.3l4-.5-3.9-3.9-4 .3zM405.6 860.6l3.9-.4-3.8-4.1-4 .4zM397.7 856.8l4-.3-3.9-4.2-4 .3zM389.7 852.8l4.1-.2-3.9-4.3-4 .2zM433.1 875l3.8-.5-3.9-3.8-3.9 .5zM425.2 871.7l3.9-.5-3.9-3.9-3.9 .5zM417.4 868.2l3.9-.4-3.9-4-4 .5zM409.5 864.7l3.9-.4-3.9-4.1-3.9 .4zM401.5 860.9l4.1-.3-3.9-4.1-4 .3zM393.6 857.1l4.1-.3-3.9-4.2-4.1 .2zM429.2 875.6l3.9-.6-4-3.8-3.9 .5zM421.3 872.2l3.9-.5-3.9-3.9-3.9 .4zM413.4 868.7l4-.5-4-3.9-3.9 .4zM405.5 865.1l4-.4-3.9-4.1-4.1 .3zM397.5 861.3l4-.4-3.8-4.1-4.1 .3zM389.5 857.4l4.1-.3-3.9-4.3-4.1 .3zM425.3 876.1l3.9-.5-4-3.9-3.9 .5zM417.4 872.7l3.9-.5-3.9-4-4 .5zM409.4 869.2l4-.5-3.9-4-4 .4zM401.4 865.5l4.1-.4-4-4.2-4 .4zM393.4 861.7l4.1-.4-3.9-4.2-4.1 .3zM385.3 857.7l4.2-.3-3.9-4.3-4.2 .2zM429.3 880l3.9-.6-4-3.8-3.9 .5zM421.4 876.6l3.9-.5-4-3.9-3.9 .5zM413.4 873.2l4-.5-4-4-4 .5zM405.4 869.6l4-.4-3.9-4.1-4.1 .4zM397.3 865.9l4.1-.4-3.9-4.2-4.1 .4zM389.2 862l4.2-.3-3.9-4.3-4.2 .3zM381.1 858l4.2-.3-3.9-4.4-4.2 .3zM425.4 880.5l3.9-.5-4-3.9-3.9 .5zM417.4 877.2l4-.6-4-3.9-4 .5zM409.3 873.7l4.1-.5-4-4-4 .4zM401.3 870.1l4.1-.5-4-4.1-4.1 .4zM393.2 866.3l4.1-.4-3.9-4.2-4.2 .3zM385 862.4l4.2-.4-3.9-4.3-4.2 .3zM421.4 881.1l4-.6-4-3.9-4 .6zM413.3 877.7l4.1-.5-4-4-4.1 .5zM405.2 874.2l4.1-.5-3.9-4.1-4.1 .5zM397.1 870.5l4.2-.4-4-4.2-4.1 .4zM389 866.7l4.2-.4-4-4.3-4.2 .4zM380.8 862.7l4.2-.3-3.9-4.4-4.2 .3zM417.4 881.7l4-.6-4-3.9-4.1 .5zM409.3 878.3l4-.6-4-4-4.1 .5zM401.1 874.7l4.1-.5-3.9-4.1-4.2 .4zM392.9 871l4.2-.5-3.9-4.2-4.2 .4zM384.7 867.1l4.3-.4-4-4.3-4.2 .3zM376.5 863.1l4.3-.4-3.9-4.4-4.3 .3zM413.3 882.3l4.1-.6-4.1-4-4 .6zM405.1 878.8l4.2-.5-4.1-4.1-4.1 .5zM396.9 875.2l4.2-.5-4-4.2-4.2 .5zM388.7 871.4l4.2-.4-3.9-4.3-4.3 .4zM380.5 867.5l4.2-.4-3.9-4.4-4.3 .4zM372.2 863.4l4.3-.3-3.9-4.5-4.3 .3zM417.4 886.3l4-.6-4-4-4.1 .6zM409.2 882.9l4.1-.6-4-4-4.2 .5zM401 879.4l4.1-.6-4-4.1-4.2 .5zM392.7 875.7l4.2-.5-4-4.2-4.2 .4zM384.5 871.9l4.2-.5-4-4.3-4.2 .4zM376.1 867.9l4.4-.4-4-4.4-4.3 .3zM367.8 863.7l4.4-.3-3.9-4.5-4.4 .3zM413.3 886.9l4.1-.6-4.1-4-4.1 .6zM405 883.5l4.2-.6-4.1-4.1-4.1 .6zM396.8 879.9l4.2-.5-4.1-4.2-4.2 .5zM388.5 876.2l4.2-.5-4-4.3-4.2 .5zM380.1 872.3l4.4-.4-4-4.4-4.4 .4zM371.8 868.3l4.3-.4-3.9-4.5-4.4 .3zM409.1 887.6l4.2-.7-4.1-4-4.2 .6zM400.8 884.1l4.2-.6-4-4.1-4.2 .5zM392.5 880.4l4.3-.5-4.1-4.2-4.2 .5zM384.2 876.7l4.3-.5-4-4.3-4.4 .4zM375.8 872.7l4.3-.4-4-4.4-4.3 .4zM367.4 868.7l4.4-.4-4-4.6-4.4 .4zM404.9 888.2l4.2-.6-4.1-4.1-4.2 .6zM396.6 884.7l4.2-.6-4-4.2-4.3 .5zM388.2 881l4.3-.6-4-4.2-4.3 .5zM379.8 877.2l4.4-.5-4.1-4.4-4.3 .4zM371.4 873.2l4.4-.5-4-4.4-4.4 .4zM362.9 869l4.5-.3-4-4.6-4.5 .3zM409 892.3l4.2-.7-4.1-4-4.2 .6zM400.7 888.8l4.2-.6-4.1-4.1-4.2 .6zM392.3 885.3l4.3-.6-4.1-4.3-4.3 .6zM383.8 881.5l4.4-.5-4-4.3-4.4 .5zM375.4 877.7l4.4-.5-4-4.5-4.4 .5zM366.9 873.6l4.5-.4-4-4.5-4.5 .3zM358.4 869.4l4.5-.4-4-4.6-4.5 .3zM404.8 893l4.2-.7-4.1-4.1-4.2 .6zM396.4 889.5l4.3-.7-4.1-4.1-4.3 .6zM387.9 885.9l4.4-.6-4.1-4.3-4.4 .5zM379.5 882.1l4.3-.6-4-4.3-4.4 .5zM370.9 878.2l4.5-.5-4-4.5-4.5 .4zM362.4 874.1l4.5-.5-4-4.6-4.5 .4zM353.8 869.8l4.6-.4-4-4.7-4.6 .4zM400.5 893.6l4.3-.6-4.1-4.2-4.3 .7zM392 890.1l4.4-.6-4.1-4.2-4.4 .6zM383.5 886.4l4.4-.5-4.1-4.4-4.3 .6zM375 882.6l4.5-.5-4.1-4.4-4.5 .5zM366.4 878.6l4.5-.4-4-4.6-4.5 .5zM357.8 874.5l4.6-.4-4-4.7-4.6 .4zM396.2 894.3l4.3-.7-4.1-4.1-4.4 .6zM387.7 890.8l4.3-.7-4.1-4.2-4.4 .5zM379.1 887l4.4-.6-4-4.3-4.5 .5zM370.5 883.2l4.5-.6-4.1-4.4-4.5 .4zM361.9 879.1l4.5-.5-4-4.5-4.6 .4zM353.2 874.9l4.6-.4-4-4.7-4.6 .4zM391.8 895l4.4-.7-4.2-4.2-4.3 .7zM383.2 891.4l4.5-.6-4.2-4.4-4.4 .6zM374.6 887.6l4.5-.6-4.1-4.4-4.5 .6zM366 883.7l4.5-.5-4.1-4.6-4.5 .5zM357.3 879.6l4.6-.5-4.1-4.6-4.6 .4zM348.6 875.4l4.6-.5-4-4.7-4.7 .4zM396 899.2l4.4-.7-4.2-4.2-4.4 .7zM387.4 895.7l4.4-.7-4.1-4.2-4.5 .6zM378.7 892.1l4.5-.7-4.1-4.4-4.5 .6zM370.1 888.2l4.5-.6-4.1-4.4-4.5 .5zM361.4 884.3l4.6-.6-4.1-4.6-4.6 .5zM352.6 880.1l4.7-.5-4.1-4.7-4.6 .5zM343.8 875.8l4.8-.4-4.1-4.8-4.7 .4zM391.6 900l4.4-.8-4.2-4.2-4.4 .7zM382.9 896.4l4.5-.7-4.2-4.3-4.5 .7zM374.2 892.7l4.5-.6-4.1-4.5-4.5 .6zM365.5 888.9l4.6-.7-4.1-4.5-4.6 .6zM356.7 884.8l4.7-.5-4.1-4.7-4.7 .5zM347.9 880.6l4.7-.5-4-4.7-4.8 .4zM339.1 876.3l4.7-.5-4-4.8-4.8 .3zM387.1 900.7l4.5-.7-4.2-4.3-4.5 .7zM378.4 897.1l4.5-.7-4.2-4.3-4.5 .6zM369.6 893.4l4.6-.7-4.1-4.5-4.6 .7zM360.8 889.5l4.7-.6-4.1-4.6-4.7 .5zM352 885.4l4.7-.6-4.1-4.7-4.7 .5zM343.1 881.1l4.8-.5-4.1-4.8-4.7 .5zM382.6 901.5l4.5-.8-4.2-4.3-4.5 .7zM373.8 897.9l4.6-.8-4.2-4.4-4.6 .7zM365 894l4.6-.6-4.1-4.5-4.7 .6zM356.1 890.1l4.7-.6-4.1-4.7-4.7 .6zM347.2 885.9l4.8-.5-4.1-4.8-4.8 .5zM378 902.3l4.6-.8-4.2-4.4-4.6 .8zM369.2 898.6l4.6-.7-4.2-4.5-4.6 .6zM360.3 894.7l4.7-.7-4.2-4.5-4.7 .6zM351.4 890.7l4.7-.6-4.1-4.7-4.8 .5zM382.2 906.6l4.6-.8-4.2-4.3-4.6 .8zM373.4 903l4.6-.7-4.2-4.4-4.6 .7zM364.5 899.3l4.7-.7-4.2-4.6-4.7 .7zM355.5 895.4l4.8-.7-4.2-4.6-4.7 .6zM377.6 907.4l4.6-.8-4.2-4.3-4.6 .7zM368.7 903.8l4.7-.8-4.2-4.4-4.7 .7zM359.7 900l4.8-.7-4.2-4.6-4.8 .7zM372.9 908.3l4.7-.9-4.2-4.4-4.7 .8zM363.9 904.6l4.8-.8-4.2-4.5-4.8 .7zM368.2 909.1l4.7-.8-4.2-4.5-4.8 .8z" fill="#00fc00" stroke="#00fc00" stroke-width="0.4"/>
<path d="M409.8 842.9l3.8-.2-3.7-4.1-3.9 .2zM376.9 858.3l4.2-.3-3.9-4.4-4.2 .2z" fill="#06fc00" stroke="#06fc00" stroke-width="0.4"/>
<path d="M406 843.1l3.8-.2-3.8-4.1-3.8 .2zM394 848.1l4-.3-3.8-4.2-4 .2zM372.6 858.6l4.3-.3-3.9-4.5-4.3 .3zM358.9 864.4l4.5-.3-4-4.6-4.4 .2z" fill="#12fc00" stroke="#12fc00" stroke-width="0.4"/>
<path d="M402.1 843.3l3.9-.2-3.8-4.1-3.9 .1zM389.9 848.3l4.1-.2-3.8-4.3-4.1 .2zM368.3 858.9l4.3-.3-3.9-4.5-4.4 .2zM354.4 864.7l4.5-.3-3.9-4.7-4.6 .3z" fill="#1efc00" stroke="#1efc00" stroke-width="0.4"/>
<path d="M398.1 843.4l4-.1-3.8-4.2-3.9 .1zM377.2 853.6l4.2-.3-3.8-4.4-4.2 .2zM363.9 859.2l4.4-.3-4-4.6-4.4 .2zM339.8 871l4.7-.4-4-4.9-4.7 .3z" fill="#24fc00" stroke="#24fc00" stroke-width="0.4"/>
<path d="M394.2 843.6l3.9-.2-3.7-4.2-4 .2zM373 853.8l4.2-.2-3.8-4.5-4.3 .2zM359.4 859.5l4.5-.3-4-4.7-4.4 .3zM335 871.3l4.8-.3-4-5-4.8 .4z" fill="#30fc00" stroke="#30fc00" stroke-width="0.4"/>
<path d="M398 847.8l3.9-.2-3.8-4.2-3.9 .2zM385.6 853.1l4.1-.3-3.8-4.3-4.2 .2zM363.4 864.1l4.4-.4-3.9-4.5-4.5 .3zM349.2 870.2l4.6-.4-4-4.7-4.6 .3z" fill="#0cfc00" stroke="#0cfc00" stroke-width="0.4"/>
<path d="M390.2 843.8l4-.2-3.8-4.2-4 .1zM368.7 854.1l4.3-.3-3.9-4.5-4.3 .2zM355 859.7l4.4-.2-3.9-4.7-4.5 .2z" fill="#3cfc00" stroke="#3cfc00" stroke-width="0.4"/>
<path d="M448.2 872.9l3.7-.6-4-3.6-3.7 .5zM404.7 897.8l4.3-.8-4.2-4-4.3 .6zM391.3 905l4.5-.8-4.2-4.2-4.5 .7z" fill="#00fc1e" stroke="#00fc1e" stroke-width="0.4"/>
<path d="M386.1 844l4.1-.2-3.8-4.3-4.1 .1zM364.3 854.3l4.4-.2-3.9-4.6-4.3 .2zM350.4 860l4.6-.3-4-4.7-4.5 .2z" fill="#48fc00" stroke="#48fc00" stroke-width="0.4"/>
<path d="M452.2 876.5l3.6-.6-3.9-3.6-3.7 .6zM433.5 888.2l4-.7-4.1-3.7-4 .6zM421.5 894.8l4.1-.7-4.1-3.9-4.1 .7zM408.9 901.8l4.2-.8-4.1-4-4.3 .8z" fill="#00fc60" stroke="#00fc60" stroke-width="0.4"/>
<path d="M444.5 873.4l3.7-.5-4-3.7-3.7 .5zM400.4 898.5l4.3-.7-4.2-4.2-4.3 .7zM386.8 905.8l4.5-.8-4.2-4.3-4.5 .8zM372.5 913.6l4.7-.9-4.3-4.4-4.7 .8z" fill="#00fc0c" stroke="#00fc0c" stroke-width="0.4"/>
<path d="M382 844.1l4.1-.1-3.8-4.4-4.1 .1zM359.9 854.5l4.4-.2-3.8-4.6-4.4 .2zM345.8 860.3l4.6-.3-3.9-4.8-4.6 .2z" fill="#54fc00" stroke="#54fc00" stroke-width="0.4"/>
<path d="M456.2 880.1l3.6-.6-4-3.6-3.6 .6zM437.6 892l4-.7-4.1-3.8-4 .7zM425.7 898.7l4.1-.7-4.2-3.9-4.1 .7zM413.1 905.8l4.3-.8-4.3-4-4.2 .8z" fill="#00fc84" stroke="#00fc84" stroke-width="0.4"/>
<path d="M448.5 877.1l3.7-.6-4-3.6-3.7 .5zM404.6 902.6l4.3-.8-4.2-4-4.3 .7zM391.1 910.1l4.5-.9-4.3-4.2-4.5 .8zM376.8 918l4.7-1-4.3-4.3-4.7 .9z" fill="#00fc4e" stroke="#00fc4e" stroke-width="0.4"/>
<path d="M385.9 848.5l4-.2-3.8-4.3-4.1 .1zM349.8 865.1l4.6-.4-4-4.7-4.6 .3z" fill="#2afc00" stroke="#2afc00" stroke-width="0.4"/>
<path d="M377.9 844.3l4.1-.2-3.8-4.4-4.1 .1zM355.5 854.8l4.4-.3-3.8-4.6-4.5 .1zM341.2 860.5l4.6-.2-3.9-4.9-4.6 .2z" fill="#60fc00" stroke="#60fc00" stroke-width="0.4"/>
<path d="M460.2 883.6l3.7-.6-4.1-3.5-3.6 .6zM449.3 889.9l3.8-.7-4.1-3.6-3.8 .6zM417.4 909.8l4.2-.9-4.2-3.9-4.3 .8zM404.2 917.5l4.4-1-4.3-4-4.4 .9zM390.3 925.6l4.6-1.1-4.4-4.2-4.6 1z" fill="#00fca2" stroke="#00fca2" stroke-width="0.4"/>
<path d="M452.5 880.7l3.7-.6-4-3.6-3.7 .6zM441.3 886.9l3.9-.7-4.1-3.7-3.8 .7zM421.6 899.5l4.1-.8-4.2-3.9-4.1 .8zM408.8 906.7l4.3-.9-4.2-4-4.3 .8zM395.3 914.3l4.6-.9-4.3-4.2-4.5 .9zM381.2 922.3l4.7-1-4.4-4.3-4.7 1z" fill="#00fc78" stroke="#00fc78" stroke-width="0.4"/>
<path d="M444.7 877.6l3.8-.5-4-3.7-3.8 .5zM433.4 883.8l3.9-.6-4.1-3.8-3.9 .6zM400.2 903.4l4.4-.8-4.2-4.1-4.4 .7zM386.5 910.9l4.6-.8-4.3-4.3-4.6 .8z" fill="#00fc3c" stroke="#00fc3c" stroke-width="0.4"/>
<path d="M381.7 848.7l4.2-.2-3.9-4.4-4.1 .2zM345.2 865.4l4.6-.3-4-4.8-4.6 .2z" fill="#36fc00" stroke="#36fc00" stroke-width="0.4"/>
<path d="M373.7 844.5l4.2-.2-3.8-4.5-4.2 .2zM351 855l4.5-.2-3.9-4.8-4.5 .2zM336.5 860.8l4.7-.3-3.9-4.9-4.7 .2z" fill="#6cfc00" stroke="#6cfc00" stroke-width="0.4"/>
<path d="M464.3 887.1l3.6-.7-4-3.4-3.7 .6zM434.1 906.4l4.1-.9-4.2-3.7-4.1 .8zM421.7 913.7l4.2-.9-4.3-3.9-4.2 .9z" fill="#00fcd2" stroke="#00fcd2" stroke-width="0.4"/>
<path d="M456.5 884.3l3.7-.7-4-3.5-3.7 .6zM437.8 896.4l4-.7-4.2-3.7-3.9 .7zM425.8 903.4l4.1-.8-4.2-3.9-4.1 .8zM413.1 910.7l4.3-.9-4.3-4-4.3 .9zM399.7 918.4l4.5-.9-4.3-4.1-4.6 .9zM385.5 926.6l4.8-1-4.4-4.3-4.7 1z" fill="#00fc9c" stroke="#00fc9c" stroke-width="0.4"/>
<path d="M448.7 881.3l3.8-.6-4-3.6-3.8 .5zM437.5 887.5l3.8-.6-4-3.7-3.9 .6zM425.6 894.1l4.1-.7-4.2-3.8-4 .6zM404.4 907.5l4.4-.8-4.2-4.1-4.4 .8zM390.8 915.2l4.5-.9-4.2-4.2-4.6 .8z" fill="#00fc6c" stroke="#00fc6c" stroke-width="0.4"/>
<path d="M440.9 878.2l3.8-.6-4-3.7-3.8 .6zM381.9 911.8l4.6-.9-4.3-4.3-4.6 .8z" fill="#00fc2a" stroke="#00fc2a" stroke-width="0.4"/>
<path d="M377.6 848.9l4.1-.2-3.8-4.4-4.2 .2zM340.5 865.7l4.7-.3-4-4.9-4.7 .3z" fill="#42fc00" stroke="#42fc00" stroke-width="0.4"/>
<path d="M369.5 844.6l4.2-.1-3.8-4.5-4.2 0zM346.5 855.2l4.5-.2-3.9-4.8-4.5 .2zM331.8 861.1l4.7-.3-3.9-5-4.8 .2z" fill="#78fc00" stroke="#78fc00" stroke-width="0.4"/>
<path d="M468.4 890.6l3.6-.8-4.1-3.4-3.6 .7zM438.4 910.1l4.1-.9-4.3-3.7-4.1 .9z" fill="#00f6fc" stroke="#00f6fc" stroke-width="0.4"/>
<path d="M460.6 887.8l3.7-.7-4.1-3.5-3.7 .7zM449.6 894.2l3.8-.7-4.1-3.6-3.9 .7zM417.4 914.6l4.3-.9-4.3-3.9-4.3 .9zM404 922.5l4.5-1-4.3-4-4.5 .9zM390 930.8l4.7-1.1-4.4-4.1-4.8 1z" fill="#00fcc0" stroke="#00fcc0" stroke-width="0.4"/>
<path d="M452.8 884.9l3.7-.6-4-3.6-3.8 .6zM441.6 891.3l3.8-.7-4.1-3.7-3.8 .6zM429.8 898l4-.8-4.1-3.8-4.1 .7zM408.7 911.6l4.4-.9-4.3-4-4.4 .8zM395.1 919.4l4.6-1-4.4-4.1-4.5 .9z" fill="#00fc90" stroke="#00fc90" stroke-width="0.4"/>
<path d="M445 881.9l3.7-.6-4-3.7-3.8 .6zM413.1 901l4.3-.7-4.2-4-4.2 .7zM400 908.4l4.4-.9-4.2-4.1-4.4 .8zM386.2 916.1l4.6-.9-4.3-4.3-4.6 .9z" fill="#00fc66" stroke="#00fc66" stroke-width="0.4"/>
<path d="M437.1 878.8l3.8-.6-4-3.7-3.8 .5zM425.5 885l3.9-.6-4-3.9-4 .6zM377.2 912.7l4.7-.9-4.3-4.4-4.7 .9z" fill="#00fc18" stroke="#00fc18" stroke-width="0.4"/>
<path d="M381.4 853.3l4.2-.2-3.9-4.4-4.1 .2zM344.5 870.6l4.7-.4-4-4.8-4.7 .3z" fill="#18fc00" stroke="#18fc00" stroke-width="0.4"/>
<path d="M373.4 849.1l4.2-.2-3.9-4.4-4.2 .1zM335.8 866l4.7-.3-4-4.9-4.7 .3z" fill="#4efc00" stroke="#4efc00" stroke-width="0.4"/>
<path d="M365.3 844.7l4.2-.1-3.8-4.6-4.3 .1zM341.9 855.4l4.6-.2-3.9-4.8-4.6 .1zM327 861.3l4.8-.2-4-5.1-4.8 .2z" fill="#84fc00" stroke="#84fc00" stroke-width="0.4"/>
<path d="M472.5 894l3.7-.8-4.2-3.4-3.6 .8zM442.7 913.8l4.1-.9-4.3-3.7-4.1 .9zM430.4 921.4l4.2-1-4.3-3.8-4.3 1z" fill="#00c6fc" stroke="#00c6fc" stroke-width="0.4"/>
<path d="M464.7 891.3l3.7-.7-4.1-3.5-3.7 .7zM453.8 897.8l3.8-.8-4.2-3.5-3.8 .7zM421.7 918.5l4.3-.9-4.3-3.9-4.3 .9zM408.4 926.5l4.5-1-4.4-4-4.5 1z" fill="#00fcf6" stroke="#00fcf6" stroke-width="0.4"/>
<path d="M456.9 888.5l3.7-.7-4.1-3.5-3.7 .6zM445.7 895l3.9-.8-4.2-3.6-3.8 .7zM425.8 908.1l4.2-.9-4.2-3.8-4.2 .8zM413 915.6l4.4-1-4.3-3.9-4.4 .9zM399.5 923.5l4.5-1-4.3-4.1-4.6 1z" fill="#00fcb4" stroke="#00fcb4" stroke-width="0.4"/>
<path d="M449 885.6l3.8-.7-4.1-3.6-3.7 .6zM417.4 905l4.2-.8-4.2-3.9-4.3 .7zM404.3 912.5l4.4-.9-4.3-4.1-4.4 .9zM390.5 920.3l4.6-.9-4.3-4.2-4.6 .9z" fill="#00fc8a" stroke="#00fc8a" stroke-width="0.4"/>
<path d="M441.1 882.5l3.9-.6-4.1-3.7-3.8 .6zM395.6 909.2l4.4-.8-4.2-4.2-4.5 .8zM381.5 917l4.7-.9-4.3-4.3-4.7 .9z" fill="#00fc5a" stroke="#00fc5a" stroke-width="0.4"/>
<path d="M433.2 879.4l3.9-.6-4-3.8-3.9 .6zM421.4 885.7l4.1-.7-4.1-3.9-4 .6z" fill="#00fc06" stroke="#00fc06" stroke-width="0.4"/>
<path d="M369.1 849.3l4.3-.2-3.9-4.5-4.2 .1zM331 866.4l4.8-.4-4-4.9-4.8 .2z" fill="#5afc00" stroke="#5afc00" stroke-width="0.4"/>
<path d="M360.9 844.9l4.4-.2-3.9-4.6-4.3 .1zM337.3 855.6l4.6-.2-3.9-4.9-4.7 .2z" fill="#90fc00" stroke="#90fc00" stroke-width="0.4"/>
<path d="M476.7 897.4l3.6-.8-4.1-3.4-3.7 .8zM447.1 917.4l4-.9-4.3-3.6-4.1 .9zM412.8 940.7l4.6-1.2-4.6-3.9-4.5 1.2z" fill="#00a2fc" stroke="#00a2fc" stroke-width="0.4"/>
<path d="M468.8 894.7l3.7-.7-4.1-3.4-3.7 .7zM438.6 914.7l4.1-.9-4.3-3.7-4.1 .9z" fill="#00d2fc" stroke="#00d2fc" stroke-width="0.4"/>
<path d="M461 892l3.7-.7-4.1-3.5-3.7 .7zM417.4 919.5l4.3-1-4.3-3.9-4.4 1z" fill="#00fcea" stroke="#00fcea" stroke-width="0.4"/>
<path d="M453.1 889.2l3.8-.7-4.1-3.6-3.8 .7zM441.8 895.7l3.9-.7-4.1-3.7-4 .7zM429.9 902.6l4.1-.8-4.2-3.8-4.1 .7zM408.6 916.5l4.4-.9-4.3-4-4.4 .9zM394.9 924.5l4.6-1-4.4-4.1-4.6 .9z" fill="#00fca8" stroke="#00fca8" stroke-width="0.4"/>
<path d="M445.2 886.2l3.8-.6-4-3.7-3.9 .6zM433.7 892.7l3.9-.7-4.1-3.8-4 .7zM399.9 913.4l4.4-.9-4.3-4.1-4.4 .8zM385.9 921.3l4.6-1-4.3-4.2-4.7 .9z" fill="#00fc7e" stroke="#00fc7e" stroke-width="0.4"/>
<path d="M437.3 883.2l3.8-.7-4-3.7-3.9 .6zM425.5 889.6l4-.7-4-3.9-4.1 .7z" fill="#00fc48" stroke="#00fc48" stroke-width="0.4"/>
<path d="M364.8 849.5l4.3-.2-3.8-4.6-4.4 .2z" fill="#66fc00" stroke="#66fc00" stroke-width="0.4"/>
<path d="M356.6 845l4.3-.1-3.8-4.7-4.4 .1z" fill="#a8fc00" stroke="#a8fc00" stroke-width="0.4"/>
<path d="M480.9 900.7l3.6-.8-4.2-3.3-3.6 .8zM470.3 907.5l3.7-.9-4.2-3.4-3.8 .8zM463 913.6l3.9-.9-4.3-3.5-3.9 .9zM451.4 921l4.1-1-4.4-3.5-4 .9zM439.2 928.8l4.3-1-4.5-3.7-4.2 1zM430.8 935.9l4.3-1.1-4.5-3.7-4.3 1.1zM417.4 944.6l4.5-1.2-4.5-3.9-4.6 1.2z" fill="#0084fc" stroke="#0084fc" stroke-width="0.4"/>
<path d="M473 898.1l3.7-.7-4.2-3.4-3.7 .7zM462.2 904.9l3.8-.9-4.2-3.4-3.8 .8zM430.5 926.2l4.3-1.1-4.4-3.7-4.3 1zM417.4 934.4l4.4-1.1-4.4-3.9-4.5 1.1z" fill="#00aefc" stroke="#00aefc" stroke-width="0.4"/>
<path d="M465.1 895.5l3.7-.8-4.1-3.4-3.7 .7zM454.1 902.2l3.9-.8-4.2-3.6-3.9 .8zM421.8 923.4l4.3-1-4.4-3.9-4.3 1zM408.4 931.6l4.5-1.1-4.5-4-4.5 1.1z" fill="#00e4fc" stroke="#00e4fc" stroke-width="0.4"/>
<path d="M457.2 892.7l3.8-.7-4.1-3.5-3.8 .7zM446 899.4l3.9-.8-4.2-3.6-3.9 .7zM399.3 928.7l4.6-1.1-4.4-4.1-4.6 1z" fill="#00fcd8" stroke="#00fcd8" stroke-width="0.4"/>
<path d="M360.5 849.7l4.3-.2-3.9-4.6-4.3 .1z" fill="#72fc00" stroke="#72fc00" stroke-width="0.4"/>
<path d="M352.2 845.1l4.4-.1-3.9-4.7-4.4 .1z" fill="#c6fc00" stroke="#c6fc00" stroke-width="0.4"/>
<path d="M485.1 904l3.6-.9-4.2-3.2-3.6 .8zM481.5 904.8l3.6-.8-4.2-3.3-3.7 .8zM474.6 910.8l3.7-.9-4.3-3.3-3.7 .9zM467.4 917.1l3.9-1-4.4-3.4-3.9 .9zM463.5 918l3.9-.9-4.4-3.5-3.9 1zM455.9 924.6l4-1.1-4.4-3.5-4.1 1zM443.7 932.5l4.3-1.1-4.5-3.6-4.3 1zM435.3 939.7l4.4-1.2-4.6-3.7-4.3 1.1zM430.9 940.9l4.4-1.2-4.5-3.8-4.4 1.2zM422 948.5l4.5-1.3-4.6-3.8-4.5 1.2z" fill="#006cfc" stroke="#006cfc" stroke-width="0.4"/>
<path d="M477.2 901.5l3.7-.8-4.2-3.3-3.7 .7zM459.1 914.6l3.9-1-4.3-3.5-3.9 .9zM447.4 922l4-1-4.3-3.6-4.1 1zM426.4 937.1l4.4-1.2-4.5-3.7-4.5 1.1zM412.7 945.9l4.7-1.3-4.6-3.9-4.6 1.2z" fill="#008afc" stroke="#008afc" stroke-width="0.4"/>
<path d="M469.3 898.9l3.7-.8-4.2-3.4-3.7 .8zM450.8 911.9l4-.9-4.3-3.5-4 .8zM438.8 919.4l4.2-1-4.4-3.7-4.1 1zM426.2 927.3l4.3-1.1-4.4-3.8-4.3 1zM403.5 943.2l4.7-1.3-4.6-4-4.7 1.2z" fill="#00b4fc" stroke="#00b4fc" stroke-width="0.4"/>
<path d="M461.4 896.3l3.7-.8-4.1-3.5-3.8 .7zM450.2 903l3.9-.8-4.2-3.6-3.9 .8zM417.4 924.4l4.4-1-4.4-3.9-4.4 1zM403.8 932.7l4.6-1.1-4.5-4-4.6 1.1z" fill="#00f0fc" stroke="#00f0fc" stroke-width="0.4"/>
<path d="M453.4 893.5l3.8-.8-4.1-3.5-3.8 .7zM442 900.2l4-.8-4.2-3.7-4 .7zM408.5 921.5l4.5-1-4.4-4-4.4 1zM394.7 929.7l4.6-1-4.4-4.2-4.6 1.1z" fill="#00fccc" stroke="#00fccc" stroke-width="0.4"/>
<path d="M445.4 890.6l3.9-.7-4.1-3.7-3.9 .7zM433.8 897.2l4-.8-4.1-3.7-4 .7zM421.6 904.2l4.2-.8-4.2-3.9-4.2 .8z" fill="#00fc96" stroke="#00fc96" stroke-width="0.4"/>
<path d="M429.4 884.4l4-.6-4.1-3.8-3.9 .5zM417.4 890.9l4.1-.7-4.1-3.9-4.1 .6z" fill="#00fc24" stroke="#00fc24" stroke-width="0.4"/>
<path d="M356.1 849.9l4.4-.2-3.9-4.7-4.4 .1z" fill="#7efc00" stroke="#7efc00" stroke-width="0.4"/>
<path d="M347.7 845.3l4.5-.2-3.9-4.7-4.4 0z" fill="#defc00" stroke="#defc00" stroke-width="0.4"/>
<path d="M489.4 907.2l3.6-.8-4.3-3.3-3.6 .9zM482.7 913.2l3.7-.9-4.3-3.3-3.8 .9zM475.7 919.4l3.8-.9-4.4-3.4-3.8 1zM471.8 920.5l3.9-1.1-4.4-3.3-3.9 1zM464.4 927l4-1.1-4.5-3.4-4 1zM456.6 933.8l4.2-1.2-4.5-3.4-4.2 1.1zM452.5 934.9l4.1-1.1-4.5-3.5-4.1 1.1zM444.3 942.1l4.3-1.2-4.6-3.6-4.3 1.2zM435.7 949.6l4.5-1.3-4.7-3.7-4.4 1.3zM431.2 950.9l4.5-1.3-4.6-3.7-4.6 1.3z" fill="#0054fc" stroke="#0054fc" stroke-width="0.4"/>
<path d="M473.5 902.3l3.7-.8-4.2-3.4-3.7 .8zM462.6 909.2l3.9-.9-4.3-3.4-3.9 .8zM443.2 923.1l4.2-1.1-4.4-3.6-4.2 1zM430.6 931.1l4.4-1.2-4.5-3.7-4.3 1.1z" fill="#0096fc" stroke="#0096fc" stroke-width="0.4"/>
<path d="M465.6 899.7l3.7-.8-4.2-3.4-3.7 .8zM454.4 906.6l3.9-.9-4.2-3.5-3.9 .8zM434.6 920.4l4.2-1-4.3-3.7-4.2 .9zM421.8 928.3l4.4-1-4.4-3.9-4.4 1zM408.3 936.8l4.5-1.2-4.4-4-4.6 1.1z" fill="#00c0fc" stroke="#00c0fc" stroke-width="0.4"/>
<path d="M457.6 897l3.8-.7-4.2-3.6-3.8 .8zM446.2 903.8l4-.8-4.2-3.6-4 .8zM434.3 911l4.1-.9-4.3-3.7-4.1 .8zM426 917.6l4.3-1-4.4-3.8-4.2 .9zM412.9 925.5l4.5-1.1-4.4-3.9-4.5 1zM399.1 933.9l4.7-1.2-4.5-4-4.6 1z" fill="#00fcfc" stroke="#00fcfc" stroke-width="0.4"/>
<path d="M351.6 850l4.5-.1-3.9-4.8-4.5 .2z" fill="#8afc00" stroke="#8afc00" stroke-width="0.4"/>
<path d="M343.2 845.4l4.5-.1-3.8-4.9-4.5 .1zM328.6 850.8l4.7-.1-3.9-5.1-4.7 .1z" fill="#fcfc00" stroke="#fcfc00" stroke-width="0.4"/>
<path d="M493.7 910.4l3.6-.9-4.3-3.1-3.6 .8zM490.8 915.5l3.6-.9-4.3-3.2-3.7 .9zM487 916.5l3.8-1-4.4-3.2-3.7 .9zM483.9 921.7l3.8-1-4.4-3.2-3.8 1zM480.1 922.8l3.8-1.1-4.4-3.2-3.8 .9zM476.2 923.8l3.9-1-4.4-3.4-3.9 1.1zM472.9 929.3l3.9-1.1-4.5-3.3-3.9 1zM468.9 930.4l4-1.1-4.5-3.4-4 1.1zM465.3 936.1l4.1-1.2-4.6-3.4-4 1.1zM461.2 937.2l4.1-1.1-4.5-3.5-4.2 1.2zM457 938.4l4.2-1.2-4.6-3.4-4.1 1.1zM457.5 943.1l4.2-1.2-4.7-3.5-4.2 1.2zM453.2 944.4l4.3-1.3-4.7-3.5-4.2 1.3zM448.9 945.7l4.3-1.3-4.6-3.5-4.3 1.2z" fill="#0048fc" stroke="#0048fc" stroke-width="0.4"/>
<path d="M485.8 908.1l3.6-.9-4.3-3.2-3.6 .8zM478.9 914.2l3.8-1-4.4-3.3-3.7 .9zM467.9 921.5l3.9-1-4.4-3.4-3.9 .9zM460.3 928.1l4.1-1.1-4.5-3.5-4 1.1zM448.3 936.1l4.2-1.2-4.5-3.5-4.3 1.1zM439.9 943.3l4.4-1.2-4.6-3.6-4.4 1.2zM426.6 952.3l4.6-1.4-4.7-3.7-4.5 1.3z" fill="#005afc" stroke="#005afc" stroke-width="0.4"/>
<path d="M477.8 905.7l3.7-.9-4.3-3.3-3.7 .8zM466.9 912.7l3.9-.9-4.3-3.5-3.9 .9zM459.5 919l4-1-4.4-3.4-4 .9zM447.6 926.7l4.2-1.1-4.4-3.6-4.2 1.1zM435.1 934.8l4.4-1.2-4.5-3.7-4.4 1.2zM426.5 942.1l4.4-1.2-4.5-3.8-4.5 1.2zM412.7 951.1l4.7-1.3-4.7-3.9-4.6 1.3z" fill="#0078fc" stroke="#0078fc" stroke-width="0.4"/>
<path d="M469.8 903.2l3.7-.9-4.2-3.4-3.7 .8zM458.7 910.1l3.9-.9-4.3-3.5-3.9 .9zM451.1 916.5l4-1-4.3-3.6-4 1zM439 924.1l4.2-1-4.4-3.7-4.2 1zM426.3 932.2l4.3-1.1-4.4-3.8-4.4 1zM417.4 939.5l4.5-1.2-4.5-3.9-4.6 1.2z" fill="#009cfc" stroke="#009cfc" stroke-width="0.4"/>
<path d="M461.8 900.6l3.8-.9-4.2-3.4-3.8 .7zM450.5 907.5l3.9-.9-4.2-3.6-4 .8zM417.4 929.4l4.4-1.1-4.4-3.9-4.5 1.1zM403.6 937.9l4.7-1.1-4.5-4.1-4.7 1.2z" fill="#00ccfc" stroke="#00ccfc" stroke-width="0.4"/>
<path d="M429.5 888.9l4-.7-4.1-3.8-3.9 .6zM417.4 895.6l4.1-.8-4.1-3.9-4.2 .7z" fill="#00fc54" stroke="#00fc54" stroke-width="0.4"/>
<path d="M347.1 850.2l4.5-.2-3.9-4.7-4.5 .1z" fill="#96fc00" stroke="#96fc00" stroke-width="0.4"/>
<path d="M338.7 845.5l4.5-.1-3.8-4.9-4.6 0z" fill="#fcf000" stroke="#fcf000" stroke-width="0.4"/>
<path d="M498.1 913.6l3.6-.9-4.4-3.2-3.6 .9zM494.4 914.6l3.7-1-4.4-3.2-3.6 1zM491.4 919.7l3.8-1-4.4-3.2-3.8 1zM487.7 920.7l3.7-1-4.4-3.2-3.7 1zM480.7 927.1l3.9-1.1-4.5-3.2-3.9 1zM476.8 928.2l3.9-1.1-4.5-3.3-3.9 1.1zM473.4 933.7l4-1.1-4.5-3.3-4 1.1zM469.4 934.9l4-1.2-4.5-3.3-4.1 1.1zM465.8 940.7l4.1-1.2-4.6-3.4-4.1 1.1zM461.7 941.9l4.1-1.2-4.6-3.5-4.2 1.2z" fill="#0042fc" stroke="#0042fc" stroke-width="0.4"/>
<path d="M490.1 911.4l3.6-1-4.3-3.2-3.6 .9zM486.4 912.3l3.7-.9-4.3-3.3-3.7 .9zM483.3 917.5l3.7-1-4.3-3.3-3.8 1zM479.5 918.5l3.8-1-4.4-3.3-3.8 .9zM472.3 924.9l3.9-1.1-4.4-3.3-3.9 1zM468.4 925.9l3.9-1-4.4-3.4-4 1zM464.8 931.5l4.1-1.1-4.5-3.4-4.1 1.1zM460.8 932.6l4-1.1-4.5-3.4-4 1.1zM452.8 939.6l4.2-1.2-4.5-3.5-4.2 1.2zM448.6 940.9l4.2-1.3-4.5-3.5-4.3 1.2zM444.6 947l4.3-1.3-4.6-3.6-4.4 1.2zM440.2 948.3l4.4-1.3-4.7-3.7-4.4 1.3z" fill="#004efc" stroke="#004efc" stroke-width="0.4"/>
<path d="M482.1 909l3.7-.9-4.3-3.3-3.7 .9zM475.1 915.1l3.8-.9-4.3-3.4-3.8 1zM471.3 916.1l3.8-1-4.3-3.3-3.9 .9zM463.9 922.5l4-1-4.4-3.5-4 1zM456.3 929.2l4-1.1-4.4-3.5-4.1 1zM452.1 930.3l4.2-1.1-4.5-3.6-4.2 1.1zM444 937.3l4.3-1.2-4.6-3.6-4.2 1.1zM435.5 944.6l4.4-1.3-4.6-3.6-4.4 1.2zM431.1 945.9l4.4-1.3-4.6-3.7-4.4 1.2zM422 953.6l4.6-1.3-4.6-3.8-4.6 1.3z" fill="#0060fc" stroke="#0060fc" stroke-width="0.4"/>
<path d="M474 906.6l3.8-.9-4.3-3.4-3.7 .9zM455.5 920l4-1-4.4-3.5-4 1zM443.5 927.8l4.1-1.1-4.4-3.6-4.2 1zM421.9 943.4l4.6-1.3-4.6-3.8-4.5 1.2z" fill="#007efc" stroke="#007efc" stroke-width="0.4"/>
<path d="M466 904l3.8-.8-4.2-3.5-3.8 .9zM454.8 911l3.9-.9-4.3-3.5-3.9 .9zM443 918.4l4.1-1-4.4-3.6-4.1 .9zM434.8 925.1l4.2-1-4.4-3.7-4.2 1zM421.8 933.3l4.5-1.1-4.5-3.9-4.4 1.1zM408.2 941.9l4.6-1.2-4.5-3.9-4.7 1.1z" fill="#00a8fc" stroke="#00a8fc" stroke-width="0.4"/>
<path d="M458 901.4l3.8-.8-4.2-3.6-3.8 .8zM446.5 908.3l4-.8-4.3-3.7-4 .9zM426.1 922.4l4.3-1-4.4-3.8-4.3 .9zM412.9 930.5l4.5-1.1-4.5-3.9-4.5 1zM398.9 939.1l4.7-1.2-4.5-4-4.7 1.1z" fill="#00d8fc" stroke="#00d8fc" stroke-width="0.4"/>
<path d="M449.9 898.6l3.9-.8-4.2-3.6-3.9 .8zM438.2 905.5l4-.8-4.2-3.7-4 .8zM403.9 927.6l4.5-1.1-4.4-4-4.5 1z" fill="#00fce4" stroke="#00fce4" stroke-width="0.4"/>
<path d="M342.6 850.4l4.5-.2-3.9-4.8-4.5 .1z" fill="#b4fc00" stroke="#b4fc00" stroke-width="0.4"/>
<path d="M334.1 845.6l4.6-.1-3.9-5-4.6 0z" fill="#fcd800" stroke="#fcd800" stroke-width="0.4"/>
<path d="M502.4 916.7l3.6-.9-4.3-3.1-3.6 .9zM498.8 917.7l3.6-1-4.3-3.1-3.7 1zM495.2 918.7l3.6-1-4.4-3.1-3.6 .9zM492.2 923.9l3.7-1-4.5-3.2-3.7 1zM488.4 925l3.8-1.1-4.5-3.2-3.8 1zM484.6 926l3.8-1-4.5-3.3-3.8 1.1zM485.2 930.4l3.9-1.1-4.5-3.3-3.9 1.1zM481.3 931.5l3.9-1.1-4.5-3.3-3.9 1.1zM477.4 932.6l3.9-1.1-4.5-3.3-3.9 1.1zM478 937.1l4-1.2-4.6-3.3-4 1.1zM474 938.2l4-1.1-4.6-3.4-4 1.2zM469.9 939.5l4.1-1.3-4.6-3.3-4.1 1.2z" fill="#003cfc" stroke="#003cfc" stroke-width="0.4"/>
<path d="M478.3 909.9l3.8-.9-4.3-3.3-3.8 .9zM459.9 923.5l4-1-4.4-3.5-4 1zM448 931.4l4.1-1.1-4.5-3.6-4.1 1.1zM439.7 938.5l4.3-1.2-4.5-3.7-4.4 1.2zM426.5 947.2l4.6-1.3-4.6-3.8-4.6 1.3zM417.4 955l4.6-1.4-4.6-3.8-4.7 1.3z" fill="#0066fc" stroke="#0066fc" stroke-width="0.4"/>
<path d="M429.7 893.4l4-.7-4.2-3.8-4 .7zM417.4 900.3l4.2-.8-4.2-3.9-4.2 .7z" fill="#00fc72" stroke="#00fc72" stroke-width="0.4"/>
<path d="M421.5 890.2l4-.6-4.1-3.9-4 .6z" fill="#00fc36" stroke="#00fc36" stroke-width="0.4"/>
<path d="M338 850.5l4.6-.1-3.9-4.9-4.6 .1z" fill="#ccfc00" stroke="#ccfc00" stroke-width="0.4"/>
<path d="M329.4 845.6l4.7 0-3.9-5.1-4.7 .1z" fill="#fcc600" stroke="#fcc600" stroke-width="0.4"/>
<path d="M506.9 919.8l3.6-1-4.5-3-3.6 .9zM503.3 920.8l3.6-1-4.5-3.1-3.6 1zM504.1 924.9l3.6-1-4.4-3.1-3.7 1.1zM500.4 926l3.7-1.1-4.5-3-3.7 1zM496.7 927.1l3.7-1.1-4.5-3.1-3.7 1zM497.4 931.3l3.8-1.1-4.5-3.1-3.8 1.1zM493.6 932.4l3.8-1.1-4.5-3.1-3.8 1.1zM489.8 933.6l3.8-1.2-4.5-3.1-3.9 1.1z" fill="#0030fc" stroke="#0030fc" stroke-width="0.4"/>
<path d="M466.5 908.3l3.8-.8-4.3-3.5-3.8 .9zM455.1 915.5l4-.9-4.3-3.6-4 .9zM435 929.9l4.2-1.1-4.4-3.7-4.3 1.1zM421.9 938.3l4.5-1.2-4.6-3.8-4.4 1.1zM408.1 947.2l4.6-1.3-4.5-4-4.7 1.3z" fill="#0090fc" stroke="#0090fc" stroke-width="0.4"/>
<path d="M458.3 905.7l3.9-.8-4.2-3.5-3.9 .8zM446.8 912.9l4-1-4.3-3.6-4 .9zM412.8 935.6l4.6-1.2-4.5-3.9-4.5 1.1z" fill="#00bafc" stroke="#00bafc" stroke-width="0.4"/>
<path d="M333.3 850.7l4.7-.2-3.9-4.9-4.7 0z" fill="#eafc00" stroke="#eafc00" stroke-width="0.4"/>
<path d="M324.7 845.7l4.7-.1-3.9-5-4.7 0z" fill="#fcb400" stroke="#fcb400" stroke-width="0.4"/>
<path d="M511.3 922.9l3.6-1.1-4.4-3-3.6 1zM507.7 923.9l3.6-1-4.4-3.1-3.6 1zM504.9 929.1l3.7-1.1-4.5-3.1-3.7 1.1zM501.2 930.2l3.7-1.1-4.5-3.1-3.7 1.1z" fill="#002afc" stroke="#002afc" stroke-width="0.4"/>
<path d="M470.8 911.8l3.8-1-4.3-3.3-3.8 .8zM451.8 925.6l4.1-1-4.5-3.6-4 1zM439.5 933.6l4.2-1.1-4.5-3.7-4.2 1.1zM417.4 949.8l4.6-1.3-4.6-3.9-4.7 1.3z" fill="#0072fc" stroke="#0072fc" stroke-width="0.4"/>
<path d="M438 901l4-.8-4.2-3.8-4 .8z" fill="#00fcba" stroke="#00fcba" stroke-width="0.4"/>
<path d="M413.2 891.6l4.2-.7-4.1-4-4.2 .7z" fill="#00fc12" stroke="#00fc12" stroke-width="0.4"/>
<path d="M319.9 845.8l4.8-.1-3.9-5.1-4.8 0z" fill="#fca200" stroke="#fca200" stroke-width="0.4"/>
<path d="M515.8 925.9l3.6-1.1-4.5-3-3.6 1.1zM512.2 926.9l3.6-1-4.5-3-3.6 1zM508.6 928l3.6-1.1-4.5-3-3.6 1z" fill="#0024fc" stroke="#0024fc" stroke-width="0.4"/>
<path d="M499.6 921.9l3.7-1.1-4.5-3.1-3.6 1zM495.9 922.9l3.7-1-4.4-3.2-3.8 1zM492.9 928.2l3.8-1.1-4.5-3.2-3.8 1.1zM489.1 929.3l3.8-1.1-4.5-3.2-3.8 1zM485.9 934.7l3.9-1.1-4.6-3.2-3.9 1.1zM482 935.9l3.9-1.2-4.6-3.2-3.9 1.1z" fill="#0036fc" stroke="#0036fc" stroke-width="0.4"/>
<path d="M442.2 904.7l4-.9-4.2-3.6-4 .8zM430.1 911.9l4.2-.9-4.3-3.8-4.2 .9zM394.4 935l4.7-1.1-4.4-4.2-4.7 1.1z" fill="#00fcf0" stroke="#00fcf0" stroke-width="0.4"/>
<path d="M434 901.8l4-.8-4.2-3.8-4 .8zM421.6 908.9l4.2-.8-4.2-3.9-4.2 .8z" fill="#00fcae" stroke="#00fcae" stroke-width="0.4"/>
<path d="M332.6 855.8l4.7-.2-4-4.9-4.7 .1z" fill="#a2fc00" stroke="#a2fc00" stroke-width="0.4"/>
<path d="M323.9 850.9l4.7-.1-3.9-5.1-4.8 .1z" fill="#fce400" stroke="#fce400" stroke-width="0.4"/>
<path d="M315.1 845.9l4.8-.1-3.9-5.2-4.8 0z" fill="#fc8a00" stroke="#fc8a00" stroke-width="0.4"/>
<path d="M413.2 896.3l4.2-.7-4.2-4-4.2 .7z" fill="#00fc42" stroke="#00fc42" stroke-width="0.4"/>
<path d="M327.8 856l4.8-.2-4-5-4.7 .1z" fill="#bafc00" stroke="#bafc00" stroke-width="0.4"/>
<path d="M319.1 851.1l4.8-.2-4-5.1-4.8 .1z" fill="#fcd200" stroke="#fcd200" stroke-width="0.4"/>
<path d="M442.5 909.2l4-.9-4.3-3.6-4 .8zM430.3 916.6l4.2-.9-4.4-3.8-4.2 .9z" fill="#00eafc" stroke="#00eafc" stroke-width="0.4"/>
<path d="M409 897l4.2-.7-4.2-4-4.2 .7zM395.8 904.2l4.4-.8-4.2-4.2-4.4 .8z" fill="#00fc30" stroke="#00fc30" stroke-width="0.4"/>
<path d="M323 856.2l4.8-.2-3.9-5.1-4.8 .2z" fill="#d8fc00" stroke="#d8fc00" stroke-width="0.4"/>
<path d="M430 907.2l4.1-.8-4.2-3.8-4.1 .8z" fill="#00fcc6" stroke="#00fcc6" stroke-width="0.4"/>
<path d="M434.5 915.7l4.1-1-4.3-3.7-4.2 .9z" fill="#00defc" stroke="#00defc" stroke-width="0.4"/>
<path d="M425.9 912.8l4.2-.9-4.3-3.8-4.2 .8zM413 920.5l4.4-1-4.4-3.9-4.4 .9z" fill="#00fcde" stroke="#00fcde" stroke-width="0.4"/>
<path d="M417.4 955l4.6-1.4 4.6-1.3 4.6-1.4 4.5-1.3 4.5-1.3 4.4-1.3 4.3-1.3 4.3-1.3 4.3-1.3 4.2-1.2 4.1-1.2 4.1-1.2 4.1-1.3 4-1.1 4-1.2 3.9-1.2 3.9-1.1 3.8-1.2 3.8-1.1 3.8-1.1 3.7-1.1 3.7-1.1 3.6-1.1 3.6-1 3.6-1.1M417.4 955l-4.7-3.9-4.6-3.9-4.6-4-4.6-4.1-4.5-4.1-4.4-4.2-4.5-4.2-4.3-4.3-4.4-4.3-4.3-4.4-4.3-4.5-4.3-4.5-4.2-4.6-4.2-4.6-4.1-4.7-4.2-4.8-4.1-4.8-4-4.8-4.1-5-4-4.9-4-5.1-4-5.1-3.9-5.1-4-5.2-3.9-5.3M412.7 951.1l4.7-1.3 4.6-1.3 4.5-1.3 4.6-1.3 4.4-1.3 4.4-1.3 4.4-1.2 4.3-1.2 4.2-1.3 4.2-1.2 4.2-1.2 4.1-1.1 4.1-1.2 4-1.2 4-1.1 3.9-1.1 3.9-1.1 3.9-1.1 3.8-1.1 3.8-1.1 3.7-1.1 3.7-1.1 3.6-1 3.6-1 3.6-1.1M422 953.6l-4.6-3.8-4.7-3.9-4.5-4-4.6-4-4.5-4-4.4-4.2-4.4-4.1-4.4-4.3-4.4-4.3-4.3-4.3-4.3-4.4-4.2-4.5-4.2-4.5-4.2-4.6-4.2-4.6-4.1-4.7-4.1-4.8-4.1-4.8-4-4.8-4-5-4-4.9-4-5.1-3.9-5.1-4-5.1-3.9-5.2M408.1 947.2l4.6-1.3 4.7-1.3 4.5-1.2 4.6-1.3 4.4-1.2 4.4-1.2 4.4-1.2 4.3-1.2 4.3-1.2 4.2-1.2 4.1-1.1 4.2-1.2 4-1.1 4.1-1.1 4-1.1 3.9-1.1 3.9-1.1 3.9-1.1 3.8-1 3.8-1.1 3.7-1 3.7-1 3.7-1.1 3.6-1 3.6-1M426.6 952.3l-4.6-3.8-4.6-3.9-4.6-3.9-4.5-3.9-4.5-4.1-4.5-4-4.4-4.2-4.4-4.2-4.3-4.2-4.3-4.3-4.3-4.4-4.2-4.4-4.2-4.4-4.2-4.6-4.2-4.5-4.1-4.7-4.1-4.7-4-4.7-4.1-4.8-4-4.9-4-4.9-3.9-5-4-5-3.9-5.1-3.9-5.1M403.5 943.2l4.7-1.3 4.6-1.2 4.6-1.2 4.5-1.2 4.5-1.2 4.4-1.2 4.3-1.1 4.4-1.2 4.2-1.1 4.3-1.1 4.1-1.1 4.2-1.1 4-1.1 4.1-1.1 4-1.1 3.9-1 3.9-1.1 3.9-1 3.8-1.1 3.8-1 3.7-1 3.8-1 3.6-1 3.6-1 3.6-.9M431.2 950.9l-4.7-3.7-4.6-3.8-4.5-3.9-4.6-3.9-4.4-4-4.5-4-4.4-4.1-4.4-4.1-4.3-4.2-4.3-4.3-4.3-4.3-4.2-4.3-4.2-4.4-4.2-4.5-4.1-4.5-4.1-4.6-4.1-4.7-4.1-4.7-4-4.7-4-4.8-4-4.9-3.9-4.9-4-4.9-3.9-5.1-3.9-5M398.9 939.1l4.7-1.2 4.7-1.1 4.5-1.2 4.6-1.2 4.4-1.1 4.5-1.1 4.3-1.1 4.4-1.2 4.2-1.1 4.3-1 4.1-1.1 4.2-1.1 4.1-1 4-1.1 4-1 4-1 3.9-1 3.9-1.1 3.8-.9 3.8-1 3.7-1 3.8-1 3.6-.9 3.7-1 3.6-.9M435.7 949.6l-4.6-3.7-4.6-3.8-4.6-3.8-4.5-3.9-4.5-3.9-4.5-4-4.4-4-4.3-4.1-4.4-4.1-4.2-4.2-4.3-4.3-4.2-4.3-4.2-4.4-4.2-4.4-4.1-4.5-4.1-4.5-4.1-4.6-4.1-4.6-4-4.7-4-4.7-4-4.8-3.9-4.9-3.9-4.9-3.9-4.9-3.9-5.1M394.4 935l4.7-1.1 4.7-1.2 4.6-1.1 4.5-1.1 4.5-1.1 4.4-1.1 4.4-1 4.3-1.1 4.3-1.1 4.2-1 4.2-1 4.2-1.1 4-1 4.1-1 4-1 4-1 3.9-.9 3.9-1 3.8-1 3.8-.9 3.8-1 3.7-.9 3.7-.9 3.6-1 3.6-.9M440.2 948.3l-4.7-3.7-4.6-3.7-4.5-3.8-4.6-3.8-4.4-3.9-4.5-3.9-4.4-4-4.3-4-4.3-4.1-4.3-4.2-4.3-4.2-4.2-4.3-4.2-4.3-4.2-4.3-4.1-4.5-4.1-4.4-4.1-4.6-4-4.5-4-4.7-4-4.7-4-4.7-3.9-4.8-3.9-4.8-3.9-4.9-3.9-5M390 930.8l4.7-1.1 4.6-1 4.6-1.1 4.5-1.1 4.5-1 4.5-1.1 4.4-1 4.3-1 4.3-1 4.2-1 4.2-1 4.2-1 4.1-1 4-.9 4-1 4-.9 3.9-1 3.9-.9 3.9-.9 3.8-1 3.7-.9 3.8-.9 3.7-.9 3.6-.9 3.6-.8M444.6 947l-4.7-3.7-4.6-3.6-4.5-3.8-4.5-3.7-4.5-3.9-4.4-3.9-4.4-3.9-4.4-4-4.3-4-4.3-4.1-4.2-4.2-4.2-4.2-4.2-4.3-4.2-4.3-4.1-4.4-4.1-4.4-4.1-4.4-4-4.6-4-4.6-4-4.6-3.9-4.7-4-4.7-3.9-4.8-3.9-4.8-3.8-4.9M385.5 926.6l4.8-1 4.6-1.1 4.6-1 4.5-1 4.5-1 4.5-1 4.4-1 4.3-1 4.3-.9 4.3-1 4.2-.9 4.1-1 4.1-.9 4.1-.9 4-1 4-.9 3.9-.9 3.9-.9 3.9-.9 3.8-.8 3.7-.9 3.8-.9 3.7-.9 3.6-.8 3.6-.9M448.9 945.7l-4.6-3.6-4.6-3.6-4.6-3.7-4.5-3.7-4.4-3.8-4.4-3.9-4.4-3.9-4.4-3.9-4.3-4-4.3-4.1-4.2-4.1-4.2-4.2-4.2-4.2-4.1-4.2-4.2-4.4-4-4.3-4.1-4.4-4-4.5-4-4.5-4-4.6-4-4.6-3.9-4.7-3.9-4.8-3.9-4.7-3.8-4.9M381.2 922.3l4.7-1 4.6-1 4.6-.9 4.6-1 4.5-.9 4.4-1 4.4-.9 4.4-1 4.3-.9 4.2-.9 4.2-.9 4.2-.9 4.1-.9 4.1-.9 4-.9 4-.8 3.9-.9 3.9-.9 3.9-.8 3.8-.9 3.8-.8 3.7-.9 3.7-.8 3.7-.8 3.6-.8M453.2 944.4l-4.6-3.5-4.6-3.6-4.5-3.7-4.5-3.7-4.5-3.7-4.4-3.8-4.4-3.9-4.3-3.9-4.3-3.9-4.3-4-4.2-4.1-4.2-4.1-4.2-4.2-4.2-4.2-4.1-4.2-4.1-4.4-4-4.3-4-4.5-4-4.4-4-4.6-3.9-4.5-4-4.7-3.8-4.6-3.9-4.8-3.9-4.7M376.8 918l4.7-1 4.7-.9 4.6-.9 4.5-.9 4.6-.9 4.4-.9 4.4-.9 4.4-.9 4.3-.9 4.2-.9 4.2-.8 4.2-.9 4.1-.8 4.1-.9 4-.8 4-.9 4-.8 3.9-.8 3.9-.8 3.8-.8 3.8-.9 3.7-.8 3.7-.8 3.7-.7 3.6-.8M457.5 943.1l-4.7-3.5-4.5-3.5-4.6-3.6-4.5-3.7-4.4-3.7-4.4-3.7-4.4-3.8-4.3-3.9-4.3-3.9-4.3-4-4.2-4-4.2-4-4.2-4.2-4.1-4.1-4.1-4.2-4.1-4.3-4-4.3-4.1-4.4-4-4.4-3.9-4.5-3.9-4.5-4-4.6-3.8-4.6-3.9-4.7-3.9-4.7M372.5 913.6l4.7-.9 4.7-.9 4.6-.9 4.6-.8 4.5-.9 4.4-.8 4.4-.9 4.4-.8 4.3-.9 4.3-.8 4.2-.8 4.2-.8 4.1-.8 4.1-.8 4-.8 4-.8 4-.8 3.9-.8 3.9-.8 3.8-.8 3.8-.7 3.7-.8 3.7-.8 3.7-.7 3.7-.8M461.7 941.9l-4.7-3.5-4.5-3.5-4.5-3.5-4.5-3.6-4.5-3.7-4.4-3.7-4.3-3.8-4.4-3.8-4.3-3.9-4.2-3.9-4.3-4-4.1-4-4.2-4-4.1-4.2-4.1-4.1-4.1-4.3-4-4.2-4-4.3-4-4.4-4-4.4-3.9-4.5-3.9-4.5-3.9-4.6-3.9-4.6-3.8-4.7M368.2 909.1l4.7-.8 4.7-.9 4.6-.8 4.6-.8 4.5-.8 4.5-.8 4.4-.8 4.4-.8 4.3-.8 4.2-.8 4.3-.7 4.2-.8 4.1-.8 4.1-.7 4-.8 4-.8 4-.7 3.9-.7 3.9-.8 3.8-.7 3.8-.8 3.8-.7 3.7-.7 3.7-.7 3.6-.8M465.8 940.7l-4.6-3.5-4.6-3.4-4.5-3.5-4.5-3.6-4.4-3.6-4.4-3.7-4.3-3.7-4.4-3.8-4.3-3.8-4.2-3.9-4.2-3.9-4.2-4-4.2-4-4.1-4.1-4.1-4.1-4-4.2-4.1-4.2-4-4.3-4-4.3-3.9-4.4-3.9-4.4-3.9-4.5-3.9-4.5-3.8-4.6-3.9-4.6M363.9 904.6l4.8-.8 4.7-.8 4.6-.7 4.6-.8 4.5-.8 4.5-.7 4.4-.8 4.4-.7 4.3-.7 4.3-.8 4.2-.7 4.2-.7 4.1-.8 4.1-.7 4.1-.7 4-.7 3.9-.7 4-.7 3.8-.7 3.9-.7 3.8-.7 3.8-.7 3.7-.7 3.7-.7 3.6-.7M469.9 939.5l-4.6-3.4-4.5-3.5-4.5-3.4-4.5-3.6-4.4-3.6-4.4-3.6-4.4-3.7-4.3-3.7-4.3-3.8-4.2-3.8-4.2-3.9-4.2-3.9-4.2-4-4.1-4-4.1-4.1-4-4.1-4.1-4.2-4-4.2-3.9-4.3-4-4.3-3.9-4.4-3.9-4.4-3.8-4.5-3.9-4.5-3.8-4.6M359.7 900l4.8-.7 4.7-.7 4.6-.7 4.6-.8 4.5-.7 4.5-.7 4.4-.7 4.4-.7 4.3-.7 4.3-.6 4.2-.7 4.2-.7 4.2-.7 4.1-.7 4-.6 4-.7 4-.7 4-.7 3.8-.6 3.9-.7 3.8-.6 3.8-.7 3.7-.6 3.7-.7 3.7-.6M474 938.2l-4.6-3.3-4.6-3.4-4.5-3.4-4.4-3.5-4.5-3.6-4.3-3.6-4.4-3.6-4.3-3.7-4.3-3.7-4.2-3.8-4.2-3.9-4.2-3.9-4.1-3.9-4.1-4-4.1-4-4.1-4.1-4-4.1-4-4.2-3.9-4.2-4-4.3-3.9-4.3-3.9-4.4-3.8-4.4-3.9-4.4-3.8-4.5M355.5 895.4l4.8-.7 4.7-.7 4.6-.6 4.6-.7 4.5-.6 4.5-.7 4.5-.6 4.3-.7 4.4-.6 4.3-.7 4.2-.6 4.2-.6 4.2-.7 4.1-.6 4-.6 4.1-.7 3.9-.6 4-.6 3.9-.6 3.8-.7 3.9-.6 3.7-.6 3.8-.6 3.7-.6 3.6-.6M478 937.1l-4.6-3.4-4.5-3.3-4.5-3.4-4.5-3.5-4.4-3.5-4.4-3.5-4.3-3.6-4.3-3.7-4.3-3.7-4.2-3.7-4.2-3.8-4.2-3.9-4.1-3.9-4.1-3.9-4.1-4-4-4-4.1-4.1-3.9-4.1-4-4.2-3.9-4.2-3.9-4.3-3.9-4.3-3.9-4.4-3.8-4.4-3.8-4.5M351.4 890.7l4.7-.6 4.7-.6 4.7-.6 4.6-.7 4.5-.6 4.5-.6 4.4-.6 4.4-.5 4.4-.6 4.3-.6 4.2-.6 4.2-.6 4.2-.6 4.1-.6 4.1-.6 4-.6 4-.6 3.9-.5 3.9-.6 3.9-.6 3.8-.6 3.8-.6 3.8-.5 3.7-.6 3.6-.6M482 935.9l-4.6-3.3-4.5-3.3-4.5-3.4-4.5-3.4-4.4-3.5-4.4-3.5-4.3-3.6-4.3-3.6-4.3-3.6-4.2-3.7-4.2-3.8-4.1-3.8-4.2-3.8-4.1-3.9-4-4-4.1-4-4-4-3.9-4.1-4-4.1-3.9-4.2-3.9-4.2-3.9-4.3-3.8-4.3-3.9-4.4-3.8-4.4M347.2 885.9l4.8-.5 4.7-.6 4.7-.5 4.6-.6 4.5-.5 4.5-.6 4.5-.5 4.3-.6 4.4-.5 4.3-.6 4.3-.5 4.2-.5 4.1-.6 4.2-.5 4-.6 4.1-.5 4-.6 3.9-.5 3.9-.5 3.9-.6 3.8-.5 3.8-.6 3.8-.5 3.7-.5 3.7-.6M485.9 934.7l-4.6-3.2-4.5-3.3-4.5-3.3-4.4-3.4-4.4-3.5-4.4-3.4-4.3-3.6-4.3-3.5-4.3-3.7-4.2-3.6-4.2-3.8-4.1-3.7-4.2-3.8-4-3.9-4.1-3.9-4-3.9-4-4-4-4-3.9-4.1-4-4.2-3.8-4.1-3.9-4.2-3.9-4.3-3.8-4.3-3.8-4.4M343.1 881.1l4.8-.5 4.7-.5 4.7-.5 4.6-.5 4.5-.5 4.5-.4 4.5-.5 4.4-.5 4.4-.5 4.3-.5 4.2-.5 4.2-.5 4.2-.5 4.1-.5 4.1-.5 4.1-.5 4-.5 3.9-.5 3.9-.5 3.9-.5 3.9-.5 3.8-.5 3.7-.5 3.7-.5 3.7-.5M489.8 933.6l-4.6-3.2-4.5-3.3-4.5-3.3-4.4-3.3-4.4-3.4-4.4-3.5-4.3-3.5-4.3-3.5-4.2-3.6-4.2-3.6-4.2-3.7-4.2-3.7-4.1-3.8-4.1-3.8-4-3.9-4-3.9-4-3.9-4-4-3.9-4-3.9-4.1-3.9-4.1-3.9-4.2-3.8-4.2-3.8-4.3-3.8-4.3M339.1 876.3l4.7-.5 4.8-.4 4.6-.5 4.6-.4 4.6-.4 4.5-.5 4.5-.4 4.4-.5 4.3-.4 4.4-.4 4.2-.5 4.2-.4 4.2-.5 4.2-.4 4.1-.5 4-.4 4-.5 4-.5 3.9-.4 3.9-.5 3.8-.4 3.8-.5 3.8-.4 3.7-.5 3.7-.5M493.6 932.4l-4.5-3.1-4.5-3.3-4.5-3.2-4.4-3.4-4.4-3.3-4.4-3.4-4.3-3.5-4.3-3.5-4.2-3.5-4.2-3.6-4.2-3.6-4.1-3.7-4.1-3.8-4.1-3.7-4.1-3.8-4-3.9-4-3.9-3.9-4-4-3.9-3.9-4.1-3.8-4.1-3.9-4.1-3.8-4.2-3.8-4.2-3.8-4.2M335 871.3l4.8-.3 4.7-.4 4.7-.4 4.6-.4 4.6-.4 4.5-.4 4.5-.3 4.4-.4 4.3-.4 4.4-.4 4.2-.4 4.3-.4 4.2-.4 4.1-.4 4.1-.4 4.1-.4 4-.4 3.9-.4 4-.5 3.9-.4 3.8-.4 3.8-.4 3.8-.4 3.7-.4 3.7-.5M497.4 931.3l-4.5-3.1-4.5-3.2-4.5-3.3-4.4-3.2-4.4-3.4-4.3-3.3-4.3-3.5-4.3-3.4-4.2-3.5-4.2-3.6-4.2-3.6-4.2-3.6-4.1-3.7-4-3.7-4.1-3.8-4-3.8-4-3.9-3.9-3.9-3.9-4-3.9-3.9-3.9-4.1-3.8-4.1-3.9-4.1-3.8-4.2-3.7-4.2M331 866.4l4.8-.4 4.7-.3 4.7-.3 4.6-.3 4.6-.4 4.5-.3 4.5-.3 4.4-.4 4.4-.3 4.3-.3 4.3-.4 4.2-.3 4.2-.4 4.2-.3 4.1-.4 4-.4 4.1-.3 3.9-.4 4-.3 3.9-.4 3.8-.4 3.8-.4 3.8-.3 3.8-.4 3.7-.4M501.2 930.2l-4.5-3.1-4.5-3.2-4.5-3.2-4.4-3.2-4.4-3.3-4.3-3.4-4.3-3.3-4.3-3.5-4.2-3.4-4.2-3.6-4.2-3.5-4.1-3.6-4.1-3.7-4.1-3.7-4-3.7-4-3.8-4-3.8-3.9-3.9-3.9-3.9-3.9-3.9-3.9-4-3.8-4-3.8-4.1-3.8-4.1-3.8-4.2M327 861.3l4.8-.2 4.7-.3 4.7-.3 4.6-.2 4.6-.3 4.6-.3 4.4-.2 4.5-.3 4.4-.3 4.3-.3 4.3-.3 4.2-.3 4.2-.3 4.2-.3 4.1-.3 4.1-.3 4-.3 4-.4 3.9-.3 3.9-.3 3.9-.3 3.8-.4 3.8-.3 3.7-.3 3.7-.4M504.9 929.1l-4.5-3.1-4.5-3.1-4.5-3.2-4.4-3.2-4.3-3.3-4.4-3.3-4.3-3.3-4.2-3.4-4.2-3.5-4.2-3.4-4.2-3.6-4.1-3.5-4.1-3.6-4-3.7-4.1-3.7-4-3.7-3.9-3.8-4-3.8-3.9-3.9-3.9-3.9-3.8-3.9-3.9-4-3.8-4.1-3.7-4-3.8-4.1M323 856.2l4.8-.2 4.8-.2 4.7-.2 4.6-.2 4.6-.2 4.5-.2 4.5-.2 4.4-.3 4.4-.2 4.4-.2 4.3-.3 4.2-.2 4.2-.3 4.2-.2 4.1-.3 4.1-.2 4-.3 4-.3 4-.3 3.9-.2 3.8-.3 3.9-.3 3.8-.3 3.7-.3 3.7-.3M508.6 928l-4.5-3.1-4.5-3-4.4-3.2-4.4-3.2-4.4-3.2-4.3-3.3-4.3-3.3-4.3-3.4-4.2-3.4-4.2-3.4-4.1-3.5-4.1-3.5-4.1-3.6-4.1-3.6-4-3.7-4-3.7-3.9-3.7-4-3.8-3.9-3.8-3.9-3.9-3.8-3.9-3.8-3.9-3.8-4-3.8-4-3.8-4.1M319.1 851.1l4.8-.2 4.7-.1 4.7-.1 4.7-.2 4.6-.1 4.5-.2 4.5-.2 4.5-.1 4.4-.2 4.3-.2 4.3-.2 4.3-.2 4.2-.2 4.1-.2 4.2-.2 4-.2 4.1-.2 4-.3 3.9-.2 4-.2 3.8-.3 3.9-.2 3.8-.3 3.7-.2 3.8-.3M512.2 926.9l-4.5-3-4.4-3.1-4.5-3.1-4.4-3.1-4.3-3.2-4.3-3.3-4.3-3.3-4.3-3.3-4.2-3.4-4.2-3.4-4.1-3.4-4.1-3.5-4.1-3.5-4-3.6-4-3.6-4-3.7-4-3.7-3.9-3.7-3.9-3.8-3.9-3.8-3.8-3.9-3.8-3.9-3.8-4-3.8-3.9-3.7-4.1M315.1 845.9l4.8-.1 4.8-.1 4.7-.1 4.7 0 4.6-.1 4.5-.1 4.5-.1 4.5-.2 4.4-.1 4.3-.1 4.4-.2 4.2-.1 4.2-.1 4.2-.2 4.1-.2 4.1-.1 4.1-.2 4-.2 3.9-.2 4-.1 3.9-.2 3.8-.2 3.8-.2 3.8-.2 3.7-.3M515.8 925.9l-4.5-3-4.4-3.1-4.5-3.1-4.3-3.1-4.4-3.2-4.3-3.2-4.3-3.2-4.2-3.3-4.2-3.3-4.2-3.4-4.1-3.4-4.1-3.5-4.1-3.5-4-3.5-4-3.6-4-3.6-4-3.7-3.9-3.7-3.9-3.7-3.8-3.8-3.9-3.8-3.8-3.9-3.8-3.9-3.7-3.9-3.8-4M311.2 840.6l4.8 0 4.8 0 4.7 0 4.7-.1 4.6 0 4.6 0 4.5-.1 4.4 0 4.4-.1 4.4-.1 4.3-.1 4.3-.1 4.2 0 4.2-.2 4.1-.1 4.1-.1 4.1-.1 4-.1 4-.2 3.9-.1 3.9-.1 3.8-.2 3.9-.2 3.7-.1 3.8-.2M519.4 924.8l-4.5-3-4.4-3-4.5-3-4.3-3.1-4.4-3.2-4.3-3.1-4.3-3.3-4.2-3.2-4.2-3.3-4.1-3.4-4.2-3.4-4.1-3.4-4-3.4-4.1-3.5-4-3.6-3.9-3.6-4-3.6-3.9-3.7-3.9-3.7-3.8-3.7-3.9-3.8-3.8-3.8-3.7-3.9-3.8-3.9-3.7-3.9" fill="none" stroke="#000" stroke-opacity="0.55" stroke-width="0.4"/>
<circle cx="417.2" cy="889.1" r="2.35" fill="#e2121c"/>
<circle cx="519.6" cy="924.8" r="2.35" fill="#e2121c"/>
<circle cx="417.3" cy="956.1" r="2.35" fill="#e2121c"/>
<path d="M309.7 826.3h1.9v1.9h-1.9zM310.5 843.6h1.9v1.9h-1.9zM311.4 861.2h1.9v1.9h-1.9zM312.2 878.5h1.9v1.9h-1.9zM313 895.8h1.9v1.9h-1.9zM313.8 913.1h1.9v1.9h-1.9zM314.7 930.6h1.9v1.9h-1.9zM416.2 1011.2h1.9v1.9h-1.9zM436.3 1001.7h1.9v1.9h-1.9zM396.2 1001.8h1.9v1.9h-1.9zM456.3 992.2h1.9v1.9h-1.9zM376.2 992.2h1.9v1.9h-1.9zM476.4 982.7h1.9v1.9h-1.9zM356.2 982.8h1.9v1.9h-1.9zM496.4 973.2h1.9v1.9h-1.9zM336.2 973.2h1.9v1.9h-1.9zM516.4 963.6h1.9v1.9h-1.9zM316.2 963.8h1.9v1.9h-1.9z" fill="#111"/>
<g font-size="7.05" fill="#333"><text x="306.8" y="825.8" text-anchor="end" font-size="6.7">8</text><text x="307.7" y="843.1" text-anchor="end" font-size="6.7">7</text><text x="308.5" y="860.7" text-anchor="end" font-size="6.7">6</text><text x="309.3" y="878" text-anchor="end" font-size="6.7">5</text><text x="310.2" y="895.3" text-anchor="end" font-size="6.7">4</text><text x="311" y="912.6" text-anchor="end" font-size="6.7">3</text><text x="311.8" y="930.1" text-anchor="end" font-size="6.7">2</text><text x="421.9" y="1020.3" text-anchor="middle" font-size="6.7">5</text><text x="441.9" y="1010.8" text-anchor="middle" font-size="6.7">6</text><text x="461.9" y="1001.3" text-anchor="middle" font-size="6.7">7</text><text x="482" y="991.7" text-anchor="middle" font-size="6.7">8</text><text x="502" y="982.2" text-anchor="middle" font-size="6.7">9</text><text x="525.4" y="972.7" text-anchor="middle" font-size="6.7">10</text><text x="406.9" y="1020" text-anchor="middle" font-size="6.7">10</text><text x="386.9" y="1010.5" text-anchor="middle" font-size="6.7">12</text><text x="366.9" y="1001" text-anchor="middle" font-size="6.7">14</text><text x="346.9" y="991.5" text-anchor="middle" font-size="6.7">16</text><text x="326.9" y="982" text-anchor="middle" font-size="6.7">18</text><text x="306.9" y="972.5" text-anchor="middle" font-size="6.7">20</text><text x="506.1" y="1010.1" text-anchor="middle">B: T 60 Conc. (mg/mL)</text><text x="328" y="1010.2" text-anchor="middle">C: FMT Amount (mg)</text><text transform="translate(280 897.6) rotate(-90)" text-anchor="middle" font-size="7.05">DL (%)</text></g>
<text x="417" y="1046.8" text-anchor="middle" font-family="'Liberation Serif',serif" font-weight="bold" font-size="22.5" letter-spacing="0.2" fill="#111">(h)</text></g>
</svg></body></html>
